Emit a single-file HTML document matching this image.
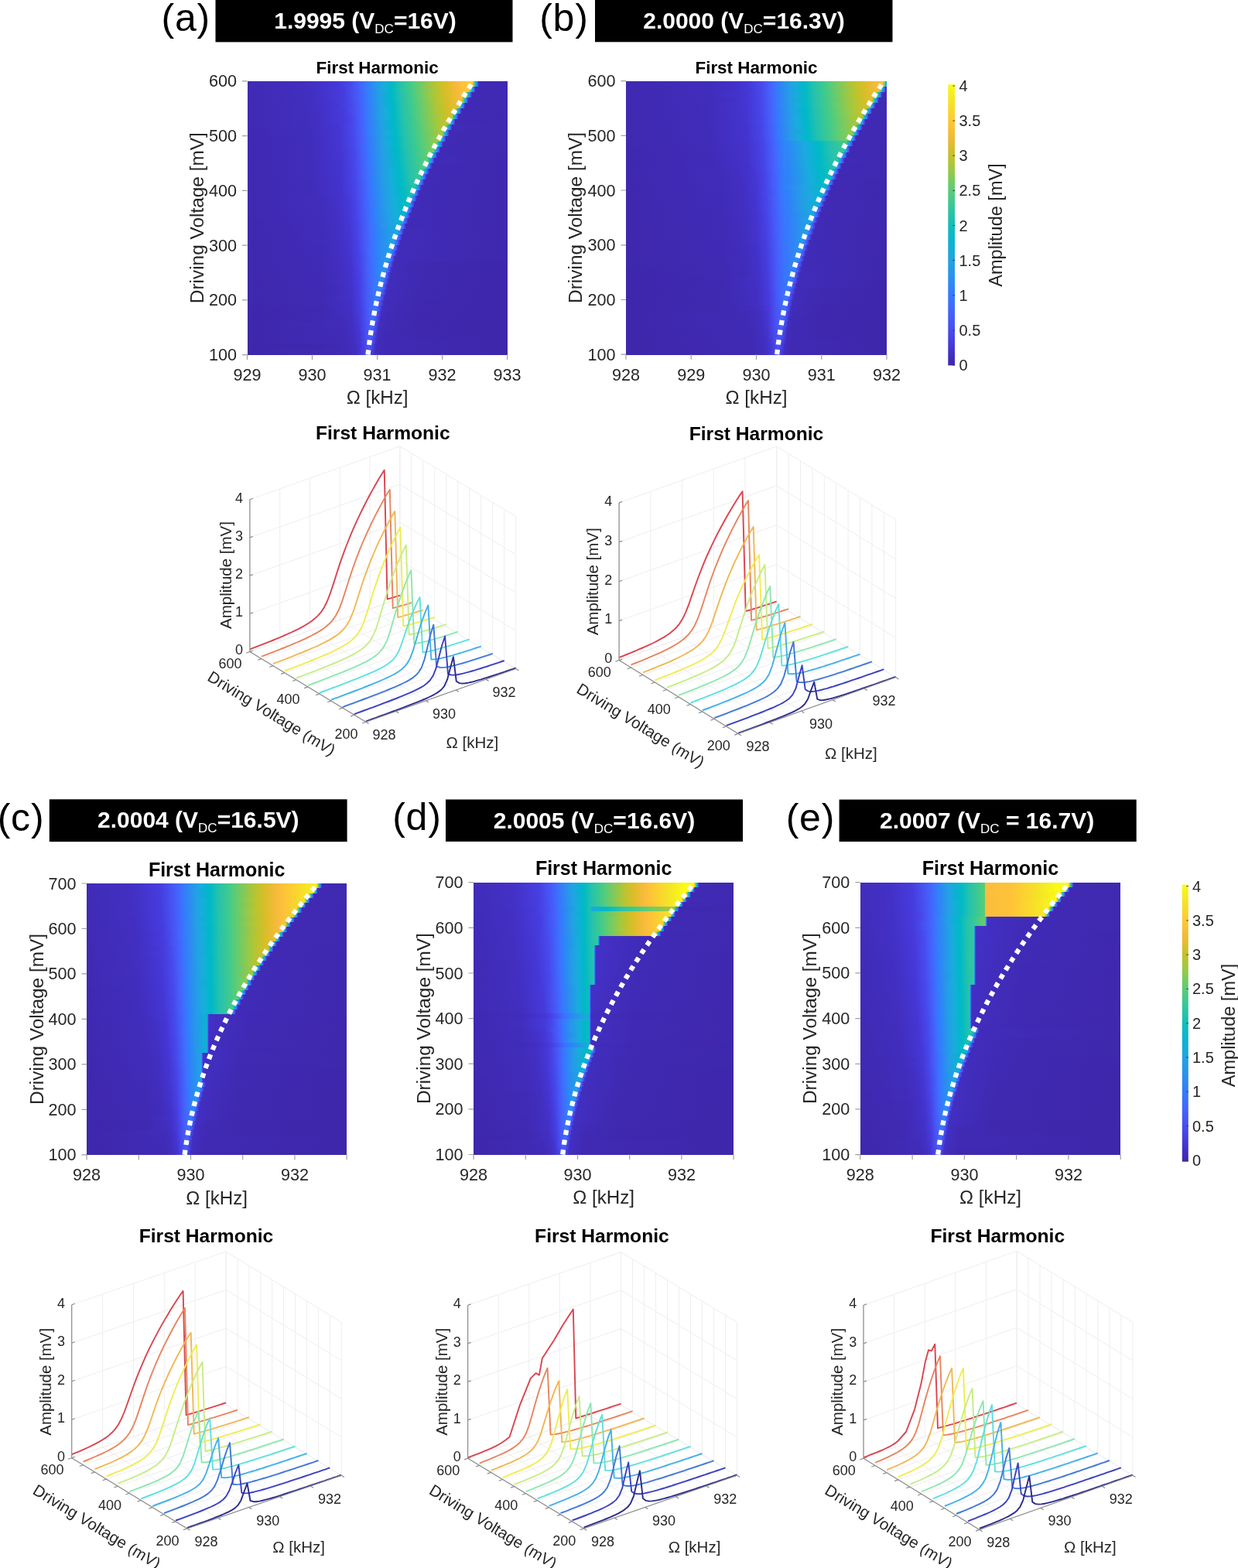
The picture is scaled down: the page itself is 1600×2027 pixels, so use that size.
<!DOCTYPE html><html><head><meta charset="utf-8"><title>First Harmonic</title><style>html,body{margin:0;padding:0;background:#fff;width:1600px;height:2027px;overflow:hidden}svg{display:block}</style></head><body><svg width="1600" height="2027" viewBox="0 0 1600 2027" font-family="'Liberation Sans', Arial, Helvetica, sans-serif" fill="#262626"><defs><linearGradient id="ha0"><stop offset="0.000" stop-color="#402ab4"/><stop offset="0.227" stop-color="#422ebf"/><stop offset="0.345" stop-color="#4537d6"/><stop offset="0.400" stop-color="#4849ed"/><stop offset="0.435" stop-color="#4563fd"/><stop offset="0.452" stop-color="#3974fe"/><stop offset="0.505" stop-color="#23a0e5"/><stop offset="0.528" stop-color="#17aeda"/><stop offset="0.550" stop-color="#01b8ca"/><stop offset="0.558" stop-color="#02bac4"/><stop offset="0.585" stop-color="#24c1ae"/><stop offset="0.623" stop-color="#3eca8f"/><stop offset="0.645" stop-color="#58cc79"/><stop offset="0.725" stop-color="#b9c431"/><stop offset="0.762" stop-color="#dbbd29"/><stop offset="0.803" stop-color="#f7ba3c"/><stop offset="0.820" stop-color="#febe3c"/><stop offset="0.865" stop-color="#fcd030"/><stop offset="0.868" stop-color="#f9ba3d"/><stop offset="0.870" stop-color="#c0c32d"/><stop offset="0.873" stop-color="#73cd63"/><stop offset="0.875" stop-color="#35c79b"/><stop offset="0.877" stop-color="#02bbc3"/><stop offset="0.880" stop-color="#1ea7e1"/><stop offset="0.885" stop-color="#406cfe"/><stop offset="0.887" stop-color="#484df0"/><stop offset="0.890" stop-color="#4330c5"/><stop offset="0.893" stop-color="#402ab5"/><stop offset="1.000" stop-color="#3f29b2"/></linearGradient><linearGradient id="ha1"><stop offset="0.000" stop-color="#402ab4"/><stop offset="0.245" stop-color="#422fc1"/><stop offset="0.368" stop-color="#463bde"/><stop offset="0.428" stop-color="#475cfa"/><stop offset="0.452" stop-color="#3a74fe"/><stop offset="0.465" stop-color="#3080fa"/><stop offset="0.507" stop-color="#22a1e4"/><stop offset="0.528" stop-color="#18addb"/><stop offset="0.550" stop-color="#02b7cb"/><stop offset="0.560" stop-color="#02bbc3"/><stop offset="0.588" stop-color="#25c2ae"/><stop offset="0.625" stop-color="#3fca8e"/><stop offset="0.645" stop-color="#55cc7c"/><stop offset="0.718" stop-color="#adc638"/><stop offset="0.752" stop-color="#d0bf27"/><stop offset="0.780" stop-color="#e6bb2d"/><stop offset="0.810" stop-color="#f9ba3d"/><stop offset="0.850" stop-color="#fec834"/><stop offset="0.852" stop-color="#fec239"/><stop offset="0.855" stop-color="#d5be28"/><stop offset="0.857" stop-color="#8fcb4e"/><stop offset="0.860" stop-color="#46cb88"/><stop offset="0.863" stop-color="#1bc0b4"/><stop offset="0.865" stop-color="#13b1d7"/><stop offset="0.870" stop-color="#327cfc"/><stop offset="0.873" stop-color="#475cfa"/><stop offset="0.875" stop-color="#463de0"/><stop offset="0.877" stop-color="#402ab5"/><stop offset="1.000" stop-color="#3f29b2"/></linearGradient><linearGradient id="ha2"><stop offset="0.000" stop-color="#402ab4"/><stop offset="0.245" stop-color="#422fc0"/><stop offset="0.368" stop-color="#463bdd"/><stop offset="0.430" stop-color="#465dfa"/><stop offset="0.455" stop-color="#3875fe"/><stop offset="0.510" stop-color="#22a2e4"/><stop offset="0.553" stop-color="#01b8ca"/><stop offset="0.560" stop-color="#02bac4"/><stop offset="0.588" stop-color="#23c1af"/><stop offset="0.627" stop-color="#3fca8e"/><stop offset="0.660" stop-color="#64cd6f"/><stop offset="0.708" stop-color="#9ec942"/><stop offset="0.740" stop-color="#c1c32c"/><stop offset="0.770" stop-color="#dbbd29"/><stop offset="0.812" stop-color="#f8ba3d"/><stop offset="0.838" stop-color="#fec239"/><stop offset="0.840" stop-color="#ecba32"/><stop offset="0.843" stop-color="#b0c636"/><stop offset="0.845" stop-color="#65cd6e"/><stop offset="0.847" stop-color="#30c5a1"/><stop offset="0.850" stop-color="#01b9c6"/><stop offset="0.852" stop-color="#1fa6e2"/><stop offset="0.857" stop-color="#3f6efe"/><stop offset="0.860" stop-color="#484ff2"/><stop offset="0.863" stop-color="#4433cd"/><stop offset="0.865" stop-color="#402ab5"/><stop offset="1.000" stop-color="#3f29b2"/></linearGradient><linearGradient id="ha3"><stop offset="0.000" stop-color="#402ab4"/><stop offset="0.248" stop-color="#422fc0"/><stop offset="0.368" stop-color="#463bdc"/><stop offset="0.430" stop-color="#475cfa"/><stop offset="0.455" stop-color="#3974fe"/><stop offset="0.510" stop-color="#22a1e4"/><stop offset="0.555" stop-color="#01b8ca"/><stop offset="0.562" stop-color="#02bac4"/><stop offset="0.590" stop-color="#24c1af"/><stop offset="0.630" stop-color="#3fca8e"/><stop offset="0.650" stop-color="#55cc7c"/><stop offset="0.722" stop-color="#acc739"/><stop offset="0.748" stop-color="#c5c22a"/><stop offset="0.775" stop-color="#dcbd29"/><stop offset="0.825" stop-color="#fbbc3d"/><stop offset="0.827" stop-color="#d1bf27"/><stop offset="0.830" stop-color="#8dcb4f"/><stop offset="0.833" stop-color="#47cb87"/><stop offset="0.835" stop-color="#1fc0b1"/><stop offset="0.838" stop-color="#0db3d4"/><stop offset="0.840" stop-color="#259de7"/><stop offset="0.843" stop-color="#2f82f9"/><stop offset="0.845" stop-color="#4563fd"/><stop offset="0.847" stop-color="#4746ea"/><stop offset="0.850" stop-color="#412dbc"/><stop offset="0.852" stop-color="#402ab5"/><stop offset="1.000" stop-color="#3f29b2"/></linearGradient><linearGradient id="ha4"><stop offset="0.000" stop-color="#402ab3"/><stop offset="0.235" stop-color="#422ebe"/><stop offset="0.350" stop-color="#4537d5"/><stop offset="0.405" stop-color="#484aed"/><stop offset="0.438" stop-color="#4562fc"/><stop offset="0.458" stop-color="#3876fe"/><stop offset="0.515" stop-color="#20a4e3"/><stop offset="0.555" stop-color="#02b7cb"/><stop offset="0.565" stop-color="#02bbc3"/><stop offset="0.593" stop-color="#24c1ae"/><stop offset="0.632" stop-color="#3fca8e"/><stop offset="0.653" stop-color="#55cc7c"/><stop offset="0.727" stop-color="#adc638"/><stop offset="0.765" stop-color="#d1bf27"/><stop offset="0.792" stop-color="#e6bb2d"/><stop offset="0.812" stop-color="#eeba34"/><stop offset="0.815" stop-color="#b6c532"/><stop offset="0.817" stop-color="#6fcd66"/><stop offset="0.820" stop-color="#36c899"/><stop offset="0.822" stop-color="#09bcbe"/><stop offset="0.825" stop-color="#19acdc"/><stop offset="0.830" stop-color="#347afd"/><stop offset="0.833" stop-color="#475cfa"/><stop offset="0.835" stop-color="#4740e3"/><stop offset="0.838" stop-color="#402ab5"/><stop offset="1.000" stop-color="#3f29b1"/></linearGradient><linearGradient id="ha5"><stop offset="0.000" stop-color="#402ab3"/><stop offset="0.250" stop-color="#422ec0"/><stop offset="0.370" stop-color="#463adc"/><stop offset="0.433" stop-color="#465dfa"/><stop offset="0.458" stop-color="#3975fe"/><stop offset="0.512" stop-color="#22a1e4"/><stop offset="0.532" stop-color="#19addc"/><stop offset="0.558" stop-color="#01b8ca"/><stop offset="0.565" stop-color="#02bac4"/><stop offset="0.595" stop-color="#24c2ae"/><stop offset="0.635" stop-color="#3fca8e"/><stop offset="0.655" stop-color="#55cc7c"/><stop offset="0.730" stop-color="#acc738"/><stop offset="0.768" stop-color="#d0bf27"/><stop offset="0.795" stop-color="#e5bb2d"/><stop offset="0.798" stop-color="#e7bb2e"/><stop offset="0.800" stop-color="#debd29"/><stop offset="0.803" stop-color="#a1c840"/><stop offset="0.805" stop-color="#5ccc76"/><stop offset="0.808" stop-color="#2ec5a3"/><stop offset="0.810" stop-color="#01b9c6"/><stop offset="0.812" stop-color="#1da8e0"/><stop offset="0.817" stop-color="#3975fe"/><stop offset="0.820" stop-color="#4758f8"/><stop offset="0.822" stop-color="#463cdf"/><stop offset="0.825" stop-color="#402ab5"/><stop offset="1.000" stop-color="#3f29b1"/></linearGradient><linearGradient id="ha6"><stop offset="0.000" stop-color="#402ab3"/><stop offset="0.252" stop-color="#422ebf"/><stop offset="0.370" stop-color="#463adb"/><stop offset="0.403" stop-color="#4747eb"/><stop offset="0.433" stop-color="#475cfa"/><stop offset="0.458" stop-color="#3a74fe"/><stop offset="0.512" stop-color="#23a1e5"/><stop offset="0.535" stop-color="#18aedb"/><stop offset="0.558" stop-color="#02b7cb"/><stop offset="0.567" stop-color="#02bac4"/><stop offset="0.597" stop-color="#25c2ae"/><stop offset="0.637" stop-color="#3fca8e"/><stop offset="0.657" stop-color="#55cc7c"/><stop offset="0.732" stop-color="#abc739"/><stop offset="0.760" stop-color="#c6c22a"/><stop offset="0.785" stop-color="#dbbd28"/><stop offset="0.787" stop-color="#d1bf27"/><stop offset="0.790" stop-color="#92ca4c"/><stop offset="0.792" stop-color="#4fcc80"/><stop offset="0.798" stop-color="#02b7cb"/><stop offset="0.800" stop-color="#20a5e2"/><stop offset="0.805" stop-color="#3b72fe"/><stop offset="0.808" stop-color="#4756f7"/><stop offset="0.810" stop-color="#463bde"/><stop offset="0.812" stop-color="#402ab5"/><stop offset="1.000" stop-color="#3f29b1"/></linearGradient><linearGradient id="ha7"><stop offset="0.000" stop-color="#402ab3"/><stop offset="0.252" stop-color="#422ebf"/><stop offset="0.370" stop-color="#463ada"/><stop offset="0.403" stop-color="#4746ea"/><stop offset="0.435" stop-color="#465dfb"/><stop offset="0.460" stop-color="#3876fe"/><stop offset="0.518" stop-color="#21a3e3"/><stop offset="0.560" stop-color="#02b7cb"/><stop offset="0.570" stop-color="#02bac3"/><stop offset="0.597" stop-color="#23c1af"/><stop offset="0.640" stop-color="#3fca8e"/><stop offset="0.673" stop-color="#62cd70"/><stop offset="0.735" stop-color="#aac73a"/><stop offset="0.773" stop-color="#cdc028"/><stop offset="0.775" stop-color="#c7c12a"/><stop offset="0.778" stop-color="#88cb53"/><stop offset="0.780" stop-color="#48cb86"/><stop offset="0.785" stop-color="#04b6cd"/><stop offset="0.787" stop-color="#20a4e3"/><stop offset="0.792" stop-color="#3b73fe"/><stop offset="0.795" stop-color="#4757f7"/><stop offset="0.798" stop-color="#463de0"/><stop offset="0.800" stop-color="#402ab5"/><stop offset="1.000" stop-color="#3f29b1"/></linearGradient><linearGradient id="ha8"><stop offset="0.000" stop-color="#402ab3"/><stop offset="0.240" stop-color="#412ebd"/><stop offset="0.355" stop-color="#4536d4"/><stop offset="0.407" stop-color="#4848ec"/><stop offset="0.442" stop-color="#4563fd"/><stop offset="0.460" stop-color="#3975fe"/><stop offset="0.515" stop-color="#23a0e5"/><stop offset="0.570" stop-color="#02bac5"/><stop offset="0.600" stop-color="#23c1af"/><stop offset="0.643" stop-color="#3fca8e"/><stop offset="0.670" stop-color="#5ccc76"/><stop offset="0.727" stop-color="#9ec942"/><stop offset="0.762" stop-color="#c1c32c"/><stop offset="0.765" stop-color="#86cb54"/><stop offset="0.768" stop-color="#48cb86"/><stop offset="0.773" stop-color="#03b7cc"/><stop offset="0.775" stop-color="#1fa6e2"/><stop offset="0.780" stop-color="#3876fe"/><stop offset="0.782" stop-color="#475bf9"/><stop offset="0.785" stop-color="#4741e5"/><stop offset="0.787" stop-color="#412cb9"/><stop offset="1.000" stop-color="#3f29b0"/></linearGradient><linearGradient id="ha9"><stop offset="0.000" stop-color="#4029b2"/><stop offset="0.243" stop-color="#412dbd"/><stop offset="0.357" stop-color="#4536d4"/><stop offset="0.407" stop-color="#4848ec"/><stop offset="0.442" stop-color="#4563fc"/><stop offset="0.460" stop-color="#3a74fe"/><stop offset="0.475" stop-color="#2f82fa"/><stop offset="0.518" stop-color="#22a1e4"/><stop offset="0.540" stop-color="#18aedb"/><stop offset="0.565" stop-color="#01b8ca"/><stop offset="0.572" stop-color="#02bac4"/><stop offset="0.602" stop-color="#24c1af"/><stop offset="0.645" stop-color="#3fca8e"/><stop offset="0.667" stop-color="#56cc7b"/><stop offset="0.750" stop-color="#b1c635"/><stop offset="0.752" stop-color="#88cb53"/><stop offset="0.755" stop-color="#4bcb84"/><stop offset="0.760" stop-color="#01b8c9"/><stop offset="0.762" stop-color="#1da8e0"/><stop offset="0.768" stop-color="#337bfc"/><stop offset="0.770" stop-color="#4660fc"/><stop offset="0.773" stop-color="#4747eb"/><stop offset="0.775" stop-color="#4331c6"/><stop offset="0.778" stop-color="#402bb6"/><stop offset="1.000" stop-color="#3f29b0"/></linearGradient><linearGradient id="ha10"><stop offset="0.000" stop-color="#3f29b2"/><stop offset="0.243" stop-color="#412dbd"/><stop offset="0.357" stop-color="#4536d3"/><stop offset="0.410" stop-color="#4848ec"/><stop offset="0.442" stop-color="#4562fc"/><stop offset="0.463" stop-color="#3875fe"/><stop offset="0.520" stop-color="#22a2e4"/><stop offset="0.565" stop-color="#02b7cb"/><stop offset="0.575" stop-color="#02bac4"/><stop offset="0.605" stop-color="#24c1af"/><stop offset="0.648" stop-color="#3fca8e"/><stop offset="0.685" stop-color="#66cd6d"/><stop offset="0.738" stop-color="#a0c840"/><stop offset="0.740" stop-color="#8ecb4f"/><stop offset="0.743" stop-color="#52cc7e"/><stop offset="0.748" stop-color="#02bac3"/><stop offset="0.750" stop-color="#1aacdd"/><stop offset="0.755" stop-color="#2f82fa"/><stop offset="0.757" stop-color="#4368fd"/><stop offset="0.760" stop-color="#484ff2"/><stop offset="0.762" stop-color="#4537d6"/><stop offset="0.765" stop-color="#402bb6"/><stop offset="1.000" stop-color="#3f29b0"/></linearGradient><linearGradient id="ha11"><stop offset="0.000" stop-color="#3f29b2"/><stop offset="0.243" stop-color="#412dbc"/><stop offset="0.357" stop-color="#4536d3"/><stop offset="0.410" stop-color="#4848ec"/><stop offset="0.445" stop-color="#4563fd"/><stop offset="0.463" stop-color="#3974fe"/><stop offset="0.520" stop-color="#23a1e4"/><stop offset="0.542" stop-color="#18addb"/><stop offset="0.567" stop-color="#02b7cb"/><stop offset="0.577" stop-color="#02bac4"/><stop offset="0.607" stop-color="#24c1ae"/><stop offset="0.650" stop-color="#3eca8f"/><stop offset="0.688" stop-color="#65cd6e"/><stop offset="0.727" stop-color="#92ca4c"/><stop offset="0.730" stop-color="#5ecd74"/><stop offset="0.735" stop-color="#0ebdbb"/><stop offset="0.738" stop-color="#12b1d6"/><stop offset="0.745" stop-color="#3c71ff"/><stop offset="0.748" stop-color="#4759f8"/><stop offset="0.750" stop-color="#4741e5"/><stop offset="0.752" stop-color="#412dbd"/><stop offset="0.755" stop-color="#402bb6"/><stop offset="1.000" stop-color="#3f29b0"/></linearGradient><linearGradient id="ha12"><stop offset="0.000" stop-color="#3f29b2"/><stop offset="0.245" stop-color="#412dbc"/><stop offset="0.360" stop-color="#4536d3"/><stop offset="0.410" stop-color="#4747eb"/><stop offset="0.445" stop-color="#4562fc"/><stop offset="0.465" stop-color="#3876fe"/><stop offset="0.525" stop-color="#21a3e3"/><stop offset="0.570" stop-color="#01b7ca"/><stop offset="0.580" stop-color="#02bac3"/><stop offset="0.610" stop-color="#24c1ae"/><stop offset="0.653" stop-color="#3eca8f"/><stop offset="0.690" stop-color="#64cd6f"/><stop offset="0.715" stop-color="#80cc5a"/><stop offset="0.718" stop-color="#6dcd67"/><stop offset="0.720" stop-color="#3cc992"/><stop offset="0.725" stop-color="#05b6cd"/><stop offset="0.727" stop-color="#1fa6e1"/><stop offset="0.732" stop-color="#317dfc"/><stop offset="0.735" stop-color="#4464fd"/><stop offset="0.738" stop-color="#484df0"/><stop offset="0.740" stop-color="#4537d5"/><stop offset="0.743" stop-color="#402bb6"/><stop offset="1.000" stop-color="#3f29b0"/></linearGradient><linearGradient id="ha13"><stop offset="0.000" stop-color="#3f29b2"/><stop offset="0.245" stop-color="#412dbc"/><stop offset="0.360" stop-color="#4535d2"/><stop offset="0.410" stop-color="#4746ea"/><stop offset="0.445" stop-color="#4561fc"/><stop offset="0.465" stop-color="#3975fe"/><stop offset="0.525" stop-color="#22a2e4"/><stop offset="0.572" stop-color="#01b8ca"/><stop offset="0.583" stop-color="#02bbc3"/><stop offset="0.613" stop-color="#24c1ae"/><stop offset="0.657" stop-color="#3fca8e"/><stop offset="0.695" stop-color="#65cd6e"/><stop offset="0.705" stop-color="#70cd65"/><stop offset="0.710" stop-color="#2dc4a5"/><stop offset="0.713" stop-color="#04bbc1"/><stop offset="0.715" stop-color="#16afda"/><stop offset="0.722" stop-color="#3c72ff"/><stop offset="0.725" stop-color="#475af9"/><stop offset="0.727" stop-color="#4744e8"/><stop offset="0.730" stop-color="#4330c5"/><stop offset="0.732" stop-color="#402bb6"/><stop offset="1.000" stop-color="#3f29af"/></linearGradient><linearGradient id="ha14"><stop offset="0.000" stop-color="#3f29b1"/><stop offset="0.245" stop-color="#412dbb"/><stop offset="0.360" stop-color="#4435d1"/><stop offset="0.410" stop-color="#4745ea"/><stop offset="0.442" stop-color="#465efb"/><stop offset="0.465" stop-color="#3a73fe"/><stop offset="0.480" stop-color="#2f81fa"/><stop offset="0.523" stop-color="#23a0e5"/><stop offset="0.583" stop-color="#02bac5"/><stop offset="0.615" stop-color="#24c1af"/><stop offset="0.660" stop-color="#3fca8e"/><stop offset="0.695" stop-color="#61cd71"/><stop offset="0.697" stop-color="#38c895"/><stop offset="0.702" stop-color="#05b6cd"/><stop offset="0.705" stop-color="#1ea7e1"/><stop offset="0.710" stop-color="#2f81fa"/><stop offset="0.713" stop-color="#4269fe"/><stop offset="0.715" stop-color="#4853f5"/><stop offset="0.718" stop-color="#463de0"/><stop offset="0.720" stop-color="#412cb9"/><stop offset="1.000" stop-color="#3f28af"/></linearGradient><linearGradient id="ha15"><stop offset="0.000" stop-color="#3f29b1"/><stop offset="0.250" stop-color="#412dbc"/><stop offset="0.363" stop-color="#4435d1"/><stop offset="0.412" stop-color="#4746ea"/><stop offset="0.447" stop-color="#4562fc"/><stop offset="0.468" stop-color="#3975fe"/><stop offset="0.525" stop-color="#23a0e5"/><stop offset="0.585" stop-color="#02bac4"/><stop offset="0.618" stop-color="#24c1af"/><stop offset="0.683" stop-color="#51cc7f"/><stop offset="0.685" stop-color="#4bcb83"/><stop offset="0.690" stop-color="#08bcbf"/><stop offset="0.692" stop-color="#12b1d7"/><stop offset="0.695" stop-color="#23a1e4"/><stop offset="0.700" stop-color="#347afd"/><stop offset="0.702" stop-color="#4563fd"/><stop offset="0.705" stop-color="#484ef1"/><stop offset="0.708" stop-color="#4639da"/><stop offset="0.710" stop-color="#402bb6"/><stop offset="1.000" stop-color="#3f28af"/></linearGradient><linearGradient id="ha16"><stop offset="0.000" stop-color="#3f29b1"/><stop offset="0.250" stop-color="#412dbb"/><stop offset="0.363" stop-color="#4435d0"/><stop offset="0.412" stop-color="#4745e9"/><stop offset="0.445" stop-color="#465ffb"/><stop offset="0.468" stop-color="#3a74fe"/><stop offset="0.520" stop-color="#259ce7"/><stop offset="0.553" stop-color="#17aedb"/><stop offset="0.580" stop-color="#01b8c9"/><stop offset="0.590" stop-color="#03bbc3"/><stop offset="0.623" stop-color="#25c2ad"/><stop offset="0.673" stop-color="#44ca8a"/><stop offset="0.675" stop-color="#3dc991"/><stop offset="0.678" stop-color="#25c2ae"/><stop offset="0.680" stop-color="#01b9c7"/><stop offset="0.683" stop-color="#19addc"/><stop offset="0.690" stop-color="#3875fe"/><stop offset="0.692" stop-color="#4660fb"/><stop offset="0.695" stop-color="#484bef"/><stop offset="0.700" stop-color="#402bb7"/><stop offset="1.000" stop-color="#3f28af"/></linearGradient><linearGradient id="ha17"><stop offset="0.000" stop-color="#3f29b1"/><stop offset="0.250" stop-color="#412dbb"/><stop offset="0.363" stop-color="#4434d0"/><stop offset="0.412" stop-color="#4745e9"/><stop offset="0.445" stop-color="#465efb"/><stop offset="0.465" stop-color="#3d70ff"/><stop offset="0.482" stop-color="#3080fa"/><stop offset="0.520" stop-color="#259be7"/><stop offset="0.553" stop-color="#19addc"/><stop offset="0.583" stop-color="#01b8c9"/><stop offset="0.593" stop-color="#03bbc3"/><stop offset="0.625" stop-color="#25c2ae"/><stop offset="0.662" stop-color="#3ac994"/><stop offset="0.665" stop-color="#35c79a"/><stop offset="0.670" stop-color="#03b7cc"/><stop offset="0.673" stop-color="#1caadf"/><stop offset="0.680" stop-color="#3b73fe"/><stop offset="0.683" stop-color="#465efb"/><stop offset="0.685" stop-color="#484aee"/><stop offset="0.690" stop-color="#402bb7"/><stop offset="1.000" stop-color="#3f28af"/></linearGradient><linearGradient id="ha18"><stop offset="0.000" stop-color="#3f29b1"/><stop offset="0.250" stop-color="#412cba"/><stop offset="0.363" stop-color="#4434cf"/><stop offset="0.412" stop-color="#4744e8"/><stop offset="0.465" stop-color="#3e6fff"/><stop offset="0.485" stop-color="#2f81fa"/><stop offset="0.520" stop-color="#269ae8"/><stop offset="0.555" stop-color="#18addb"/><stop offset="0.585" stop-color="#01b8c9"/><stop offset="0.595" stop-color="#02bbc3"/><stop offset="0.627" stop-color="#24c2ae"/><stop offset="0.653" stop-color="#33c69e"/><stop offset="0.655" stop-color="#31c6a0"/><stop offset="0.657" stop-color="#12beb9"/><stop offset="0.660" stop-color="#07b5cf"/><stop offset="0.662" stop-color="#1da8e0"/><stop offset="0.670" stop-color="#3b73fe"/><stop offset="0.675" stop-color="#484bef"/><stop offset="0.678" stop-color="#4538d8"/><stop offset="0.680" stop-color="#402bb7"/><stop offset="1.000" stop-color="#3f28ae"/></linearGradient><linearGradient id="ha19"><stop offset="0.000" stop-color="#3f29b0"/><stop offset="0.250" stop-color="#412cba"/><stop offset="0.363" stop-color="#4434ce"/><stop offset="0.412" stop-color="#4743e7"/><stop offset="0.447" stop-color="#465efb"/><stop offset="0.468" stop-color="#3d70ff"/><stop offset="0.485" stop-color="#2f80fa"/><stop offset="0.523" stop-color="#259be8"/><stop offset="0.558" stop-color="#18addb"/><stop offset="0.588" stop-color="#01b8c9"/><stop offset="0.597" stop-color="#02bbc3"/><stop offset="0.645" stop-color="#2dc4a5"/><stop offset="0.648" stop-color="#10beba"/><stop offset="0.650" stop-color="#07b5d0"/><stop offset="0.653" stop-color="#1da8e0"/><stop offset="0.660" stop-color="#3974fe"/><stop offset="0.662" stop-color="#4661fc"/><stop offset="0.665" stop-color="#484ef1"/><stop offset="0.667" stop-color="#463bdd"/><stop offset="0.670" stop-color="#412dbb"/><stop offset="0.673" stop-color="#402bb7"/><stop offset="1.000" stop-color="#3f28ae"/></linearGradient><linearGradient id="ha20"><stop offset="0.000" stop-color="#3f29b0"/><stop offset="0.252" stop-color="#412cba"/><stop offset="0.365" stop-color="#4434ce"/><stop offset="0.412" stop-color="#4742e6"/><stop offset="0.447" stop-color="#465dfa"/><stop offset="0.468" stop-color="#3e6fff"/><stop offset="0.488" stop-color="#2f81fa"/><stop offset="0.525" stop-color="#259be7"/><stop offset="0.560" stop-color="#18addb"/><stop offset="0.590" stop-color="#01b8c9"/><stop offset="0.600" stop-color="#02bbc3"/><stop offset="0.635" stop-color="#25c2ad"/><stop offset="0.637" stop-color="#0ebdbb"/><stop offset="0.640" stop-color="#07b5d0"/><stop offset="0.643" stop-color="#1da9e0"/><stop offset="0.650" stop-color="#3677fe"/><stop offset="0.653" stop-color="#4564fd"/><stop offset="0.655" stop-color="#4852f4"/><stop offset="0.657" stop-color="#4740e3"/><stop offset="0.660" stop-color="#4330c5"/><stop offset="0.662" stop-color="#402bb7"/><stop offset="1.000" stop-color="#3f28ae"/></linearGradient><linearGradient id="ha21"><stop offset="0.000" stop-color="#3f29b0"/><stop offset="0.273" stop-color="#412dbb"/><stop offset="0.338" stop-color="#4330c5"/><stop offset="0.385" stop-color="#4537d6"/><stop offset="0.415" stop-color="#4743e7"/><stop offset="0.445" stop-color="#475af9"/><stop offset="0.475" stop-color="#3975fe"/><stop offset="0.528" stop-color="#259ce7"/><stop offset="0.562" stop-color="#18aedb"/><stop offset="0.593" stop-color="#01b8ca"/><stop offset="0.602" stop-color="#02bac3"/><stop offset="0.625" stop-color="#18bfb6"/><stop offset="0.627" stop-color="#0fbeba"/><stop offset="0.630" stop-color="#06b5cf"/><stop offset="0.632" stop-color="#1caadf"/><stop offset="0.640" stop-color="#327bfc"/><stop offset="0.643" stop-color="#4369fe"/><stop offset="0.648" stop-color="#4745ea"/><stop offset="0.653" stop-color="#402bb7"/><stop offset="1.000" stop-color="#3f28ae"/></linearGradient><linearGradient id="ha22"><stop offset="0.000" stop-color="#3f29b0"/><stop offset="0.275" stop-color="#412dbb"/><stop offset="0.340" stop-color="#4330c5"/><stop offset="0.387" stop-color="#4537d6"/><stop offset="0.417" stop-color="#4743e8"/><stop offset="0.450" stop-color="#465dfb"/><stop offset="0.477" stop-color="#3876fe"/><stop offset="0.530" stop-color="#259ce7"/><stop offset="0.565" stop-color="#18aedb"/><stop offset="0.595" stop-color="#01b8ca"/><stop offset="0.618" stop-color="#0cbdbc"/><stop offset="0.620" stop-color="#02b7cb"/><stop offset="0.623" stop-color="#19addc"/><stop offset="0.630" stop-color="#2f81fa"/><stop offset="0.632" stop-color="#3e6fff"/><stop offset="0.637" stop-color="#484df0"/><stop offset="0.640" stop-color="#463cde"/><stop offset="0.643" stop-color="#422ec0"/><stop offset="0.645" stop-color="#402bb7"/><stop offset="1.000" stop-color="#3f28ae"/></linearGradient><linearGradient id="ha23"><stop offset="0.000" stop-color="#3f29b0"/><stop offset="0.278" stop-color="#412cbb"/><stop offset="0.343" stop-color="#4330c5"/><stop offset="0.387" stop-color="#4537d5"/><stop offset="0.415" stop-color="#4741e5"/><stop offset="0.445" stop-color="#4758f8"/><stop offset="0.477" stop-color="#3974fe"/><stop offset="0.493" stop-color="#2f82fa"/><stop offset="0.540" stop-color="#23a1e5"/><stop offset="0.567" stop-color="#18aedb"/><stop offset="0.597" stop-color="#01b8ca"/><stop offset="0.607" stop-color="#02bac4"/><stop offset="0.610" stop-color="#01b9c8"/><stop offset="0.613" stop-color="#15afd9"/><stop offset="0.623" stop-color="#3876fe"/><stop offset="0.625" stop-color="#4465fd"/><stop offset="0.630" stop-color="#4744e8"/><stop offset="0.635" stop-color="#402bb8"/><stop offset="1.000" stop-color="#3f28ae"/></linearGradient><linearGradient id="ha24"><stop offset="0.000" stop-color="#3f29af"/><stop offset="0.280" stop-color="#412cba"/><stop offset="0.345" stop-color="#4330c5"/><stop offset="0.390" stop-color="#4537d5"/><stop offset="0.417" stop-color="#4742e6"/><stop offset="0.447" stop-color="#4759f8"/><stop offset="0.477" stop-color="#3a73fe"/><stop offset="0.493" stop-color="#2f81fa"/><stop offset="0.532" stop-color="#259be7"/><stop offset="0.570" stop-color="#18aedb"/><stop offset="0.600" stop-color="#02b7cb"/><stop offset="0.605" stop-color="#1da8e0"/><stop offset="0.613" stop-color="#317efb"/><stop offset="0.615" stop-color="#3f6dfe"/><stop offset="0.620" stop-color="#484ef1"/><stop offset="0.623" stop-color="#463ee1"/><stop offset="0.625" stop-color="#4331c7"/><stop offset="0.627" stop-color="#402bb8"/><stop offset="1.000" stop-color="#3f28ad"/></linearGradient><linearGradient id="ha25"><stop offset="0.000" stop-color="#3f28af"/><stop offset="0.282" stop-color="#412cba"/><stop offset="0.347" stop-color="#4330c4"/><stop offset="0.393" stop-color="#4537d5"/><stop offset="0.425" stop-color="#4746ea"/><stop offset="0.475" stop-color="#3d70ff"/><stop offset="0.495" stop-color="#2f82fa"/><stop offset="0.528" stop-color="#2797ea"/><stop offset="0.572" stop-color="#18addb"/><stop offset="0.593" stop-color="#08b4d1"/><stop offset="0.597" stop-color="#22a1e4"/><stop offset="0.602" stop-color="#2e86f7"/><stop offset="0.607" stop-color="#4367fd"/><stop offset="0.613" stop-color="#4849ed"/><stop offset="0.615" stop-color="#463adb"/><stop offset="0.618" stop-color="#422ebf"/><stop offset="0.620" stop-color="#402bb8"/><stop offset="1.000" stop-color="#3f28ad"/></linearGradient><linearGradient id="ha26"><stop offset="0.000" stop-color="#3f28af"/><stop offset="0.282" stop-color="#412cba"/><stop offset="0.347" stop-color="#4230c4"/><stop offset="0.393" stop-color="#4536d4"/><stop offset="0.425" stop-color="#4745e9"/><stop offset="0.475" stop-color="#3f6fff"/><stop offset="0.495" stop-color="#2f80fa"/><stop offset="0.525" stop-color="#2995ec"/><stop offset="0.585" stop-color="#12b1d6"/><stop offset="0.595" stop-color="#2f81fa"/><stop offset="0.600" stop-color="#4562fc"/><stop offset="0.605" stop-color="#4745e9"/><stop offset="0.610" stop-color="#412cba"/><stop offset="0.613" stop-color="#402bb8"/><stop offset="1.000" stop-color="#3f28ad"/></linearGradient><linearGradient id="ha27"><stop offset="0.000" stop-color="#3f28af"/><stop offset="0.285" stop-color="#412cb9"/><stop offset="0.350" stop-color="#4230c3"/><stop offset="0.395" stop-color="#4536d5"/><stop offset="0.420" stop-color="#4741e4"/><stop offset="0.450" stop-color="#4759f8"/><stop offset="0.477" stop-color="#3e70ff"/><stop offset="0.498" stop-color="#2f81fa"/><stop offset="0.577" stop-color="#18addb"/><stop offset="0.588" stop-color="#317dfc"/><stop offset="0.593" stop-color="#465ffb"/><stop offset="0.597" stop-color="#4743e7"/><stop offset="0.602" stop-color="#412cb9"/><stop offset="1.000" stop-color="#3f28ad"/></linearGradient><linearGradient id="ha28"><stop offset="0.000" stop-color="#3f28af"/><stop offset="0.285" stop-color="#412cb9"/><stop offset="0.350" stop-color="#422fc3"/><stop offset="0.395" stop-color="#4536d3"/><stop offset="0.425" stop-color="#4743e7"/><stop offset="0.455" stop-color="#475cfa"/><stop offset="0.477" stop-color="#3e6fff"/><stop offset="0.498" stop-color="#2f81fa"/><stop offset="0.570" stop-color="#1baade"/><stop offset="0.580" stop-color="#337bfd"/><stop offset="0.585" stop-color="#465efb"/><stop offset="0.590" stop-color="#4743e7"/><stop offset="0.595" stop-color="#412cba"/><stop offset="1.000" stop-color="#3f28ad"/></linearGradient><linearGradient id="ha29"><stop offset="0.000" stop-color="#3f28ae"/><stop offset="0.285" stop-color="#412cb8"/><stop offset="0.350" stop-color="#422fc2"/><stop offset="0.395" stop-color="#4535d2"/><stop offset="0.425" stop-color="#4742e6"/><stop offset="0.452" stop-color="#4759f9"/><stop offset="0.477" stop-color="#3e6fff"/><stop offset="0.498" stop-color="#2f81fa"/><stop offset="0.562" stop-color="#1ea7e1"/><stop offset="0.572" stop-color="#347afd"/><stop offset="0.577" stop-color="#465efb"/><stop offset="0.583" stop-color="#4744e8"/><stop offset="0.588" stop-color="#412dbd"/><stop offset="0.590" stop-color="#412cb9"/><stop offset="1.000" stop-color="#3e28ad"/></linearGradient><linearGradient id="ha30"><stop offset="0.000" stop-color="#3f28ae"/><stop offset="0.285" stop-color="#402bb8"/><stop offset="0.350" stop-color="#422fc1"/><stop offset="0.395" stop-color="#4435d1"/><stop offset="0.425" stop-color="#4741e5"/><stop offset="0.452" stop-color="#4759f8"/><stop offset="0.477" stop-color="#3f6eff"/><stop offset="0.498" stop-color="#2f80fa"/><stop offset="0.555" stop-color="#21a3e3"/><stop offset="0.565" stop-color="#347afd"/><stop offset="0.570" stop-color="#465ffb"/><stop offset="0.575" stop-color="#4746ea"/><stop offset="0.580" stop-color="#4230c3"/><stop offset="0.583" stop-color="#412cb9"/><stop offset="1.000" stop-color="#3e28ac"/></linearGradient><linearGradient id="ha31"><stop offset="0.000" stop-color="#3f28ae"/><stop offset="0.287" stop-color="#402bb8"/><stop offset="0.350" stop-color="#422fc0"/><stop offset="0.395" stop-color="#4434d0"/><stop offset="0.425" stop-color="#4740e4"/><stop offset="0.472" stop-color="#426afe"/><stop offset="0.498" stop-color="#3080fa"/><stop offset="0.548" stop-color="#249fe5"/><stop offset="0.550" stop-color="#259ce7"/><stop offset="0.558" stop-color="#337afd"/><stop offset="0.562" stop-color="#4661fc"/><stop offset="0.567" stop-color="#4848ec"/><stop offset="0.575" stop-color="#412cba"/><stop offset="1.000" stop-color="#3e28ac"/></linearGradient><linearGradient id="ha32"><stop offset="0.000" stop-color="#3f28ae"/><stop offset="0.290" stop-color="#402bb7"/><stop offset="0.352" stop-color="#422fc0"/><stop offset="0.398" stop-color="#4435d0"/><stop offset="0.428" stop-color="#4741e5"/><stop offset="0.472" stop-color="#4269fe"/><stop offset="0.500" stop-color="#2f81fa"/><stop offset="0.542" stop-color="#259ce7"/><stop offset="0.550" stop-color="#317dfc"/><stop offset="0.555" stop-color="#4564fd"/><stop offset="0.560" stop-color="#484cf0"/><stop offset="0.562" stop-color="#4741e4"/><stop offset="0.567" stop-color="#412dbc"/><stop offset="0.570" stop-color="#412cba"/><stop offset="1.000" stop-color="#3e28ac"/></linearGradient><linearGradient id="ha33"><stop offset="0.000" stop-color="#3f28ae"/><stop offset="0.290" stop-color="#402bb7"/><stop offset="0.355" stop-color="#422ec0"/><stop offset="0.398" stop-color="#4434cf"/><stop offset="0.428" stop-color="#4740e4"/><stop offset="0.468" stop-color="#4464fd"/><stop offset="0.500" stop-color="#2f81fa"/><stop offset="0.535" stop-color="#2798ea"/><stop offset="0.542" stop-color="#307ffb"/><stop offset="0.545" stop-color="#3b73fe"/><stop offset="0.550" stop-color="#475cfa"/><stop offset="0.555" stop-color="#4745e9"/><stop offset="0.562" stop-color="#412cba"/><stop offset="0.702" stop-color="#3f29b0"/><stop offset="1.000" stop-color="#3e27ac"/></linearGradient><linearGradient id="ha34"><stop offset="0.000" stop-color="#3f28ad"/><stop offset="0.290" stop-color="#402bb6"/><stop offset="0.355" stop-color="#422ebf"/><stop offset="0.398" stop-color="#4433cd"/><stop offset="0.428" stop-color="#473fe3"/><stop offset="0.468" stop-color="#4564fd"/><stop offset="0.500" stop-color="#2f81fa"/><stop offset="0.530" stop-color="#2994ed"/><stop offset="0.537" stop-color="#3677fe"/><stop offset="0.542" stop-color="#4660fc"/><stop offset="0.548" stop-color="#484bee"/><stop offset="0.550" stop-color="#4740e3"/><stop offset="0.555" stop-color="#422ebe"/><stop offset="0.558" stop-color="#412cba"/><stop offset="0.695" stop-color="#3f29b0"/><stop offset="1.000" stop-color="#3e27ac"/></linearGradient><linearGradient id="ha35"><stop offset="0.000" stop-color="#3f28ad"/><stop offset="0.290" stop-color="#402bb6"/><stop offset="0.355" stop-color="#412ebe"/><stop offset="0.398" stop-color="#4433cc"/><stop offset="0.428" stop-color="#473ee2"/><stop offset="0.468" stop-color="#4563fc"/><stop offset="0.500" stop-color="#3080fa"/><stop offset="0.523" stop-color="#2c8ff0"/><stop offset="0.528" stop-color="#2e85f8"/><stop offset="0.532" stop-color="#3e6fff"/><stop offset="0.537" stop-color="#475af9"/><stop offset="0.545" stop-color="#463cde"/><stop offset="0.550" stop-color="#412dbb"/><stop offset="0.688" stop-color="#3f29b0"/><stop offset="1.000" stop-color="#3e27ac"/></linearGradient><linearGradient id="ha36"><stop offset="0.000" stop-color="#3f28ad"/><stop offset="0.292" stop-color="#402ab6"/><stop offset="0.398" stop-color="#4332cb"/><stop offset="0.428" stop-color="#463de0"/><stop offset="0.463" stop-color="#465efb"/><stop offset="0.488" stop-color="#3975fe"/><stop offset="0.518" stop-color="#2d8cf3"/><stop offset="0.525" stop-color="#3975fe"/><stop offset="0.532" stop-color="#4756f7"/><stop offset="0.537" stop-color="#4743e7"/><stop offset="0.545" stop-color="#412dbb"/><stop offset="0.683" stop-color="#3f29b0"/><stop offset="1.000" stop-color="#3e27ac"/></linearGradient><linearGradient id="ha37"><stop offset="0.000" stop-color="#3f28ad"/><stop offset="0.295" stop-color="#402ab5"/><stop offset="0.357" stop-color="#412dbd"/><stop offset="0.400" stop-color="#4332cb"/><stop offset="0.428" stop-color="#463cdf"/><stop offset="0.463" stop-color="#465dfa"/><stop offset="0.488" stop-color="#3a74fe"/><stop offset="0.512" stop-color="#2d88f6"/><stop offset="0.520" stop-color="#3d70ff"/><stop offset="0.528" stop-color="#4853f5"/><stop offset="0.532" stop-color="#4740e4"/><stop offset="0.540" stop-color="#412dbb"/><stop offset="0.675" stop-color="#3f29b0"/><stop offset="1.000" stop-color="#3e27ab"/></linearGradient><linearGradient id="ha38"><stop offset="0.000" stop-color="#3f28ad"/><stop offset="0.287" stop-color="#402ab4"/><stop offset="0.355" stop-color="#412dbc"/><stop offset="0.400" stop-color="#4332c9"/><stop offset="0.428" stop-color="#463cde"/><stop offset="0.463" stop-color="#475cfa"/><stop offset="0.485" stop-color="#3d71ff"/><stop offset="0.507" stop-color="#2e84f9"/><stop offset="0.515" stop-color="#406cfe"/><stop offset="0.523" stop-color="#4851f3"/><stop offset="0.528" stop-color="#473fe3"/><stop offset="0.535" stop-color="#412dbb"/><stop offset="0.667" stop-color="#3f29b0"/><stop offset="1.000" stop-color="#3e27ab"/></linearGradient><linearGradient id="ha39"><stop offset="0.000" stop-color="#3e28ac"/><stop offset="0.287" stop-color="#402ab4"/><stop offset="0.400" stop-color="#4331c8"/><stop offset="0.430" stop-color="#463cdf"/><stop offset="0.460" stop-color="#4759f8"/><stop offset="0.502" stop-color="#307ffb"/><stop offset="0.510" stop-color="#4269fe"/><stop offset="0.518" stop-color="#4850f2"/><stop offset="0.523" stop-color="#473fe2"/><stop offset="0.530" stop-color="#412dbc"/><stop offset="0.662" stop-color="#3f29b0"/><stop offset="1.000" stop-color="#3e27ab"/></linearGradient><linearGradient id="ha40"><stop offset="0.000" stop-color="#3e28ac"/><stop offset="0.282" stop-color="#402ab3"/><stop offset="0.395" stop-color="#4230c4"/><stop offset="0.430" stop-color="#463bdd"/><stop offset="0.460" stop-color="#4758f8"/><stop offset="0.498" stop-color="#337afd"/><stop offset="0.502" stop-color="#3e6fff"/><stop offset="0.515" stop-color="#4747eb"/><stop offset="0.523" stop-color="#4331c7"/><stop offset="0.525" stop-color="#412dbc"/><stop offset="0.542" stop-color="#412cb8"/><stop offset="0.678" stop-color="#3f28af"/><stop offset="1.000" stop-color="#3e27ab"/></linearGradient><linearGradient id="ha41"><stop offset="0.000" stop-color="#3e27ac"/><stop offset="0.285" stop-color="#3f29b2"/><stop offset="0.398" stop-color="#4230c4"/><stop offset="0.433" stop-color="#463cde"/><stop offset="0.460" stop-color="#4757f7"/><stop offset="0.488" stop-color="#3d71ff"/><stop offset="0.495" stop-color="#3974fe"/><stop offset="0.505" stop-color="#4756f7"/><stop offset="0.512" stop-color="#4740e3"/><stop offset="0.520" stop-color="#412dbc"/><stop offset="0.648" stop-color="#3f29b0"/><stop offset="1.000" stop-color="#3e27ab"/></linearGradient><linearGradient id="ha42"><stop offset="0.000" stop-color="#3e27ac"/><stop offset="0.285" stop-color="#3f29b2"/><stop offset="0.398" stop-color="#422fc2"/><stop offset="0.433" stop-color="#463bdc"/><stop offset="0.460" stop-color="#4756f7"/><stop offset="0.488" stop-color="#3e70ff"/><stop offset="0.490" stop-color="#3c72ff"/><stop offset="0.502" stop-color="#4850f2"/><stop offset="0.510" stop-color="#463adb"/><stop offset="0.515" stop-color="#422ec0"/><stop offset="0.537" stop-color="#402bb8"/><stop offset="0.670" stop-color="#3f28ae"/><stop offset="1.000" stop-color="#3e27ab"/></linearGradient><linearGradient id="ha43"><stop offset="0.000" stop-color="#3e27ac"/><stop offset="0.250" stop-color="#3f29b0"/><stop offset="0.365" stop-color="#412cb9"/><stop offset="0.403" stop-color="#4230c3"/><stop offset="0.428" stop-color="#4537d5"/><stop offset="0.458" stop-color="#4853f4"/><stop offset="0.485" stop-color="#406cfe"/><stop offset="0.500" stop-color="#4849ed"/><stop offset="0.512" stop-color="#412dbc"/><stop offset="0.537" stop-color="#402bb7"/><stop offset="0.670" stop-color="#3f28ae"/><stop offset="1.000" stop-color="#3e27ab"/></linearGradient><linearGradient id="ha44"><stop offset="0.000" stop-color="#3e27ab"/><stop offset="0.368" stop-color="#412cb8"/><stop offset="0.405" stop-color="#422fc3"/><stop offset="0.430" stop-color="#4537d6"/><stop offset="0.458" stop-color="#4851f4"/><stop offset="0.482" stop-color="#4368fe"/><stop offset="0.498" stop-color="#4745e9"/><stop offset="0.507" stop-color="#422ebf"/><stop offset="0.535" stop-color="#402bb6"/><stop offset="0.667" stop-color="#3f28ae"/><stop offset="1.000" stop-color="#3e27ab"/></linearGradient><linearGradient id="ha45"><stop offset="0.000" stop-color="#3e27ab"/><stop offset="0.370" stop-color="#402bb8"/><stop offset="0.407" stop-color="#422fc2"/><stop offset="0.430" stop-color="#4536d3"/><stop offset="0.455" stop-color="#484df1"/><stop offset="0.477" stop-color="#4563fc"/><stop offset="0.493" stop-color="#4746ea"/><stop offset="0.505" stop-color="#412dbd"/><stop offset="0.532" stop-color="#402bb6"/><stop offset="0.662" stop-color="#3f28ae"/><stop offset="1.000" stop-color="#3e27aa"/></linearGradient><linearGradient id="ha46"><stop offset="0.000" stop-color="#3e27ab"/><stop offset="0.373" stop-color="#402bb7"/><stop offset="0.410" stop-color="#422fc2"/><stop offset="0.433" stop-color="#4536d4"/><stop offset="0.455" stop-color="#484cf0"/><stop offset="0.475" stop-color="#465ffb"/><stop offset="0.490" stop-color="#4743e7"/><stop offset="0.502" stop-color="#412dbc"/><stop offset="0.530" stop-color="#402ab5"/><stop offset="0.660" stop-color="#3f28ad"/><stop offset="1.000" stop-color="#3e27aa"/></linearGradient><linearGradient id="ha47"><stop offset="0.000" stop-color="#3e27ab"/><stop offset="0.375" stop-color="#402bb7"/><stop offset="0.410" stop-color="#422ec0"/><stop offset="0.433" stop-color="#4435d2"/><stop offset="0.455" stop-color="#484bee"/><stop offset="0.472" stop-color="#475bf9"/><stop offset="0.485" stop-color="#4745e9"/><stop offset="0.500" stop-color="#412dbc"/><stop offset="0.528" stop-color="#402ab5"/><stop offset="1.000" stop-color="#3e27aa"/></linearGradient><linearGradient id="ha48"><stop offset="0.000" stop-color="#3e27ab"/><stop offset="0.273" stop-color="#3f28ae"/><stop offset="0.382" stop-color="#402bb7"/><stop offset="0.412" stop-color="#422ebf"/><stop offset="0.433" stop-color="#4434cf"/><stop offset="0.455" stop-color="#4849ed"/><stop offset="0.470" stop-color="#4756f7"/><stop offset="0.482" stop-color="#4742e6"/><stop offset="0.495" stop-color="#412dbd"/><stop offset="0.530" stop-color="#402ab4"/><stop offset="1.000" stop-color="#3e27aa"/></linearGradient><linearGradient id="ha49"><stop offset="0.000" stop-color="#3e27aa"/><stop offset="0.382" stop-color="#402bb6"/><stop offset="0.423" stop-color="#4230c3"/><stop offset="0.455" stop-color="#4747ec"/><stop offset="0.468" stop-color="#4852f4"/><stop offset="0.480" stop-color="#473fe3"/><stop offset="0.493" stop-color="#412dbc"/><stop offset="0.528" stop-color="#402ab3"/><stop offset="1.000" stop-color="#3e27aa"/></linearGradient><linearGradient id="hb0"><stop offset="0.000" stop-color="#3f29b1"/><stop offset="0.330" stop-color="#412dbd"/><stop offset="0.412" stop-color="#4331c8"/><stop offset="0.472" stop-color="#4538d8"/><stop offset="0.523" stop-color="#484bef"/><stop offset="0.555" stop-color="#4464fd"/><stop offset="0.572" stop-color="#3975fe"/><stop offset="0.630" stop-color="#22a1e4"/><stop offset="0.653" stop-color="#18addb"/><stop offset="0.678" stop-color="#02b7cb"/><stop offset="0.688" stop-color="#02bac3"/><stop offset="0.718" stop-color="#24c2ae"/><stop offset="0.760" stop-color="#3fca8e"/><stop offset="0.782" stop-color="#56cc7a"/><stop offset="0.857" stop-color="#aac73a"/><stop offset="0.887" stop-color="#c6c22a"/><stop offset="0.915" stop-color="#dcbd29"/><stop offset="0.960" stop-color="#f7ba3c"/><stop offset="0.985" stop-color="#fec03a"/><stop offset="0.988" stop-color="#d6be28"/><stop offset="0.990" stop-color="#92ca4b"/><stop offset="0.993" stop-color="#49cb85"/><stop offset="0.995" stop-color="#20c1b1"/><stop offset="0.998" stop-color="#0db3d3"/><stop offset="1.000" stop-color="#259ce7"/></linearGradient><linearGradient id="hb1"><stop offset="0.000" stop-color="#3f29b1"/><stop offset="0.333" stop-color="#412dbd"/><stop offset="0.415" stop-color="#4331c8"/><stop offset="0.475" stop-color="#4539d8"/><stop offset="0.523" stop-color="#484bee"/><stop offset="0.555" stop-color="#4563fd"/><stop offset="0.572" stop-color="#3a74fe"/><stop offset="0.588" stop-color="#2f82fa"/><stop offset="0.630" stop-color="#23a0e5"/><stop offset="0.688" stop-color="#02bac4"/><stop offset="0.720" stop-color="#25c2ad"/><stop offset="0.760" stop-color="#3eca8f"/><stop offset="0.785" stop-color="#57cc7a"/><stop offset="0.875" stop-color="#b8c431"/><stop offset="0.917" stop-color="#dbbd29"/><stop offset="0.965" stop-color="#f8ba3d"/><stop offset="0.970" stop-color="#fabb3d"/><stop offset="0.972" stop-color="#e4bb2c"/><stop offset="0.975" stop-color="#a6c73c"/><stop offset="0.977" stop-color="#5dcc75"/><stop offset="0.980" stop-color="#2ec4a4"/><stop offset="0.982" stop-color="#01b8c8"/><stop offset="0.985" stop-color="#1fa5e2"/><stop offset="0.990" stop-color="#3f6eff"/><stop offset="0.993" stop-color="#4851f3"/><stop offset="0.995" stop-color="#4435d1"/><stop offset="0.998" stop-color="#402ab4"/><stop offset="1.000" stop-color="#402ab4"/></linearGradient><linearGradient id="hb2"><stop offset="0.000" stop-color="#3f29b1"/><stop offset="0.315" stop-color="#412dbb"/><stop offset="0.458" stop-color="#4435d2"/><stop offset="0.518" stop-color="#4747eb"/><stop offset="0.555" stop-color="#4563fc"/><stop offset="0.575" stop-color="#3875fe"/><stop offset="0.632" stop-color="#22a1e4"/><stop offset="0.655" stop-color="#18addb"/><stop offset="0.680" stop-color="#02b7cb"/><stop offset="0.690" stop-color="#02bac4"/><stop offset="0.720" stop-color="#24c1af"/><stop offset="0.762" stop-color="#3eca8f"/><stop offset="0.787" stop-color="#57cc7a"/><stop offset="0.865" stop-color="#acc739"/><stop offset="0.893" stop-color="#c5c22a"/><stop offset="0.923" stop-color="#dcbd29"/><stop offset="0.958" stop-color="#f2ba38"/><stop offset="0.960" stop-color="#c0c32d"/><stop offset="0.963" stop-color="#7acc5e"/><stop offset="0.965" stop-color="#3bc992"/><stop offset="0.968" stop-color="#12beb9"/><stop offset="0.970" stop-color="#15afd9"/><stop offset="0.975" stop-color="#317efb"/><stop offset="0.977" stop-color="#4660fb"/><stop offset="0.980" stop-color="#4743e7"/><stop offset="0.982" stop-color="#402bb8"/><stop offset="1.000" stop-color="#402ab4"/></linearGradient><linearGradient id="hb3"><stop offset="0.000" stop-color="#3f29b1"/><stop offset="0.333" stop-color="#412dbc"/><stop offset="0.415" stop-color="#4331c6"/><stop offset="0.475" stop-color="#4538d7"/><stop offset="0.523" stop-color="#484aed"/><stop offset="0.555" stop-color="#4562fc"/><stop offset="0.575" stop-color="#3975fe"/><stop offset="0.632" stop-color="#23a1e5"/><stop offset="0.690" stop-color="#02bac5"/><stop offset="0.722" stop-color="#24c1ae"/><stop offset="0.778" stop-color="#4acb84"/><stop offset="0.868" stop-color="#abc739"/><stop offset="0.910" stop-color="#d0bf27"/><stop offset="0.942" stop-color="#e7bb2e"/><stop offset="0.945" stop-color="#d9be28"/><stop offset="0.947" stop-color="#9ac945"/><stop offset="0.950" stop-color="#55cc7b"/><stop offset="0.955" stop-color="#01b8c9"/><stop offset="0.958" stop-color="#1fa5e2"/><stop offset="0.963" stop-color="#3c71ff"/><stop offset="0.965" stop-color="#4755f6"/><stop offset="0.968" stop-color="#4639da"/><stop offset="0.970" stop-color="#402ab4"/><stop offset="1.000" stop-color="#402ab3"/></linearGradient><linearGradient id="hb4"><stop offset="0.000" stop-color="#3f29b1"/><stop offset="0.315" stop-color="#412cbb"/><stop offset="0.458" stop-color="#4435d0"/><stop offset="0.518" stop-color="#4746ea"/><stop offset="0.555" stop-color="#4561fc"/><stop offset="0.575" stop-color="#3a74fe"/><stop offset="0.590" stop-color="#2f82fa"/><stop offset="0.632" stop-color="#23a0e5"/><stop offset="0.657" stop-color="#18addb"/><stop offset="0.683" stop-color="#02b7cb"/><stop offset="0.692" stop-color="#02bac4"/><stop offset="0.725" stop-color="#25c2ae"/><stop offset="0.768" stop-color="#3fca8e"/><stop offset="0.805" stop-color="#64cd6f"/><stop offset="0.870" stop-color="#aac739"/><stop offset="0.912" stop-color="#d0c028"/><stop offset="0.930" stop-color="#dcbd29"/><stop offset="0.933" stop-color="#bec32e"/><stop offset="0.935" stop-color="#7bcc5d"/><stop offset="0.938" stop-color="#3eca8f"/><stop offset="0.940" stop-color="#19bfb5"/><stop offset="0.942" stop-color="#0fb2d5"/><stop offset="0.945" stop-color="#249de6"/><stop offset="0.947" stop-color="#2e85f8"/><stop offset="0.950" stop-color="#4368fe"/><stop offset="0.952" stop-color="#484df0"/><stop offset="0.955" stop-color="#4433cd"/><stop offset="0.958" stop-color="#402ab4"/><stop offset="1.000" stop-color="#402ab3"/></linearGradient><linearGradient id="hb5"><stop offset="0.000" stop-color="#3f29b1"/><stop offset="0.320" stop-color="#412cbb"/><stop offset="0.460" stop-color="#4435d0"/><stop offset="0.520" stop-color="#4747eb"/><stop offset="0.558" stop-color="#4563fc"/><stop offset="0.577" stop-color="#3875fe"/><stop offset="0.637" stop-color="#22a2e4"/><stop offset="0.685" stop-color="#01b7ca"/><stop offset="0.695" stop-color="#02bac4"/><stop offset="0.725" stop-color="#23c1af"/><stop offset="0.770" stop-color="#3fca8e"/><stop offset="0.808" stop-color="#64cd6f"/><stop offset="0.875" stop-color="#acc738"/><stop offset="0.917" stop-color="#d1bf27"/><stop offset="0.920" stop-color="#a7c73c"/><stop offset="0.923" stop-color="#64cd6f"/><stop offset="0.925" stop-color="#33c79d"/><stop offset="0.928" stop-color="#07bcbf"/><stop offset="0.930" stop-color="#19addc"/><stop offset="0.935" stop-color="#307ffb"/><stop offset="0.938" stop-color="#4562fc"/><stop offset="0.940" stop-color="#4848ec"/><stop offset="0.942" stop-color="#4330c4"/><stop offset="0.945" stop-color="#402ab4"/><stop offset="1.000" stop-color="#402ab3"/></linearGradient><linearGradient id="hb6"><stop offset="0.000" stop-color="#3f29b0"/><stop offset="0.320" stop-color="#412cba"/><stop offset="0.460" stop-color="#4435d0"/><stop offset="0.520" stop-color="#4746ea"/><stop offset="0.558" stop-color="#4562fc"/><stop offset="0.577" stop-color="#3974fe"/><stop offset="0.637" stop-color="#22a1e4"/><stop offset="0.660" stop-color="#18addb"/><stop offset="0.688" stop-color="#01b8ca"/><stop offset="0.697" stop-color="#02bbc3"/><stop offset="0.727" stop-color="#24c1af"/><stop offset="0.773" stop-color="#3fca8e"/><stop offset="0.808" stop-color="#61cd71"/><stop offset="0.865" stop-color="#9fc941"/><stop offset="0.905" stop-color="#c4c22b"/><stop offset="0.907" stop-color="#95ca49"/><stop offset="0.910" stop-color="#54cc7c"/><stop offset="0.915" stop-color="#01b9c6"/><stop offset="0.917" stop-color="#1ca9df"/><stop offset="0.923" stop-color="#337bfc"/><stop offset="0.925" stop-color="#465ffb"/><stop offset="0.928" stop-color="#4745e9"/><stop offset="0.930" stop-color="#422fc1"/><stop offset="0.933" stop-color="#402ab5"/><stop offset="1.000" stop-color="#402ab3"/></linearGradient><linearGradient id="hb7"><stop offset="0.000" stop-color="#3f29b0"/><stop offset="0.320" stop-color="#412cba"/><stop offset="0.460" stop-color="#4434cf"/><stop offset="0.520" stop-color="#4746ea"/><stop offset="0.555" stop-color="#465ffb"/><stop offset="0.577" stop-color="#3a74fe"/><stop offset="0.593" stop-color="#2f81fa"/><stop offset="0.637" stop-color="#23a1e4"/><stop offset="0.662" stop-color="#17aedb"/><stop offset="0.688" stop-color="#02b7cb"/><stop offset="0.697" stop-color="#02bac4"/><stop offset="0.730" stop-color="#24c1ae"/><stop offset="0.775" stop-color="#3fca8e"/><stop offset="0.800" stop-color="#57cc7a"/><stop offset="0.893" stop-color="#b6c532"/><stop offset="0.895" stop-color="#88cb53"/><stop offset="0.898" stop-color="#4bcb84"/><stop offset="0.903" stop-color="#01b8c9"/><stop offset="0.905" stop-color="#1ea8e1"/><stop offset="0.910" stop-color="#347afd"/><stop offset="0.912" stop-color="#465ffb"/><stop offset="0.915" stop-color="#4745e9"/><stop offset="0.917" stop-color="#422fc2"/><stop offset="0.920" stop-color="#402ab5"/><stop offset="1.000" stop-color="#4029b2"/></linearGradient><linearGradient id="hb8"><stop offset="0.000" stop-color="#3f29b0"/><stop offset="0.322" stop-color="#412cba"/><stop offset="0.463" stop-color="#4434cf"/><stop offset="0.520" stop-color="#4745e9"/><stop offset="0.560" stop-color="#4562fc"/><stop offset="0.580" stop-color="#3875fe"/><stop offset="0.640" stop-color="#22a1e4"/><stop offset="0.662" stop-color="#18addb"/><stop offset="0.690" stop-color="#01b7ca"/><stop offset="0.700" stop-color="#02bac4"/><stop offset="0.732" stop-color="#25c2ae"/><stop offset="0.778" stop-color="#3fca8e"/><stop offset="0.815" stop-color="#63cd6f"/><stop offset="0.880" stop-color="#a7c73c"/><stop offset="0.882" stop-color="#81cc58"/><stop offset="0.885" stop-color="#46cb87"/><stop offset="0.890" stop-color="#01b8ca"/><stop offset="0.893" stop-color="#1ea7e1"/><stop offset="0.898" stop-color="#337bfd"/><stop offset="0.900" stop-color="#4660fc"/><stop offset="0.903" stop-color="#4848ec"/><stop offset="0.905" stop-color="#4331c8"/><stop offset="0.907" stop-color="#402ab5"/><stop offset="1.000" stop-color="#3f29b2"/></linearGradient><linearGradient id="hb9"><stop offset="0.000" stop-color="#3f29b0"/><stop offset="0.322" stop-color="#412cba"/><stop offset="0.463" stop-color="#4434cf"/><stop offset="0.523" stop-color="#4746ea"/><stop offset="0.560" stop-color="#4562fc"/><stop offset="0.580" stop-color="#3974fe"/><stop offset="0.640" stop-color="#23a1e4"/><stop offset="0.700" stop-color="#02bac5"/><stop offset="0.735" stop-color="#25c2ae"/><stop offset="0.780" stop-color="#3fca8e"/><stop offset="0.820" stop-color="#66cd6d"/><stop offset="0.868" stop-color="#97ca47"/><stop offset="0.870" stop-color="#7fcc5a"/><stop offset="0.873" stop-color="#46cb88"/><stop offset="0.877" stop-color="#01b8c9"/><stop offset="0.880" stop-color="#1da9e0"/><stop offset="0.885" stop-color="#317efb"/><stop offset="0.887" stop-color="#4464fd"/><stop offset="0.890" stop-color="#484cf0"/><stop offset="0.893" stop-color="#4435d1"/><stop offset="0.895" stop-color="#402ab5"/><stop offset="1.000" stop-color="#3f29b2"/></linearGradient><linearGradient id="hb10"><stop offset="0.000" stop-color="#3f29b0"/><stop offset="0.322" stop-color="#412cb9"/><stop offset="0.463" stop-color="#4434ce"/><stop offset="0.523" stop-color="#4745e9"/><stop offset="0.558" stop-color="#465ffb"/><stop offset="0.580" stop-color="#3a73fe"/><stop offset="0.595" stop-color="#2f81fa"/><stop offset="0.640" stop-color="#23a0e5"/><stop offset="0.665" stop-color="#19addc"/><stop offset="0.692" stop-color="#02b7cb"/><stop offset="0.702" stop-color="#02bac4"/><stop offset="0.735" stop-color="#23c1af"/><stop offset="0.782" stop-color="#3fca8e"/><stop offset="0.822" stop-color="#65cd6e"/><stop offset="0.855" stop-color="#87cb54"/><stop offset="0.857" stop-color="#82cc57"/><stop offset="0.860" stop-color="#4acb84"/><stop offset="0.865" stop-color="#01bac5"/><stop offset="0.868" stop-color="#1aacdd"/><stop offset="0.873" stop-color="#2e83f9"/><stop offset="0.875" stop-color="#426afe"/><stop offset="0.877" stop-color="#4852f4"/><stop offset="0.880" stop-color="#463bdd"/><stop offset="0.882" stop-color="#402ab5"/><stop offset="1.000" stop-color="#3f29b2"/></linearGradient><linearGradient id="hb11"><stop offset="0.000" stop-color="#3f29af"/><stop offset="0.327" stop-color="#412cb9"/><stop offset="0.465" stop-color="#4433cd"/><stop offset="0.523" stop-color="#4743e7"/><stop offset="0.560" stop-color="#465efb"/><stop offset="0.583" stop-color="#3c71ff"/><stop offset="0.613" stop-color="#2d89f5"/><stop offset="0.615" stop-color="#2e85f8"/><stop offset="0.685" stop-color="#1caadf"/><stop offset="0.730" stop-color="#01b8ca"/><stop offset="0.743" stop-color="#02bbc3"/><stop offset="0.782" stop-color="#25c2ae"/><stop offset="0.845" stop-color="#43ca8b"/><stop offset="0.847" stop-color="#31c6a0"/><stop offset="0.850" stop-color="#0ebebb"/><stop offset="0.852" stop-color="#0bb3d2"/><stop offset="0.855" stop-color="#20a5e3"/><stop offset="0.860" stop-color="#3080fb"/><stop offset="0.863" stop-color="#426afe"/><stop offset="0.865" stop-color="#4755f6"/><stop offset="0.868" stop-color="#4740e4"/><stop offset="0.870" stop-color="#422fc1"/><stop offset="0.873" stop-color="#402ab4"/><stop offset="1.000" stop-color="#3f29b1"/></linearGradient><linearGradient id="hb12"><stop offset="0.000" stop-color="#3f28af"/><stop offset="0.327" stop-color="#412cb8"/><stop offset="0.465" stop-color="#4433cc"/><stop offset="0.523" stop-color="#4742e6"/><stop offset="0.560" stop-color="#465dfa"/><stop offset="0.583" stop-color="#3d70ff"/><stop offset="0.613" stop-color="#2d89f5"/><stop offset="0.615" stop-color="#2e84f8"/><stop offset="0.688" stop-color="#1caadf"/><stop offset="0.732" stop-color="#01b8c9"/><stop offset="0.745" stop-color="#02bbc3"/><stop offset="0.785" stop-color="#25c2ae"/><stop offset="0.833" stop-color="#3ac994"/><stop offset="0.835" stop-color="#35c79a"/><stop offset="0.840" stop-color="#03b7cc"/><stop offset="0.843" stop-color="#1caadf"/><stop offset="0.850" stop-color="#3b72ff"/><stop offset="0.855" stop-color="#4849ed"/><stop offset="0.860" stop-color="#402ab4"/><stop offset="1.000" stop-color="#3f29b0"/></linearGradient><linearGradient id="hb13"><stop offset="0.000" stop-color="#3f28af"/><stop offset="0.327" stop-color="#402bb8"/><stop offset="0.465" stop-color="#4433cb"/><stop offset="0.523" stop-color="#4742e6"/><stop offset="0.560" stop-color="#475cfa"/><stop offset="0.583" stop-color="#3e6fff"/><stop offset="0.613" stop-color="#2d88f6"/><stop offset="0.615" stop-color="#2e83f9"/><stop offset="0.688" stop-color="#1ca9df"/><stop offset="0.735" stop-color="#01b8c9"/><stop offset="0.748" stop-color="#03bbc3"/><stop offset="0.787" stop-color="#24c2ae"/><stop offset="0.822" stop-color="#34c79c"/><stop offset="0.825" stop-color="#27c2ab"/><stop offset="0.827" stop-color="#02bac3"/><stop offset="0.833" stop-color="#23a0e5"/><stop offset="0.838" stop-color="#317dfc"/><stop offset="0.840" stop-color="#4368fd"/><stop offset="0.843" stop-color="#4854f5"/><stop offset="0.845" stop-color="#4740e4"/><stop offset="0.847" stop-color="#4230c4"/><stop offset="0.850" stop-color="#402ab4"/><stop offset="1.000" stop-color="#3f29b0"/></linearGradient><linearGradient id="hb14"><stop offset="0.000" stop-color="#3f28af"/><stop offset="0.330" stop-color="#402bb8"/><stop offset="0.468" stop-color="#4433cb"/><stop offset="0.525" stop-color="#4742e6"/><stop offset="0.562" stop-color="#465dfb"/><stop offset="0.585" stop-color="#3d71ff"/><stop offset="0.613" stop-color="#2e87f7"/><stop offset="0.615" stop-color="#2f83f9"/><stop offset="0.690" stop-color="#1caadf"/><stop offset="0.738" stop-color="#01b8c9"/><stop offset="0.750" stop-color="#03bbc3"/><stop offset="0.790" stop-color="#24c1ae"/><stop offset="0.812" stop-color="#2fc5a3"/><stop offset="0.815" stop-color="#12beb9"/><stop offset="0.817" stop-color="#06b5cf"/><stop offset="0.820" stop-color="#1da8e0"/><stop offset="0.827" stop-color="#3a74fe"/><stop offset="0.830" stop-color="#4660fb"/><stop offset="0.833" stop-color="#484df0"/><stop offset="0.835" stop-color="#463adb"/><stop offset="0.838" stop-color="#402bb8"/><stop offset="1.000" stop-color="#3f29b0"/></linearGradient><linearGradient id="hb15"><stop offset="0.000" stop-color="#3f28af"/><stop offset="0.330" stop-color="#402bb8"/><stop offset="0.468" stop-color="#4332cb"/><stop offset="0.525" stop-color="#4742e6"/><stop offset="0.562" stop-color="#475dfa"/><stop offset="0.585" stop-color="#3e70ff"/><stop offset="0.613" stop-color="#2e86f7"/><stop offset="0.615" stop-color="#2f82fa"/><stop offset="0.692" stop-color="#1caadf"/><stop offset="0.740" stop-color="#01b8c9"/><stop offset="0.752" stop-color="#02bbc3"/><stop offset="0.800" stop-color="#28c2ab"/><stop offset="0.803" stop-color="#25c2ae"/><stop offset="0.805" stop-color="#02bac4"/><stop offset="0.810" stop-color="#22a2e4"/><stop offset="0.815" stop-color="#2f81fa"/><stop offset="0.817" stop-color="#406dfe"/><stop offset="0.822" stop-color="#4848ec"/><stop offset="0.827" stop-color="#402ab5"/><stop offset="1.000" stop-color="#3f29b0"/></linearGradient><linearGradient id="hb16"><stop offset="0.000" stop-color="#3f28af"/><stop offset="0.355" stop-color="#412cb9"/><stop offset="0.435" stop-color="#422fc2"/><stop offset="0.490" stop-color="#4536d2"/><stop offset="0.532" stop-color="#4745e9"/><stop offset="0.570" stop-color="#4562fc"/><stop offset="0.593" stop-color="#3875fe"/><stop offset="0.613" stop-color="#2e85f8"/><stop offset="0.615" stop-color="#2f81fa"/><stop offset="0.702" stop-color="#19addc"/><stop offset="0.743" stop-color="#01b8c9"/><stop offset="0.755" stop-color="#02bbc3"/><stop offset="0.790" stop-color="#1fc1b1"/><stop offset="0.792" stop-color="#16bfb7"/><stop offset="0.795" stop-color="#03b7cc"/><stop offset="0.798" stop-color="#1aabdd"/><stop offset="0.805" stop-color="#327cfc"/><stop offset="0.808" stop-color="#4368fe"/><stop offset="0.812" stop-color="#4744e9"/><stop offset="0.817" stop-color="#402ab5"/><stop offset="1.000" stop-color="#3f29b0"/></linearGradient><linearGradient id="hb17"><stop offset="0.000" stop-color="#3f28af"/><stop offset="0.360" stop-color="#412cb9"/><stop offset="0.442" stop-color="#4230c3"/><stop offset="0.495" stop-color="#4536d4"/><stop offset="0.528" stop-color="#4741e5"/><stop offset="0.560" stop-color="#4759f8"/><stop offset="0.593" stop-color="#3974fe"/><stop offset="0.613" stop-color="#2e85f8"/><stop offset="0.615" stop-color="#2f80fa"/><stop offset="0.705" stop-color="#19addc"/><stop offset="0.743" stop-color="#01b7ca"/><stop offset="0.757" stop-color="#02bbc3"/><stop offset="0.780" stop-color="#14beb8"/><stop offset="0.782" stop-color="#09bcbe"/><stop offset="0.785" stop-color="#0ab4d2"/><stop offset="0.787" stop-color="#1da8e0"/><stop offset="0.795" stop-color="#3579fd"/><stop offset="0.798" stop-color="#4466fd"/><stop offset="0.803" stop-color="#4743e7"/><stop offset="0.808" stop-color="#402ab5"/><stop offset="1.000" stop-color="#3f29af"/></linearGradient><linearGradient id="hb18"><stop offset="0.000" stop-color="#3f28ae"/><stop offset="0.363" stop-color="#412cb9"/><stop offset="0.442" stop-color="#422fc2"/><stop offset="0.495" stop-color="#4536d3"/><stop offset="0.528" stop-color="#4741e5"/><stop offset="0.560" stop-color="#4758f8"/><stop offset="0.595" stop-color="#3875fe"/><stop offset="0.613" stop-color="#2e84f9"/><stop offset="0.615" stop-color="#307ffb"/><stop offset="0.708" stop-color="#19addc"/><stop offset="0.745" stop-color="#02b7ca"/><stop offset="0.770" stop-color="#09bcbe"/><stop offset="0.773" stop-color="#02bbc3"/><stop offset="0.778" stop-color="#1fa5e2"/><stop offset="0.785" stop-color="#3777fe"/><stop offset="0.787" stop-color="#4465fd"/><stop offset="0.792" stop-color="#4743e7"/><stop offset="0.798" stop-color="#402ab5"/><stop offset="1.000" stop-color="#3f28af"/></linearGradient><linearGradient id="hb19"><stop offset="0.000" stop-color="#3f28ae"/><stop offset="0.365" stop-color="#412cb8"/><stop offset="0.445" stop-color="#422fc2"/><stop offset="0.498" stop-color="#4536d3"/><stop offset="0.530" stop-color="#4741e5"/><stop offset="0.562" stop-color="#4759f9"/><stop offset="0.595" stop-color="#3975fe"/><stop offset="0.610" stop-color="#2f81fa"/><stop offset="0.685" stop-color="#21a4e3"/><stop offset="0.748" stop-color="#02b7cb"/><stop offset="0.760" stop-color="#02bac5"/><stop offset="0.762" stop-color="#01b9c6"/><stop offset="0.765" stop-color="#13b0d7"/><stop offset="0.773" stop-color="#2d88f6"/><stop offset="0.778" stop-color="#4466fd"/><stop offset="0.782" stop-color="#4745e9"/><stop offset="0.787" stop-color="#402ab5"/><stop offset="1.000" stop-color="#3f28af"/></linearGradient><linearGradient id="hb20"><stop offset="0.000" stop-color="#3f28ae"/><stop offset="0.365" stop-color="#402bb8"/><stop offset="0.445" stop-color="#422fc2"/><stop offset="0.498" stop-color="#4535d2"/><stop offset="0.535" stop-color="#4744e8"/><stop offset="0.590" stop-color="#3e6fff"/><stop offset="0.613" stop-color="#2f82fa"/><stop offset="0.615" stop-color="#317dfb"/><stop offset="0.670" stop-color="#259ce7"/><stop offset="0.713" stop-color="#19addc"/><stop offset="0.752" stop-color="#01b8ca"/><stop offset="0.757" stop-color="#20a4e3"/><stop offset="0.762" stop-color="#2d89f5"/><stop offset="0.768" stop-color="#4368fe"/><stop offset="0.773" stop-color="#4848ec"/><stop offset="0.775" stop-color="#4539d9"/><stop offset="0.778" stop-color="#412dbb"/><stop offset="0.780" stop-color="#402ab5"/><stop offset="1.000" stop-color="#3f28af"/></linearGradient><linearGradient id="hb21"><stop offset="0.000" stop-color="#3f28ae"/><stop offset="0.365" stop-color="#402bb8"/><stop offset="0.445" stop-color="#422fc1"/><stop offset="0.498" stop-color="#4435d1"/><stop offset="0.535" stop-color="#4743e7"/><stop offset="0.567" stop-color="#475cfa"/><stop offset="0.593" stop-color="#3d70ff"/><stop offset="0.613" stop-color="#2f81fa"/><stop offset="0.615" stop-color="#317dfc"/><stop offset="0.667" stop-color="#269ae8"/><stop offset="0.715" stop-color="#19addc"/><stop offset="0.743" stop-color="#07b5d0"/><stop offset="0.748" stop-color="#20a5e2"/><stop offset="0.755" stop-color="#327cfc"/><stop offset="0.757" stop-color="#416bfe"/><stop offset="0.762" stop-color="#484cf0"/><stop offset="0.765" stop-color="#463de0"/><stop offset="0.768" stop-color="#4330c5"/><stop offset="0.770" stop-color="#402ab5"/><stop offset="1.000" stop-color="#3f28af"/></linearGradient><linearGradient id="hb22"><stop offset="0.000" stop-color="#3f28ae"/><stop offset="0.368" stop-color="#402bb8"/><stop offset="0.447" stop-color="#422fc1"/><stop offset="0.500" stop-color="#4435d1"/><stop offset="0.537" stop-color="#4744e8"/><stop offset="0.570" stop-color="#465dfa"/><stop offset="0.593" stop-color="#3e6fff"/><stop offset="0.613" stop-color="#3080fa"/><stop offset="0.615" stop-color="#327cfc"/><stop offset="0.683" stop-color="#23a0e5"/><stop offset="0.732" stop-color="#11b1d6"/><stop offset="0.735" stop-color="#12b1d6"/><stop offset="0.738" stop-color="#1fa6e1"/><stop offset="0.745" stop-color="#307ffb"/><stop offset="0.748" stop-color="#3e6fff"/><stop offset="0.755" stop-color="#4742e6"/><stop offset="0.760" stop-color="#402bb6"/><stop offset="1.000" stop-color="#3f28ae"/></linearGradient><linearGradient id="hb23"><stop offset="0.000" stop-color="#3f28ae"/><stop offset="0.368" stop-color="#402bb7"/><stop offset="0.447" stop-color="#422fc0"/><stop offset="0.500" stop-color="#4435d0"/><stop offset="0.537" stop-color="#4743e7"/><stop offset="0.565" stop-color="#4758f8"/><stop offset="0.593" stop-color="#3f6eff"/><stop offset="0.613" stop-color="#307ffb"/><stop offset="0.615" stop-color="#337bfd"/><stop offset="0.662" stop-color="#2896eb"/><stop offset="0.725" stop-color="#16aeda"/><stop offset="0.730" stop-color="#249ee6"/><stop offset="0.738" stop-color="#3875fe"/><stop offset="0.740" stop-color="#4466fd"/><stop offset="0.745" stop-color="#4849ed"/><stop offset="0.750" stop-color="#4230c3"/><stop offset="0.752" stop-color="#402bb6"/><stop offset="1.000" stop-color="#3f28ae"/></linearGradient><linearGradient id="hb24"><stop offset="0.000" stop-color="#3f28ae"/><stop offset="0.370" stop-color="#402bb7"/><stop offset="0.450" stop-color="#422fc0"/><stop offset="0.500" stop-color="#4434cf"/><stop offset="0.537" stop-color="#4742e6"/><stop offset="0.567" stop-color="#4759f8"/><stop offset="0.595" stop-color="#3e6fff"/><stop offset="0.613" stop-color="#317efb"/><stop offset="0.615" stop-color="#347afd"/><stop offset="0.718" stop-color="#1aabdd"/><stop offset="0.727" stop-color="#327cfc"/><stop offset="0.732" stop-color="#465ffb"/><stop offset="0.738" stop-color="#4743e7"/><stop offset="0.743" stop-color="#412cb9"/><stop offset="0.745" stop-color="#402bb6"/><stop offset="1.000" stop-color="#3f28ae"/></linearGradient><linearGradient id="hb25"><stop offset="0.000" stop-color="#3f28ad"/><stop offset="0.370" stop-color="#402bb7"/><stop offset="0.450" stop-color="#422ebf"/><stop offset="0.500" stop-color="#4434ce"/><stop offset="0.537" stop-color="#4741e5"/><stop offset="0.567" stop-color="#4758f8"/><stop offset="0.595" stop-color="#3f6eff"/><stop offset="0.613" stop-color="#317dfc"/><stop offset="0.615" stop-color="#3579fd"/><stop offset="0.708" stop-color="#1ea7e1"/><stop offset="0.710" stop-color="#20a5e2"/><stop offset="0.718" stop-color="#2f82fa"/><stop offset="0.722" stop-color="#4466fd"/><stop offset="0.730" stop-color="#473ee1"/><stop offset="0.735" stop-color="#402bb6"/><stop offset="1.000" stop-color="#3f28ae"/></linearGradient><linearGradient id="hb26"><stop offset="0.000" stop-color="#3f28ad"/><stop offset="0.370" stop-color="#402bb6"/><stop offset="0.450" stop-color="#422ebf"/><stop offset="0.500" stop-color="#4434cd"/><stop offset="0.537" stop-color="#4740e4"/><stop offset="0.567" stop-color="#4757f8"/><stop offset="0.595" stop-color="#3f6dfe"/><stop offset="0.613" stop-color="#327cfc"/><stop offset="0.615" stop-color="#3678fe"/><stop offset="0.700" stop-color="#21a3e3"/><stop offset="0.702" stop-color="#249fe5"/><stop offset="0.710" stop-color="#327cfc"/><stop offset="0.715" stop-color="#4561fc"/><stop offset="0.720" stop-color="#4848ec"/><stop offset="0.727" stop-color="#402bb6"/><stop offset="1.000" stop-color="#3f28ae"/></linearGradient><linearGradient id="hb27"><stop offset="0.000" stop-color="#3f28ad"/><stop offset="0.373" stop-color="#402bb6"/><stop offset="0.452" stop-color="#422ebf"/><stop offset="0.502" stop-color="#4434ce"/><stop offset="0.540" stop-color="#4741e5"/><stop offset="0.570" stop-color="#4759f8"/><stop offset="0.597" stop-color="#3e6fff"/><stop offset="0.613" stop-color="#327bfc"/><stop offset="0.615" stop-color="#3777fe"/><stop offset="0.692" stop-color="#239fe5"/><stop offset="0.695" stop-color="#259be8"/><stop offset="0.702" stop-color="#3678fd"/><stop offset="0.708" stop-color="#465efb"/><stop offset="0.713" stop-color="#4745ea"/><stop offset="0.720" stop-color="#402bb6"/><stop offset="1.000" stop-color="#3f28ad"/></linearGradient><linearGradient id="hb28"><stop offset="0.000" stop-color="#3f28ad"/><stop offset="0.373" stop-color="#402bb6"/><stop offset="0.452" stop-color="#412ebe"/><stop offset="0.502" stop-color="#4433cd"/><stop offset="0.537" stop-color="#473fe2"/><stop offset="0.590" stop-color="#4368fe"/><stop offset="0.613" stop-color="#337bfc"/><stop offset="0.615" stop-color="#3777fe"/><stop offset="0.685" stop-color="#259ce7"/><stop offset="0.688" stop-color="#2798ea"/><stop offset="0.695" stop-color="#3875fe"/><stop offset="0.700" stop-color="#475cfa"/><stop offset="0.705" stop-color="#4745e9"/><stop offset="0.713" stop-color="#402bb7"/><stop offset="1.000" stop-color="#3f28ad"/></linearGradient><linearGradient id="hb29"><stop offset="0.000" stop-color="#3f28ad"/><stop offset="0.373" stop-color="#402ab5"/><stop offset="0.452" stop-color="#412ebd"/><stop offset="0.502" stop-color="#4433cc"/><stop offset="0.537" stop-color="#463ee1"/><stop offset="0.585" stop-color="#4564fd"/><stop offset="0.613" stop-color="#337afd"/><stop offset="0.615" stop-color="#3776fe"/><stop offset="0.678" stop-color="#2699e9"/><stop offset="0.680" stop-color="#2895ec"/><stop offset="0.688" stop-color="#3a74fe"/><stop offset="0.692" stop-color="#475cfa"/><stop offset="0.697" stop-color="#4745e9"/><stop offset="0.705" stop-color="#402bb7"/><stop offset="1.000" stop-color="#3f28ad"/></linearGradient><linearGradient id="hb30"><stop offset="0.000" stop-color="#3f28ad"/><stop offset="0.375" stop-color="#402ab5"/><stop offset="0.455" stop-color="#412dbd"/><stop offset="0.502" stop-color="#4332ca"/><stop offset="0.537" stop-color="#463de0"/><stop offset="0.585" stop-color="#4563fd"/><stop offset="0.613" stop-color="#347afd"/><stop offset="0.615" stop-color="#3876fe"/><stop offset="0.670" stop-color="#2895ec"/><stop offset="0.673" stop-color="#2a93ed"/><stop offset="0.680" stop-color="#3b73fe"/><stop offset="0.685" stop-color="#475cfa"/><stop offset="0.692" stop-color="#463bdd"/><stop offset="0.697" stop-color="#402bb7"/><stop offset="1.000" stop-color="#3f28ad"/></linearGradient><linearGradient id="hb31"><stop offset="0.000" stop-color="#3e28ad"/><stop offset="0.377" stop-color="#402ab5"/><stop offset="0.458" stop-color="#412dbd"/><stop offset="0.505" stop-color="#4332ca"/><stop offset="0.540" stop-color="#463ee1"/><stop offset="0.585" stop-color="#4563fc"/><stop offset="0.613" stop-color="#347afd"/><stop offset="0.615" stop-color="#3875fe"/><stop offset="0.665" stop-color="#2a93ee"/><stop offset="0.673" stop-color="#3a74fe"/><stop offset="0.678" stop-color="#465efb"/><stop offset="0.685" stop-color="#463de0"/><stop offset="0.690" stop-color="#412cba"/><stop offset="0.692" stop-color="#402bb7"/><stop offset="1.000" stop-color="#3f28ad"/></linearGradient><linearGradient id="hb32"><stop offset="0.000" stop-color="#3e28ac"/><stop offset="0.370" stop-color="#402ab4"/><stop offset="0.455" stop-color="#412dbc"/><stop offset="0.505" stop-color="#4332c9"/><stop offset="0.540" stop-color="#463de0"/><stop offset="0.585" stop-color="#4562fc"/><stop offset="0.613" stop-color="#3479fd"/><stop offset="0.615" stop-color="#3975fe"/><stop offset="0.657" stop-color="#2c8ff1"/><stop offset="0.665" stop-color="#3975fe"/><stop offset="0.670" stop-color="#465ffb"/><stop offset="0.678" stop-color="#4740e4"/><stop offset="0.683" stop-color="#422fc1"/><stop offset="0.685" stop-color="#402bb8"/><stop offset="1.000" stop-color="#3e28ad"/></linearGradient><linearGradient id="hb33"><stop offset="0.000" stop-color="#3e28ac"/><stop offset="0.370" stop-color="#402ab3"/><stop offset="0.455" stop-color="#412dbb"/><stop offset="0.505" stop-color="#4332c8"/><stop offset="0.540" stop-color="#463cdf"/><stop offset="0.580" stop-color="#465efb"/><stop offset="0.613" stop-color="#3579fd"/><stop offset="0.615" stop-color="#3975fe"/><stop offset="0.650" stop-color="#2d8af4"/><stop offset="0.653" stop-color="#2d8af5"/><stop offset="0.657" stop-color="#3776fe"/><stop offset="0.665" stop-color="#4758f8"/><stop offset="0.673" stop-color="#463adc"/><stop offset="0.678" stop-color="#402bb8"/><stop offset="1.000" stop-color="#3e28ac"/></linearGradient><linearGradient id="hb34"><stop offset="0.000" stop-color="#3e27ac"/><stop offset="0.370" stop-color="#402ab3"/><stop offset="0.455" stop-color="#412cba"/><stop offset="0.505" stop-color="#4331c7"/><stop offset="0.540" stop-color="#463cde"/><stop offset="0.580" stop-color="#465dfa"/><stop offset="0.613" stop-color="#3578fd"/><stop offset="0.615" stop-color="#3974fe"/><stop offset="0.645" stop-color="#2d87f7"/><stop offset="0.653" stop-color="#3e6fff"/><stop offset="0.660" stop-color="#4852f4"/><stop offset="0.665" stop-color="#473fe2"/><stop offset="0.673" stop-color="#402cb8"/><stop offset="1.000" stop-color="#3e28ac"/></linearGradient><linearGradient id="hb35"><stop offset="0.000" stop-color="#3e27ac"/><stop offset="0.370" stop-color="#402ab3"/><stop offset="0.455" stop-color="#412cba"/><stop offset="0.505" stop-color="#4331c6"/><stop offset="0.542" stop-color="#463cdf"/><stop offset="0.580" stop-color="#475cfa"/><stop offset="0.613" stop-color="#3678fe"/><stop offset="0.615" stop-color="#3a74fe"/><stop offset="0.640" stop-color="#2e84f8"/><stop offset="0.645" stop-color="#3b73fe"/><stop offset="0.653" stop-color="#4757f7"/><stop offset="0.660" stop-color="#463bdd"/><stop offset="0.665" stop-color="#412dbb"/><stop offset="0.667" stop-color="#412cb8"/><stop offset="1.000" stop-color="#3e28ac"/></linearGradient><linearGradient id="hb36"><stop offset="0.000" stop-color="#3e27ac"/><stop offset="0.370" stop-color="#3f29b2"/><stop offset="0.505" stop-color="#4330c5"/><stop offset="0.542" stop-color="#463bdd"/><stop offset="0.580" stop-color="#475cfa"/><stop offset="0.613" stop-color="#3677fe"/><stop offset="0.615" stop-color="#3a73fe"/><stop offset="0.632" stop-color="#307ffb"/><stop offset="0.635" stop-color="#317efb"/><stop offset="0.640" stop-color="#406cfe"/><stop offset="0.648" stop-color="#4852f4"/><stop offset="0.653" stop-color="#4741e5"/><stop offset="0.660" stop-color="#412cb9"/><stop offset="1.000" stop-color="#3e27ac"/></linearGradient><linearGradient id="hb37"><stop offset="0.000" stop-color="#3e27ac"/><stop offset="0.370" stop-color="#3f29b2"/><stop offset="0.505" stop-color="#4230c4"/><stop offset="0.542" stop-color="#463bdc"/><stop offset="0.577" stop-color="#4759f8"/><stop offset="0.613" stop-color="#3777fe"/><stop offset="0.627" stop-color="#327bfc"/><stop offset="0.635" stop-color="#4368fe"/><stop offset="0.643" stop-color="#484ff2"/><stop offset="0.648" stop-color="#473fe2"/><stop offset="0.655" stop-color="#412cb9"/><stop offset="1.000" stop-color="#3e27ac"/></linearGradient><linearGradient id="hb38"><stop offset="0.000" stop-color="#3e27ac"/><stop offset="0.368" stop-color="#3f29b1"/><stop offset="0.502" stop-color="#422fc2"/><stop offset="0.545" stop-color="#463bdd"/><stop offset="0.577" stop-color="#4758f8"/><stop offset="0.605" stop-color="#3e70ff"/><stop offset="0.623" stop-color="#3677fe"/><stop offset="0.632" stop-color="#475dfa"/><stop offset="0.643" stop-color="#463de0"/><stop offset="0.650" stop-color="#412cb9"/><stop offset="0.760" stop-color="#3f29b0"/><stop offset="1.000" stop-color="#3e27ac"/></linearGradient><linearGradient id="hb39"><stop offset="0.000" stop-color="#3e27ab"/><stop offset="0.370" stop-color="#3f29b1"/><stop offset="0.505" stop-color="#422fc1"/><stop offset="0.548" stop-color="#463cde"/><stop offset="0.577" stop-color="#4757f7"/><stop offset="0.605" stop-color="#3e6fff"/><stop offset="0.613" stop-color="#3875fe"/><stop offset="0.620" stop-color="#3d71ff"/><stop offset="0.630" stop-color="#4853f5"/><stop offset="0.637" stop-color="#463ddf"/><stop offset="0.645" stop-color="#412cba"/><stop offset="0.752" stop-color="#3f29b0"/><stop offset="1.000" stop-color="#3e27ac"/></linearGradient><linearGradient id="hb40"><stop offset="0.000" stop-color="#3e27ab"/><stop offset="0.370" stop-color="#3f29b1"/><stop offset="0.505" stop-color="#422fc0"/><stop offset="0.548" stop-color="#463bdd"/><stop offset="0.577" stop-color="#4757f7"/><stop offset="0.607" stop-color="#3d70ff"/><stop offset="0.613" stop-color="#3974fe"/><stop offset="0.625" stop-color="#4852f4"/><stop offset="0.632" stop-color="#463cdf"/><stop offset="0.640" stop-color="#412cba"/><stop offset="0.748" stop-color="#3f29b0"/><stop offset="1.000" stop-color="#3e27ab"/></linearGradient><linearGradient id="hb41"><stop offset="0.000" stop-color="#3e27ab"/><stop offset="0.373" stop-color="#3f29b0"/><stop offset="0.505" stop-color="#422ebf"/><stop offset="0.548" stop-color="#463adb"/><stop offset="0.575" stop-color="#4853f5"/><stop offset="0.607" stop-color="#3e6fff"/><stop offset="0.610" stop-color="#3c71ff"/><stop offset="0.615" stop-color="#465ffb"/><stop offset="0.623" stop-color="#484bef"/><stop offset="0.627" stop-color="#463de0"/><stop offset="0.635" stop-color="#412dbb"/><stop offset="0.640" stop-color="#412cb9"/><stop offset="0.748" stop-color="#3f28af"/><stop offset="1.000" stop-color="#3e27ab"/></linearGradient><linearGradient id="hb42"><stop offset="0.000" stop-color="#3e27ab"/><stop offset="0.470" stop-color="#402bb7"/><stop offset="0.515" stop-color="#422fc1"/><stop offset="0.542" stop-color="#4536d4"/><stop offset="0.575" stop-color="#4853f4"/><stop offset="0.605" stop-color="#406cfe"/><stop offset="0.613" stop-color="#475bf9"/><stop offset="0.620" stop-color="#4744e9"/><stop offset="0.630" stop-color="#422ebf"/><stop offset="0.640" stop-color="#402cb8"/><stop offset="0.748" stop-color="#3f28af"/><stop offset="1.000" stop-color="#3e27ab"/></linearGradient><linearGradient id="hb43"><stop offset="0.000" stop-color="#3e27ab"/><stop offset="0.472" stop-color="#402bb6"/><stop offset="0.518" stop-color="#422fc1"/><stop offset="0.545" stop-color="#4537d5"/><stop offset="0.575" stop-color="#4852f4"/><stop offset="0.600" stop-color="#4367fd"/><stop offset="0.613" stop-color="#484ef1"/><stop offset="0.627" stop-color="#412cba"/><stop offset="0.637" stop-color="#402bb8"/><stop offset="0.743" stop-color="#3f28af"/><stop offset="1.000" stop-color="#3e27ab"/></linearGradient><linearGradient id="hb44"><stop offset="0.000" stop-color="#3e27ab"/><stop offset="0.475" stop-color="#402bb6"/><stop offset="0.520" stop-color="#422fc1"/><stop offset="0.545" stop-color="#4536d3"/><stop offset="0.572" stop-color="#484ef1"/><stop offset="0.597" stop-color="#4564fd"/><stop offset="0.613" stop-color="#4743e7"/><stop offset="0.623" stop-color="#412ebe"/><stop offset="0.635" stop-color="#402bb7"/><stop offset="0.740" stop-color="#3f28ae"/><stop offset="1.000" stop-color="#3e27ab"/></linearGradient><linearGradient id="hb45"><stop offset="0.000" stop-color="#3e27aa"/><stop offset="0.477" stop-color="#402ab5"/><stop offset="0.520" stop-color="#422ebf"/><stop offset="0.545" stop-color="#4435d0"/><stop offset="0.572" stop-color="#484df0"/><stop offset="0.593" stop-color="#465efb"/><stop offset="0.607" stop-color="#4744e8"/><stop offset="0.620" stop-color="#412cba"/><stop offset="0.635" stop-color="#402bb6"/><stop offset="0.740" stop-color="#3f28ae"/><stop offset="1.000" stop-color="#3e27ab"/></linearGradient><linearGradient id="hb46"><stop offset="0.000" stop-color="#3e27aa"/><stop offset="0.480" stop-color="#402ab5"/><stop offset="0.520" stop-color="#412ebe"/><stop offset="0.545" stop-color="#4434ce"/><stop offset="0.570" stop-color="#4849ed"/><stop offset="0.590" stop-color="#475bf9"/><stop offset="0.605" stop-color="#4741e5"/><stop offset="0.618" stop-color="#412cba"/><stop offset="0.632" stop-color="#402bb6"/><stop offset="0.735" stop-color="#3f28ae"/><stop offset="1.000" stop-color="#3e27aa"/></linearGradient><linearGradient id="hb47"><stop offset="0.000" stop-color="#3e27aa"/><stop offset="0.480" stop-color="#402ab4"/><stop offset="0.532" stop-color="#422fc2"/><stop offset="0.553" stop-color="#4537d5"/><stop offset="0.570" stop-color="#4848ec"/><stop offset="0.588" stop-color="#4757f7"/><stop offset="0.600" stop-color="#4743e7"/><stop offset="0.615" stop-color="#412cb9"/><stop offset="0.632" stop-color="#402ab5"/><stop offset="1.000" stop-color="#3e27aa"/></linearGradient><linearGradient id="hb48"><stop offset="0.000" stop-color="#3e27aa"/><stop offset="0.482" stop-color="#402ab3"/><stop offset="0.535" stop-color="#422fc1"/><stop offset="0.555" stop-color="#4537d6"/><stop offset="0.585" stop-color="#4853f5"/><stop offset="0.600" stop-color="#463cde"/><stop offset="0.610" stop-color="#412dbd"/><stop offset="0.632" stop-color="#402ab4"/><stop offset="1.000" stop-color="#3e27aa"/></linearGradient><linearGradient id="hb49"><stop offset="0.000" stop-color="#3e27aa"/><stop offset="0.485" stop-color="#402ab3"/><stop offset="0.537" stop-color="#422fc1"/><stop offset="0.555" stop-color="#4536d4"/><stop offset="0.583" stop-color="#484ff2"/><stop offset="0.595" stop-color="#463ee1"/><stop offset="0.607" stop-color="#412dbc"/><stop offset="0.630" stop-color="#402ab4"/><stop offset="1.000" stop-color="#3e27aa"/></linearGradient><linearGradient id="hc0"><stop offset="0.000" stop-color="#402bb7"/><stop offset="0.178" stop-color="#4230c4"/><stop offset="0.282" stop-color="#463ddf"/><stop offset="0.342" stop-color="#465efb"/><stop offset="0.366" stop-color="#3a74fe"/><stop offset="0.422" stop-color="#22a1e4"/><stop offset="0.442" stop-color="#19addc"/><stop offset="0.466" stop-color="#02b7cb"/><stop offset="0.476" stop-color="#02bac3"/><stop offset="0.504" stop-color="#24c2ae"/><stop offset="0.544" stop-color="#3fca8e"/><stop offset="0.566" stop-color="#58cc79"/><stop offset="0.650" stop-color="#bac430"/><stop offset="0.688" stop-color="#dbbd29"/><stop offset="0.730" stop-color="#f7ba3c"/><stop offset="0.762" stop-color="#fec438"/><stop offset="0.884" stop-color="#f7f31d"/><stop offset="0.886" stop-color="#fbd22f"/><stop offset="0.888" stop-color="#eaba31"/><stop offset="0.890" stop-color="#a2c83f"/><stop offset="0.892" stop-color="#4dcc82"/><stop offset="0.894" stop-color="#1ac0b4"/><stop offset="0.896" stop-color="#18aedb"/><stop offset="0.900" stop-color="#3e6fff"/><stop offset="0.902" stop-color="#484cef"/><stop offset="0.904" stop-color="#412dbd"/><stop offset="0.906" stop-color="#4029b3"/><stop offset="1.000" stop-color="#3f29b1"/></linearGradient><linearGradient id="hc1"><stop offset="0.000" stop-color="#402bb7"/><stop offset="0.180" stop-color="#4230c4"/><stop offset="0.282" stop-color="#463cdf"/><stop offset="0.342" stop-color="#465dfa"/><stop offset="0.368" stop-color="#3876fe"/><stop offset="0.424" stop-color="#21a2e4"/><stop offset="0.466" stop-color="#02b7cb"/><stop offset="0.476" stop-color="#02bac3"/><stop offset="0.504" stop-color="#24c1ae"/><stop offset="0.544" stop-color="#3fca8e"/><stop offset="0.566" stop-color="#58cc79"/><stop offset="0.650" stop-color="#b9c430"/><stop offset="0.688" stop-color="#dbbd29"/><stop offset="0.730" stop-color="#f7ba3c"/><stop offset="0.762" stop-color="#fec438"/><stop offset="0.868" stop-color="#f5ed22"/><stop offset="0.870" stop-color="#fcd130"/><stop offset="0.872" stop-color="#e8bb2f"/><stop offset="0.874" stop-color="#a1c840"/><stop offset="0.876" stop-color="#4dcc82"/><stop offset="0.878" stop-color="#1cc0b4"/><stop offset="0.880" stop-color="#16aeda"/><stop offset="0.884" stop-color="#3c71ff"/><stop offset="0.886" stop-color="#484ff1"/><stop offset="0.888" stop-color="#4230c4"/><stop offset="0.890" stop-color="#402ab3"/><stop offset="1.000" stop-color="#3f29b1"/></linearGradient><linearGradient id="hc2"><stop offset="0.000" stop-color="#402bb7"/><stop offset="0.180" stop-color="#4230c4"/><stop offset="0.284" stop-color="#463cdf"/><stop offset="0.342" stop-color="#475dfa"/><stop offset="0.368" stop-color="#3975fe"/><stop offset="0.424" stop-color="#22a2e4"/><stop offset="0.468" stop-color="#01b8ca"/><stop offset="0.476" stop-color="#02bac4"/><stop offset="0.504" stop-color="#24c1ae"/><stop offset="0.544" stop-color="#3fca8e"/><stop offset="0.566" stop-color="#57cc7a"/><stop offset="0.650" stop-color="#b9c430"/><stop offset="0.676" stop-color="#d1bf27"/><stop offset="0.718" stop-color="#f0ba36"/><stop offset="0.748" stop-color="#febe3c"/><stop offset="0.852" stop-color="#f5e725"/><stop offset="0.854" stop-color="#fbd32e"/><stop offset="0.856" stop-color="#edba33"/><stop offset="0.858" stop-color="#a9c73b"/><stop offset="0.860" stop-color="#56cc7b"/><stop offset="0.862" stop-color="#24c2ae"/><stop offset="0.864" stop-color="#10b2d5"/><stop offset="0.868" stop-color="#3678fd"/><stop offset="0.870" stop-color="#4755f6"/><stop offset="0.872" stop-color="#4435d2"/><stop offset="0.874" stop-color="#402ab3"/><stop offset="1.000" stop-color="#3f29b1"/></linearGradient><linearGradient id="hc3"><stop offset="0.000" stop-color="#402bb6"/><stop offset="0.182" stop-color="#4230c3"/><stop offset="0.284" stop-color="#463cdf"/><stop offset="0.344" stop-color="#465efb"/><stop offset="0.368" stop-color="#3975fe"/><stop offset="0.422" stop-color="#23a1e4"/><stop offset="0.444" stop-color="#18aedb"/><stop offset="0.468" stop-color="#01b8ca"/><stop offset="0.476" stop-color="#02bac4"/><stop offset="0.504" stop-color="#24c1af"/><stop offset="0.544" stop-color="#3fca8e"/><stop offset="0.576" stop-color="#63cd70"/><stop offset="0.626" stop-color="#9fc941"/><stop offset="0.662" stop-color="#c5c22a"/><stop offset="0.690" stop-color="#dcbd29"/><stop offset="0.732" stop-color="#f8ba3d"/><stop offset="0.746" stop-color="#febd3c"/><stop offset="0.836" stop-color="#f6e128"/><stop offset="0.838" stop-color="#f8da2b"/><stop offset="0.840" stop-color="#f7ba3c"/><stop offset="0.842" stop-color="#bac430"/><stop offset="0.844" stop-color="#68cd6c"/><stop offset="0.846" stop-color="#2fc5a3"/><stop offset="0.848" stop-color="#03b7cc"/><stop offset="0.850" stop-color="#23a0e5"/><stop offset="0.852" stop-color="#2f82f9"/><stop offset="0.854" stop-color="#4660fb"/><stop offset="0.856" stop-color="#473fe2"/><stop offset="0.858" stop-color="#402ab3"/><stop offset="1.000" stop-color="#3f29b1"/></linearGradient><linearGradient id="hc4"><stop offset="0.000" stop-color="#402bb6"/><stop offset="0.184" stop-color="#4230c3"/><stop offset="0.286" stop-color="#463cdf"/><stop offset="0.344" stop-color="#465dfa"/><stop offset="0.368" stop-color="#3974fe"/><stop offset="0.422" stop-color="#23a0e5"/><stop offset="0.444" stop-color="#18addb"/><stop offset="0.468" stop-color="#01b8ca"/><stop offset="0.476" stop-color="#02bac4"/><stop offset="0.504" stop-color="#23c1af"/><stop offset="0.544" stop-color="#3fca8e"/><stop offset="0.566" stop-color="#57cc7a"/><stop offset="0.650" stop-color="#b9c431"/><stop offset="0.678" stop-color="#d3bf27"/><stop offset="0.722" stop-color="#f2ba38"/><stop offset="0.748" stop-color="#febe3c"/><stop offset="0.822" stop-color="#f7db2a"/><stop offset="0.824" stop-color="#fec239"/><stop offset="0.826" stop-color="#d2bf27"/><stop offset="0.828" stop-color="#86cb55"/><stop offset="0.830" stop-color="#3cc991"/><stop offset="0.832" stop-color="#0bbdbd"/><stop offset="0.834" stop-color="#1baade"/><stop offset="0.838" stop-color="#3f6eff"/><stop offset="0.840" stop-color="#484ef1"/><stop offset="0.842" stop-color="#4330c5"/><stop offset="0.844" stop-color="#402ab3"/><stop offset="1.000" stop-color="#3f29b1"/></linearGradient><linearGradient id="hc5"><stop offset="0.000" stop-color="#402bb6"/><stop offset="0.184" stop-color="#4230c3"/><stop offset="0.286" stop-color="#463cde"/><stop offset="0.344" stop-color="#475dfa"/><stop offset="0.370" stop-color="#3876fe"/><stop offset="0.424" stop-color="#22a2e4"/><stop offset="0.444" stop-color="#18addb"/><stop offset="0.468" stop-color="#01b7ca"/><stop offset="0.476" stop-color="#02bac4"/><stop offset="0.504" stop-color="#23c1af"/><stop offset="0.544" stop-color="#3eca8f"/><stop offset="0.576" stop-color="#62cd70"/><stop offset="0.626" stop-color="#9fc942"/><stop offset="0.662" stop-color="#c4c22b"/><stop offset="0.690" stop-color="#dcbd29"/><stop offset="0.732" stop-color="#f8ba3d"/><stop offset="0.746" stop-color="#fdbd3d"/><stop offset="0.806" stop-color="#fad52e"/><stop offset="0.808" stop-color="#fcd030"/><stop offset="0.810" stop-color="#ebba31"/><stop offset="0.812" stop-color="#aac73a"/><stop offset="0.814" stop-color="#5bcc77"/><stop offset="0.816" stop-color="#2ac3a9"/><stop offset="0.818" stop-color="#07b5cf"/><stop offset="0.820" stop-color="#249ee6"/><stop offset="0.822" stop-color="#2f81fa"/><stop offset="0.824" stop-color="#4660fb"/><stop offset="0.826" stop-color="#4740e4"/><stop offset="0.828" stop-color="#402ab3"/><stop offset="1.000" stop-color="#3f29b0"/></linearGradient><linearGradient id="hc6"><stop offset="0.000" stop-color="#402bb6"/><stop offset="0.186" stop-color="#4230c3"/><stop offset="0.288" stop-color="#463cde"/><stop offset="0.346" stop-color="#465efb"/><stop offset="0.370" stop-color="#3875fe"/><stop offset="0.424" stop-color="#22a1e4"/><stop offset="0.444" stop-color="#18addb"/><stop offset="0.468" stop-color="#02b7cb"/><stop offset="0.476" stop-color="#02bac4"/><stop offset="0.506" stop-color="#25c2ae"/><stop offset="0.544" stop-color="#3eca8f"/><stop offset="0.566" stop-color="#56cc7b"/><stop offset="0.638" stop-color="#acc739"/><stop offset="0.676" stop-color="#d0bf27"/><stop offset="0.706" stop-color="#e8bb2e"/><stop offset="0.734" stop-color="#f9ba3d"/><stop offset="0.792" stop-color="#fccf30"/><stop offset="0.794" stop-color="#fec13a"/><stop offset="0.796" stop-color="#d2bf27"/><stop offset="0.798" stop-color="#8acb52"/><stop offset="0.800" stop-color="#40ca8d"/><stop offset="0.802" stop-color="#14beb8"/><stop offset="0.804" stop-color="#17aedb"/><stop offset="0.808" stop-color="#3776fe"/><stop offset="0.810" stop-color="#4756f6"/><stop offset="0.812" stop-color="#4537d6"/><stop offset="0.814" stop-color="#402ab4"/><stop offset="1.000" stop-color="#3f29b0"/></linearGradient><linearGradient id="hc7"><stop offset="0.000" stop-color="#402bb6"/><stop offset="0.186" stop-color="#422fc2"/><stop offset="0.288" stop-color="#463cde"/><stop offset="0.346" stop-color="#465dfa"/><stop offset="0.370" stop-color="#3975fe"/><stop offset="0.422" stop-color="#23a0e5"/><stop offset="0.476" stop-color="#02bac5"/><stop offset="0.506" stop-color="#25c2ae"/><stop offset="0.544" stop-color="#3eca8f"/><stop offset="0.568" stop-color="#58cc79"/><stop offset="0.650" stop-color="#b8c431"/><stop offset="0.678" stop-color="#d2bf27"/><stop offset="0.718" stop-color="#efba35"/><stop offset="0.734" stop-color="#f8ba3d"/><stop offset="0.778" stop-color="#fec934"/><stop offset="0.780" stop-color="#f7ba3c"/><stop offset="0.782" stop-color="#bec32e"/><stop offset="0.784" stop-color="#72cd63"/><stop offset="0.786" stop-color="#35c79a"/><stop offset="0.788" stop-color="#04bbc2"/><stop offset="0.790" stop-color="#1da8e0"/><stop offset="0.794" stop-color="#3e6fff"/><stop offset="0.796" stop-color="#4850f3"/><stop offset="0.798" stop-color="#4433cd"/><stop offset="0.800" stop-color="#402ab4"/><stop offset="1.000" stop-color="#3f29b0"/></linearGradient><linearGradient id="hc8"><stop offset="0.000" stop-color="#402ab5"/><stop offset="0.188" stop-color="#422fc2"/><stop offset="0.290" stop-color="#463cde"/><stop offset="0.346" stop-color="#475dfa"/><stop offset="0.370" stop-color="#3974fe"/><stop offset="0.424" stop-color="#23a1e4"/><stop offset="0.446" stop-color="#17aedb"/><stop offset="0.468" stop-color="#02b7cb"/><stop offset="0.478" stop-color="#02bac3"/><stop offset="0.506" stop-color="#24c2ae"/><stop offset="0.546" stop-color="#40ca8d"/><stop offset="0.578" stop-color="#63cd6f"/><stop offset="0.626" stop-color="#9ec942"/><stop offset="0.664" stop-color="#c5c22a"/><stop offset="0.690" stop-color="#dbbd29"/><stop offset="0.734" stop-color="#f8ba3d"/><stop offset="0.748" stop-color="#febe3c"/><stop offset="0.764" stop-color="#fec438"/><stop offset="0.766" stop-color="#edba33"/><stop offset="0.768" stop-color="#b1c635"/><stop offset="0.770" stop-color="#65cd6e"/><stop offset="0.772" stop-color="#30c5a1"/><stop offset="0.774" stop-color="#01b9c7"/><stop offset="0.776" stop-color="#1fa6e2"/><stop offset="0.780" stop-color="#406dfe"/><stop offset="0.782" stop-color="#484ef1"/><stop offset="0.784" stop-color="#4332ca"/><stop offset="0.786" stop-color="#402ab4"/><stop offset="1.000" stop-color="#3f29b0"/></linearGradient><linearGradient id="hc9"><stop offset="0.000" stop-color="#402ab5"/><stop offset="0.190" stop-color="#422fc2"/><stop offset="0.292" stop-color="#463cde"/><stop offset="0.348" stop-color="#465efb"/><stop offset="0.372" stop-color="#3876fe"/><stop offset="0.426" stop-color="#22a2e4"/><stop offset="0.470" stop-color="#01b8ca"/><stop offset="0.478" stop-color="#02bac4"/><stop offset="0.506" stop-color="#24c1ae"/><stop offset="0.546" stop-color="#3fca8e"/><stop offset="0.568" stop-color="#58cc79"/><stop offset="0.652" stop-color="#b9c430"/><stop offset="0.690" stop-color="#dbbd29"/><stop offset="0.734" stop-color="#f8ba3d"/><stop offset="0.750" stop-color="#febe3c"/><stop offset="0.752" stop-color="#e9bb2f"/><stop offset="0.754" stop-color="#acc738"/><stop offset="0.756" stop-color="#62cd71"/><stop offset="0.758" stop-color="#2fc5a2"/><stop offset="0.760" stop-color="#01b9c7"/><stop offset="0.762" stop-color="#1fa6e2"/><stop offset="0.766" stop-color="#3f6efe"/><stop offset="0.768" stop-color="#4850f2"/><stop offset="0.770" stop-color="#4434ce"/><stop offset="0.772" stop-color="#402ab4"/><stop offset="1.000" stop-color="#3f29b0"/></linearGradient><linearGradient id="hc10"><stop offset="0.000" stop-color="#402ab5"/><stop offset="0.178" stop-color="#422fc0"/><stop offset="0.274" stop-color="#4537d6"/><stop offset="0.322" stop-color="#4849ed"/><stop offset="0.354" stop-color="#4563fc"/><stop offset="0.372" stop-color="#3875fe"/><stop offset="0.426" stop-color="#22a2e4"/><stop offset="0.446" stop-color="#18aedb"/><stop offset="0.470" stop-color="#01b8ca"/><stop offset="0.478" stop-color="#02bac4"/><stop offset="0.506" stop-color="#24c1ae"/><stop offset="0.546" stop-color="#3fca8e"/><stop offset="0.566" stop-color="#55cc7c"/><stop offset="0.640" stop-color="#adc638"/><stop offset="0.678" stop-color="#d1bf27"/><stop offset="0.706" stop-color="#e7bb2e"/><stop offset="0.736" stop-color="#f9bb3d"/><stop offset="0.738" stop-color="#eabb30"/><stop offset="0.740" stop-color="#afc637"/><stop offset="0.742" stop-color="#66cd6d"/><stop offset="0.744" stop-color="#32c69f"/><stop offset="0.746" stop-color="#02bac4"/><stop offset="0.748" stop-color="#1da8e0"/><stop offset="0.752" stop-color="#3b73fe"/><stop offset="0.754" stop-color="#4755f6"/><stop offset="0.756" stop-color="#4539d8"/><stop offset="0.758" stop-color="#402ab4"/><stop offset="1.000" stop-color="#3f29b0"/></linearGradient><linearGradient id="hc11"><stop offset="0.000" stop-color="#402ab5"/><stop offset="0.194" stop-color="#422fc2"/><stop offset="0.294" stop-color="#463cde"/><stop offset="0.348" stop-color="#475dfa"/><stop offset="0.372" stop-color="#3975fe"/><stop offset="0.424" stop-color="#23a0e5"/><stop offset="0.446" stop-color="#18addb"/><stop offset="0.470" stop-color="#01b8ca"/><stop offset="0.478" stop-color="#02bac4"/><stop offset="0.506" stop-color="#24c1af"/><stop offset="0.546" stop-color="#3fca8e"/><stop offset="0.566" stop-color="#55cc7c"/><stop offset="0.638" stop-color="#aac739"/><stop offset="0.666" stop-color="#c6c22a"/><stop offset="0.692" stop-color="#dcbd29"/><stop offset="0.724" stop-color="#f0ba36"/><stop offset="0.726" stop-color="#b9c430"/><stop offset="0.728" stop-color="#72cd63"/><stop offset="0.730" stop-color="#37c897"/><stop offset="0.732" stop-color="#0bbdbc"/><stop offset="0.734" stop-color="#18addb"/><stop offset="0.738" stop-color="#327bfc"/><stop offset="0.740" stop-color="#465dfb"/><stop offset="0.742" stop-color="#4741e5"/><stop offset="0.744" stop-color="#402ab4"/><stop offset="1.000" stop-color="#3f29b0"/></linearGradient><linearGradient id="hc12"><stop offset="0.000" stop-color="#402ab5"/><stop offset="0.194" stop-color="#422fc1"/><stop offset="0.294" stop-color="#463bdd"/><stop offset="0.348" stop-color="#475cfa"/><stop offset="0.372" stop-color="#3974fe"/><stop offset="0.424" stop-color="#23a0e5"/><stop offset="0.446" stop-color="#18addb"/><stop offset="0.470" stop-color="#01b7ca"/><stop offset="0.478" stop-color="#02bac4"/><stop offset="0.506" stop-color="#23c1af"/><stop offset="0.546" stop-color="#3fca8e"/><stop offset="0.578" stop-color="#62cd70"/><stop offset="0.638" stop-color="#aac73a"/><stop offset="0.678" stop-color="#d1bf27"/><stop offset="0.710" stop-color="#e9bb2f"/><stop offset="0.712" stop-color="#cbc129"/><stop offset="0.714" stop-color="#89cb53"/><stop offset="0.716" stop-color="#46cb88"/><stop offset="0.718" stop-color="#21c1b0"/><stop offset="0.720" stop-color="#0ab4d1"/><stop offset="0.722" stop-color="#239fe5"/><stop offset="0.724" stop-color="#2e87f7"/><stop offset="0.726" stop-color="#4269fe"/><stop offset="0.728" stop-color="#484df0"/><stop offset="0.730" stop-color="#4433cc"/><stop offset="0.732" stop-color="#402ab5"/><stop offset="1.000" stop-color="#3f29af"/></linearGradient><linearGradient id="hc13"><stop offset="0.000" stop-color="#402ab4"/><stop offset="0.184" stop-color="#422ebf"/><stop offset="0.278" stop-color="#4537d5"/><stop offset="0.324" stop-color="#4849ed"/><stop offset="0.356" stop-color="#4563fd"/><stop offset="0.374" stop-color="#3876fe"/><stop offset="0.426" stop-color="#22a1e4"/><stop offset="0.446" stop-color="#19addc"/><stop offset="0.470" stop-color="#02b7cb"/><stop offset="0.478" stop-color="#02bac4"/><stop offset="0.508" stop-color="#25c2ad"/><stop offset="0.546" stop-color="#3eca8f"/><stop offset="0.568" stop-color="#57cc7a"/><stop offset="0.640" stop-color="#acc738"/><stop offset="0.666" stop-color="#c6c22a"/><stop offset="0.694" stop-color="#ddbd29"/><stop offset="0.698" stop-color="#e0bc2a"/><stop offset="0.700" stop-color="#a6c83d"/><stop offset="0.702" stop-color="#61cd72"/><stop offset="0.704" stop-color="#31c6a0"/><stop offset="0.706" stop-color="#03bbc3"/><stop offset="0.708" stop-color="#1baade"/><stop offset="0.712" stop-color="#3579fd"/><stop offset="0.714" stop-color="#475cfa"/><stop offset="0.716" stop-color="#4741e5"/><stop offset="0.718" stop-color="#402ab5"/><stop offset="1.000" stop-color="#3f28af"/></linearGradient><linearGradient id="hc14"><stop offset="0.000" stop-color="#402ab4"/><stop offset="0.196" stop-color="#422fc1"/><stop offset="0.296" stop-color="#463bdd"/><stop offset="0.350" stop-color="#475dfa"/><stop offset="0.374" stop-color="#3875fe"/><stop offset="0.426" stop-color="#23a1e4"/><stop offset="0.478" stop-color="#02bac5"/><stop offset="0.508" stop-color="#25c2ae"/><stop offset="0.546" stop-color="#3eca8f"/><stop offset="0.568" stop-color="#56cc7b"/><stop offset="0.640" stop-color="#acc739"/><stop offset="0.684" stop-color="#d5be28"/><stop offset="0.686" stop-color="#c4c22a"/><stop offset="0.688" stop-color="#84cc56"/><stop offset="0.690" stop-color="#44cb89"/><stop offset="0.694" stop-color="#07b5d0"/><stop offset="0.696" stop-color="#22a1e4"/><stop offset="0.700" stop-color="#3f6eff"/><stop offset="0.702" stop-color="#4853f5"/><stop offset="0.704" stop-color="#4539d9"/><stop offset="0.706" stop-color="#402ab5"/><stop offset="1.000" stop-color="#3f28af"/></linearGradient><linearGradient id="hc15"><stop offset="0.000" stop-color="#402ab4"/><stop offset="0.186" stop-color="#422ebf"/><stop offset="0.280" stop-color="#4537d5"/><stop offset="0.326" stop-color="#4849ed"/><stop offset="0.356" stop-color="#4562fc"/><stop offset="0.374" stop-color="#3975fe"/><stop offset="0.426" stop-color="#23a1e4"/><stop offset="0.448" stop-color="#18aedb"/><stop offset="0.470" stop-color="#02b7cb"/><stop offset="0.480" stop-color="#02bac3"/><stop offset="0.508" stop-color="#24c2ae"/><stop offset="0.548" stop-color="#40ca8d"/><stop offset="0.580" stop-color="#64cd6f"/><stop offset="0.628" stop-color="#9ec942"/><stop offset="0.668" stop-color="#c7c12a"/><stop offset="0.672" stop-color="#cac129"/><stop offset="0.674" stop-color="#aec637"/><stop offset="0.676" stop-color="#6ccd69"/><stop offset="0.678" stop-color="#37c898"/><stop offset="0.680" stop-color="#0fbeba"/><stop offset="0.682" stop-color="#14b0d8"/><stop offset="0.686" stop-color="#2e84f9"/><stop offset="0.688" stop-color="#4368fd"/><stop offset="0.690" stop-color="#484df1"/><stop offset="0.692" stop-color="#4434d0"/><stop offset="0.694" stop-color="#402ab5"/><stop offset="1.000" stop-color="#3f28af"/></linearGradient><linearGradient id="hc16"><stop offset="0.000" stop-color="#402ab4"/><stop offset="0.188" stop-color="#422ebf"/><stop offset="0.282" stop-color="#4537d5"/><stop offset="0.326" stop-color="#4848ec"/><stop offset="0.358" stop-color="#4563fd"/><stop offset="0.374" stop-color="#3974fe"/><stop offset="0.386" stop-color="#2f81fa"/><stop offset="0.426" stop-color="#23a0e5"/><stop offset="0.448" stop-color="#18aedb"/><stop offset="0.472" stop-color="#01b8ca"/><stop offset="0.480" stop-color="#02bac4"/><stop offset="0.508" stop-color="#24c1ae"/><stop offset="0.548" stop-color="#3fca8e"/><stop offset="0.572" stop-color="#5acc77"/><stop offset="0.628" stop-color="#9ec943"/><stop offset="0.660" stop-color="#bfc32d"/><stop offset="0.662" stop-color="#9ec942"/><stop offset="0.664" stop-color="#5dcc75"/><stop offset="0.666" stop-color="#31c6a0"/><stop offset="0.668" stop-color="#06bcc0"/><stop offset="0.670" stop-color="#19addc"/><stop offset="0.674" stop-color="#2f80fa"/><stop offset="0.676" stop-color="#4465fd"/><stop offset="0.678" stop-color="#484bef"/><stop offset="0.680" stop-color="#4433cd"/><stop offset="0.682" stop-color="#402ab5"/><stop offset="1.000" stop-color="#3f28af"/></linearGradient><linearGradient id="hc17"><stop offset="0.000" stop-color="#402ab3"/><stop offset="0.190" stop-color="#422ebe"/><stop offset="0.284" stop-color="#4537d5"/><stop offset="0.328" stop-color="#4849ed"/><stop offset="0.358" stop-color="#4563fc"/><stop offset="0.376" stop-color="#3876fe"/><stop offset="0.428" stop-color="#22a2e4"/><stop offset="0.448" stop-color="#18addb"/><stop offset="0.472" stop-color="#01b8ca"/><stop offset="0.480" stop-color="#02bac4"/><stop offset="0.508" stop-color="#24c1ae"/><stop offset="0.548" stop-color="#3fca8e"/><stop offset="0.570" stop-color="#57cc7a"/><stop offset="0.648" stop-color="#b3c534"/><stop offset="0.650" stop-color="#95ca49"/><stop offset="0.652" stop-color="#57cc7a"/><stop offset="0.656" stop-color="#03bbc3"/><stop offset="0.658" stop-color="#1aacdd"/><stop offset="0.662" stop-color="#3080fa"/><stop offset="0.664" stop-color="#4465fd"/><stop offset="0.666" stop-color="#484cef"/><stop offset="0.668" stop-color="#4434cf"/><stop offset="0.670" stop-color="#402bb6"/><stop offset="1.000" stop-color="#3f28af"/></linearGradient><linearGradient id="hc18"><stop offset="0.000" stop-color="#402ab3"/><stop offset="0.192" stop-color="#422ebe"/><stop offset="0.286" stop-color="#4537d5"/><stop offset="0.330" stop-color="#484aed"/><stop offset="0.358" stop-color="#4562fc"/><stop offset="0.376" stop-color="#3875fe"/><stop offset="0.428" stop-color="#22a1e4"/><stop offset="0.448" stop-color="#18addb"/><stop offset="0.472" stop-color="#01b8ca"/><stop offset="0.480" stop-color="#02bac4"/><stop offset="0.508" stop-color="#24c1af"/><stop offset="0.560" stop-color="#4bcb83"/><stop offset="0.636" stop-color="#a5c83d"/><stop offset="0.638" stop-color="#94ca4a"/><stop offset="0.640" stop-color="#56cc7a"/><stop offset="0.644" stop-color="#04bbc1"/><stop offset="0.646" stop-color="#19addb"/><stop offset="0.650" stop-color="#2e83f9"/><stop offset="0.652" stop-color="#4369fe"/><stop offset="0.654" stop-color="#4850f2"/><stop offset="0.656" stop-color="#4538d7"/><stop offset="0.658" stop-color="#402bb6"/><stop offset="1.000" stop-color="#3f28af"/></linearGradient><linearGradient id="hc19"><stop offset="0.000" stop-color="#402ab3"/><stop offset="0.194" stop-color="#412ebe"/><stop offset="0.288" stop-color="#4537d5"/><stop offset="0.330" stop-color="#4849ed"/><stop offset="0.360" stop-color="#4563fd"/><stop offset="0.376" stop-color="#3975fe"/><stop offset="0.426" stop-color="#23a0e5"/><stop offset="0.448" stop-color="#19addb"/><stop offset="0.472" stop-color="#01b7ca"/><stop offset="0.480" stop-color="#02bac4"/><stop offset="0.508" stop-color="#23c1af"/><stop offset="0.548" stop-color="#3fca8e"/><stop offset="0.582" stop-color="#65cd6e"/><stop offset="0.626" stop-color="#9ac945"/><stop offset="0.628" stop-color="#5ecd74"/><stop offset="0.632" stop-color="#0cbdbc"/><stop offset="0.634" stop-color="#13b0d7"/><stop offset="0.640" stop-color="#3e6fff"/><stop offset="0.642" stop-color="#4757f7"/><stop offset="0.644" stop-color="#473ee2"/><stop offset="0.646" stop-color="#402bb7"/><stop offset="1.000" stop-color="#3f28af"/></linearGradient><linearGradient id="hc20"><stop offset="0.000" stop-color="#402ab3"/><stop offset="0.194" stop-color="#412ebe"/><stop offset="0.288" stop-color="#4536d4"/><stop offset="0.330" stop-color="#4848ec"/><stop offset="0.360" stop-color="#4563fc"/><stop offset="0.376" stop-color="#3974fe"/><stop offset="0.388" stop-color="#2f81fa"/><stop offset="0.426" stop-color="#23a0e5"/><stop offset="0.480" stop-color="#02bac4"/><stop offset="0.510" stop-color="#25c2ae"/><stop offset="0.548" stop-color="#3eca8f"/><stop offset="0.582" stop-color="#64cd6f"/><stop offset="0.614" stop-color="#8bcb51"/><stop offset="0.616" stop-color="#6acd6a"/><stop offset="0.618" stop-color="#39c994"/><stop offset="0.620" stop-color="#1ac0b5"/><stop offset="0.622" stop-color="#08b5d0"/><stop offset="0.624" stop-color="#20a4e3"/><stop offset="0.628" stop-color="#3579fd"/><stop offset="0.630" stop-color="#4660fb"/><stop offset="0.632" stop-color="#4848ec"/><stop offset="0.634" stop-color="#4433cb"/><stop offset="0.636" stop-color="#402bb6"/><stop offset="1.000" stop-color="#3f28ae"/></linearGradient><linearGradient id="hc21"><stop offset="0.000" stop-color="#4029b3"/><stop offset="0.194" stop-color="#412dbd"/><stop offset="0.288" stop-color="#4536d4"/><stop offset="0.330" stop-color="#4747ec"/><stop offset="0.360" stop-color="#4562fc"/><stop offset="0.376" stop-color="#3a74fe"/><stop offset="0.388" stop-color="#2f80fa"/><stop offset="0.428" stop-color="#23a1e5"/><stop offset="0.450" stop-color="#17aedb"/><stop offset="0.472" stop-color="#02b7cb"/><stop offset="0.482" stop-color="#02bac3"/><stop offset="0.510" stop-color="#25c2ae"/><stop offset="0.548" stop-color="#3eca8f"/><stop offset="0.582" stop-color="#64cd6f"/><stop offset="0.604" stop-color="#7fcc5a"/><stop offset="0.606" stop-color="#48cb86"/><stop offset="0.608" stop-color="#2ac3a9"/><stop offset="0.610" stop-color="#01bac5"/><stop offset="0.612" stop-color="#1aacdd"/><stop offset="0.616" stop-color="#2e84f8"/><stop offset="0.618" stop-color="#416cfe"/><stop offset="0.620" stop-color="#4854f6"/><stop offset="0.622" stop-color="#463de0"/><stop offset="0.624" stop-color="#402bb7"/><stop offset="1.000" stop-color="#3f28ae"/></linearGradient><linearGradient id="hc22"><stop offset="0.000" stop-color="#3f29b2"/><stop offset="0.196" stop-color="#412dbd"/><stop offset="0.290" stop-color="#4536d4"/><stop offset="0.332" stop-color="#4848ec"/><stop offset="0.362" stop-color="#4564fd"/><stop offset="0.378" stop-color="#3875fe"/><stop offset="0.428" stop-color="#23a0e5"/><stop offset="0.450" stop-color="#18aedb"/><stop offset="0.474" stop-color="#01b8ca"/><stop offset="0.482" stop-color="#02bac3"/><stop offset="0.510" stop-color="#24c2ae"/><stop offset="0.550" stop-color="#40ca8e"/><stop offset="0.584" stop-color="#65cd6e"/><stop offset="0.592" stop-color="#6fcd66"/><stop offset="0.594" stop-color="#5ecc74"/><stop offset="0.598" stop-color="#14beb8"/><stop offset="0.600" stop-color="#0bb4d2"/><stop offset="0.602" stop-color="#21a3e3"/><stop offset="0.606" stop-color="#337afd"/><stop offset="0.608" stop-color="#4562fc"/><stop offset="0.610" stop-color="#484cef"/><stop offset="0.612" stop-color="#4536d4"/><stop offset="0.614" stop-color="#402bb7"/><stop offset="1.000" stop-color="#3f28ae"/></linearGradient><linearGradient id="hc23"><stop offset="0.000" stop-color="#3f29b2"/><stop offset="0.196" stop-color="#412dbc"/><stop offset="0.290" stop-color="#4536d3"/><stop offset="0.332" stop-color="#4747ec"/><stop offset="0.362" stop-color="#4563fd"/><stop offset="0.378" stop-color="#3975fe"/><stop offset="0.428" stop-color="#23a0e5"/><stop offset="0.450" stop-color="#18addb"/><stop offset="0.474" stop-color="#01b8ca"/><stop offset="0.482" stop-color="#02bac4"/><stop offset="0.510" stop-color="#24c1ae"/><stop offset="0.550" stop-color="#3fca8e"/><stop offset="0.582" stop-color="#62cd70"/><stop offset="0.584" stop-color="#49cb85"/><stop offset="0.586" stop-color="#2cc4a7"/><stop offset="0.588" stop-color="#03bbc2"/><stop offset="0.590" stop-color="#16afda"/><stop offset="0.596" stop-color="#3a74fe"/><stop offset="0.598" stop-color="#475dfa"/><stop offset="0.600" stop-color="#4747eb"/><stop offset="0.602" stop-color="#4433cc"/><stop offset="0.604" stop-color="#402bb7"/><stop offset="1.000" stop-color="#3f28ae"/></linearGradient><linearGradient id="hc24"><stop offset="0.000" stop-color="#3f29b2"/><stop offset="0.200" stop-color="#412dbc"/><stop offset="0.292" stop-color="#4536d3"/><stop offset="0.332" stop-color="#4747eb"/><stop offset="0.362" stop-color="#4562fc"/><stop offset="0.378" stop-color="#3974fe"/><stop offset="0.390" stop-color="#2f81fa"/><stop offset="0.428" stop-color="#23a0e5"/><stop offset="0.450" stop-color="#18addb"/><stop offset="0.474" stop-color="#01b8ca"/><stop offset="0.482" stop-color="#02bac4"/><stop offset="0.510" stop-color="#24c1af"/><stop offset="0.550" stop-color="#3fca8e"/><stop offset="0.572" stop-color="#57cc7a"/><stop offset="0.576" stop-color="#24c1af"/><stop offset="0.578" stop-color="#01b8c9"/><stop offset="0.580" stop-color="#1babde"/><stop offset="0.586" stop-color="#3d70ff"/><stop offset="0.588" stop-color="#475af9"/><stop offset="0.590" stop-color="#4744e9"/><stop offset="0.592" stop-color="#4332c8"/><stop offset="0.594" stop-color="#402bb7"/><stop offset="1.000" stop-color="#3f28ae"/></linearGradient><linearGradient id="hc25"><stop offset="0.000" stop-color="#3f29b2"/><stop offset="0.200" stop-color="#412dbc"/><stop offset="0.292" stop-color="#4535d2"/><stop offset="0.332" stop-color="#4746ea"/><stop offset="0.362" stop-color="#4562fc"/><stop offset="0.378" stop-color="#3a74fe"/><stop offset="0.390" stop-color="#2f81fa"/><stop offset="0.422" stop-color="#259ce7"/><stop offset="0.450" stop-color="#19addc"/><stop offset="0.476" stop-color="#01b8c9"/><stop offset="0.484" stop-color="#03bbc3"/><stop offset="0.512" stop-color="#25c2ad"/><stop offset="0.562" stop-color="#4bcb84"/><stop offset="0.564" stop-color="#37c897"/><stop offset="0.568" stop-color="#03b7cc"/><stop offset="0.570" stop-color="#1ca9df"/><stop offset="0.574" stop-color="#2e85f8"/><stop offset="0.576" stop-color="#3e6fff"/><stop offset="0.580" stop-color="#4745e9"/><stop offset="0.582" stop-color="#4332ca"/><stop offset="0.584" stop-color="#402bb8"/><stop offset="1.000" stop-color="#3f28ae"/></linearGradient><linearGradient id="hc26"><stop offset="0.000" stop-color="#3f29b1"/><stop offset="0.200" stop-color="#412dbc"/><stop offset="0.292" stop-color="#4435d1"/><stop offset="0.332" stop-color="#4745e9"/><stop offset="0.358" stop-color="#475dfa"/><stop offset="0.376" stop-color="#3d71ff"/><stop offset="0.390" stop-color="#2f80fa"/><stop offset="0.422" stop-color="#259be8"/><stop offset="0.450" stop-color="#19addc"/><stop offset="0.476" stop-color="#01b8c9"/><stop offset="0.484" stop-color="#02bbc3"/><stop offset="0.512" stop-color="#25c2ae"/><stop offset="0.552" stop-color="#40ca8d"/><stop offset="0.554" stop-color="#35c79a"/><stop offset="0.558" stop-color="#04b6cd"/><stop offset="0.560" stop-color="#1ca9df"/><stop offset="0.566" stop-color="#3d71ff"/><stop offset="0.570" stop-color="#4848ec"/><stop offset="0.574" stop-color="#402bb8"/><stop offset="1.000" stop-color="#3f28ae"/></linearGradient><linearGradient id="hc27"><stop offset="0.000" stop-color="#3f29b1"/><stop offset="0.212" stop-color="#412dbc"/><stop offset="0.304" stop-color="#4537d6"/><stop offset="0.336" stop-color="#4747ec"/><stop offset="0.376" stop-color="#3d70ff"/><stop offset="0.390" stop-color="#3080fb"/><stop offset="0.416" stop-color="#2797eb"/><stop offset="0.462" stop-color="#0eb2d4"/><stop offset="0.466" stop-color="#416bfe"/><stop offset="0.468" stop-color="#4742e6"/><stop offset="0.470" stop-color="#4331c6"/><stop offset="0.618" stop-color="#402ab5"/><stop offset="1.000" stop-color="#3f28ad"/></linearGradient><linearGradient id="hc28"><stop offset="0.000" stop-color="#3f29b1"/><stop offset="0.214" stop-color="#412dbc"/><stop offset="0.268" stop-color="#4331c6"/><stop offset="0.306" stop-color="#4537d6"/><stop offset="0.338" stop-color="#4848ec"/><stop offset="0.376" stop-color="#3e6fff"/><stop offset="0.392" stop-color="#2f81fa"/><stop offset="0.416" stop-color="#2796eb"/><stop offset="0.462" stop-color="#0eb2d4"/><stop offset="0.466" stop-color="#426afe"/><stop offset="0.468" stop-color="#4742e6"/><stop offset="0.470" stop-color="#4330c5"/><stop offset="0.618" stop-color="#402ab5"/><stop offset="1.000" stop-color="#3f28ad"/></linearGradient><linearGradient id="hc29"><stop offset="0.000" stop-color="#3f29b1"/><stop offset="0.214" stop-color="#412dbc"/><stop offset="0.268" stop-color="#4331c6"/><stop offset="0.306" stop-color="#4537d5"/><stop offset="0.338" stop-color="#4747ec"/><stop offset="0.376" stop-color="#3e6fff"/><stop offset="0.392" stop-color="#2f81fa"/><stop offset="0.416" stop-color="#2896eb"/><stop offset="0.462" stop-color="#0fb2d4"/><stop offset="0.466" stop-color="#426afe"/><stop offset="0.468" stop-color="#4741e5"/><stop offset="0.470" stop-color="#4330c4"/><stop offset="0.630" stop-color="#402ab4"/><stop offset="1.000" stop-color="#3f28ad"/></linearGradient><linearGradient id="hc30"><stop offset="0.000" stop-color="#3f29b0"/><stop offset="0.216" stop-color="#412dbb"/><stop offset="0.270" stop-color="#4330c5"/><stop offset="0.308" stop-color="#4537d6"/><stop offset="0.338" stop-color="#4747eb"/><stop offset="0.362" stop-color="#465efb"/><stop offset="0.378" stop-color="#3d71ff"/><stop offset="0.392" stop-color="#2f80fa"/><stop offset="0.416" stop-color="#2896ec"/><stop offset="0.462" stop-color="#0fb2d5"/><stop offset="0.466" stop-color="#426afe"/><stop offset="0.468" stop-color="#4741e5"/><stop offset="0.470" stop-color="#4230c4"/><stop offset="0.630" stop-color="#402ab4"/><stop offset="1.000" stop-color="#3f28ad"/></linearGradient><linearGradient id="hc31"><stop offset="0.000" stop-color="#3f29b0"/><stop offset="0.220" stop-color="#412dbb"/><stop offset="0.272" stop-color="#4330c5"/><stop offset="0.310" stop-color="#4537d6"/><stop offset="0.340" stop-color="#4747eb"/><stop offset="0.378" stop-color="#3e70ff"/><stop offset="0.392" stop-color="#3080fa"/><stop offset="0.416" stop-color="#2895ec"/><stop offset="0.462" stop-color="#10b2d5"/><stop offset="0.466" stop-color="#4269fe"/><stop offset="0.468" stop-color="#4741e4"/><stop offset="0.470" stop-color="#4230c3"/><stop offset="0.630" stop-color="#402ab3"/><stop offset="1.000" stop-color="#3f28ad"/></linearGradient><linearGradient id="hc32"><stop offset="0.000" stop-color="#3f29b0"/><stop offset="0.220" stop-color="#412dbb"/><stop offset="0.272" stop-color="#4230c4"/><stop offset="0.310" stop-color="#4536d5"/><stop offset="0.340" stop-color="#4747eb"/><stop offset="0.378" stop-color="#3e6fff"/><stop offset="0.394" stop-color="#2f81fa"/><stop offset="0.418" stop-color="#2797eb"/><stop offset="0.462" stop-color="#10b2d5"/><stop offset="0.466" stop-color="#4269fe"/><stop offset="0.468" stop-color="#4740e4"/><stop offset="0.470" stop-color="#422fc2"/><stop offset="0.630" stop-color="#402ab3"/><stop offset="1.000" stop-color="#3f28ad"/></linearGradient><linearGradient id="hc33"><stop offset="0.000" stop-color="#3f29b0"/><stop offset="0.222" stop-color="#412cbb"/><stop offset="0.276" stop-color="#4330c5"/><stop offset="0.312" stop-color="#4537d5"/><stop offset="0.340" stop-color="#4746ea"/><stop offset="0.378" stop-color="#3f6fff"/><stop offset="0.394" stop-color="#2f81fa"/><stop offset="0.416" stop-color="#2995ec"/><stop offset="0.462" stop-color="#11b1d6"/><stop offset="0.464" stop-color="#2b91ef"/><stop offset="0.466" stop-color="#4368fe"/><stop offset="0.468" stop-color="#4740e4"/><stop offset="0.470" stop-color="#422fc1"/><stop offset="0.628" stop-color="#402ab3"/><stop offset="1.000" stop-color="#3e28ad"/></linearGradient><linearGradient id="hc34"><stop offset="0.000" stop-color="#3f29b0"/><stop offset="0.224" stop-color="#412cba"/><stop offset="0.278" stop-color="#4230c4"/><stop offset="0.314" stop-color="#4537d5"/><stop offset="0.342" stop-color="#4746eb"/><stop offset="0.380" stop-color="#3d70ff"/><stop offset="0.394" stop-color="#2f80fa"/><stop offset="0.418" stop-color="#2896ec"/><stop offset="0.462" stop-color="#12b1d6"/><stop offset="0.464" stop-color="#2b91ef"/><stop offset="0.466" stop-color="#4368fe"/><stop offset="0.468" stop-color="#4740e3"/><stop offset="0.470" stop-color="#422fc1"/><stop offset="0.628" stop-color="#3f29b2"/><stop offset="1.000" stop-color="#3e28ac"/></linearGradient><linearGradient id="hc35"><stop offset="0.000" stop-color="#3f28af"/><stop offset="0.226" stop-color="#412cba"/><stop offset="0.278" stop-color="#4230c4"/><stop offset="0.314" stop-color="#4536d4"/><stop offset="0.342" stop-color="#4746ea"/><stop offset="0.380" stop-color="#3e70ff"/><stop offset="0.394" stop-color="#3080fa"/><stop offset="0.440" stop-color="#20a5e2"/><stop offset="0.442" stop-color="#2e87f7"/><stop offset="0.444" stop-color="#4562fc"/><stop offset="0.446" stop-color="#4740e3"/><stop offset="0.448" stop-color="#4331c6"/><stop offset="0.600" stop-color="#402ab3"/><stop offset="1.000" stop-color="#3e28ac"/></linearGradient><linearGradient id="hc36"><stop offset="0.000" stop-color="#3f28af"/><stop offset="0.226" stop-color="#412cb9"/><stop offset="0.278" stop-color="#422fc3"/><stop offset="0.314" stop-color="#4536d2"/><stop offset="0.342" stop-color="#4745e9"/><stop offset="0.380" stop-color="#3e6fff"/><stop offset="0.396" stop-color="#2f81fa"/><stop offset="0.440" stop-color="#20a5e3"/><stop offset="0.442" stop-color="#2e86f7"/><stop offset="0.444" stop-color="#4562fc"/><stop offset="0.446" stop-color="#473fe2"/><stop offset="0.448" stop-color="#4330c5"/><stop offset="0.600" stop-color="#402ab3"/><stop offset="1.000" stop-color="#3e28ac"/></linearGradient><linearGradient id="hc37"><stop offset="0.000" stop-color="#3f28af"/><stop offset="0.228" stop-color="#412cb9"/><stop offset="0.280" stop-color="#422fc2"/><stop offset="0.316" stop-color="#4536d2"/><stop offset="0.344" stop-color="#4745ea"/><stop offset="0.380" stop-color="#3f6eff"/><stop offset="0.396" stop-color="#2f81fa"/><stop offset="0.440" stop-color="#20a4e3"/><stop offset="0.442" stop-color="#2e86f7"/><stop offset="0.444" stop-color="#4561fc"/><stop offset="0.446" stop-color="#473fe2"/><stop offset="0.448" stop-color="#4230c4"/><stop offset="0.600" stop-color="#4029b2"/><stop offset="1.000" stop-color="#3e28ac"/></linearGradient><linearGradient id="hc38"><stop offset="0.000" stop-color="#3f28af"/><stop offset="0.228" stop-color="#412cb8"/><stop offset="0.280" stop-color="#422fc1"/><stop offset="0.316" stop-color="#4435d1"/><stop offset="0.344" stop-color="#4744e9"/><stop offset="0.380" stop-color="#3f6dfe"/><stop offset="0.396" stop-color="#2f80fa"/><stop offset="0.440" stop-color="#20a4e3"/><stop offset="0.442" stop-color="#2e85f8"/><stop offset="0.444" stop-color="#4561fc"/><stop offset="0.446" stop-color="#473ee1"/><stop offset="0.448" stop-color="#4230c3"/><stop offset="0.600" stop-color="#3f29b2"/><stop offset="1.000" stop-color="#3e27ac"/></linearGradient><linearGradient id="hc39"><stop offset="0.000" stop-color="#3f28ae"/><stop offset="0.232" stop-color="#412cb8"/><stop offset="0.284" stop-color="#422fc2"/><stop offset="0.318" stop-color="#4435d1"/><stop offset="0.344" stop-color="#4743e7"/><stop offset="0.382" stop-color="#3e6fff"/><stop offset="0.398" stop-color="#2f82fa"/><stop offset="0.440" stop-color="#21a3e3"/><stop offset="0.442" stop-color="#2e85f8"/><stop offset="0.444" stop-color="#4660fc"/><stop offset="0.446" stop-color="#463ee1"/><stop offset="0.448" stop-color="#422fc2"/><stop offset="0.600" stop-color="#3f29b2"/><stop offset="1.000" stop-color="#3e27ac"/></linearGradient><linearGradient id="hc40"><stop offset="0.000" stop-color="#3f28ae"/><stop offset="0.232" stop-color="#402bb8"/><stop offset="0.284" stop-color="#422fc1"/><stop offset="0.318" stop-color="#4435d0"/><stop offset="0.344" stop-color="#4742e6"/><stop offset="0.382" stop-color="#3f6eff"/><stop offset="0.398" stop-color="#2f81fa"/><stop offset="0.440" stop-color="#21a3e3"/><stop offset="0.442" stop-color="#2e84f8"/><stop offset="0.444" stop-color="#4660fb"/><stop offset="0.446" stop-color="#463de0"/><stop offset="0.448" stop-color="#422fc1"/><stop offset="0.600" stop-color="#3f29b1"/><stop offset="1.000" stop-color="#3e27ac"/></linearGradient><linearGradient id="hc41"><stop offset="0.000" stop-color="#3f28ae"/><stop offset="0.232" stop-color="#402bb7"/><stop offset="0.284" stop-color="#422ec0"/><stop offset="0.318" stop-color="#4434ce"/><stop offset="0.344" stop-color="#4741e5"/><stop offset="0.380" stop-color="#416bfe"/><stop offset="0.398" stop-color="#2f81fa"/><stop offset="0.436" stop-color="#23a0e5"/><stop offset="0.438" stop-color="#249fe6"/><stop offset="0.444" stop-color="#317efb"/><stop offset="0.448" stop-color="#4465fd"/><stop offset="0.454" stop-color="#4741e4"/><stop offset="0.458" stop-color="#412ebe"/><stop offset="0.612" stop-color="#3f29b1"/><stop offset="1.000" stop-color="#3e27ac"/></linearGradient><linearGradient id="hc42"><stop offset="0.000" stop-color="#3f28ae"/><stop offset="0.234" stop-color="#402bb7"/><stop offset="0.286" stop-color="#422ebf"/><stop offset="0.320" stop-color="#4434ce"/><stop offset="0.346" stop-color="#4742e6"/><stop offset="0.380" stop-color="#416afe"/><stop offset="0.398" stop-color="#3080fa"/><stop offset="0.432" stop-color="#259ce7"/><stop offset="0.438" stop-color="#317dfc"/><stop offset="0.442" stop-color="#4465fd"/><stop offset="0.448" stop-color="#4742e6"/><stop offset="0.452" stop-color="#422ebf"/><stop offset="0.602" stop-color="#3f29b1"/><stop offset="1.000" stop-color="#3e27ab"/></linearGradient><linearGradient id="hc43"><stop offset="0.000" stop-color="#3f28ad"/><stop offset="0.236" stop-color="#402bb6"/><stop offset="0.288" stop-color="#422ebf"/><stop offset="0.320" stop-color="#4433cd"/><stop offset="0.346" stop-color="#4741e5"/><stop offset="0.376" stop-color="#4464fd"/><stop offset="0.398" stop-color="#307ffb"/><stop offset="0.426" stop-color="#2798ea"/><stop offset="0.432" stop-color="#327cfc"/><stop offset="0.436" stop-color="#4465fd"/><stop offset="0.442" stop-color="#4744e8"/><stop offset="0.446" stop-color="#4330c5"/><stop offset="0.448" stop-color="#422ebe"/><stop offset="0.598" stop-color="#3f29b0"/><stop offset="1.000" stop-color="#3e27ab"/></linearGradient><linearGradient id="hc44"><stop offset="0.000" stop-color="#3f28ad"/><stop offset="0.236" stop-color="#402bb6"/><stop offset="0.288" stop-color="#412ebe"/><stop offset="0.320" stop-color="#4433cb"/><stop offset="0.346" stop-color="#4740e3"/><stop offset="0.376" stop-color="#4564fd"/><stop offset="0.400" stop-color="#2f81fa"/><stop offset="0.420" stop-color="#2a92ee"/><stop offset="0.426" stop-color="#327cfc"/><stop offset="0.428" stop-color="#3d71ff"/><stop offset="0.432" stop-color="#475bf9"/><stop offset="0.436" stop-color="#4746eb"/><stop offset="0.442" stop-color="#422ebf"/><stop offset="0.590" stop-color="#3f29b0"/><stop offset="1.000" stop-color="#3e27ab"/></linearGradient><linearGradient id="hc45"><stop offset="0.000" stop-color="#3f28ad"/><stop offset="0.236" stop-color="#402ab5"/><stop offset="0.288" stop-color="#412dbd"/><stop offset="0.320" stop-color="#4332ca"/><stop offset="0.346" stop-color="#473fe2"/><stop offset="0.376" stop-color="#4563fc"/><stop offset="0.396" stop-color="#327cfc"/><stop offset="0.416" stop-color="#2c8ef1"/><stop offset="0.422" stop-color="#3b73fe"/><stop offset="0.426" stop-color="#465efb"/><stop offset="0.430" stop-color="#484bee"/><stop offset="0.436" stop-color="#422fc3"/><stop offset="0.438" stop-color="#422ebf"/><stop offset="0.584" stop-color="#3f29b0"/><stop offset="1.000" stop-color="#3e27ab"/></linearGradient><linearGradient id="hc46"><stop offset="0.000" stop-color="#3f28ad"/><stop offset="0.238" stop-color="#402ab5"/><stop offset="0.290" stop-color="#412dbc"/><stop offset="0.322" stop-color="#4332ca"/><stop offset="0.346" stop-color="#463de0"/><stop offset="0.374" stop-color="#465ffb"/><stop offset="0.390" stop-color="#3a74fe"/><stop offset="0.410" stop-color="#2d88f6"/><stop offset="0.416" stop-color="#3974fe"/><stop offset="0.422" stop-color="#4758f8"/><stop offset="0.428" stop-color="#463cde"/><stop offset="0.432" stop-color="#422ec0"/><stop offset="0.574" stop-color="#3f29b0"/><stop offset="1.000" stop-color="#3e27ab"/></linearGradient><linearGradient id="hc47"><stop offset="0.000" stop-color="#3e28ad"/><stop offset="0.234" stop-color="#402ab4"/><stop offset="0.290" stop-color="#412dbb"/><stop offset="0.322" stop-color="#4331c8"/><stop offset="0.346" stop-color="#463cdf"/><stop offset="0.374" stop-color="#465efb"/><stop offset="0.406" stop-color="#2e84f9"/><stop offset="0.412" stop-color="#3f6eff"/><stop offset="0.418" stop-color="#4854f5"/><stop offset="0.422" stop-color="#4742e6"/><stop offset="0.428" stop-color="#422ec0"/><stop offset="0.568" stop-color="#3f29b0"/><stop offset="1.000" stop-color="#3e27ab"/></linearGradient><linearGradient id="hc48"><stop offset="0.000" stop-color="#3e28ac"/><stop offset="0.234" stop-color="#402ab3"/><stop offset="0.322" stop-color="#4331c6"/><stop offset="0.348" stop-color="#463ddf"/><stop offset="0.374" stop-color="#465dfa"/><stop offset="0.402" stop-color="#307ffb"/><stop offset="0.408" stop-color="#4269fe"/><stop offset="0.414" stop-color="#4850f3"/><stop offset="0.424" stop-color="#422fc0"/><stop offset="0.562" stop-color="#3f29b0"/><stop offset="1.000" stop-color="#3e27ab"/></linearGradient><linearGradient id="hc49"><stop offset="0.000" stop-color="#3e27ac"/><stop offset="0.228" stop-color="#3f29b2"/><stop offset="0.318" stop-color="#422fc2"/><stop offset="0.348" stop-color="#463bde"/><stop offset="0.370" stop-color="#4756f7"/><stop offset="0.390" stop-color="#3d70ff"/><stop offset="0.398" stop-color="#3579fd"/><stop offset="0.408" stop-color="#4756f7"/><stop offset="0.414" stop-color="#473fe2"/><stop offset="0.420" stop-color="#422fc0"/><stop offset="0.460" stop-color="#402bb6"/><stop offset="0.612" stop-color="#3f28ae"/><stop offset="1.000" stop-color="#3e27aa"/></linearGradient><linearGradient id="hc50"><stop offset="0.000" stop-color="#3e27ac"/><stop offset="0.232" stop-color="#3f29b2"/><stop offset="0.320" stop-color="#422fc2"/><stop offset="0.350" stop-color="#463cde"/><stop offset="0.372" stop-color="#4758f8"/><stop offset="0.394" stop-color="#3a73fe"/><stop offset="0.396" stop-color="#3e70ff"/><stop offset="0.406" stop-color="#484df0"/><stop offset="0.416" stop-color="#422fc1"/><stop offset="0.456" stop-color="#402bb6"/><stop offset="0.606" stop-color="#3f28ae"/><stop offset="1.000" stop-color="#3e27aa"/></linearGradient><linearGradient id="hc51"><stop offset="0.000" stop-color="#3e27ac"/><stop offset="0.296" stop-color="#412cb9"/><stop offset="0.326" stop-color="#4230c3"/><stop offset="0.346" stop-color="#4537d7"/><stop offset="0.370" stop-color="#4854f5"/><stop offset="0.390" stop-color="#406dfe"/><stop offset="0.402" stop-color="#484cf0"/><stop offset="0.412" stop-color="#422fc1"/><stop offset="0.454" stop-color="#402bb6"/><stop offset="0.604" stop-color="#3f28ad"/><stop offset="1.000" stop-color="#3e27aa"/></linearGradient><linearGradient id="hc52"><stop offset="0.000" stop-color="#3e27ab"/><stop offset="0.298" stop-color="#402bb8"/><stop offset="0.326" stop-color="#422fc2"/><stop offset="0.346" stop-color="#4536d4"/><stop offset="0.370" stop-color="#4852f4"/><stop offset="0.388" stop-color="#4368fe"/><stop offset="0.400" stop-color="#4746ea"/><stop offset="0.408" stop-color="#422fc3"/><stop offset="0.452" stop-color="#402ab5"/><stop offset="1.000" stop-color="#3e27aa"/></linearGradient><linearGradient id="hc53"><stop offset="0.000" stop-color="#3e27ab"/><stop offset="0.300" stop-color="#402bb7"/><stop offset="0.328" stop-color="#422fc1"/><stop offset="0.348" stop-color="#4536d4"/><stop offset="0.368" stop-color="#484ef1"/><stop offset="0.384" stop-color="#4562fc"/><stop offset="0.396" stop-color="#4746eb"/><stop offset="0.406" stop-color="#422fc0"/><stop offset="0.452" stop-color="#402ab4"/><stop offset="1.000" stop-color="#3e27aa"/></linearGradient><linearGradient id="hc54"><stop offset="0.000" stop-color="#3e27ab"/><stop offset="0.304" stop-color="#402bb7"/><stop offset="0.330" stop-color="#422fc0"/><stop offset="0.348" stop-color="#4435d1"/><stop offset="0.368" stop-color="#484cf0"/><stop offset="0.382" stop-color="#465dfa"/><stop offset="0.394" stop-color="#4742e6"/><stop offset="0.404" stop-color="#422ebf"/><stop offset="0.450" stop-color="#402ab3"/><stop offset="1.000" stop-color="#3e27aa"/></linearGradient><linearGradient id="hc55"><stop offset="0.000" stop-color="#3e27ab"/><stop offset="0.306" stop-color="#402bb6"/><stop offset="0.332" stop-color="#422ebf"/><stop offset="0.350" stop-color="#4435d1"/><stop offset="0.378" stop-color="#4757f7"/><stop offset="0.390" stop-color="#4743e7"/><stop offset="0.400" stop-color="#422ec0"/><stop offset="0.448" stop-color="#4029b3"/><stop offset="1.000" stop-color="#3e27aa"/></linearGradient><linearGradient id="hd0"><stop offset="0.000" stop-color="#412cb9"/><stop offset="0.152" stop-color="#4331c7"/><stop offset="0.250" stop-color="#473fe2"/><stop offset="0.304" stop-color="#465efb"/><stop offset="0.328" stop-color="#3876fe"/><stop offset="0.382" stop-color="#20a4e3"/><stop offset="0.418" stop-color="#01b7ca"/><stop offset="0.426" stop-color="#02bac4"/><stop offset="0.452" stop-color="#25c2ad"/><stop offset="0.486" stop-color="#3fca8e"/><stop offset="0.506" stop-color="#57cc7a"/><stop offset="0.582" stop-color="#bbc430"/><stop offset="0.614" stop-color="#dbbd29"/><stop offset="0.654" stop-color="#f9ba3d"/><stop offset="0.678" stop-color="#fec338"/><stop offset="0.750" stop-color="#f5e327"/><stop offset="0.810" stop-color="#f9fb15"/><stop offset="0.846" stop-color="#f9fb15"/><stop offset="0.848" stop-color="#f5eb23"/><stop offset="0.850" stop-color="#fec339"/><stop offset="0.852" stop-color="#cbc129"/><stop offset="0.854" stop-color="#72cd64"/><stop offset="0.856" stop-color="#2fc5a3"/><stop offset="0.858" stop-color="#07b5cf"/><stop offset="0.860" stop-color="#269ae9"/><stop offset="0.862" stop-color="#3777fe"/><stop offset="0.864" stop-color="#4851f3"/><stop offset="0.866" stop-color="#4230c3"/><stop offset="0.868" stop-color="#402ab3"/><stop offset="1.000" stop-color="#3f29b1"/></linearGradient><linearGradient id="hd1"><stop offset="0.000" stop-color="#412cb9"/><stop offset="0.154" stop-color="#4331c7"/><stop offset="0.252" stop-color="#473fe3"/><stop offset="0.304" stop-color="#465efb"/><stop offset="0.328" stop-color="#3975fe"/><stop offset="0.380" stop-color="#21a3e4"/><stop offset="0.418" stop-color="#02b7cb"/><stop offset="0.426" stop-color="#02bac4"/><stop offset="0.452" stop-color="#25c2ae"/><stop offset="0.486" stop-color="#3eca8f"/><stop offset="0.506" stop-color="#57cc7a"/><stop offset="0.582" stop-color="#bbc430"/><stop offset="0.616" stop-color="#dcbd29"/><stop offset="0.654" stop-color="#f8ba3d"/><stop offset="0.680" stop-color="#fec438"/><stop offset="0.750" stop-color="#f5e327"/><stop offset="0.810" stop-color="#f9fb15"/><stop offset="0.830" stop-color="#f9fb15"/><stop offset="0.832" stop-color="#f5eb23"/><stop offset="0.834" stop-color="#fec438"/><stop offset="0.836" stop-color="#cec028"/><stop offset="0.838" stop-color="#77cc60"/><stop offset="0.840" stop-color="#32c69f"/><stop offset="0.842" stop-color="#03b7cc"/><stop offset="0.844" stop-color="#259de7"/><stop offset="0.846" stop-color="#327cfc"/><stop offset="0.848" stop-color="#4756f7"/><stop offset="0.850" stop-color="#4434ce"/><stop offset="0.852" stop-color="#402ab3"/><stop offset="1.000" stop-color="#3f29b1"/></linearGradient><linearGradient id="hd2"><stop offset="0.000" stop-color="#412cb9"/><stop offset="0.154" stop-color="#4331c6"/><stop offset="0.252" stop-color="#473fe2"/><stop offset="0.304" stop-color="#465dfa"/><stop offset="0.328" stop-color="#3975fe"/><stop offset="0.380" stop-color="#22a2e4"/><stop offset="0.418" stop-color="#02b7cb"/><stop offset="0.426" stop-color="#02bac4"/><stop offset="0.452" stop-color="#24c2ae"/><stop offset="0.486" stop-color="#3eca8f"/><stop offset="0.506" stop-color="#57cc7a"/><stop offset="0.582" stop-color="#bac430"/><stop offset="0.616" stop-color="#dcbd29"/><stop offset="0.654" stop-color="#f8ba3d"/><stop offset="0.680" stop-color="#fec438"/><stop offset="0.750" stop-color="#f5e327"/><stop offset="0.810" stop-color="#f9fb15"/><stop offset="0.814" stop-color="#f9fb15"/><stop offset="0.816" stop-color="#f6f01f"/><stop offset="0.818" stop-color="#fec934"/><stop offset="0.820" stop-color="#d9be28"/><stop offset="0.822" stop-color="#87cb54"/><stop offset="0.824" stop-color="#39c895"/><stop offset="0.826" stop-color="#02bac3"/><stop offset="0.828" stop-color="#21a4e3"/><stop offset="0.830" stop-color="#2e84f8"/><stop offset="0.832" stop-color="#465ffb"/><stop offset="0.834" stop-color="#463cde"/><stop offset="0.836" stop-color="#402ab4"/><stop offset="1.000" stop-color="#3f29b1"/></linearGradient><linearGradient id="hd3"><stop offset="0.000" stop-color="#412cb9"/><stop offset="0.156" stop-color="#4331c6"/><stop offset="0.252" stop-color="#473ee2"/><stop offset="0.306" stop-color="#465efb"/><stop offset="0.330" stop-color="#3876fe"/><stop offset="0.382" stop-color="#21a3e3"/><stop offset="0.418" stop-color="#02b7cb"/><stop offset="0.426" stop-color="#02bac4"/><stop offset="0.452" stop-color="#24c1ae"/><stop offset="0.486" stop-color="#3eca8f"/><stop offset="0.506" stop-color="#56cc7b"/><stop offset="0.582" stop-color="#bac430"/><stop offset="0.616" stop-color="#dcbd29"/><stop offset="0.654" stop-color="#f8ba3d"/><stop offset="0.680" stop-color="#fec338"/><stop offset="0.750" stop-color="#f5e327"/><stop offset="0.800" stop-color="#f8f719"/><stop offset="0.802" stop-color="#fbd32e"/><stop offset="0.804" stop-color="#ebba31"/><stop offset="0.806" stop-color="#a2c840"/><stop offset="0.808" stop-color="#4ccb83"/><stop offset="0.810" stop-color="#19bfb5"/><stop offset="0.812" stop-color="#19addc"/><stop offset="0.816" stop-color="#406dfe"/><stop offset="0.818" stop-color="#484aed"/><stop offset="0.820" stop-color="#402bb8"/><stop offset="1.000" stop-color="#3f29b1"/></linearGradient><linearGradient id="hd4"><stop offset="0.000" stop-color="#412cb8"/><stop offset="0.156" stop-color="#4331c6"/><stop offset="0.252" stop-color="#463ee1"/><stop offset="0.306" stop-color="#465dfb"/><stop offset="0.330" stop-color="#3876fe"/><stop offset="0.380" stop-color="#22a2e4"/><stop offset="0.426" stop-color="#02bac5"/><stop offset="0.452" stop-color="#24c1ae"/><stop offset="0.488" stop-color="#40ca8d"/><stop offset="0.508" stop-color="#59cc79"/><stop offset="0.582" stop-color="#bac430"/><stop offset="0.616" stop-color="#dcbd29"/><stop offset="0.654" stop-color="#f8ba3d"/><stop offset="0.680" stop-color="#fec338"/><stop offset="0.784" stop-color="#f6f11f"/><stop offset="0.786" stop-color="#f5e128"/><stop offset="0.788" stop-color="#fcbd3d"/><stop offset="0.790" stop-color="#c2c22c"/><stop offset="0.792" stop-color="#6dcd67"/><stop offset="0.794" stop-color="#2fc5a2"/><stop offset="0.796" stop-color="#03b6cc"/><stop offset="0.798" stop-color="#249ee6"/><stop offset="0.800" stop-color="#307ffb"/><stop offset="0.802" stop-color="#475bf9"/><stop offset="0.804" stop-color="#4639d9"/><stop offset="0.806" stop-color="#402ab4"/><stop offset="1.000" stop-color="#3f29b1"/></linearGradient><linearGradient id="hd5"><stop offset="0.000" stop-color="#402cb8"/><stop offset="0.148" stop-color="#4230c4"/><stop offset="0.238" stop-color="#463adb"/><stop offset="0.286" stop-color="#484ef1"/><stop offset="0.314" stop-color="#4464fd"/><stop offset="0.330" stop-color="#3975fe"/><stop offset="0.398" stop-color="#18addb"/><stop offset="0.420" stop-color="#01b8ca"/><stop offset="0.428" stop-color="#02bbc3"/><stop offset="0.450" stop-color="#21c1b0"/><stop offset="0.452" stop-color="#1da8e0"/><stop offset="0.502" stop-color="#02b7cb"/><stop offset="0.516" stop-color="#02bac4"/><stop offset="0.560" stop-color="#25c2ae"/><stop offset="0.620" stop-color="#3fca8e"/><stop offset="0.672" stop-color="#64cd6f"/><stop offset="0.770" stop-color="#afc637"/><stop offset="0.772" stop-color="#7ecc5b"/><stop offset="0.774" stop-color="#43ca8a"/><stop offset="0.778" stop-color="#04b6cd"/><stop offset="0.780" stop-color="#20a5e2"/><stop offset="0.784" stop-color="#3876fe"/><stop offset="0.786" stop-color="#475cfa"/><stop offset="0.788" stop-color="#4742e6"/><stop offset="0.790" stop-color="#412dbd"/><stop offset="0.792" stop-color="#3f29b1"/><stop offset="1.000" stop-color="#3f28ae"/></linearGradient><linearGradient id="hd6"><stop offset="0.000" stop-color="#402bb8"/><stop offset="0.158" stop-color="#4330c5"/><stop offset="0.254" stop-color="#463ee1"/><stop offset="0.308" stop-color="#465efb"/><stop offset="0.330" stop-color="#3974fe"/><stop offset="0.382" stop-color="#21a3e3"/><stop offset="0.420" stop-color="#01b8ca"/><stop offset="0.428" stop-color="#02bac3"/><stop offset="0.452" stop-color="#23c1af"/><stop offset="0.488" stop-color="#3fca8e"/><stop offset="0.508" stop-color="#58cc79"/><stop offset="0.582" stop-color="#b9c430"/><stop offset="0.616" stop-color="#dbbd29"/><stop offset="0.654" stop-color="#f8ba3d"/><stop offset="0.682" stop-color="#fec438"/><stop offset="0.754" stop-color="#f5e426"/><stop offset="0.756" stop-color="#f5e427"/><stop offset="0.758" stop-color="#fec03b"/><stop offset="0.760" stop-color="#ccc028"/><stop offset="0.762" stop-color="#7dcc5c"/><stop offset="0.764" stop-color="#37c898"/><stop offset="0.766" stop-color="#02bbc3"/><stop offset="0.768" stop-color="#1fa6e2"/><stop offset="0.770" stop-color="#2d89f5"/><stop offset="0.772" stop-color="#4367fd"/><stop offset="0.774" stop-color="#4746ea"/><stop offset="0.776" stop-color="#402ab4"/><stop offset="1.000" stop-color="#3f29b0"/></linearGradient><linearGradient id="hd7"><stop offset="0.000" stop-color="#402bb8"/><stop offset="0.160" stop-color="#4330c5"/><stop offset="0.254" stop-color="#463de0"/><stop offset="0.308" stop-color="#465dfb"/><stop offset="0.330" stop-color="#3a74fe"/><stop offset="0.342" stop-color="#2f81fa"/><stop offset="0.380" stop-color="#22a1e4"/><stop offset="0.400" stop-color="#17aeda"/><stop offset="0.420" stop-color="#01b7ca"/><stop offset="0.428" stop-color="#02bac4"/><stop offset="0.452" stop-color="#23c1af"/><stop offset="0.488" stop-color="#3fca8e"/><stop offset="0.516" stop-color="#62cd70"/><stop offset="0.560" stop-color="#9ec942"/><stop offset="0.594" stop-color="#c6c22a"/><stop offset="0.618" stop-color="#ddbd29"/><stop offset="0.654" stop-color="#f8ba3d"/><stop offset="0.668" stop-color="#febe3c"/><stop offset="0.740" stop-color="#f6de29"/><stop offset="0.742" stop-color="#f8da2b"/><stop offset="0.744" stop-color="#f7ba3c"/><stop offset="0.746" stop-color="#bac430"/><stop offset="0.748" stop-color="#69cd6a"/><stop offset="0.750" stop-color="#30c5a2"/><stop offset="0.752" stop-color="#01b8ca"/><stop offset="0.754" stop-color="#22a1e4"/><stop offset="0.756" stop-color="#2e84f8"/><stop offset="0.758" stop-color="#4562fc"/><stop offset="0.760" stop-color="#4742e6"/><stop offset="0.762" stop-color="#402ab4"/><stop offset="1.000" stop-color="#3f29b0"/></linearGradient><linearGradient id="hd8"><stop offset="0.000" stop-color="#402bb7"/><stop offset="0.160" stop-color="#4330c5"/><stop offset="0.256" stop-color="#463de0"/><stop offset="0.308" stop-color="#465dfa"/><stop offset="0.332" stop-color="#3876fe"/><stop offset="0.382" stop-color="#22a2e4"/><stop offset="0.420" stop-color="#02b7cb"/><stop offset="0.428" stop-color="#02bac4"/><stop offset="0.454" stop-color="#25c2ae"/><stop offset="0.488" stop-color="#3fca8e"/><stop offset="0.516" stop-color="#62cd71"/><stop offset="0.560" stop-color="#9ec942"/><stop offset="0.594" stop-color="#c6c22a"/><stop offset="0.618" stop-color="#ddbd29"/><stop offset="0.654" stop-color="#f7ba3d"/><stop offset="0.668" stop-color="#febe3c"/><stop offset="0.726" stop-color="#f9d72c"/><stop offset="0.728" stop-color="#fbd42e"/><stop offset="0.730" stop-color="#f0ba36"/><stop offset="0.732" stop-color="#b1c636"/><stop offset="0.734" stop-color="#61cd71"/><stop offset="0.736" stop-color="#2dc4a6"/><stop offset="0.738" stop-color="#04b6cd"/><stop offset="0.740" stop-color="#23a0e5"/><stop offset="0.742" stop-color="#2e83f9"/><stop offset="0.744" stop-color="#4561fc"/><stop offset="0.746" stop-color="#4741e5"/><stop offset="0.748" stop-color="#402ab5"/><stop offset="1.000" stop-color="#3f29b0"/></linearGradient><linearGradient id="hd9"><stop offset="0.000" stop-color="#402bb7"/><stop offset="0.162" stop-color="#4330c4"/><stop offset="0.256" stop-color="#463de0"/><stop offset="0.310" stop-color="#465efb"/><stop offset="0.332" stop-color="#3975fe"/><stop offset="0.382" stop-color="#22a2e4"/><stop offset="0.420" stop-color="#02b7cb"/><stop offset="0.428" stop-color="#02bac4"/><stop offset="0.454" stop-color="#25c2ae"/><stop offset="0.488" stop-color="#3eca8f"/><stop offset="0.518" stop-color="#64cd6f"/><stop offset="0.560" stop-color="#9ec942"/><stop offset="0.594" stop-color="#c6c22a"/><stop offset="0.618" stop-color="#ddbd29"/><stop offset="0.654" stop-color="#f7ba3c"/><stop offset="0.668" stop-color="#febe3c"/><stop offset="0.714" stop-color="#fbd22f"/><stop offset="0.716" stop-color="#efba35"/><stop offset="0.718" stop-color="#b1c635"/><stop offset="0.720" stop-color="#63cd70"/><stop offset="0.722" stop-color="#2ec4a4"/><stop offset="0.724" stop-color="#02b7cb"/><stop offset="0.726" stop-color="#22a2e4"/><stop offset="0.728" stop-color="#2e86f8"/><stop offset="0.730" stop-color="#4465fd"/><stop offset="0.732" stop-color="#4745e9"/><stop offset="0.734" stop-color="#402bb6"/><stop offset="1.000" stop-color="#3f29b0"/></linearGradient><linearGradient id="hd10"><stop offset="0.000" stop-color="#402bb7"/><stop offset="0.162" stop-color="#4230c4"/><stop offset="0.256" stop-color="#463cdf"/><stop offset="0.310" stop-color="#465dfb"/><stop offset="0.332" stop-color="#3974fe"/><stop offset="0.380" stop-color="#23a0e5"/><stop offset="0.428" stop-color="#02bac4"/><stop offset="0.454" stop-color="#24c2ae"/><stop offset="0.488" stop-color="#3eca8f"/><stop offset="0.508" stop-color="#57cc7a"/><stop offset="0.584" stop-color="#bac430"/><stop offset="0.618" stop-color="#dcbd29"/><stop offset="0.654" stop-color="#f7ba3c"/><stop offset="0.700" stop-color="#fdcb32"/><stop offset="0.702" stop-color="#f3ba39"/><stop offset="0.704" stop-color="#b9c431"/><stop offset="0.706" stop-color="#6ccd69"/><stop offset="0.708" stop-color="#32c69e"/><stop offset="0.710" stop-color="#01bac5"/><stop offset="0.712" stop-color="#1fa6e2"/><stop offset="0.716" stop-color="#416cfe"/><stop offset="0.718" stop-color="#484df0"/><stop offset="0.720" stop-color="#4331c6"/><stop offset="0.722" stop-color="#402ab5"/><stop offset="1.000" stop-color="#3f29b0"/></linearGradient><linearGradient id="hd11"><stop offset="0.000" stop-color="#402bb7"/><stop offset="0.150" stop-color="#422fc2"/><stop offset="0.238" stop-color="#4538d7"/><stop offset="0.284" stop-color="#4849ed"/><stop offset="0.328" stop-color="#3e6fff"/><stop offset="0.344" stop-color="#2f81fa"/><stop offset="0.400" stop-color="#18addb"/><stop offset="0.422" stop-color="#01b8ca"/><stop offset="0.430" stop-color="#02bbc3"/><stop offset="0.454" stop-color="#24c1ae"/><stop offset="0.478" stop-color="#36c899"/><stop offset="0.480" stop-color="#16afda"/><stop offset="0.482" stop-color="#2f81fa"/><stop offset="0.484" stop-color="#4849ed"/><stop offset="0.486" stop-color="#4331c6"/><stop offset="0.648" stop-color="#402bb7"/><stop offset="1.000" stop-color="#3f29b0"/></linearGradient><linearGradient id="hd12"><stop offset="0.000" stop-color="#402bb6"/><stop offset="0.152" stop-color="#422fc2"/><stop offset="0.240" stop-color="#4538d7"/><stop offset="0.286" stop-color="#4849ed"/><stop offset="0.312" stop-color="#465efb"/><stop offset="0.330" stop-color="#3d71ff"/><stop offset="0.344" stop-color="#2f80fa"/><stop offset="0.400" stop-color="#18addb"/><stop offset="0.422" stop-color="#01b8ca"/><stop offset="0.430" stop-color="#02bbc3"/><stop offset="0.454" stop-color="#24c1af"/><stop offset="0.478" stop-color="#36c799"/><stop offset="0.480" stop-color="#16aeda"/><stop offset="0.482" stop-color="#2f80fa"/><stop offset="0.484" stop-color="#4849ed"/><stop offset="0.486" stop-color="#4331c6"/><stop offset="0.648" stop-color="#402bb7"/><stop offset="1.000" stop-color="#3f29af"/></linearGradient><linearGradient id="hd13"><stop offset="0.000" stop-color="#402bb6"/><stop offset="0.154" stop-color="#422fc1"/><stop offset="0.242" stop-color="#4538d7"/><stop offset="0.288" stop-color="#484aee"/><stop offset="0.330" stop-color="#3d70ff"/><stop offset="0.344" stop-color="#3080fa"/><stop offset="0.400" stop-color="#19addc"/><stop offset="0.422" stop-color="#01b8ca"/><stop offset="0.430" stop-color="#02bac3"/><stop offset="0.462" stop-color="#2bc3a8"/><stop offset="0.464" stop-color="#1ca9df"/><stop offset="0.466" stop-color="#317dfc"/><stop offset="0.468" stop-color="#4849ed"/><stop offset="0.470" stop-color="#4332c9"/><stop offset="0.632" stop-color="#402bb8"/><stop offset="1.000" stop-color="#3f29af"/></linearGradient><linearGradient id="hd14"><stop offset="0.000" stop-color="#402bb6"/><stop offset="0.154" stop-color="#422fc1"/><stop offset="0.242" stop-color="#4537d6"/><stop offset="0.288" stop-color="#4849ed"/><stop offset="0.330" stop-color="#3e70ff"/><stop offset="0.346" stop-color="#2f82fa"/><stop offset="0.374" stop-color="#259be8"/><stop offset="0.400" stop-color="#19addc"/><stop offset="0.424" stop-color="#01b8c9"/><stop offset="0.432" stop-color="#04bbc2"/><stop offset="0.462" stop-color="#2bc3a8"/><stop offset="0.464" stop-color="#1ca9df"/><stop offset="0.466" stop-color="#327cfc"/><stop offset="0.468" stop-color="#4848ec"/><stop offset="0.470" stop-color="#4331c8"/><stop offset="0.632" stop-color="#402bb7"/><stop offset="1.000" stop-color="#3f28af"/></linearGradient><linearGradient id="hd15"><stop offset="0.000" stop-color="#402bb6"/><stop offset="0.154" stop-color="#422fc0"/><stop offset="0.242" stop-color="#4537d6"/><stop offset="0.288" stop-color="#4849ed"/><stop offset="0.330" stop-color="#3e6fff"/><stop offset="0.346" stop-color="#2f81fa"/><stop offset="0.374" stop-color="#269ae8"/><stop offset="0.402" stop-color="#18aedb"/><stop offset="0.424" stop-color="#01b8c9"/><stop offset="0.432" stop-color="#03bbc2"/><stop offset="0.462" stop-color="#2ac3a8"/><stop offset="0.464" stop-color="#1ca9e0"/><stop offset="0.466" stop-color="#327cfc"/><stop offset="0.468" stop-color="#4848ec"/><stop offset="0.470" stop-color="#4331c7"/><stop offset="0.632" stop-color="#402bb7"/><stop offset="1.000" stop-color="#3f28af"/></linearGradient><linearGradient id="hd16"><stop offset="0.000" stop-color="#402ab5"/><stop offset="0.156" stop-color="#422fc0"/><stop offset="0.244" stop-color="#4537d6"/><stop offset="0.288" stop-color="#4848ec"/><stop offset="0.314" stop-color="#465dfa"/><stop offset="0.332" stop-color="#3d71ff"/><stop offset="0.346" stop-color="#2f81fa"/><stop offset="0.376" stop-color="#259ce7"/><stop offset="0.402" stop-color="#18aedb"/><stop offset="0.424" stop-color="#01b8c9"/><stop offset="0.432" stop-color="#03bbc2"/><stop offset="0.462" stop-color="#2ac3a9"/><stop offset="0.464" stop-color="#1da9e0"/><stop offset="0.466" stop-color="#327cfc"/><stop offset="0.468" stop-color="#4848ec"/><stop offset="0.470" stop-color="#4331c7"/><stop offset="0.632" stop-color="#402bb7"/><stop offset="1.000" stop-color="#3f28af"/></linearGradient><linearGradient id="hd17"><stop offset="0.000" stop-color="#402ab5"/><stop offset="0.158" stop-color="#422fc0"/><stop offset="0.246" stop-color="#4537d6"/><stop offset="0.290" stop-color="#4849ed"/><stop offset="0.332" stop-color="#3d70ff"/><stop offset="0.346" stop-color="#2f80fa"/><stop offset="0.376" stop-color="#259be7"/><stop offset="0.402" stop-color="#18addb"/><stop offset="0.424" stop-color="#01b8ca"/><stop offset="0.432" stop-color="#03bbc3"/><stop offset="0.462" stop-color="#2ac3a9"/><stop offset="0.464" stop-color="#1da9e0"/><stop offset="0.466" stop-color="#327cfc"/><stop offset="0.468" stop-color="#4747ec"/><stop offset="0.470" stop-color="#4331c6"/><stop offset="0.632" stop-color="#402bb7"/><stop offset="1.000" stop-color="#3f28af"/></linearGradient><linearGradient id="hd18"><stop offset="0.000" stop-color="#402ab5"/><stop offset="0.160" stop-color="#422ec0"/><stop offset="0.248" stop-color="#4537d6"/><stop offset="0.290" stop-color="#4848ec"/><stop offset="0.332" stop-color="#3e6fff"/><stop offset="0.346" stop-color="#3080fb"/><stop offset="0.376" stop-color="#259be8"/><stop offset="0.402" stop-color="#18addb"/><stop offset="0.424" stop-color="#01b8ca"/><stop offset="0.432" stop-color="#02bbc3"/><stop offset="0.462" stop-color="#2ac3a9"/><stop offset="0.464" stop-color="#1da9e0"/><stop offset="0.466" stop-color="#327bfc"/><stop offset="0.468" stop-color="#4747eb"/><stop offset="0.470" stop-color="#4331c6"/><stop offset="0.632" stop-color="#402bb6"/><stop offset="1.000" stop-color="#3f28af"/></linearGradient><linearGradient id="hd19"><stop offset="0.000" stop-color="#402ab5"/><stop offset="0.162" stop-color="#422ec0"/><stop offset="0.248" stop-color="#4537d5"/><stop offset="0.290" stop-color="#4747eb"/><stop offset="0.332" stop-color="#3e6fff"/><stop offset="0.348" stop-color="#2f81fa"/><stop offset="0.376" stop-color="#259be8"/><stop offset="0.402" stop-color="#19addc"/><stop offset="0.424" stop-color="#01b8ca"/><stop offset="0.432" stop-color="#02bac3"/><stop offset="0.462" stop-color="#29c3a9"/><stop offset="0.464" stop-color="#1da8e0"/><stop offset="0.466" stop-color="#337bfc"/><stop offset="0.468" stop-color="#4747eb"/><stop offset="0.470" stop-color="#4330c5"/><stop offset="0.632" stop-color="#402bb6"/><stop offset="1.000" stop-color="#3f28af"/></linearGradient><linearGradient id="hd20"><stop offset="0.000" stop-color="#402ab4"/><stop offset="0.164" stop-color="#422ebf"/><stop offset="0.250" stop-color="#4537d5"/><stop offset="0.292" stop-color="#4848ec"/><stop offset="0.318" stop-color="#465efb"/><stop offset="0.334" stop-color="#3d70ff"/><stop offset="0.348" stop-color="#2f81fa"/><stop offset="0.378" stop-color="#259ce7"/><stop offset="0.402" stop-color="#19addc"/><stop offset="0.426" stop-color="#01b8c9"/><stop offset="0.434" stop-color="#04bbc2"/><stop offset="0.462" stop-color="#29c3aa"/><stop offset="0.464" stop-color="#1da8e0"/><stop offset="0.466" stop-color="#337bfd"/><stop offset="0.468" stop-color="#4746eb"/><stop offset="0.470" stop-color="#4230c4"/><stop offset="0.632" stop-color="#402bb6"/><stop offset="1.000" stop-color="#3f28ae"/></linearGradient><linearGradient id="hd21"><stop offset="0.000" stop-color="#402ab4"/><stop offset="0.178" stop-color="#422fc1"/><stop offset="0.268" stop-color="#463bdd"/><stop offset="0.318" stop-color="#465efb"/><stop offset="0.338" stop-color="#3975fe"/><stop offset="0.402" stop-color="#19addc"/><stop offset="0.424" stop-color="#02b7cb"/><stop offset="0.432" stop-color="#02bac4"/><stop offset="0.444" stop-color="#11beb9"/><stop offset="0.446" stop-color="#22a1e4"/><stop offset="0.448" stop-color="#3876fe"/><stop offset="0.450" stop-color="#4746ea"/><stop offset="0.452" stop-color="#4331c8"/><stop offset="0.610" stop-color="#402bb6"/><stop offset="1.000" stop-color="#3f28ae"/></linearGradient><linearGradient id="hd22"><stop offset="0.000" stop-color="#402ab4"/><stop offset="0.180" stop-color="#422fc1"/><stop offset="0.270" stop-color="#463bdd"/><stop offset="0.318" stop-color="#465dfa"/><stop offset="0.338" stop-color="#3a74fe"/><stop offset="0.402" stop-color="#19acdc"/><stop offset="0.426" stop-color="#01b8c9"/><stop offset="0.444" stop-color="#11beba"/><stop offset="0.446" stop-color="#22a1e4"/><stop offset="0.448" stop-color="#3876fe"/><stop offset="0.450" stop-color="#4746ea"/><stop offset="0.452" stop-color="#4331c7"/><stop offset="0.610" stop-color="#402bb6"/><stop offset="1.000" stop-color="#3f28ae"/></linearGradient><linearGradient id="hd23"><stop offset="0.000" stop-color="#402ab4"/><stop offset="0.180" stop-color="#422fc0"/><stop offset="0.270" stop-color="#463bdc"/><stop offset="0.318" stop-color="#475cfa"/><stop offset="0.340" stop-color="#3876fe"/><stop offset="0.404" stop-color="#18addb"/><stop offset="0.426" stop-color="#01b8c9"/><stop offset="0.444" stop-color="#10beba"/><stop offset="0.446" stop-color="#23a1e4"/><stop offset="0.448" stop-color="#3875fe"/><stop offset="0.450" stop-color="#4746ea"/><stop offset="0.452" stop-color="#4331c6"/><stop offset="0.610" stop-color="#402bb6"/><stop offset="1.000" stop-color="#3f28ae"/></linearGradient><linearGradient id="hd24"><stop offset="0.000" stop-color="#402ab3"/><stop offset="0.182" stop-color="#422ec0"/><stop offset="0.270" stop-color="#463adb"/><stop offset="0.320" stop-color="#465efb"/><stop offset="0.340" stop-color="#3875fe"/><stop offset="0.404" stop-color="#19addb"/><stop offset="0.426" stop-color="#01b8ca"/><stop offset="0.434" stop-color="#02bbc3"/><stop offset="0.444" stop-color="#10beba"/><stop offset="0.446" stop-color="#23a1e4"/><stop offset="0.448" stop-color="#3975fe"/><stop offset="0.450" stop-color="#4745e9"/><stop offset="0.452" stop-color="#4331c6"/><stop offset="0.610" stop-color="#402ab5"/><stop offset="1.000" stop-color="#3f28ae"/></linearGradient><linearGradient id="hd25"><stop offset="0.000" stop-color="#402ab3"/><stop offset="0.184" stop-color="#422ebf"/><stop offset="0.272" stop-color="#463adc"/><stop offset="0.320" stop-color="#465dfa"/><stop offset="0.340" stop-color="#3974fe"/><stop offset="0.404" stop-color="#19addc"/><stop offset="0.426" stop-color="#01b8ca"/><stop offset="0.434" stop-color="#02bbc3"/><stop offset="0.444" stop-color="#0fbebb"/><stop offset="0.446" stop-color="#23a0e5"/><stop offset="0.448" stop-color="#3975fe"/><stop offset="0.450" stop-color="#4745e9"/><stop offset="0.452" stop-color="#4330c5"/><stop offset="0.610" stop-color="#402ab5"/><stop offset="1.000" stop-color="#3f28ae"/></linearGradient><linearGradient id="hd26"><stop offset="0.000" stop-color="#402ab3"/><stop offset="0.184" stop-color="#422ebf"/><stop offset="0.272" stop-color="#463adb"/><stop offset="0.320" stop-color="#475cfa"/><stop offset="0.340" stop-color="#3a74fe"/><stop offset="0.404" stop-color="#19addc"/><stop offset="0.426" stop-color="#01b7ca"/><stop offset="0.434" stop-color="#02bac4"/><stop offset="0.444" stop-color="#0ebebb"/><stop offset="0.446" stop-color="#23a0e5"/><stop offset="0.448" stop-color="#3974fe"/><stop offset="0.450" stop-color="#4745e9"/><stop offset="0.452" stop-color="#4230c4"/><stop offset="0.610" stop-color="#402ab5"/><stop offset="1.000" stop-color="#3f28ae"/></linearGradient><linearGradient id="hd27"><stop offset="0.000" stop-color="#3f29b1"/><stop offset="0.192" stop-color="#412dbc"/><stop offset="0.276" stop-color="#4537d6"/><stop offset="0.306" stop-color="#4746eb"/><stop offset="0.350" stop-color="#3d70ff"/><stop offset="0.368" stop-color="#2f81fa"/><stop offset="0.392" stop-color="#2a93ed"/><stop offset="0.444" stop-color="#15afd9"/><stop offset="0.446" stop-color="#2c8ff1"/><stop offset="0.448" stop-color="#4366fd"/><stop offset="0.450" stop-color="#473fe2"/><stop offset="0.452" stop-color="#422ec0"/><stop offset="0.622" stop-color="#3f29b2"/><stop offset="1.000" stop-color="#3f28ad"/></linearGradient><linearGradient id="hd28"><stop offset="0.000" stop-color="#3f29b2"/><stop offset="0.188" stop-color="#422ebe"/><stop offset="0.274" stop-color="#4639da"/><stop offset="0.298" stop-color="#4746ea"/><stop offset="0.322" stop-color="#475dfa"/><stop offset="0.342" stop-color="#3975fe"/><stop offset="0.372" stop-color="#2994ec"/><stop offset="0.406" stop-color="#18addb"/><stop offset="0.428" stop-color="#01b8c9"/><stop offset="0.444" stop-color="#0dbdbb"/><stop offset="0.446" stop-color="#23a0e5"/><stop offset="0.448" stop-color="#3a74fe"/><stop offset="0.450" stop-color="#4744e8"/><stop offset="0.452" stop-color="#4230c3"/><stop offset="0.622" stop-color="#402ab4"/><stop offset="1.000" stop-color="#3f28ad"/></linearGradient><linearGradient id="hd29"><stop offset="0.000" stop-color="#3f29b2"/><stop offset="0.188" stop-color="#412ebe"/><stop offset="0.274" stop-color="#4539d9"/><stop offset="0.298" stop-color="#4745e9"/><stop offset="0.322" stop-color="#475cfa"/><stop offset="0.342" stop-color="#3974fe"/><stop offset="0.372" stop-color="#2994ed"/><stop offset="0.406" stop-color="#18addb"/><stop offset="0.428" stop-color="#01b8ca"/><stop offset="0.444" stop-color="#0cbdbc"/><stop offset="0.446" stop-color="#239fe5"/><stop offset="0.448" stop-color="#3a73fe"/><stop offset="0.450" stop-color="#4743e8"/><stop offset="0.452" stop-color="#422fc2"/><stop offset="0.622" stop-color="#402ab3"/><stop offset="1.000" stop-color="#3f28ad"/></linearGradient><linearGradient id="hd30"><stop offset="0.000" stop-color="#3f29b2"/><stop offset="0.188" stop-color="#412dbd"/><stop offset="0.274" stop-color="#4538d8"/><stop offset="0.320" stop-color="#4759f8"/><stop offset="0.342" stop-color="#3a74fe"/><stop offset="0.372" stop-color="#2994ed"/><stop offset="0.406" stop-color="#19addc"/><stop offset="0.428" stop-color="#01b8ca"/><stop offset="0.444" stop-color="#0cbdbc"/><stop offset="0.446" stop-color="#249fe5"/><stop offset="0.448" stop-color="#3b73fe"/><stop offset="0.450" stop-color="#4743e7"/><stop offset="0.452" stop-color="#422fc1"/><stop offset="0.622" stop-color="#402ab3"/><stop offset="1.000" stop-color="#3f28ad"/></linearGradient><linearGradient id="hd31"><stop offset="0.000" stop-color="#3f29b2"/><stop offset="0.192" stop-color="#412dbd"/><stop offset="0.240" stop-color="#4331c7"/><stop offset="0.276" stop-color="#4538d8"/><stop offset="0.300" stop-color="#4745e9"/><stop offset="0.324" stop-color="#475dfa"/><stop offset="0.344" stop-color="#3875fe"/><stop offset="0.406" stop-color="#19addc"/><stop offset="0.428" stop-color="#01b7ca"/><stop offset="0.444" stop-color="#0bbdbd"/><stop offset="0.446" stop-color="#249fe5"/><stop offset="0.448" stop-color="#3b72fe"/><stop offset="0.450" stop-color="#4743e7"/><stop offset="0.452" stop-color="#422fc1"/><stop offset="0.622" stop-color="#402ab3"/><stop offset="1.000" stop-color="#3f28ad"/></linearGradient><linearGradient id="hd32"><stop offset="0.000" stop-color="#3f29b1"/><stop offset="0.192" stop-color="#412dbd"/><stop offset="0.240" stop-color="#4331c7"/><stop offset="0.276" stop-color="#4538d7"/><stop offset="0.298" stop-color="#4743e7"/><stop offset="0.322" stop-color="#4759f9"/><stop offset="0.344" stop-color="#3975fe"/><stop offset="0.372" stop-color="#2a93ee"/><stop offset="0.406" stop-color="#19acdc"/><stop offset="0.428" stop-color="#02b7cb"/><stop offset="0.444" stop-color="#0abdbd"/><stop offset="0.446" stop-color="#249fe6"/><stop offset="0.448" stop-color="#3b72ff"/><stop offset="0.450" stop-color="#4742e6"/><stop offset="0.452" stop-color="#422fc0"/><stop offset="0.622" stop-color="#4029b3"/><stop offset="1.000" stop-color="#3f28ad"/></linearGradient><linearGradient id="hd33"><stop offset="0.000" stop-color="#3f29b0"/><stop offset="0.202" stop-color="#412cba"/><stop offset="0.250" stop-color="#4230c4"/><stop offset="0.284" stop-color="#4537d5"/><stop offset="0.310" stop-color="#4745e9"/><stop offset="0.352" stop-color="#3e6fff"/><stop offset="0.370" stop-color="#2f81fa"/><stop offset="0.444" stop-color="#17aeda"/><stop offset="0.446" stop-color="#2d8df2"/><stop offset="0.448" stop-color="#4465fd"/><stop offset="0.450" stop-color="#463de0"/><stop offset="0.452" stop-color="#412dbc"/><stop offset="0.620" stop-color="#3f29b1"/><stop offset="1.000" stop-color="#3e27ac"/></linearGradient><linearGradient id="hd34"><stop offset="0.000" stop-color="#3f29b1"/><stop offset="0.194" stop-color="#412dbc"/><stop offset="0.242" stop-color="#4330c5"/><stop offset="0.278" stop-color="#4537d6"/><stop offset="0.302" stop-color="#4744e8"/><stop offset="0.326" stop-color="#475cfa"/><stop offset="0.346" stop-color="#3876fe"/><stop offset="0.376" stop-color="#2896ec"/><stop offset="0.408" stop-color="#18addb"/><stop offset="0.430" stop-color="#01b8ca"/><stop offset="0.438" stop-color="#02bbc3"/><stop offset="0.448" stop-color="#0fbebb"/><stop offset="0.450" stop-color="#0dbdbc"/><stop offset="0.452" stop-color="#06b5cf"/><stop offset="0.454" stop-color="#1baade"/><stop offset="0.460" stop-color="#317efb"/><stop offset="0.462" stop-color="#416cfe"/><stop offset="0.466" stop-color="#484aee"/><stop offset="0.468" stop-color="#4639da"/><stop offset="0.470" stop-color="#412dbc"/><stop offset="0.642" stop-color="#3f29b1"/><stop offset="1.000" stop-color="#3e28ad"/></linearGradient><linearGradient id="hd35"><stop offset="0.000" stop-color="#3f29b0"/><stop offset="0.198" stop-color="#412dbc"/><stop offset="0.246" stop-color="#4331c6"/><stop offset="0.280" stop-color="#4537d6"/><stop offset="0.302" stop-color="#4743e7"/><stop offset="0.326" stop-color="#475bfa"/><stop offset="0.346" stop-color="#3875fe"/><stop offset="0.394" stop-color="#21a4e3"/><stop offset="0.430" stop-color="#01b7ca"/><stop offset="0.442" stop-color="#06bcc0"/><stop offset="0.444" stop-color="#05b6ce"/><stop offset="0.446" stop-color="#1aabdd"/><stop offset="0.452" stop-color="#2f81fa"/><stop offset="0.454" stop-color="#3e6fff"/><stop offset="0.458" stop-color="#484ef1"/><stop offset="0.460" stop-color="#463ee1"/><stop offset="0.462" stop-color="#4330c4"/><stop offset="0.464" stop-color="#412dbc"/><stop offset="0.634" stop-color="#3f29b1"/><stop offset="1.000" stop-color="#3e28ac"/></linearGradient><linearGradient id="hd36"><stop offset="0.000" stop-color="#3f29b0"/><stop offset="0.200" stop-color="#412dbb"/><stop offset="0.248" stop-color="#4331c5"/><stop offset="0.282" stop-color="#4537d6"/><stop offset="0.302" stop-color="#4742e6"/><stop offset="0.324" stop-color="#4758f8"/><stop offset="0.346" stop-color="#3974fe"/><stop offset="0.356" stop-color="#2f81fa"/><stop offset="0.388" stop-color="#249fe6"/><stop offset="0.434" stop-color="#01b9c8"/><stop offset="0.436" stop-color="#04b6cd"/><stop offset="0.438" stop-color="#19acdc"/><stop offset="0.446" stop-color="#3a74fe"/><stop offset="0.450" stop-color="#4853f5"/><stop offset="0.452" stop-color="#4744e8"/><stop offset="0.456" stop-color="#412dbd"/><stop offset="0.626" stop-color="#3f29b1"/><stop offset="1.000" stop-color="#3e28ac"/></linearGradient><linearGradient id="hd37"><stop offset="0.000" stop-color="#3f29b0"/><stop offset="0.200" stop-color="#412cbb"/><stop offset="0.248" stop-color="#4330c4"/><stop offset="0.282" stop-color="#4537d5"/><stop offset="0.310" stop-color="#4848ec"/><stop offset="0.330" stop-color="#465ffb"/><stop offset="0.344" stop-color="#3c71ff"/><stop offset="0.356" stop-color="#2f80fa"/><stop offset="0.382" stop-color="#269ae9"/><stop offset="0.410" stop-color="#18addb"/><stop offset="0.428" stop-color="#04b6cd"/><stop offset="0.432" stop-color="#21a4e3"/><stop offset="0.438" stop-color="#337afd"/><stop offset="0.440" stop-color="#426afe"/><stop offset="0.444" stop-color="#484bef"/><stop offset="0.446" stop-color="#463cdf"/><stop offset="0.448" stop-color="#4230c4"/><stop offset="0.450" stop-color="#412dbd"/><stop offset="0.618" stop-color="#3f29b1"/><stop offset="1.000" stop-color="#3e28ac"/></linearGradient><linearGradient id="hd38"><stop offset="0.000" stop-color="#3f29b0"/><stop offset="0.202" stop-color="#412cba"/><stop offset="0.250" stop-color="#4230c4"/><stop offset="0.284" stop-color="#4537d5"/><stop offset="0.310" stop-color="#4747eb"/><stop offset="0.344" stop-color="#3d70ff"/><stop offset="0.356" stop-color="#3080fb"/><stop offset="0.378" stop-color="#2896ec"/><stop offset="0.420" stop-color="#0fb2d4"/><stop offset="0.422" stop-color="#11b1d6"/><stop offset="0.424" stop-color="#1ea7e1"/><stop offset="0.430" stop-color="#2f81fa"/><stop offset="0.432" stop-color="#3c71ff"/><stop offset="0.434" stop-color="#4562fc"/><stop offset="0.438" stop-color="#4745e9"/><stop offset="0.442" stop-color="#412ebe"/><stop offset="0.608" stop-color="#3f29b1"/><stop offset="1.000" stop-color="#3e27ac"/></linearGradient><linearGradient id="hd39"><stop offset="0.000" stop-color="#3f29af"/><stop offset="0.206" stop-color="#412cba"/><stop offset="0.254" stop-color="#4330c4"/><stop offset="0.286" stop-color="#4537d5"/><stop offset="0.310" stop-color="#4746ea"/><stop offset="0.344" stop-color="#3e6fff"/><stop offset="0.358" stop-color="#2f81fa"/><stop offset="0.414" stop-color="#16afd9"/><stop offset="0.418" stop-color="#23a1e4"/><stop offset="0.424" stop-color="#337bfc"/><stop offset="0.426" stop-color="#416cfe"/><stop offset="0.432" stop-color="#4741e5"/><stop offset="0.436" stop-color="#412ebe"/><stop offset="0.602" stop-color="#3f29b1"/><stop offset="1.000" stop-color="#3e27ac"/></linearGradient><linearGradient id="hd40"><stop offset="0.000" stop-color="#3f28af"/><stop offset="0.206" stop-color="#412cba"/><stop offset="0.254" stop-color="#4230c3"/><stop offset="0.286" stop-color="#4536d4"/><stop offset="0.310" stop-color="#4745e9"/><stop offset="0.344" stop-color="#3f6eff"/><stop offset="0.358" stop-color="#2f81fa"/><stop offset="0.408" stop-color="#1babde"/><stop offset="0.412" stop-color="#259ce7"/><stop offset="0.418" stop-color="#3776fe"/><stop offset="0.420" stop-color="#4368fe"/><stop offset="0.424" stop-color="#484df0"/><stop offset="0.430" stop-color="#422ebe"/><stop offset="0.594" stop-color="#3f29b1"/><stop offset="1.000" stop-color="#3e27ac"/></linearGradient><linearGradient id="hd41"><stop offset="0.000" stop-color="#3f28af"/><stop offset="0.206" stop-color="#412cb9"/><stop offset="0.254" stop-color="#422fc2"/><stop offset="0.286" stop-color="#4535d2"/><stop offset="0.312" stop-color="#4745ea"/><stop offset="0.344" stop-color="#3f6efe"/><stop offset="0.358" stop-color="#3080fa"/><stop offset="0.402" stop-color="#1ea6e1"/><stop offset="0.404" stop-color="#21a3e3"/><stop offset="0.410" stop-color="#2f81fa"/><stop offset="0.414" stop-color="#4466fd"/><stop offset="0.418" stop-color="#484cf0"/><stop offset="0.424" stop-color="#422ebf"/><stop offset="0.586" stop-color="#3f29b1"/><stop offset="1.000" stop-color="#3e27ac"/></linearGradient><linearGradient id="hd42"><stop offset="0.000" stop-color="#3f28af"/><stop offset="0.208" stop-color="#412cb9"/><stop offset="0.256" stop-color="#422fc2"/><stop offset="0.288" stop-color="#4535d2"/><stop offset="0.312" stop-color="#4744e8"/><stop offset="0.346" stop-color="#3e6fff"/><stop offset="0.360" stop-color="#2f82fa"/><stop offset="0.396" stop-color="#22a2e4"/><stop offset="0.398" stop-color="#23a0e5"/><stop offset="0.404" stop-color="#307ffb"/><stop offset="0.408" stop-color="#4465fd"/><stop offset="0.414" stop-color="#4741e4"/><stop offset="0.418" stop-color="#422ebf"/><stop offset="0.578" stop-color="#3f29b1"/><stop offset="1.000" stop-color="#3e27ab"/></linearGradient><linearGradient id="hd43"><stop offset="0.000" stop-color="#3f28ae"/><stop offset="0.210" stop-color="#402bb8"/><stop offset="0.256" stop-color="#422fc1"/><stop offset="0.288" stop-color="#4435d0"/><stop offset="0.312" stop-color="#4743e7"/><stop offset="0.346" stop-color="#3f6fff"/><stop offset="0.360" stop-color="#2f81fa"/><stop offset="0.392" stop-color="#249ee6"/><stop offset="0.398" stop-color="#307ffb"/><stop offset="0.402" stop-color="#4367fd"/><stop offset="0.406" stop-color="#484ff2"/><stop offset="0.410" stop-color="#4538d8"/><stop offset="0.412" stop-color="#422fc1"/><stop offset="0.414" stop-color="#422ebf"/><stop offset="0.572" stop-color="#3f29b1"/><stop offset="1.000" stop-color="#3e27ab"/></linearGradient><linearGradient id="hd44"><stop offset="0.000" stop-color="#3f28ae"/><stop offset="0.210" stop-color="#402bb7"/><stop offset="0.258" stop-color="#422fc0"/><stop offset="0.288" stop-color="#4434cf"/><stop offset="0.312" stop-color="#4742e6"/><stop offset="0.342" stop-color="#4368fe"/><stop offset="0.360" stop-color="#2f80fa"/><stop offset="0.386" stop-color="#2699e9"/><stop offset="0.392" stop-color="#3080fb"/><stop offset="0.394" stop-color="#3a74fe"/><stop offset="0.398" stop-color="#465dfa"/><stop offset="0.402" stop-color="#4747eb"/><stop offset="0.408" stop-color="#422fc0"/><stop offset="0.562" stop-color="#3f29b1"/><stop offset="1.000" stop-color="#3e27ab"/></linearGradient><linearGradient id="hd45"><stop offset="0.000" stop-color="#3f28ae"/><stop offset="0.210" stop-color="#402bb7"/><stop offset="0.258" stop-color="#422ebf"/><stop offset="0.288" stop-color="#4433cd"/><stop offset="0.312" stop-color="#4741e4"/><stop offset="0.340" stop-color="#4464fd"/><stop offset="0.360" stop-color="#307ffb"/><stop offset="0.380" stop-color="#2a93ed"/><stop offset="0.382" stop-color="#2a93ee"/><stop offset="0.388" stop-color="#3875fe"/><stop offset="0.392" stop-color="#4660fb"/><stop offset="0.398" stop-color="#4740e4"/><stop offset="0.402" stop-color="#422fc1"/><stop offset="0.554" stop-color="#3f29b0"/><stop offset="1.000" stop-color="#3e27ab"/></linearGradient><linearGradient id="hd46"><stop offset="0.000" stop-color="#3f28ad"/><stop offset="0.210" stop-color="#402bb6"/><stop offset="0.258" stop-color="#422ebe"/><stop offset="0.288" stop-color="#4433cc"/><stop offset="0.312" stop-color="#473fe3"/><stop offset="0.340" stop-color="#4563fd"/><stop offset="0.358" stop-color="#327cfc"/><stop offset="0.376" stop-color="#2c8ff1"/><stop offset="0.382" stop-color="#3578fd"/><stop offset="0.388" stop-color="#475af9"/><stop offset="0.392" stop-color="#4746ea"/><stop offset="0.398" stop-color="#422fc1"/><stop offset="0.546" stop-color="#3f29b0"/><stop offset="1.000" stop-color="#3e27ab"/></linearGradient><linearGradient id="hd47"><stop offset="0.000" stop-color="#3f28ad"/><stop offset="0.214" stop-color="#402bb6"/><stop offset="0.262" stop-color="#422ebe"/><stop offset="0.290" stop-color="#4433cb"/><stop offset="0.312" stop-color="#463ee1"/><stop offset="0.338" stop-color="#465ffb"/><stop offset="0.354" stop-color="#3876fe"/><stop offset="0.372" stop-color="#2d8af5"/><stop offset="0.378" stop-color="#3c72ff"/><stop offset="0.382" stop-color="#465ffb"/><stop offset="0.388" stop-color="#4743e7"/><stop offset="0.394" stop-color="#422fc1"/><stop offset="0.540" stop-color="#3f29b0"/><stop offset="1.000" stop-color="#3e27ab"/></linearGradient><linearGradient id="hd48"><stop offset="0.000" stop-color="#3f28ad"/><stop offset="0.214" stop-color="#402ab5"/><stop offset="0.290" stop-color="#4332c9"/><stop offset="0.312" stop-color="#463ddf"/><stop offset="0.338" stop-color="#465efb"/><stop offset="0.368" stop-color="#2e85f8"/><stop offset="0.372" stop-color="#3876fe"/><stop offset="0.378" stop-color="#475bf9"/><stop offset="0.384" stop-color="#4741e4"/><stop offset="0.388" stop-color="#4331c7"/><stop offset="0.392" stop-color="#422fc1"/><stop offset="0.536" stop-color="#3f29b0"/><stop offset="1.000" stop-color="#3e27ab"/></linearGradient><linearGradient id="hd49"><stop offset="0.000" stop-color="#3f28ad"/><stop offset="0.208" stop-color="#402ab4"/><stop offset="0.290" stop-color="#4331c8"/><stop offset="0.314" stop-color="#463de0"/><stop offset="0.338" stop-color="#465dfa"/><stop offset="0.364" stop-color="#307ffb"/><stop offset="0.374" stop-color="#4758f8"/><stop offset="0.380" stop-color="#4740e3"/><stop offset="0.384" stop-color="#4331c7"/><stop offset="0.392" stop-color="#422ebf"/><stop offset="0.536" stop-color="#3f29af"/><stop offset="1.000" stop-color="#3e27ab"/></linearGradient><linearGradient id="hd50"><stop offset="0.000" stop-color="#3e28ac"/><stop offset="0.206" stop-color="#402ab3"/><stop offset="0.288" stop-color="#4330c4"/><stop offset="0.316" stop-color="#463ee1"/><stop offset="0.336" stop-color="#4759f8"/><stop offset="0.352" stop-color="#3e6fff"/><stop offset="0.360" stop-color="#3579fd"/><stop offset="0.370" stop-color="#4757f7"/><stop offset="0.376" stop-color="#473fe3"/><stop offset="0.382" stop-color="#422fc2"/><stop offset="0.430" stop-color="#402bb6"/><stop offset="0.590" stop-color="#3f28ae"/><stop offset="1.000" stop-color="#3e27aa"/></linearGradient><linearGradient id="hd51"><stop offset="0.000" stop-color="#3e28ac"/><stop offset="0.206" stop-color="#3f29b2"/><stop offset="0.288" stop-color="#4230c3"/><stop offset="0.316" stop-color="#463cdf"/><stop offset="0.338" stop-color="#475af9"/><stop offset="0.358" stop-color="#3d70ff"/><stop offset="0.370" stop-color="#4747eb"/><stop offset="0.378" stop-color="#422fc2"/><stop offset="0.426" stop-color="#402ab5"/><stop offset="0.584" stop-color="#3f28ad"/><stop offset="1.000" stop-color="#3e27aa"/></linearGradient><linearGradient id="hd52"><stop offset="0.000" stop-color="#3e27ac"/><stop offset="0.210" stop-color="#3f29b2"/><stop offset="0.290" stop-color="#422fc2"/><stop offset="0.316" stop-color="#463bdc"/><stop offset="0.336" stop-color="#4756f6"/><stop offset="0.354" stop-color="#406dfe"/><stop offset="0.366" stop-color="#4848ec"/><stop offset="0.374" stop-color="#4230c3"/><stop offset="0.422" stop-color="#402ab5"/><stop offset="0.578" stop-color="#3f28ad"/><stop offset="1.000" stop-color="#3e27aa"/></linearGradient><linearGradient id="hd53"><stop offset="0.000" stop-color="#3e27ac"/><stop offset="0.268" stop-color="#412cb8"/><stop offset="0.296" stop-color="#4230c4"/><stop offset="0.314" stop-color="#4537d7"/><stop offset="0.334" stop-color="#4851f3"/><stop offset="0.350" stop-color="#4466fd"/><stop offset="0.362" stop-color="#4849ed"/><stop offset="0.372" stop-color="#422fc2"/><stop offset="0.422" stop-color="#402ab4"/><stop offset="1.000" stop-color="#3e27aa"/></linearGradient><linearGradient id="hd54"><stop offset="0.000" stop-color="#3e27ab"/><stop offset="0.270" stop-color="#402bb8"/><stop offset="0.296" stop-color="#422fc1"/><stop offset="0.314" stop-color="#4536d4"/><stop offset="0.334" stop-color="#484ff2"/><stop offset="0.348" stop-color="#4661fc"/><stop offset="0.360" stop-color="#4744e8"/><stop offset="0.370" stop-color="#422fc1"/><stop offset="0.420" stop-color="#402ab3"/><stop offset="1.000" stop-color="#3e27aa"/></linearGradient><linearGradient id="hd55"><stop offset="0.000" stop-color="#3e27ab"/><stop offset="0.274" stop-color="#402bb7"/><stop offset="0.300" stop-color="#422fc2"/><stop offset="0.316" stop-color="#4536d4"/><stop offset="0.344" stop-color="#475af9"/><stop offset="0.356" stop-color="#4745e9"/><stop offset="0.366" stop-color="#422fc1"/><stop offset="0.418" stop-color="#402ab3"/><stop offset="1.000" stop-color="#3e27aa"/></linearGradient><linearGradient id="he0"><stop offset="0.000" stop-color="#412dbb"/><stop offset="0.118" stop-color="#4331c8"/><stop offset="0.198" stop-color="#463cde"/><stop offset="0.262" stop-color="#465efb"/><stop offset="0.286" stop-color="#3975fe"/><stop offset="0.338" stop-color="#23a1e4"/><stop offset="0.388" stop-color="#02bac5"/><stop offset="0.416" stop-color="#24c1ae"/><stop offset="0.454" stop-color="#40ca8d"/><stop offset="0.478" stop-color="#5ccc76"/><stop offset="0.480" stop-color="#fcbc3d"/><stop offset="0.582" stop-color="#fec438"/><stop offset="0.684" stop-color="#f5e327"/><stop offset="0.754" stop-color="#f9fb15"/><stop offset="0.798" stop-color="#f9fb15"/><stop offset="0.800" stop-color="#f6ef20"/><stop offset="0.802" stop-color="#fec735"/><stop offset="0.804" stop-color="#d3bf27"/><stop offset="0.806" stop-color="#7dcc5b"/><stop offset="0.808" stop-color="#33c79d"/><stop offset="0.810" stop-color="#02b7cb"/><stop offset="0.812" stop-color="#259ce7"/><stop offset="0.814" stop-color="#3479fd"/><stop offset="0.816" stop-color="#4853f5"/><stop offset="0.818" stop-color="#4332c8"/><stop offset="0.820" stop-color="#402ab3"/><stop offset="1.000" stop-color="#3f29b1"/></linearGradient><linearGradient id="he1"><stop offset="0.000" stop-color="#412dbb"/><stop offset="0.118" stop-color="#4331c7"/><stop offset="0.198" stop-color="#463bdd"/><stop offset="0.262" stop-color="#465dfa"/><stop offset="0.286" stop-color="#3974fe"/><stop offset="0.340" stop-color="#22a2e4"/><stop offset="0.382" stop-color="#01b8ca"/><stop offset="0.390" stop-color="#02bac3"/><stop offset="0.416" stop-color="#24c1ae"/><stop offset="0.454" stop-color="#3fca8e"/><stop offset="0.478" stop-color="#5ccc76"/><stop offset="0.480" stop-color="#fcbc3d"/><stop offset="0.582" stop-color="#fec438"/><stop offset="0.684" stop-color="#f5e327"/><stop offset="0.754" stop-color="#f9fb15"/><stop offset="0.782" stop-color="#f9fb15"/><stop offset="0.784" stop-color="#f6f21e"/><stop offset="0.786" stop-color="#fdcb33"/><stop offset="0.788" stop-color="#dbbd29"/><stop offset="0.790" stop-color="#89cb53"/><stop offset="0.792" stop-color="#39c895"/><stop offset="0.794" stop-color="#02bac4"/><stop offset="0.796" stop-color="#22a2e4"/><stop offset="0.798" stop-color="#2f80fa"/><stop offset="0.800" stop-color="#475af9"/><stop offset="0.802" stop-color="#4537d6"/><stop offset="0.804" stop-color="#402ab3"/><stop offset="1.000" stop-color="#3f29b0"/></linearGradient><linearGradient id="he2"><stop offset="0.000" stop-color="#412dbb"/><stop offset="0.120" stop-color="#4331c7"/><stop offset="0.200" stop-color="#463bde"/><stop offset="0.262" stop-color="#475dfa"/><stop offset="0.288" stop-color="#3876fe"/><stop offset="0.342" stop-color="#21a3e3"/><stop offset="0.382" stop-color="#01b8ca"/><stop offset="0.390" stop-color="#02bac4"/><stop offset="0.416" stop-color="#24c1af"/><stop offset="0.454" stop-color="#3fca8e"/><stop offset="0.478" stop-color="#5bcc76"/><stop offset="0.480" stop-color="#fbbc3d"/><stop offset="0.580" stop-color="#fec338"/><stop offset="0.684" stop-color="#f5e327"/><stop offset="0.766" stop-color="#f9fb15"/><stop offset="0.768" stop-color="#f9f916"/><stop offset="0.770" stop-color="#fbd32f"/><stop offset="0.772" stop-color="#e9bb30"/><stop offset="0.774" stop-color="#9ec942"/><stop offset="0.776" stop-color="#48cb86"/><stop offset="0.778" stop-color="#13beb8"/><stop offset="0.780" stop-color="#1caadf"/><stop offset="0.782" stop-color="#2d8bf4"/><stop offset="0.784" stop-color="#4466fd"/><stop offset="0.786" stop-color="#4742e6"/><stop offset="0.788" stop-color="#402ab4"/><stop offset="1.000" stop-color="#3f29b0"/></linearGradient><linearGradient id="he3"><stop offset="0.000" stop-color="#412cba"/><stop offset="0.122" stop-color="#4331c7"/><stop offset="0.202" stop-color="#463cde"/><stop offset="0.264" stop-color="#465efb"/><stop offset="0.288" stop-color="#3875fe"/><stop offset="0.342" stop-color="#21a3e3"/><stop offset="0.382" stop-color="#01b8ca"/><stop offset="0.390" stop-color="#02bac4"/><stop offset="0.416" stop-color="#23c1af"/><stop offset="0.454" stop-color="#3fca8e"/><stop offset="0.478" stop-color="#5bcc76"/><stop offset="0.480" stop-color="#fbbc3d"/><stop offset="0.582" stop-color="#fec438"/><stop offset="0.684" stop-color="#f5e327"/><stop offset="0.752" stop-color="#f9fa15"/><stop offset="0.754" stop-color="#f6e028"/><stop offset="0.756" stop-color="#fbbc3d"/><stop offset="0.758" stop-color="#bdc32e"/><stop offset="0.760" stop-color="#67cd6d"/><stop offset="0.762" stop-color="#2cc4a6"/><stop offset="0.764" stop-color="#0ab4d1"/><stop offset="0.766" stop-color="#2698ea"/><stop offset="0.768" stop-color="#3876fe"/><stop offset="0.770" stop-color="#4852f4"/><stop offset="0.772" stop-color="#4332c9"/><stop offset="0.774" stop-color="#402ab4"/><stop offset="1.000" stop-color="#3f29b0"/></linearGradient><linearGradient id="he4"><stop offset="0.000" stop-color="#412cba"/><stop offset="0.122" stop-color="#4331c7"/><stop offset="0.202" stop-color="#463bdd"/><stop offset="0.264" stop-color="#465dfa"/><stop offset="0.288" stop-color="#3975fe"/><stop offset="0.340" stop-color="#22a1e4"/><stop offset="0.360" stop-color="#18aedb"/><stop offset="0.382" stop-color="#02b7ca"/><stop offset="0.390" stop-color="#02bac4"/><stop offset="0.416" stop-color="#23c1af"/><stop offset="0.454" stop-color="#3fca8e"/><stop offset="0.478" stop-color="#5bcc77"/><stop offset="0.480" stop-color="#fbbc3d"/><stop offset="0.580" stop-color="#fec338"/><stop offset="0.736" stop-color="#f7f51b"/><stop offset="0.738" stop-color="#f6f01f"/><stop offset="0.740" stop-color="#fdca33"/><stop offset="0.742" stop-color="#debd29"/><stop offset="0.744" stop-color="#91ca4c"/><stop offset="0.746" stop-color="#40ca8d"/><stop offset="0.748" stop-color="#0cbdbc"/><stop offset="0.750" stop-color="#1da8e0"/><stop offset="0.752" stop-color="#2d89f5"/><stop offset="0.754" stop-color="#4465fd"/><stop offset="0.756" stop-color="#4743e7"/><stop offset="0.758" stop-color="#402ab4"/><stop offset="1.000" stop-color="#3f29b0"/></linearGradient><linearGradient id="he5"><stop offset="0.000" stop-color="#412cba"/><stop offset="0.122" stop-color="#4331c6"/><stop offset="0.202" stop-color="#463bdd"/><stop offset="0.264" stop-color="#475dfa"/><stop offset="0.288" stop-color="#3974fe"/><stop offset="0.340" stop-color="#23a1e4"/><stop offset="0.360" stop-color="#18addb"/><stop offset="0.382" stop-color="#02b7cb"/><stop offset="0.390" stop-color="#02bac4"/><stop offset="0.418" stop-color="#25c2ae"/><stop offset="0.454" stop-color="#3eca8f"/><stop offset="0.478" stop-color="#5bcc77"/><stop offset="0.480" stop-color="#fbbc3d"/><stop offset="0.578" stop-color="#fec339"/><stop offset="0.722" stop-color="#f6f020"/><stop offset="0.724" stop-color="#f6e028"/><stop offset="0.726" stop-color="#fcbd3d"/><stop offset="0.728" stop-color="#c3c22b"/><stop offset="0.730" stop-color="#70cd65"/><stop offset="0.732" stop-color="#31c6a0"/><stop offset="0.734" stop-color="#02b7cb"/><stop offset="0.736" stop-color="#249ee6"/><stop offset="0.738" stop-color="#317dfc"/><stop offset="0.740" stop-color="#475af9"/><stop offset="0.742" stop-color="#4539d9"/><stop offset="0.744" stop-color="#402ab4"/><stop offset="1.000" stop-color="#3f29b0"/></linearGradient><linearGradient id="he6"><stop offset="0.000" stop-color="#412cba"/><stop offset="0.124" stop-color="#4331c6"/><stop offset="0.204" stop-color="#463bdd"/><stop offset="0.236" stop-color="#4848ec"/><stop offset="0.266" stop-color="#465efb"/><stop offset="0.290" stop-color="#3876fe"/><stop offset="0.342" stop-color="#22a2e4"/><stop offset="0.390" stop-color="#02bac4"/><stop offset="0.418" stop-color="#25c2ae"/><stop offset="0.454" stop-color="#3eca8f"/><stop offset="0.478" stop-color="#5acc77"/><stop offset="0.480" stop-color="#fbbc3d"/><stop offset="0.574" stop-color="#fec239"/><stop offset="0.708" stop-color="#f5eb23"/><stop offset="0.710" stop-color="#fad52e"/><stop offset="0.712" stop-color="#efba35"/><stop offset="0.714" stop-color="#adc638"/><stop offset="0.716" stop-color="#5bcc77"/><stop offset="0.718" stop-color="#28c2ab"/><stop offset="0.720" stop-color="#0eb2d4"/><stop offset="0.724" stop-color="#3875fe"/><stop offset="0.726" stop-color="#4853f5"/><stop offset="0.728" stop-color="#4434ce"/><stop offset="0.730" stop-color="#402ab4"/><stop offset="1.000" stop-color="#3f29b0"/></linearGradient><linearGradient id="he7"><stop offset="0.000" stop-color="#412cba"/><stop offset="0.122" stop-color="#4331c6"/><stop offset="0.202" stop-color="#463bdd"/><stop offset="0.234" stop-color="#4847ec"/><stop offset="0.264" stop-color="#465dfb"/><stop offset="0.288" stop-color="#3876fe"/><stop offset="0.338" stop-color="#21a2e4"/><stop offset="0.376" stop-color="#02b7ca"/><stop offset="0.384" stop-color="#02bac4"/><stop offset="0.408" stop-color="#23c1af"/><stop offset="0.444" stop-color="#3fca8e"/><stop offset="0.480" stop-color="#6dcd68"/><stop offset="0.482" stop-color="#01bac5"/><stop offset="0.484" stop-color="#2d8bf4"/><stop offset="0.486" stop-color="#484bee"/><stop offset="0.488" stop-color="#422fc1"/><stop offset="0.660" stop-color="#402bb6"/><stop offset="1.000" stop-color="#3f29b0"/></linearGradient><linearGradient id="he8"><stop offset="0.000" stop-color="#412cba"/><stop offset="0.124" stop-color="#4331c6"/><stop offset="0.204" stop-color="#463bdd"/><stop offset="0.264" stop-color="#475dfa"/><stop offset="0.288" stop-color="#3875fe"/><stop offset="0.338" stop-color="#22a2e4"/><stop offset="0.376" stop-color="#02b7cb"/><stop offset="0.384" stop-color="#02bac4"/><stop offset="0.410" stop-color="#25c2ae"/><stop offset="0.444" stop-color="#3fca8f"/><stop offset="0.480" stop-color="#6ccd68"/><stop offset="0.482" stop-color="#01b9c6"/><stop offset="0.484" stop-color="#2d8af4"/><stop offset="0.486" stop-color="#484bee"/><stop offset="0.488" stop-color="#422fc1"/><stop offset="0.660" stop-color="#402bb6"/><stop offset="1.000" stop-color="#3f29b0"/></linearGradient><linearGradient id="he9"><stop offset="0.000" stop-color="#412cb9"/><stop offset="0.124" stop-color="#4330c5"/><stop offset="0.204" stop-color="#463bdc"/><stop offset="0.264" stop-color="#475cfa"/><stop offset="0.288" stop-color="#3975fe"/><stop offset="0.354" stop-color="#19acdc"/><stop offset="0.378" stop-color="#01b8c9"/><stop offset="0.386" stop-color="#03bbc2"/><stop offset="0.410" stop-color="#25c2ae"/><stop offset="0.436" stop-color="#37c897"/><stop offset="0.438" stop-color="#15afd8"/><stop offset="0.440" stop-color="#2f81fa"/><stop offset="0.442" stop-color="#484aed"/><stop offset="0.444" stop-color="#4331c7"/><stop offset="0.618" stop-color="#402bb7"/><stop offset="1.000" stop-color="#3f29af"/></linearGradient><linearGradient id="he10"><stop offset="0.000" stop-color="#412cb9"/><stop offset="0.124" stop-color="#4330c5"/><stop offset="0.204" stop-color="#463adb"/><stop offset="0.246" stop-color="#484df0"/><stop offset="0.272" stop-color="#4563fd"/><stop offset="0.288" stop-color="#3974fe"/><stop offset="0.354" stop-color="#19acdc"/><stop offset="0.378" stop-color="#01b8c9"/><stop offset="0.386" stop-color="#03bbc3"/><stop offset="0.410" stop-color="#24c2ae"/><stop offset="0.436" stop-color="#37c897"/><stop offset="0.438" stop-color="#15afd9"/><stop offset="0.440" stop-color="#2f81fa"/><stop offset="0.442" stop-color="#4849ed"/><stop offset="0.444" stop-color="#4331c7"/><stop offset="0.616" stop-color="#402bb7"/><stop offset="1.000" stop-color="#3f28af"/></linearGradient><linearGradient id="he11"><stop offset="0.000" stop-color="#412cb9"/><stop offset="0.126" stop-color="#4330c5"/><stop offset="0.204" stop-color="#463adb"/><stop offset="0.246" stop-color="#484cf0"/><stop offset="0.272" stop-color="#4562fc"/><stop offset="0.288" stop-color="#3a74fe"/><stop offset="0.356" stop-color="#18addb"/><stop offset="0.378" stop-color="#01b8ca"/><stop offset="0.386" stop-color="#02bbc3"/><stop offset="0.410" stop-color="#24c1ae"/><stop offset="0.436" stop-color="#37c897"/><stop offset="0.438" stop-color="#15afd9"/><stop offset="0.440" stop-color="#2f81fa"/><stop offset="0.442" stop-color="#4849ed"/><stop offset="0.444" stop-color="#4331c6"/><stop offset="0.616" stop-color="#402bb7"/><stop offset="1.000" stop-color="#3f28af"/></linearGradient><linearGradient id="he12"><stop offset="0.000" stop-color="#412cb8"/><stop offset="0.126" stop-color="#4230c4"/><stop offset="0.206" stop-color="#463adb"/><stop offset="0.238" stop-color="#4747eb"/><stop offset="0.266" stop-color="#475cfa"/><stop offset="0.290" stop-color="#3875fe"/><stop offset="0.356" stop-color="#19addb"/><stop offset="0.378" stop-color="#01b8ca"/><stop offset="0.386" stop-color="#02bbc3"/><stop offset="0.410" stop-color="#24c1af"/><stop offset="0.436" stop-color="#37c897"/><stop offset="0.438" stop-color="#15afd9"/><stop offset="0.440" stop-color="#2f81fa"/><stop offset="0.442" stop-color="#4849ed"/><stop offset="0.444" stop-color="#4330c5"/><stop offset="0.616" stop-color="#402bb7"/><stop offset="1.000" stop-color="#3f28af"/></linearGradient><linearGradient id="he13"><stop offset="0.000" stop-color="#402cb8"/><stop offset="0.128" stop-color="#4230c4"/><stop offset="0.206" stop-color="#4639da"/><stop offset="0.248" stop-color="#484df0"/><stop offset="0.274" stop-color="#4563fd"/><stop offset="0.290" stop-color="#3975fe"/><stop offset="0.356" stop-color="#19addc"/><stop offset="0.380" stop-color="#01b8c9"/><stop offset="0.386" stop-color="#02bac3"/><stop offset="0.412" stop-color="#25c2ad"/><stop offset="0.436" stop-color="#37c898"/><stop offset="0.438" stop-color="#16afd9"/><stop offset="0.440" stop-color="#2f81fa"/><stop offset="0.442" stop-color="#4849ed"/><stop offset="0.444" stop-color="#4330c5"/><stop offset="0.616" stop-color="#402bb6"/><stop offset="1.000" stop-color="#3f28af"/></linearGradient><linearGradient id="he14"><stop offset="0.000" stop-color="#402bb8"/><stop offset="0.128" stop-color="#4230c3"/><stop offset="0.206" stop-color="#4639d9"/><stop offset="0.248" stop-color="#484cef"/><stop offset="0.274" stop-color="#4562fc"/><stop offset="0.290" stop-color="#3974fe"/><stop offset="0.356" stop-color="#19addc"/><stop offset="0.380" stop-color="#01b8c9"/><stop offset="0.388" stop-color="#04bbc2"/><stop offset="0.412" stop-color="#25c2ad"/><stop offset="0.436" stop-color="#37c898"/><stop offset="0.438" stop-color="#16afd9"/><stop offset="0.440" stop-color="#2f80fa"/><stop offset="0.442" stop-color="#4848ec"/><stop offset="0.444" stop-color="#4230c4"/><stop offset="0.616" stop-color="#402bb6"/><stop offset="1.000" stop-color="#3f28af"/></linearGradient><linearGradient id="he15"><stop offset="0.000" stop-color="#402bb8"/><stop offset="0.130" stop-color="#4230c3"/><stop offset="0.208" stop-color="#4639d9"/><stop offset="0.248" stop-color="#484bef"/><stop offset="0.274" stop-color="#4562fc"/><stop offset="0.290" stop-color="#3a74fe"/><stop offset="0.302" stop-color="#2f81fa"/><stop offset="0.356" stop-color="#19addc"/><stop offset="0.380" stop-color="#01b8c9"/><stop offset="0.388" stop-color="#03bbc2"/><stop offset="0.412" stop-color="#25c2ae"/><stop offset="0.436" stop-color="#36c898"/><stop offset="0.438" stop-color="#16afda"/><stop offset="0.440" stop-color="#3080fa"/><stop offset="0.442" stop-color="#4848ec"/><stop offset="0.444" stop-color="#4230c4"/><stop offset="0.616" stop-color="#402bb6"/><stop offset="1.000" stop-color="#3f28af"/></linearGradient><linearGradient id="he16"><stop offset="0.000" stop-color="#402bb7"/><stop offset="0.128" stop-color="#422fc2"/><stop offset="0.206" stop-color="#4538d8"/><stop offset="0.248" stop-color="#484aee"/><stop offset="0.288" stop-color="#3d71ff"/><stop offset="0.302" stop-color="#2f81fa"/><stop offset="0.332" stop-color="#259ce7"/><stop offset="0.358" stop-color="#18aedb"/><stop offset="0.380" stop-color="#01b8c9"/><stop offset="0.388" stop-color="#03bbc2"/><stop offset="0.412" stop-color="#25c2ae"/><stop offset="0.436" stop-color="#36c898"/><stop offset="0.438" stop-color="#16aeda"/><stop offset="0.440" stop-color="#3080fb"/><stop offset="0.442" stop-color="#4848ec"/><stop offset="0.444" stop-color="#4230c3"/><stop offset="0.616" stop-color="#402bb6"/><stop offset="1.000" stop-color="#3f28af"/></linearGradient><linearGradient id="he17"><stop offset="0.000" stop-color="#402bb7"/><stop offset="0.130" stop-color="#422fc2"/><stop offset="0.206" stop-color="#4538d7"/><stop offset="0.248" stop-color="#484aee"/><stop offset="0.288" stop-color="#3d70ff"/><stop offset="0.302" stop-color="#3080fa"/><stop offset="0.332" stop-color="#259be8"/><stop offset="0.358" stop-color="#18addb"/><stop offset="0.380" stop-color="#01b8ca"/><stop offset="0.388" stop-color="#03bbc3"/><stop offset="0.412" stop-color="#24c2ae"/><stop offset="0.436" stop-color="#36c899"/><stop offset="0.438" stop-color="#17aeda"/><stop offset="0.440" stop-color="#3080fb"/><stop offset="0.442" stop-color="#4847ec"/><stop offset="0.444" stop-color="#4230c3"/><stop offset="0.616" stop-color="#402ab5"/><stop offset="1.000" stop-color="#3f28ae"/></linearGradient><linearGradient id="he18"><stop offset="0.000" stop-color="#402bb7"/><stop offset="0.132" stop-color="#422fc2"/><stop offset="0.208" stop-color="#4538d7"/><stop offset="0.248" stop-color="#4849ed"/><stop offset="0.288" stop-color="#3e6fff"/><stop offset="0.302" stop-color="#3080fb"/><stop offset="0.332" stop-color="#259be8"/><stop offset="0.358" stop-color="#18addb"/><stop offset="0.380" stop-color="#01b8ca"/><stop offset="0.388" stop-color="#02bbc3"/><stop offset="0.412" stop-color="#24c1ae"/><stop offset="0.436" stop-color="#36c799"/><stop offset="0.438" stop-color="#17aeda"/><stop offset="0.440" stop-color="#307ffb"/><stop offset="0.442" stop-color="#4747eb"/><stop offset="0.444" stop-color="#422fc2"/><stop offset="0.616" stop-color="#402ab5"/><stop offset="1.000" stop-color="#3f28ae"/></linearGradient><linearGradient id="he19"><stop offset="0.000" stop-color="#402bb6"/><stop offset="0.134" stop-color="#422fc2"/><stop offset="0.210" stop-color="#4538d7"/><stop offset="0.250" stop-color="#484aee"/><stop offset="0.274" stop-color="#465ffb"/><stop offset="0.290" stop-color="#3c71ff"/><stop offset="0.304" stop-color="#2f81fa"/><stop offset="0.358" stop-color="#19addc"/><stop offset="0.380" stop-color="#01b8ca"/><stop offset="0.388" stop-color="#02bac3"/><stop offset="0.412" stop-color="#24c1af"/><stop offset="0.436" stop-color="#36c799"/><stop offset="0.438" stop-color="#17aeda"/><stop offset="0.440" stop-color="#307ffb"/><stop offset="0.442" stop-color="#4747eb"/><stop offset="0.444" stop-color="#422fc2"/><stop offset="0.616" stop-color="#402ab5"/><stop offset="1.000" stop-color="#3f28ae"/></linearGradient><linearGradient id="he20"><stop offset="0.000" stop-color="#402bb6"/><stop offset="0.134" stop-color="#422fc1"/><stop offset="0.210" stop-color="#4537d7"/><stop offset="0.250" stop-color="#4849ed"/><stop offset="0.290" stop-color="#3d70ff"/><stop offset="0.304" stop-color="#2f81fa"/><stop offset="0.334" stop-color="#259ce7"/><stop offset="0.358" stop-color="#19addc"/><stop offset="0.382" stop-color="#01b8c9"/><stop offset="0.390" stop-color="#04bbc2"/><stop offset="0.414" stop-color="#25c2ad"/><stop offset="0.436" stop-color="#35c79a"/><stop offset="0.438" stop-color="#17aedb"/><stop offset="0.440" stop-color="#307ffb"/><stop offset="0.442" stop-color="#4747eb"/><stop offset="0.444" stop-color="#422fc1"/><stop offset="0.630" stop-color="#402ab4"/><stop offset="1.000" stop-color="#3f28ae"/></linearGradient><linearGradient id="he21"><stop offset="0.000" stop-color="#402bb6"/><stop offset="0.134" stop-color="#422fc1"/><stop offset="0.210" stop-color="#4537d6"/><stop offset="0.250" stop-color="#4848ec"/><stop offset="0.290" stop-color="#3e70ff"/><stop offset="0.304" stop-color="#2f80fa"/><stop offset="0.334" stop-color="#259ce7"/><stop offset="0.360" stop-color="#18aedb"/><stop offset="0.382" stop-color="#01b8c9"/><stop offset="0.390" stop-color="#03bbc2"/><stop offset="0.420" stop-color="#2bc3a8"/><stop offset="0.422" stop-color="#1da9e0"/><stop offset="0.424" stop-color="#337bfc"/><stop offset="0.426" stop-color="#4746ea"/><stop offset="0.428" stop-color="#4230c3"/><stop offset="0.598" stop-color="#402ab5"/><stop offset="1.000" stop-color="#3f28ae"/></linearGradient><linearGradient id="he22"><stop offset="0.000" stop-color="#402bb6"/><stop offset="0.136" stop-color="#422fc0"/><stop offset="0.212" stop-color="#4537d6"/><stop offset="0.250" stop-color="#4848ec"/><stop offset="0.290" stop-color="#3e6fff"/><stop offset="0.304" stop-color="#3080fb"/><stop offset="0.334" stop-color="#259be7"/><stop offset="0.360" stop-color="#18aedb"/><stop offset="0.382" stop-color="#01b8c9"/><stop offset="0.390" stop-color="#03bbc2"/><stop offset="0.420" stop-color="#2ac3a8"/><stop offset="0.422" stop-color="#1da8e0"/><stop offset="0.424" stop-color="#337bfd"/><stop offset="0.426" stop-color="#4746ea"/><stop offset="0.428" stop-color="#422fc3"/><stop offset="0.598" stop-color="#402ab5"/><stop offset="1.000" stop-color="#3f28ae"/></linearGradient><linearGradient id="he23"><stop offset="0.000" stop-color="#402ab5"/><stop offset="0.138" stop-color="#422fc0"/><stop offset="0.214" stop-color="#4537d6"/><stop offset="0.252" stop-color="#4848ec"/><stop offset="0.276" stop-color="#465efb"/><stop offset="0.292" stop-color="#3d71ff"/><stop offset="0.306" stop-color="#2f81fa"/><stop offset="0.334" stop-color="#259be8"/><stop offset="0.360" stop-color="#18addb"/><stop offset="0.382" stop-color="#01b8ca"/><stop offset="0.390" stop-color="#03bbc3"/><stop offset="0.420" stop-color="#2ac3a9"/><stop offset="0.422" stop-color="#1da8e0"/><stop offset="0.424" stop-color="#337afd"/><stop offset="0.426" stop-color="#4746ea"/><stop offset="0.428" stop-color="#422fc2"/><stop offset="0.612" stop-color="#402ab4"/><stop offset="1.000" stop-color="#3f28ae"/></linearGradient><linearGradient id="he24"><stop offset="0.000" stop-color="#402ab5"/><stop offset="0.138" stop-color="#422ec0"/><stop offset="0.214" stop-color="#4537d5"/><stop offset="0.252" stop-color="#4848ec"/><stop offset="0.292" stop-color="#3d70ff"/><stop offset="0.306" stop-color="#2f81fa"/><stop offset="0.334" stop-color="#259be8"/><stop offset="0.360" stop-color="#19addc"/><stop offset="0.382" stop-color="#01b8ca"/><stop offset="0.390" stop-color="#02bbc3"/><stop offset="0.420" stop-color="#2ac3a9"/><stop offset="0.422" stop-color="#1da8e0"/><stop offset="0.424" stop-color="#347afd"/><stop offset="0.426" stop-color="#4745e9"/><stop offset="0.428" stop-color="#422fc1"/><stop offset="0.612" stop-color="#402ab4"/><stop offset="1.000" stop-color="#3f28ae"/></linearGradient><linearGradient id="he25"><stop offset="0.000" stop-color="#402ab5"/><stop offset="0.140" stop-color="#422ebf"/><stop offset="0.216" stop-color="#4537d5"/><stop offset="0.254" stop-color="#4848ec"/><stop offset="0.292" stop-color="#3e6fff"/><stop offset="0.306" stop-color="#2f80fa"/><stop offset="0.334" stop-color="#269ae8"/><stop offset="0.360" stop-color="#19addc"/><stop offset="0.382" stop-color="#01b8ca"/><stop offset="0.390" stop-color="#02bac3"/><stop offset="0.420" stop-color="#29c3a9"/><stop offset="0.422" stop-color="#1da8e0"/><stop offset="0.424" stop-color="#347afd"/><stop offset="0.426" stop-color="#4745e9"/><stop offset="0.428" stop-color="#422fc1"/><stop offset="0.612" stop-color="#402ab3"/><stop offset="1.000" stop-color="#3f28ad"/></linearGradient><linearGradient id="he26"><stop offset="0.000" stop-color="#402ab4"/><stop offset="0.144" stop-color="#422ebf"/><stop offset="0.218" stop-color="#4537d5"/><stop offset="0.254" stop-color="#4747ec"/><stop offset="0.292" stop-color="#3f6fff"/><stop offset="0.306" stop-color="#3080fb"/><stop offset="0.334" stop-color="#269ae8"/><stop offset="0.360" stop-color="#19addc"/><stop offset="0.384" stop-color="#01b8c9"/><stop offset="0.392" stop-color="#04bbc2"/><stop offset="0.420" stop-color="#29c3aa"/><stop offset="0.422" stop-color="#1ea8e1"/><stop offset="0.424" stop-color="#3479fd"/><stop offset="0.426" stop-color="#4745e9"/><stop offset="0.428" stop-color="#422fc0"/><stop offset="0.612" stop-color="#402ab3"/><stop offset="1.000" stop-color="#3f28ad"/></linearGradient><linearGradient id="he27"><stop offset="0.000" stop-color="#402ab4"/><stop offset="0.146" stop-color="#422ebf"/><stop offset="0.220" stop-color="#4537d5"/><stop offset="0.256" stop-color="#4848ec"/><stop offset="0.278" stop-color="#465dfb"/><stop offset="0.294" stop-color="#3d71ff"/><stop offset="0.308" stop-color="#2f81fa"/><stop offset="0.336" stop-color="#259be7"/><stop offset="0.362" stop-color="#18aedb"/><stop offset="0.384" stop-color="#01b8c9"/><stop offset="0.392" stop-color="#03bbc2"/><stop offset="0.420" stop-color="#29c3aa"/><stop offset="0.422" stop-color="#1ea7e1"/><stop offset="0.424" stop-color="#3579fd"/><stop offset="0.426" stop-color="#4744e8"/><stop offset="0.428" stop-color="#422ec0"/><stop offset="0.612" stop-color="#402ab3"/><stop offset="1.000" stop-color="#3f28ad"/></linearGradient><linearGradient id="he28"><stop offset="0.000" stop-color="#402ab4"/><stop offset="0.148" stop-color="#422ebf"/><stop offset="0.222" stop-color="#4537d5"/><stop offset="0.256" stop-color="#4747eb"/><stop offset="0.294" stop-color="#3e70ff"/><stop offset="0.308" stop-color="#2f81fa"/><stop offset="0.336" stop-color="#259be8"/><stop offset="0.362" stop-color="#18addb"/><stop offset="0.384" stop-color="#01b8c9"/><stop offset="0.392" stop-color="#03bbc2"/><stop offset="0.420" stop-color="#28c3aa"/><stop offset="0.422" stop-color="#1ea7e1"/><stop offset="0.424" stop-color="#3579fd"/><stop offset="0.426" stop-color="#4744e8"/><stop offset="0.428" stop-color="#422ebf"/><stop offset="0.612" stop-color="#4029b3"/><stop offset="1.000" stop-color="#3f28ad"/></linearGradient><linearGradient id="he29"><stop offset="0.000" stop-color="#402ab4"/><stop offset="0.148" stop-color="#422ebe"/><stop offset="0.222" stop-color="#4536d4"/><stop offset="0.256" stop-color="#4746eb"/><stop offset="0.294" stop-color="#3e6fff"/><stop offset="0.308" stop-color="#2f80fa"/><stop offset="0.336" stop-color="#259be8"/><stop offset="0.362" stop-color="#18addb"/><stop offset="0.384" stop-color="#01b8ca"/><stop offset="0.392" stop-color="#02bbc3"/><stop offset="0.420" stop-color="#28c2ab"/><stop offset="0.422" stop-color="#1ea7e1"/><stop offset="0.424" stop-color="#3578fd"/><stop offset="0.426" stop-color="#4744e8"/><stop offset="0.428" stop-color="#422ebe"/><stop offset="0.612" stop-color="#3f29b2"/><stop offset="1.000" stop-color="#3f28ad"/></linearGradient><linearGradient id="he30"><stop offset="0.000" stop-color="#402ab3"/><stop offset="0.150" stop-color="#412ebe"/><stop offset="0.224" stop-color="#4536d4"/><stop offset="0.258" stop-color="#4747eb"/><stop offset="0.280" stop-color="#465dfb"/><stop offset="0.296" stop-color="#3d71ff"/><stop offset="0.308" stop-color="#3080fb"/><stop offset="0.336" stop-color="#269ae8"/><stop offset="0.362" stop-color="#19addc"/><stop offset="0.384" stop-color="#01b8ca"/><stop offset="0.392" stop-color="#02bbc3"/><stop offset="0.416" stop-color="#24c1af"/><stop offset="0.436" stop-color="#33c69d"/><stop offset="0.438" stop-color="#26c2ad"/><stop offset="0.440" stop-color="#02bac4"/><stop offset="0.444" stop-color="#23a1e4"/><stop offset="0.448" stop-color="#317efb"/><stop offset="0.450" stop-color="#4269fe"/><stop offset="0.452" stop-color="#4756f7"/><stop offset="0.454" stop-color="#4743e7"/><stop offset="0.456" stop-color="#4332ca"/><stop offset="0.458" stop-color="#412cba"/><stop offset="1.000" stop-color="#3f28ad"/></linearGradient><linearGradient id="he31"><stop offset="0.000" stop-color="#402ab3"/><stop offset="0.150" stop-color="#412ebd"/><stop offset="0.224" stop-color="#4536d3"/><stop offset="0.258" stop-color="#4746eb"/><stop offset="0.282" stop-color="#465ffb"/><stop offset="0.296" stop-color="#3d70ff"/><stop offset="0.310" stop-color="#2f81fa"/><stop offset="0.338" stop-color="#259ce7"/><stop offset="0.362" stop-color="#19addc"/><stop offset="0.386" stop-color="#01b8c9"/><stop offset="0.392" stop-color="#02bac4"/><stop offset="0.428" stop-color="#2dc4a5"/><stop offset="0.432" stop-color="#04b6cc"/><stop offset="0.434" stop-color="#1babde"/><stop offset="0.440" stop-color="#3579fd"/><stop offset="0.442" stop-color="#4465fd"/><stop offset="0.444" stop-color="#4852f4"/><stop offset="0.446" stop-color="#473fe3"/><stop offset="0.448" stop-color="#4230c4"/><stop offset="0.450" stop-color="#412cbb"/><stop offset="1.000" stop-color="#3e28ad"/></linearGradient><linearGradient id="he32"><stop offset="0.000" stop-color="#402ab3"/><stop offset="0.152" stop-color="#412dbd"/><stop offset="0.226" stop-color="#4536d3"/><stop offset="0.258" stop-color="#4745ea"/><stop offset="0.296" stop-color="#3e6fff"/><stop offset="0.310" stop-color="#2f81fa"/><stop offset="0.338" stop-color="#259be7"/><stop offset="0.364" stop-color="#18aedb"/><stop offset="0.386" stop-color="#01b8c9"/><stop offset="0.394" stop-color="#03bbc2"/><stop offset="0.420" stop-color="#26c2ac"/><stop offset="0.422" stop-color="#0abdbe"/><stop offset="0.424" stop-color="#0bb4d2"/><stop offset="0.426" stop-color="#1ea7e1"/><stop offset="0.432" stop-color="#3876fe"/><stop offset="0.434" stop-color="#4562fc"/><stop offset="0.436" stop-color="#4850f3"/><stop offset="0.438" stop-color="#473ee2"/><stop offset="0.440" stop-color="#4230c3"/><stop offset="0.442" stop-color="#412dbb"/><stop offset="0.626" stop-color="#3f29b1"/><stop offset="1.000" stop-color="#3e28ad"/></linearGradient><linearGradient id="he33"><stop offset="0.000" stop-color="#3f29b2"/><stop offset="0.152" stop-color="#412dbd"/><stop offset="0.226" stop-color="#4535d2"/><stop offset="0.260" stop-color="#4746ea"/><stop offset="0.296" stop-color="#3f6fff"/><stop offset="0.310" stop-color="#2f80fa"/><stop offset="0.338" stop-color="#259be8"/><stop offset="0.364" stop-color="#18addb"/><stop offset="0.386" stop-color="#01b8c9"/><stop offset="0.394" stop-color="#03bbc3"/><stop offset="0.412" stop-color="#1cc0b3"/><stop offset="0.414" stop-color="#03bbc2"/><stop offset="0.418" stop-color="#20a5e2"/><stop offset="0.424" stop-color="#3975fe"/><stop offset="0.428" stop-color="#4851f3"/><stop offset="0.430" stop-color="#473fe3"/><stop offset="0.432" stop-color="#4331c6"/><stop offset="0.434" stop-color="#412dbb"/><stop offset="0.616" stop-color="#3f29b1"/><stop offset="1.000" stop-color="#3e28ac"/></linearGradient><linearGradient id="he34"><stop offset="0.000" stop-color="#3f29b2"/><stop offset="0.164" stop-color="#412ebe"/><stop offset="0.238" stop-color="#4538d8"/><stop offset="0.260" stop-color="#4745e9"/><stop offset="0.282" stop-color="#475cfa"/><stop offset="0.302" stop-color="#3876fe"/><stop offset="0.332" stop-color="#2896ec"/><stop offset="0.364" stop-color="#19addc"/><stop offset="0.386" stop-color="#01b8ca"/><stop offset="0.394" stop-color="#02bbc3"/><stop offset="0.404" stop-color="#0fbebb"/><stop offset="0.406" stop-color="#02bac4"/><stop offset="0.410" stop-color="#20a4e3"/><stop offset="0.416" stop-color="#3876fe"/><stop offset="0.420" stop-color="#4853f5"/><stop offset="0.422" stop-color="#4742e6"/><stop offset="0.424" stop-color="#4433cd"/><stop offset="0.426" stop-color="#412dbc"/><stop offset="0.608" stop-color="#3f29b1"/><stop offset="1.000" stop-color="#3e28ac"/></linearGradient><linearGradient id="he35"><stop offset="0.000" stop-color="#3f29b2"/><stop offset="0.164" stop-color="#412dbd"/><stop offset="0.238" stop-color="#4538d7"/><stop offset="0.260" stop-color="#4744e8"/><stop offset="0.282" stop-color="#475bfa"/><stop offset="0.302" stop-color="#3975fe"/><stop offset="0.348" stop-color="#22a2e4"/><stop offset="0.386" stop-color="#01b7ca"/><stop offset="0.396" stop-color="#03bbc2"/><stop offset="0.398" stop-color="#02bac5"/><stop offset="0.402" stop-color="#1fa5e2"/><stop offset="0.408" stop-color="#3579fd"/><stop offset="0.410" stop-color="#4368fd"/><stop offset="0.414" stop-color="#4747eb"/><stop offset="0.418" stop-color="#412dbc"/><stop offset="0.598" stop-color="#3f29b1"/><stop offset="1.000" stop-color="#3e28ac"/></linearGradient><linearGradient id="he36"><stop offset="0.000" stop-color="#3f29b1"/><stop offset="0.166" stop-color="#412dbd"/><stop offset="0.208" stop-color="#4331c7"/><stop offset="0.240" stop-color="#4538d7"/><stop offset="0.260" stop-color="#4743e7"/><stop offset="0.282" stop-color="#475af9"/><stop offset="0.302" stop-color="#3974fe"/><stop offset="0.312" stop-color="#2f81fa"/><stop offset="0.344" stop-color="#249fe6"/><stop offset="0.390" stop-color="#01b9c8"/><stop offset="0.394" stop-color="#1da8e0"/><stop offset="0.400" stop-color="#317efb"/><stop offset="0.402" stop-color="#406dfe"/><stop offset="0.406" stop-color="#484df1"/><stop offset="0.408" stop-color="#463ee1"/><stop offset="0.410" stop-color="#4331c6"/><stop offset="0.412" stop-color="#412dbd"/><stop offset="0.592" stop-color="#3f29b1"/><stop offset="1.000" stop-color="#3e27ac"/></linearGradient><linearGradient id="he37"><stop offset="0.000" stop-color="#3f29b1"/><stop offset="0.168" stop-color="#412dbc"/><stop offset="0.240" stop-color="#4537d6"/><stop offset="0.266" stop-color="#4848ec"/><stop offset="0.286" stop-color="#465ffb"/><stop offset="0.300" stop-color="#3d71ff"/><stop offset="0.312" stop-color="#2f80fa"/><stop offset="0.336" stop-color="#2798ea"/><stop offset="0.366" stop-color="#18addb"/><stop offset="0.382" stop-color="#06b5cf"/><stop offset="0.384" stop-color="#09b4d1"/><stop offset="0.386" stop-color="#1baade"/><stop offset="0.394" stop-color="#3a74fe"/><stop offset="0.396" stop-color="#4564fd"/><stop offset="0.400" stop-color="#4746ea"/><stop offset="0.404" stop-color="#412dbd"/><stop offset="0.582" stop-color="#3f29b1"/><stop offset="1.000" stop-color="#3e27ac"/></linearGradient><linearGradient id="he38"><stop offset="0.000" stop-color="#3f29b1"/><stop offset="0.170" stop-color="#412dbc"/><stop offset="0.212" stop-color="#4331c6"/><stop offset="0.242" stop-color="#4537d6"/><stop offset="0.266" stop-color="#4747eb"/><stop offset="0.300" stop-color="#3d70ff"/><stop offset="0.312" stop-color="#3080fb"/><stop offset="0.334" stop-color="#2896ec"/><stop offset="0.376" stop-color="#0fb2d4"/><stop offset="0.380" stop-color="#21a3e3"/><stop offset="0.386" stop-color="#327cfc"/><stop offset="0.388" stop-color="#406cfe"/><stop offset="0.392" stop-color="#484ff2"/><stop offset="0.396" stop-color="#4434ce"/><stop offset="0.398" stop-color="#412ebd"/><stop offset="0.574" stop-color="#3f29b1"/><stop offset="1.000" stop-color="#3e27ac"/></linearGradient><linearGradient id="he39"><stop offset="0.000" stop-color="#3f29b0"/><stop offset="0.170" stop-color="#412dbb"/><stop offset="0.212" stop-color="#4330c5"/><stop offset="0.242" stop-color="#4537d5"/><stop offset="0.266" stop-color="#4746ea"/><stop offset="0.300" stop-color="#3e6fff"/><stop offset="0.314" stop-color="#2f81fa"/><stop offset="0.370" stop-color="#16afd9"/><stop offset="0.378" stop-color="#2e85f8"/><stop offset="0.382" stop-color="#4367fd"/><stop offset="0.386" stop-color="#484bef"/><stop offset="0.390" stop-color="#4332c8"/><stop offset="0.392" stop-color="#412ebe"/><stop offset="0.566" stop-color="#3f29b1"/><stop offset="1.000" stop-color="#3e27ac"/></linearGradient><linearGradient id="he40"><stop offset="0.000" stop-color="#3f29b0"/><stop offset="0.172" stop-color="#412dbb"/><stop offset="0.214" stop-color="#4330c5"/><stop offset="0.244" stop-color="#4537d5"/><stop offset="0.268" stop-color="#4746eb"/><stop offset="0.300" stop-color="#3f6eff"/><stop offset="0.314" stop-color="#2f81fa"/><stop offset="0.364" stop-color="#1babde"/><stop offset="0.372" stop-color="#2f80fa"/><stop offset="0.376" stop-color="#4464fd"/><stop offset="0.380" stop-color="#4849ed"/><stop offset="0.384" stop-color="#4331c7"/><stop offset="0.386" stop-color="#422ebe"/><stop offset="0.558" stop-color="#3f29b1"/><stop offset="1.000" stop-color="#3e27ab"/></linearGradient><linearGradient id="he41"><stop offset="0.000" stop-color="#3f29b0"/><stop offset="0.176" stop-color="#412dbb"/><stop offset="0.218" stop-color="#4330c5"/><stop offset="0.246" stop-color="#4537d5"/><stop offset="0.268" stop-color="#4745e9"/><stop offset="0.300" stop-color="#3f6efe"/><stop offset="0.314" stop-color="#3080fa"/><stop offset="0.358" stop-color="#1fa6e1"/><stop offset="0.366" stop-color="#317efb"/><stop offset="0.370" stop-color="#4562fc"/><stop offset="0.374" stop-color="#4849ed"/><stop offset="0.378" stop-color="#4332c8"/><stop offset="0.380" stop-color="#422ebf"/><stop offset="0.550" stop-color="#3f29b1"/><stop offset="1.000" stop-color="#3e27ab"/></linearGradient><linearGradient id="he42"><stop offset="0.000" stop-color="#3f29af"/><stop offset="0.176" stop-color="#412cba"/><stop offset="0.218" stop-color="#4230c4"/><stop offset="0.246" stop-color="#4536d3"/><stop offset="0.270" stop-color="#4746ea"/><stop offset="0.302" stop-color="#3e6fff"/><stop offset="0.316" stop-color="#2f82fa"/><stop offset="0.352" stop-color="#22a2e4"/><stop offset="0.360" stop-color="#327cfc"/><stop offset="0.364" stop-color="#4562fc"/><stop offset="0.368" stop-color="#484aee"/><stop offset="0.374" stop-color="#422ebf"/><stop offset="0.540" stop-color="#3f29b0"/><stop offset="1.000" stop-color="#3e27ab"/></linearGradient><linearGradient id="he43"><stop offset="0.000" stop-color="#3f28af"/><stop offset="0.176" stop-color="#412cb9"/><stop offset="0.218" stop-color="#4230c3"/><stop offset="0.246" stop-color="#4535d2"/><stop offset="0.268" stop-color="#4743e7"/><stop offset="0.300" stop-color="#416cfe"/><stop offset="0.316" stop-color="#2f81fa"/><stop offset="0.346" stop-color="#259de7"/><stop offset="0.348" stop-color="#259be8"/><stop offset="0.354" stop-color="#327cfc"/><stop offset="0.358" stop-color="#4563fd"/><stop offset="0.364" stop-color="#4740e4"/><stop offset="0.368" stop-color="#422ec0"/><stop offset="0.532" stop-color="#3f29b0"/><stop offset="1.000" stop-color="#3e27ab"/></linearGradient><linearGradient id="he44"><stop offset="0.000" stop-color="#3f28af"/><stop offset="0.176" stop-color="#412cb9"/><stop offset="0.218" stop-color="#422fc2"/><stop offset="0.246" stop-color="#4435d0"/><stop offset="0.268" stop-color="#4742e6"/><stop offset="0.298" stop-color="#4368fe"/><stop offset="0.316" stop-color="#3080fa"/><stop offset="0.342" stop-color="#2699e9"/><stop offset="0.348" stop-color="#317dfc"/><stop offset="0.352" stop-color="#4466fd"/><stop offset="0.358" stop-color="#4744e9"/><stop offset="0.362" stop-color="#4331c6"/><stop offset="0.364" stop-color="#422fc0"/><stop offset="0.526" stop-color="#3f29b0"/><stop offset="1.000" stop-color="#3e27ab"/></linearGradient><linearGradient id="he45"><stop offset="0.000" stop-color="#3f28af"/><stop offset="0.176" stop-color="#402bb8"/><stop offset="0.218" stop-color="#422fc0"/><stop offset="0.246" stop-color="#4434ce"/><stop offset="0.268" stop-color="#4740e4"/><stop offset="0.296" stop-color="#4464fd"/><stop offset="0.316" stop-color="#307ffb"/><stop offset="0.336" stop-color="#2a93ee"/><stop offset="0.338" stop-color="#2b91ef"/><stop offset="0.344" stop-color="#3a73fe"/><stop offset="0.348" stop-color="#465efb"/><stop offset="0.354" stop-color="#473ee2"/><stop offset="0.358" stop-color="#422fc1"/><stop offset="0.516" stop-color="#3f29b0"/><stop offset="1.000" stop-color="#3e27ab"/></linearGradient><linearGradient id="he46"><stop offset="0.000" stop-color="#3f28ae"/><stop offset="0.180" stop-color="#402bb8"/><stop offset="0.220" stop-color="#422ec0"/><stop offset="0.248" stop-color="#4434ce"/><stop offset="0.270" stop-color="#4741e5"/><stop offset="0.296" stop-color="#4563fd"/><stop offset="0.314" stop-color="#327cfc"/><stop offset="0.332" stop-color="#2c8ef1"/><stop offset="0.338" stop-color="#3777fe"/><stop offset="0.344" stop-color="#4758f8"/><stop offset="0.348" stop-color="#4744e8"/><stop offset="0.354" stop-color="#422fc1"/><stop offset="0.510" stop-color="#3f29b0"/><stop offset="1.000" stop-color="#3e27ab"/></linearGradient><linearGradient id="he47"><stop offset="0.000" stop-color="#3f28ae"/><stop offset="0.180" stop-color="#402bb7"/><stop offset="0.248" stop-color="#4433cd"/><stop offset="0.270" stop-color="#4740e3"/><stop offset="0.294" stop-color="#465ffb"/><stop offset="0.310" stop-color="#3876fe"/><stop offset="0.328" stop-color="#2d8af5"/><stop offset="0.334" stop-color="#3d70ff"/><stop offset="0.338" stop-color="#465dfb"/><stop offset="0.344" stop-color="#4741e5"/><stop offset="0.348" stop-color="#4331c6"/><stop offset="0.350" stop-color="#422fc1"/><stop offset="0.502" stop-color="#3f29b0"/><stop offset="1.000" stop-color="#3e27ab"/></linearGradient><linearGradient id="he48"><stop offset="0.000" stop-color="#3f28ae"/><stop offset="0.180" stop-color="#402bb6"/><stop offset="0.248" stop-color="#4332cb"/><stop offset="0.270" stop-color="#473ee2"/><stop offset="0.294" stop-color="#465efb"/><stop offset="0.324" stop-color="#2e84f8"/><stop offset="0.328" stop-color="#3975fe"/><stop offset="0.334" stop-color="#475af9"/><stop offset="0.340" stop-color="#473fe3"/><stop offset="0.344" stop-color="#4330c5"/><stop offset="0.350" stop-color="#422ec0"/><stop offset="0.502" stop-color="#3f29af"/><stop offset="1.000" stop-color="#3e27aa"/></linearGradient><linearGradient id="he49"><stop offset="0.000" stop-color="#3f28ad"/><stop offset="0.180" stop-color="#402ab5"/><stop offset="0.248" stop-color="#4332c9"/><stop offset="0.270" stop-color="#463de0"/><stop offset="0.294" stop-color="#475dfa"/><stop offset="0.320" stop-color="#307ffb"/><stop offset="0.324" stop-color="#3d70ff"/><stop offset="0.330" stop-color="#4757f8"/><stop offset="0.336" stop-color="#473fe2"/><stop offset="0.340" stop-color="#4330c5"/><stop offset="0.350" stop-color="#422ebe"/><stop offset="0.502" stop-color="#3f28af"/><stop offset="1.000" stop-color="#3e27aa"/></linearGradient><linearGradient id="he50"><stop offset="0.000" stop-color="#3f28ad"/><stop offset="0.174" stop-color="#402ab4"/><stop offset="0.246" stop-color="#4331c6"/><stop offset="0.272" stop-color="#463ee0"/><stop offset="0.292" stop-color="#4758f8"/><stop offset="0.308" stop-color="#3e6fff"/><stop offset="0.316" stop-color="#3579fd"/><stop offset="0.326" stop-color="#4756f6"/><stop offset="0.332" stop-color="#473fe2"/><stop offset="0.338" stop-color="#422fc2"/><stop offset="0.388" stop-color="#402bb6"/><stop offset="0.556" stop-color="#3f28ad"/><stop offset="1.000" stop-color="#3e27aa"/></linearGradient><linearGradient id="he51"><stop offset="0.000" stop-color="#3f28ad"/><stop offset="0.176" stop-color="#402ab3"/><stop offset="0.248" stop-color="#4330c5"/><stop offset="0.272" stop-color="#463cde"/><stop offset="0.292" stop-color="#4757f7"/><stop offset="0.314" stop-color="#3e6fff"/><stop offset="0.324" stop-color="#484ef1"/><stop offset="0.334" stop-color="#422fc2"/><stop offset="0.384" stop-color="#402ab5"/><stop offset="0.550" stop-color="#3f28ad"/><stop offset="1.000" stop-color="#3e27aa"/></linearGradient><linearGradient id="he52"><stop offset="0.000" stop-color="#3e28ac"/><stop offset="0.176" stop-color="#402ab3"/><stop offset="0.248" stop-color="#4230c3"/><stop offset="0.274" stop-color="#463cdf"/><stop offset="0.292" stop-color="#4755f6"/><stop offset="0.308" stop-color="#416bfe"/><stop offset="0.320" stop-color="#484df1"/><stop offset="0.326" stop-color="#463adb"/><stop offset="0.330" stop-color="#422fc3"/><stop offset="0.382" stop-color="#402ab5"/><stop offset="1.000" stop-color="#3e27aa"/></linearGradient><linearGradient id="he53"><stop offset="0.000" stop-color="#3e27ac"/><stop offset="0.228" stop-color="#412cb9"/><stop offset="0.252" stop-color="#4230c3"/><stop offset="0.270" stop-color="#4537d6"/><stop offset="0.290" stop-color="#4851f3"/><stop offset="0.306" stop-color="#4466fd"/><stop offset="0.318" stop-color="#4848ec"/><stop offset="0.328" stop-color="#422fc2"/><stop offset="0.382" stop-color="#402ab4"/><stop offset="1.000" stop-color="#3e27aa"/></linearGradient><linearGradient id="he54"><stop offset="0.000" stop-color="#3e27ac"/><stop offset="0.230" stop-color="#412cb9"/><stop offset="0.254" stop-color="#422fc3"/><stop offset="0.270" stop-color="#4536d4"/><stop offset="0.290" stop-color="#484ff2"/><stop offset="0.304" stop-color="#4660fc"/><stop offset="0.314" stop-color="#4849ed"/><stop offset="0.324" stop-color="#4230c3"/><stop offset="0.326" stop-color="#422fc1"/><stop offset="0.378" stop-color="#402ab3"/><stop offset="1.000" stop-color="#3e27aa"/></linearGradient><linearGradient id="he55"><stop offset="0.000" stop-color="#3e27ab"/><stop offset="0.234" stop-color="#402cb8"/><stop offset="0.256" stop-color="#422fc2"/><stop offset="0.272" stop-color="#4536d3"/><stop offset="0.300" stop-color="#475af9"/><stop offset="0.312" stop-color="#4745e9"/><stop offset="0.322" stop-color="#422fc1"/><stop offset="0.376" stop-color="#3f29b2"/><stop offset="1.000" stop-color="#3e27aa"/></linearGradient><linearGradient id="cb1" x1="0" x2="0" y1="0" y2="1"><stop offset="0.0000" stop-color="#f9fb15"/><stop offset="0.0625" stop-color="#f5e327"/><stop offset="0.1250" stop-color="#feca33"/><stop offset="0.1875" stop-color="#f1ba37"/><stop offset="0.2500" stop-color="#c8c129"/><stop offset="0.3125" stop-color="#94ca4a"/><stop offset="0.3750" stop-color="#5ccc76"/><stop offset="0.4375" stop-color="#34c79c"/><stop offset="0.5000" stop-color="#12beb9"/><stop offset="0.5625" stop-color="#0cb3d3"/><stop offset="0.6250" stop-color="#21a3e3"/><stop offset="0.6875" stop-color="#2c90f0"/><stop offset="0.7500" stop-color="#347afd"/><stop offset="0.8125" stop-color="#4562fc"/><stop offset="0.8750" stop-color="#484cef"/><stop offset="0.9375" stop-color="#4536d5"/><stop offset="1.0000" stop-color="#3e26a8"/></linearGradient><linearGradient id="cb2" x1="0" x2="0" y1="0" y2="1"><stop offset="0.0000" stop-color="#f9fb15"/><stop offset="0.0625" stop-color="#f5e327"/><stop offset="0.1250" stop-color="#feca33"/><stop offset="0.1875" stop-color="#f1ba37"/><stop offset="0.2500" stop-color="#c8c129"/><stop offset="0.3125" stop-color="#94ca4a"/><stop offset="0.3750" stop-color="#5ccc76"/><stop offset="0.4375" stop-color="#34c79c"/><stop offset="0.5000" stop-color="#12beb9"/><stop offset="0.5625" stop-color="#0cb3d3"/><stop offset="0.6250" stop-color="#21a3e3"/><stop offset="0.6875" stop-color="#2c90f0"/><stop offset="0.7500" stop-color="#347afd"/><stop offset="0.8125" stop-color="#4562fc"/><stop offset="0.8750" stop-color="#484cef"/><stop offset="0.9375" stop-color="#4536d5"/><stop offset="1.0000" stop-color="#3e26a8"/></linearGradient></defs><text x="240.2" y="39.9" font-size="50" letter-spacing="0.8" text-anchor="middle" fill="#000">(a)</text><rect x="278.5" y="0" width="384.0" height="54.4" fill="#000"/><text x="472" y="37.0" font-size="30" font-weight="bold" fill="#fff" text-anchor="middle">1.9995 (V<tspan font-size="17" font-weight="normal" dy="6">DC</tspan><tspan dy="-6">=16V)</tspan></text><text x="728.9" y="39.8" font-size="50" letter-spacing="0.8" text-anchor="middle" fill="#000">(b)</text><rect x="769" y="0" width="384.5" height="54.3" fill="#000"/><text x="961.5" y="37.0" font-size="30" font-weight="bold" fill="#fff" text-anchor="middle">2.0000 (V<tspan font-size="17" font-weight="normal" dy="6">DC</tspan><tspan dy="-6">=16.3V)</tspan></text><text x="27.0" y="1073.6" font-size="50" letter-spacing="0.8" text-anchor="middle" fill="#000">(c)</text><rect x="63.8" y="1033.3" width="384.8" height="54.799999999999955" fill="#000"/><text x="256.3" y="1070.3" font-size="30" font-weight="bold" fill="#fff" text-anchor="middle">2.0004 (V<tspan font-size="17" font-weight="normal" dy="6">DC</tspan><tspan dy="-6">=16.5V)</tspan></text><text x="538.9" y="1073.4" font-size="50" letter-spacing="0.8" text-anchor="middle" fill="#000">(d)</text><rect x="576" y="1033.5" width="384" height="54.40000000000009" fill="#000"/><text x="768" y="1070.5" font-size="30" font-weight="bold" fill="#fff" text-anchor="middle">2.0005 (V<tspan font-size="17" font-weight="normal" dy="6">DC</tspan><tspan dy="-6">=16.6V)</tspan></text><text x="1047.4" y="1073.5" font-size="50" letter-spacing="0.8" text-anchor="middle" fill="#000">(e)</text><rect x="1084.6" y="1033.6" width="384.10000000000014" height="54.40000000000009" fill="#000"/><text x="1275.6" y="1070.6" font-size="30" font-weight="bold" fill="#fff" text-anchor="middle">2.0007 (V<tspan font-size="17" font-weight="normal" dy="6">DC</tspan><tspan dy="-6"> = 16.7V)</tspan></text><rect x="319.5" y="104.80" width="336.1" height="7.68" fill="url(#ha0)" shape-rendering="crispEdges"/><rect x="319.5" y="111.88" width="336.1" height="7.68" fill="url(#ha1)" shape-rendering="crispEdges"/><rect x="319.5" y="118.95" width="336.1" height="7.68" fill="url(#ha2)" shape-rendering="crispEdges"/><rect x="319.5" y="126.03" width="336.1" height="7.68" fill="url(#ha3)" shape-rendering="crispEdges"/><rect x="319.5" y="133.10" width="336.1" height="7.68" fill="url(#ha4)" shape-rendering="crispEdges"/><rect x="319.5" y="140.18" width="336.1" height="7.68" fill="url(#ha5)" shape-rendering="crispEdges"/><rect x="319.5" y="147.26" width="336.1" height="7.68" fill="url(#ha6)" shape-rendering="crispEdges"/><rect x="319.5" y="154.33" width="336.1" height="7.68" fill="url(#ha7)" shape-rendering="crispEdges"/><rect x="319.5" y="161.41" width="336.1" height="7.68" fill="url(#ha8)" shape-rendering="crispEdges"/><rect x="319.5" y="168.48" width="336.1" height="7.68" fill="url(#ha9)" shape-rendering="crispEdges"/><rect x="319.5" y="175.56" width="336.1" height="7.68" fill="url(#ha10)" shape-rendering="crispEdges"/><rect x="319.5" y="182.64" width="336.1" height="7.68" fill="url(#ha11)" shape-rendering="crispEdges"/><rect x="319.5" y="189.71" width="336.1" height="7.68" fill="url(#ha12)" shape-rendering="crispEdges"/><rect x="319.5" y="196.79" width="336.1" height="7.68" fill="url(#ha13)" shape-rendering="crispEdges"/><rect x="319.5" y="203.86" width="336.1" height="7.68" fill="url(#ha14)" shape-rendering="crispEdges"/><rect x="319.5" y="210.94" width="336.1" height="7.68" fill="url(#ha15)" shape-rendering="crispEdges"/><rect x="319.5" y="218.02" width="336.1" height="7.68" fill="url(#ha16)" shape-rendering="crispEdges"/><rect x="319.5" y="225.09" width="336.1" height="7.68" fill="url(#ha17)" shape-rendering="crispEdges"/><rect x="319.5" y="232.17" width="336.1" height="7.68" fill="url(#ha18)" shape-rendering="crispEdges"/><rect x="319.5" y="239.24" width="336.1" height="7.68" fill="url(#ha19)" shape-rendering="crispEdges"/><rect x="319.5" y="246.32" width="336.1" height="7.68" fill="url(#ha20)" shape-rendering="crispEdges"/><rect x="319.5" y="253.40" width="336.1" height="7.68" fill="url(#ha21)" shape-rendering="crispEdges"/><rect x="319.5" y="260.47" width="336.1" height="7.68" fill="url(#ha22)" shape-rendering="crispEdges"/><rect x="319.5" y="267.55" width="336.1" height="7.68" fill="url(#ha23)" shape-rendering="crispEdges"/><rect x="319.5" y="274.62" width="336.1" height="7.68" fill="url(#ha24)" shape-rendering="crispEdges"/><rect x="319.5" y="281.70" width="336.1" height="7.68" fill="url(#ha25)" shape-rendering="crispEdges"/><rect x="319.5" y="288.78" width="336.1" height="7.68" fill="url(#ha26)" shape-rendering="crispEdges"/><rect x="319.5" y="295.85" width="336.1" height="7.68" fill="url(#ha27)" shape-rendering="crispEdges"/><rect x="319.5" y="302.93" width="336.1" height="7.68" fill="url(#ha28)" shape-rendering="crispEdges"/><rect x="319.5" y="310.00" width="336.1" height="7.68" fill="url(#ha29)" shape-rendering="crispEdges"/><rect x="319.5" y="317.08" width="336.1" height="7.68" fill="url(#ha30)" shape-rendering="crispEdges"/><rect x="319.5" y="324.16" width="336.1" height="7.68" fill="url(#ha31)" shape-rendering="crispEdges"/><rect x="319.5" y="331.23" width="336.1" height="7.68" fill="url(#ha32)" shape-rendering="crispEdges"/><rect x="319.5" y="338.31" width="336.1" height="7.68" fill="url(#ha33)" shape-rendering="crispEdges"/><rect x="319.5" y="345.38" width="336.1" height="7.68" fill="url(#ha34)" shape-rendering="crispEdges"/><rect x="319.5" y="352.46" width="336.1" height="7.68" fill="url(#ha35)" shape-rendering="crispEdges"/><rect x="319.5" y="359.54" width="336.1" height="7.68" fill="url(#ha36)" shape-rendering="crispEdges"/><rect x="319.5" y="366.61" width="336.1" height="7.68" fill="url(#ha37)" shape-rendering="crispEdges"/><rect x="319.5" y="373.69" width="336.1" height="7.68" fill="url(#ha38)" shape-rendering="crispEdges"/><rect x="319.5" y="380.76" width="336.1" height="7.68" fill="url(#ha39)" shape-rendering="crispEdges"/><rect x="319.5" y="387.84" width="336.1" height="7.68" fill="url(#ha40)" shape-rendering="crispEdges"/><rect x="319.5" y="394.92" width="336.1" height="7.68" fill="url(#ha41)" shape-rendering="crispEdges"/><rect x="319.5" y="401.99" width="336.1" height="7.68" fill="url(#ha42)" shape-rendering="crispEdges"/><rect x="319.5" y="409.07" width="336.1" height="7.68" fill="url(#ha43)" shape-rendering="crispEdges"/><rect x="319.5" y="416.14" width="336.1" height="7.68" fill="url(#ha44)" shape-rendering="crispEdges"/><rect x="319.5" y="423.22" width="336.1" height="7.68" fill="url(#ha45)" shape-rendering="crispEdges"/><rect x="319.5" y="430.30" width="336.1" height="7.68" fill="url(#ha46)" shape-rendering="crispEdges"/><rect x="319.5" y="437.37" width="336.1" height="7.68" fill="url(#ha47)" shape-rendering="crispEdges"/><rect x="319.5" y="444.45" width="336.1" height="7.68" fill="url(#ha48)" shape-rendering="crispEdges"/><rect x="319.5" y="451.52" width="336.1" height="7.68" fill="url(#ha49)" shape-rendering="crispEdges"/><path d="M475.5,458.6 L476.0,454.1 L476.5,449.6 L477.1,445.2 L477.7,440.7 L478.3,436.2 L479.0,431.7 L479.7,427.3 L480.4,422.8 L481.2,418.3 L482.0,413.8 L482.8,409.3 L483.7,404.9 L484.5,400.4 L485.5,395.9 L486.4,391.4 L487.4,386.9 L488.4,382.5 L489.4,378.0 L490.5,373.5 L491.6,369.0 L492.7,364.6 L493.9,360.1 L495.1,355.6 L496.3,351.1 L497.6,346.6 L498.9,342.2 L500.2,337.7 L501.5,333.2 L502.9,328.7 L504.3,324.2 L505.8,319.8 L507.3,315.3 L508.8,310.8 L510.3,306.3 L511.9,301.9 L513.5,297.4 L515.1,292.9 L516.8,288.4 L518.5,283.9 L520.2,279.5 L522.0,275.0 L523.8,270.5 L525.6,266.0 L527.4,261.5 L529.3,257.1 L531.2,252.6 L533.2,248.1 L535.2,243.6 L537.2,239.2 L539.2,234.7 L541.3,230.2 L543.4,225.7 L545.5,221.2 L547.7,216.8 L549.9,212.3 L552.1,207.8 L554.4,203.3 L556.6,198.8 L559.0,194.4 L561.3,189.9 L563.7,185.4 L566.1,180.9 L568.6,176.5 L571.0,172.0 L573.5,167.5 L576.1,163.0 L578.7,158.5 L581.3,154.1 L583.9,149.6 L586.6,145.1 L589.3,140.6 L592.0,136.1 L594.7,131.7 L597.5,127.2 L600.3,122.7 L603.2,118.2 L606.1,113.8 L609.0,109.3 L611.9,104.8" fill="none" stroke="#fff" stroke-width="6.3" stroke-dasharray="6.3 6.5"/><rect x="809.0" y="104.60" width="337.0" height="7.67" fill="url(#hb0)" shape-rendering="crispEdges"/><rect x="809.0" y="111.67" width="337.0" height="7.67" fill="url(#hb1)" shape-rendering="crispEdges"/><rect x="809.0" y="118.74" width="337.0" height="7.67" fill="url(#hb2)" shape-rendering="crispEdges"/><rect x="809.0" y="125.82" width="337.0" height="7.67" fill="url(#hb3)" shape-rendering="crispEdges"/><rect x="809.0" y="132.89" width="337.0" height="7.67" fill="url(#hb4)" shape-rendering="crispEdges"/><rect x="809.0" y="139.96" width="337.0" height="7.67" fill="url(#hb5)" shape-rendering="crispEdges"/><rect x="809.0" y="147.03" width="337.0" height="7.67" fill="url(#hb6)" shape-rendering="crispEdges"/><rect x="809.0" y="154.10" width="337.0" height="7.67" fill="url(#hb7)" shape-rendering="crispEdges"/><rect x="809.0" y="161.18" width="337.0" height="7.67" fill="url(#hb8)" shape-rendering="crispEdges"/><rect x="809.0" y="168.25" width="337.0" height="7.67" fill="url(#hb9)" shape-rendering="crispEdges"/><rect x="809.0" y="175.32" width="337.0" height="7.67" fill="url(#hb10)" shape-rendering="crispEdges"/><rect x="809.0" y="182.39" width="337.0" height="7.67" fill="url(#hb11)" shape-rendering="crispEdges"/><rect x="809.0" y="189.46" width="337.0" height="7.67" fill="url(#hb12)" shape-rendering="crispEdges"/><rect x="809.0" y="196.54" width="337.0" height="7.67" fill="url(#hb13)" shape-rendering="crispEdges"/><rect x="809.0" y="203.61" width="337.0" height="7.67" fill="url(#hb14)" shape-rendering="crispEdges"/><rect x="809.0" y="210.68" width="337.0" height="7.67" fill="url(#hb15)" shape-rendering="crispEdges"/><rect x="809.0" y="217.75" width="337.0" height="7.67" fill="url(#hb16)" shape-rendering="crispEdges"/><rect x="809.0" y="224.82" width="337.0" height="7.67" fill="url(#hb17)" shape-rendering="crispEdges"/><rect x="809.0" y="231.90" width="337.0" height="7.67" fill="url(#hb18)" shape-rendering="crispEdges"/><rect x="809.0" y="238.97" width="337.0" height="7.67" fill="url(#hb19)" shape-rendering="crispEdges"/><rect x="809.0" y="246.04" width="337.0" height="7.67" fill="url(#hb20)" shape-rendering="crispEdges"/><rect x="809.0" y="253.11" width="337.0" height="7.67" fill="url(#hb21)" shape-rendering="crispEdges"/><rect x="809.0" y="260.18" width="337.0" height="7.67" fill="url(#hb22)" shape-rendering="crispEdges"/><rect x="809.0" y="267.26" width="337.0" height="7.67" fill="url(#hb23)" shape-rendering="crispEdges"/><rect x="809.0" y="274.33" width="337.0" height="7.67" fill="url(#hb24)" shape-rendering="crispEdges"/><rect x="809.0" y="281.40" width="337.0" height="7.67" fill="url(#hb25)" shape-rendering="crispEdges"/><rect x="809.0" y="288.47" width="337.0" height="7.67" fill="url(#hb26)" shape-rendering="crispEdges"/><rect x="809.0" y="295.54" width="337.0" height="7.67" fill="url(#hb27)" shape-rendering="crispEdges"/><rect x="809.0" y="302.62" width="337.0" height="7.67" fill="url(#hb28)" shape-rendering="crispEdges"/><rect x="809.0" y="309.69" width="337.0" height="7.67" fill="url(#hb29)" shape-rendering="crispEdges"/><rect x="809.0" y="316.76" width="337.0" height="7.67" fill="url(#hb30)" shape-rendering="crispEdges"/><rect x="809.0" y="323.83" width="337.0" height="7.67" fill="url(#hb31)" shape-rendering="crispEdges"/><rect x="809.0" y="330.90" width="337.0" height="7.67" fill="url(#hb32)" shape-rendering="crispEdges"/><rect x="809.0" y="337.98" width="337.0" height="7.67" fill="url(#hb33)" shape-rendering="crispEdges"/><rect x="809.0" y="345.05" width="337.0" height="7.67" fill="url(#hb34)" shape-rendering="crispEdges"/><rect x="809.0" y="352.12" width="337.0" height="7.67" fill="url(#hb35)" shape-rendering="crispEdges"/><rect x="809.0" y="359.19" width="337.0" height="7.67" fill="url(#hb36)" shape-rendering="crispEdges"/><rect x="809.0" y="366.26" width="337.0" height="7.67" fill="url(#hb37)" shape-rendering="crispEdges"/><rect x="809.0" y="373.34" width="337.0" height="7.67" fill="url(#hb38)" shape-rendering="crispEdges"/><rect x="809.0" y="380.41" width="337.0" height="7.67" fill="url(#hb39)" shape-rendering="crispEdges"/><rect x="809.0" y="387.48" width="337.0" height="7.67" fill="url(#hb40)" shape-rendering="crispEdges"/><rect x="809.0" y="394.55" width="337.0" height="7.67" fill="url(#hb41)" shape-rendering="crispEdges"/><rect x="809.0" y="401.62" width="337.0" height="7.67" fill="url(#hb42)" shape-rendering="crispEdges"/><rect x="809.0" y="408.70" width="337.0" height="7.67" fill="url(#hb43)" shape-rendering="crispEdges"/><rect x="809.0" y="415.77" width="337.0" height="7.67" fill="url(#hb44)" shape-rendering="crispEdges"/><rect x="809.0" y="422.84" width="337.0" height="7.67" fill="url(#hb45)" shape-rendering="crispEdges"/><rect x="809.0" y="429.91" width="337.0" height="7.67" fill="url(#hb46)" shape-rendering="crispEdges"/><rect x="809.0" y="436.98" width="337.0" height="7.67" fill="url(#hb47)" shape-rendering="crispEdges"/><rect x="809.0" y="444.06" width="337.0" height="7.67" fill="url(#hb48)" shape-rendering="crispEdges"/><rect x="809.0" y="451.13" width="337.0" height="7.67" fill="url(#hb49)" shape-rendering="crispEdges"/><path d="M1004.2,458.2 L1004.7,453.7 L1005.3,449.2 L1005.8,444.8 L1006.5,440.3 L1007.1,435.8 L1007.8,431.3 L1008.5,426.9 L1009.2,422.4 L1010.0,417.9 L1010.8,413.4 L1011.6,409.0 L1012.5,404.5 L1013.4,400.0 L1014.3,395.5 L1015.3,391.1 L1016.3,386.6 L1017.3,382.1 L1018.3,377.6 L1019.4,373.2 L1020.5,368.7 L1021.7,364.2 L1022.9,359.7 L1024.1,355.3 L1025.3,350.8 L1026.6,346.3 L1027.9,341.8 L1029.2,337.3 L1030.6,332.9 L1032.0,328.4 L1033.4,323.9 L1034.9,319.4 L1036.4,315.0 L1037.9,310.5 L1039.5,306.0 L1041.1,301.5 L1042.7,297.1 L1044.4,292.6 L1046.1,288.1 L1047.8,283.6 L1049.5,279.2 L1051.3,274.7 L1053.1,270.2 L1055.0,265.7 L1056.8,261.3 L1058.8,256.8 L1060.7,252.3 L1062.7,247.8 L1064.7,243.4 L1066.7,238.9 L1068.8,234.4 L1070.9,229.9 L1073.0,225.5 L1075.2,221.0 L1077.4,216.5 L1079.6,212.0 L1081.8,207.5 L1084.1,203.1 L1086.5,198.6 L1088.8,194.1 L1091.2,189.6 L1093.6,185.2 L1096.1,180.7 L1098.5,176.2 L1101.0,171.7 L1103.6,167.3 L1106.2,162.8 L1108.8,158.3 L1111.4,153.8 L1114.1,149.4 L1116.8,144.9 L1119.5,140.4 L1122.3,135.9 L1125.1,131.5 L1127.9,127.0 L1130.7,122.5 L1133.6,118.0 L1136.6,113.6 L1139.5,109.1 L1142.5,104.6" fill="none" stroke="#fff" stroke-width="6.3" stroke-dasharray="6.3 6.5"/><rect x="112.1" y="1142.00" width="336.0" height="6.86" fill="url(#hc0)" shape-rendering="crispEdges"/><rect x="112.1" y="1148.26" width="336.0" height="6.86" fill="url(#hc1)" shape-rendering="crispEdges"/><rect x="112.1" y="1154.53" width="336.0" height="6.86" fill="url(#hc2)" shape-rendering="crispEdges"/><rect x="112.1" y="1160.79" width="336.0" height="6.86" fill="url(#hc3)" shape-rendering="crispEdges"/><rect x="112.1" y="1167.06" width="336.0" height="6.86" fill="url(#hc4)" shape-rendering="crispEdges"/><rect x="112.1" y="1173.32" width="336.0" height="6.86" fill="url(#hc5)" shape-rendering="crispEdges"/><rect x="112.1" y="1179.59" width="336.0" height="6.86" fill="url(#hc6)" shape-rendering="crispEdges"/><rect x="112.1" y="1185.85" width="336.0" height="6.86" fill="url(#hc7)" shape-rendering="crispEdges"/><rect x="112.1" y="1192.11" width="336.0" height="6.86" fill="url(#hc8)" shape-rendering="crispEdges"/><rect x="112.1" y="1198.38" width="336.0" height="6.86" fill="url(#hc9)" shape-rendering="crispEdges"/><rect x="112.1" y="1204.64" width="336.0" height="6.86" fill="url(#hc10)" shape-rendering="crispEdges"/><rect x="112.1" y="1210.91" width="336.0" height="6.86" fill="url(#hc11)" shape-rendering="crispEdges"/><rect x="112.1" y="1217.17" width="336.0" height="6.86" fill="url(#hc12)" shape-rendering="crispEdges"/><rect x="112.1" y="1223.44" width="336.0" height="6.86" fill="url(#hc13)" shape-rendering="crispEdges"/><rect x="112.1" y="1229.70" width="336.0" height="6.86" fill="url(#hc14)" shape-rendering="crispEdges"/><rect x="112.1" y="1235.96" width="336.0" height="6.86" fill="url(#hc15)" shape-rendering="crispEdges"/><rect x="112.1" y="1242.23" width="336.0" height="6.86" fill="url(#hc16)" shape-rendering="crispEdges"/><rect x="112.1" y="1248.49" width="336.0" height="6.86" fill="url(#hc17)" shape-rendering="crispEdges"/><rect x="112.1" y="1254.76" width="336.0" height="6.86" fill="url(#hc18)" shape-rendering="crispEdges"/><rect x="112.1" y="1261.02" width="336.0" height="6.86" fill="url(#hc19)" shape-rendering="crispEdges"/><rect x="112.1" y="1267.29" width="336.0" height="6.86" fill="url(#hc20)" shape-rendering="crispEdges"/><rect x="112.1" y="1273.55" width="336.0" height="6.86" fill="url(#hc21)" shape-rendering="crispEdges"/><rect x="112.1" y="1279.81" width="336.0" height="6.86" fill="url(#hc22)" shape-rendering="crispEdges"/><rect x="112.1" y="1286.08" width="336.0" height="6.86" fill="url(#hc23)" shape-rendering="crispEdges"/><rect x="112.1" y="1292.34" width="336.0" height="6.86" fill="url(#hc24)" shape-rendering="crispEdges"/><rect x="112.1" y="1298.61" width="336.0" height="6.86" fill="url(#hc25)" shape-rendering="crispEdges"/><rect x="112.1" y="1304.87" width="336.0" height="6.86" fill="url(#hc26)" shape-rendering="crispEdges"/><rect x="112.1" y="1311.14" width="336.0" height="6.86" fill="url(#hc27)" shape-rendering="crispEdges"/><rect x="112.1" y="1317.40" width="336.0" height="6.86" fill="url(#hc28)" shape-rendering="crispEdges"/><rect x="112.1" y="1323.66" width="336.0" height="6.86" fill="url(#hc29)" shape-rendering="crispEdges"/><rect x="112.1" y="1329.93" width="336.0" height="6.86" fill="url(#hc30)" shape-rendering="crispEdges"/><rect x="112.1" y="1336.19" width="336.0" height="6.86" fill="url(#hc31)" shape-rendering="crispEdges"/><rect x="112.1" y="1342.46" width="336.0" height="6.86" fill="url(#hc32)" shape-rendering="crispEdges"/><rect x="112.1" y="1348.72" width="336.0" height="6.86" fill="url(#hc33)" shape-rendering="crispEdges"/><rect x="112.1" y="1354.99" width="336.0" height="6.86" fill="url(#hc34)" shape-rendering="crispEdges"/><rect x="112.1" y="1361.25" width="336.0" height="6.86" fill="url(#hc35)" shape-rendering="crispEdges"/><rect x="112.1" y="1367.51" width="336.0" height="6.86" fill="url(#hc36)" shape-rendering="crispEdges"/><rect x="112.1" y="1373.78" width="336.0" height="6.86" fill="url(#hc37)" shape-rendering="crispEdges"/><rect x="112.1" y="1380.04" width="336.0" height="6.86" fill="url(#hc38)" shape-rendering="crispEdges"/><rect x="112.1" y="1386.31" width="336.0" height="6.86" fill="url(#hc39)" shape-rendering="crispEdges"/><rect x="112.1" y="1392.57" width="336.0" height="6.86" fill="url(#hc40)" shape-rendering="crispEdges"/><rect x="112.1" y="1398.84" width="336.0" height="6.86" fill="url(#hc41)" shape-rendering="crispEdges"/><rect x="112.1" y="1405.10" width="336.0" height="6.86" fill="url(#hc42)" shape-rendering="crispEdges"/><rect x="112.1" y="1411.36" width="336.0" height="6.86" fill="url(#hc43)" shape-rendering="crispEdges"/><rect x="112.1" y="1417.63" width="336.0" height="6.86" fill="url(#hc44)" shape-rendering="crispEdges"/><rect x="112.1" y="1423.89" width="336.0" height="6.86" fill="url(#hc45)" shape-rendering="crispEdges"/><rect x="112.1" y="1430.16" width="336.0" height="6.86" fill="url(#hc46)" shape-rendering="crispEdges"/><rect x="112.1" y="1436.42" width="336.0" height="6.86" fill="url(#hc47)" shape-rendering="crispEdges"/><rect x="112.1" y="1442.69" width="336.0" height="6.86" fill="url(#hc48)" shape-rendering="crispEdges"/><rect x="112.1" y="1448.95" width="336.0" height="6.86" fill="url(#hc49)" shape-rendering="crispEdges"/><rect x="112.1" y="1455.21" width="336.0" height="6.86" fill="url(#hc50)" shape-rendering="crispEdges"/><rect x="112.1" y="1461.48" width="336.0" height="6.86" fill="url(#hc51)" shape-rendering="crispEdges"/><rect x="112.1" y="1467.74" width="336.0" height="6.86" fill="url(#hc52)" shape-rendering="crispEdges"/><rect x="112.1" y="1474.01" width="336.0" height="6.86" fill="url(#hc53)" shape-rendering="crispEdges"/><rect x="112.1" y="1480.27" width="336.0" height="6.86" fill="url(#hc54)" shape-rendering="crispEdges"/><rect x="112.1" y="1486.54" width="336.0" height="6.86" fill="url(#hc55)" shape-rendering="crispEdges"/><path d="M238.7,1492.8 L239.2,1488.4 L239.8,1483.9 L240.5,1479.5 L241.2,1475.0 L241.9,1470.6 L242.7,1466.2 L243.5,1461.7 L244.4,1457.3 L245.3,1452.8 L246.2,1448.4 L247.2,1444.0 L248.2,1439.5 L249.3,1435.1 L250.4,1430.6 L251.5,1426.2 L252.7,1421.8 L253.9,1417.3 L255.2,1412.9 L256.5,1408.4 L257.9,1404.0 L259.3,1399.5 L260.7,1395.1 L262.2,1390.7 L263.7,1386.2 L265.3,1381.8 L266.9,1377.3 L268.5,1372.9 L270.2,1368.5 L271.9,1364.0 L273.7,1359.6 L275.5,1355.1 L277.4,1350.7 L279.3,1346.3 L281.2,1341.8 L283.2,1337.4 L285.2,1332.9 L287.3,1328.5 L289.4,1324.1 L291.5,1319.6 L293.7,1315.2 L295.9,1310.7 L298.2,1306.3 L300.5,1301.9 L302.8,1297.4 L305.2,1293.0 L307.7,1288.5 L310.1,1284.1 L312.7,1279.7 L315.2,1275.2 L317.8,1270.8 L320.5,1266.3 L323.1,1261.9 L325.9,1257.5 L328.6,1253.0 L331.4,1248.6 L334.3,1244.1 L337.2,1239.7 L340.1,1235.3 L343.1,1230.8 L346.1,1226.4 L349.2,1221.9 L352.2,1217.5 L355.4,1213.0 L358.6,1208.6 L361.8,1204.2 L365.0,1199.7 L368.4,1195.3 L371.7,1190.8 L375.1,1186.4 L378.5,1182.0 L382.0,1177.5 L385.5,1173.1 L389.1,1168.6 L392.6,1164.2 L396.3,1159.8 L400.0,1155.3 L403.7,1150.9 L407.4,1146.4 L411.2,1142.0" fill="none" stroke="#fff" stroke-width="6.3" stroke-dasharray="6.3 6.5"/><rect x="612.1" y="1140.70" width="336.0" height="6.88" fill="url(#hd0)" shape-rendering="crispEdges"/><rect x="612.1" y="1146.98" width="336.0" height="6.88" fill="url(#hd1)" shape-rendering="crispEdges"/><rect x="612.1" y="1153.26" width="336.0" height="6.88" fill="url(#hd2)" shape-rendering="crispEdges"/><rect x="612.1" y="1159.55" width="336.0" height="6.88" fill="url(#hd3)" shape-rendering="crispEdges"/><rect x="612.1" y="1165.83" width="336.0" height="6.88" fill="url(#hd4)" shape-rendering="crispEdges"/><rect x="612.1" y="1172.11" width="336.0" height="6.88" fill="url(#hd5)" shape-rendering="crispEdges"/><rect x="612.1" y="1178.39" width="336.0" height="6.88" fill="url(#hd6)" shape-rendering="crispEdges"/><rect x="612.1" y="1184.67" width="336.0" height="6.88" fill="url(#hd7)" shape-rendering="crispEdges"/><rect x="612.1" y="1190.96" width="336.0" height="6.88" fill="url(#hd8)" shape-rendering="crispEdges"/><rect x="612.1" y="1197.24" width="336.0" height="6.88" fill="url(#hd9)" shape-rendering="crispEdges"/><rect x="612.1" y="1203.52" width="336.0" height="6.88" fill="url(#hd10)" shape-rendering="crispEdges"/><rect x="612.1" y="1209.80" width="336.0" height="6.88" fill="url(#hd11)" shape-rendering="crispEdges"/><rect x="612.1" y="1216.09" width="336.0" height="6.88" fill="url(#hd12)" shape-rendering="crispEdges"/><rect x="612.1" y="1222.37" width="336.0" height="6.88" fill="url(#hd13)" shape-rendering="crispEdges"/><rect x="612.1" y="1228.65" width="336.0" height="6.88" fill="url(#hd14)" shape-rendering="crispEdges"/><rect x="612.1" y="1234.93" width="336.0" height="6.88" fill="url(#hd15)" shape-rendering="crispEdges"/><rect x="612.1" y="1241.21" width="336.0" height="6.88" fill="url(#hd16)" shape-rendering="crispEdges"/><rect x="612.1" y="1247.50" width="336.0" height="6.88" fill="url(#hd17)" shape-rendering="crispEdges"/><rect x="612.1" y="1253.78" width="336.0" height="6.88" fill="url(#hd18)" shape-rendering="crispEdges"/><rect x="612.1" y="1260.06" width="336.0" height="6.88" fill="url(#hd19)" shape-rendering="crispEdges"/><rect x="612.1" y="1266.34" width="336.0" height="6.88" fill="url(#hd20)" shape-rendering="crispEdges"/><rect x="612.1" y="1272.62" width="336.0" height="6.88" fill="url(#hd21)" shape-rendering="crispEdges"/><rect x="612.1" y="1278.91" width="336.0" height="6.88" fill="url(#hd22)" shape-rendering="crispEdges"/><rect x="612.1" y="1285.19" width="336.0" height="6.88" fill="url(#hd23)" shape-rendering="crispEdges"/><rect x="612.1" y="1291.47" width="336.0" height="6.88" fill="url(#hd24)" shape-rendering="crispEdges"/><rect x="612.1" y="1297.75" width="336.0" height="6.88" fill="url(#hd25)" shape-rendering="crispEdges"/><rect x="612.1" y="1304.04" width="336.0" height="6.88" fill="url(#hd26)" shape-rendering="crispEdges"/><rect x="612.1" y="1310.32" width="336.0" height="6.88" fill="url(#hd27)" shape-rendering="crispEdges"/><rect x="612.1" y="1316.60" width="336.0" height="6.88" fill="url(#hd28)" shape-rendering="crispEdges"/><rect x="612.1" y="1322.88" width="336.0" height="6.88" fill="url(#hd29)" shape-rendering="crispEdges"/><rect x="612.1" y="1329.16" width="336.0" height="6.88" fill="url(#hd30)" shape-rendering="crispEdges"/><rect x="612.1" y="1335.45" width="336.0" height="6.88" fill="url(#hd31)" shape-rendering="crispEdges"/><rect x="612.1" y="1341.73" width="336.0" height="6.88" fill="url(#hd32)" shape-rendering="crispEdges"/><rect x="612.1" y="1348.01" width="336.0" height="6.88" fill="url(#hd33)" shape-rendering="crispEdges"/><rect x="612.1" y="1354.29" width="336.0" height="6.88" fill="url(#hd34)" shape-rendering="crispEdges"/><rect x="612.1" y="1360.58" width="336.0" height="6.88" fill="url(#hd35)" shape-rendering="crispEdges"/><rect x="612.1" y="1366.86" width="336.0" height="6.88" fill="url(#hd36)" shape-rendering="crispEdges"/><rect x="612.1" y="1373.14" width="336.0" height="6.88" fill="url(#hd37)" shape-rendering="crispEdges"/><rect x="612.1" y="1379.42" width="336.0" height="6.88" fill="url(#hd38)" shape-rendering="crispEdges"/><rect x="612.1" y="1385.70" width="336.0" height="6.88" fill="url(#hd39)" shape-rendering="crispEdges"/><rect x="612.1" y="1391.99" width="336.0" height="6.88" fill="url(#hd40)" shape-rendering="crispEdges"/><rect x="612.1" y="1398.27" width="336.0" height="6.88" fill="url(#hd41)" shape-rendering="crispEdges"/><rect x="612.1" y="1404.55" width="336.0" height="6.88" fill="url(#hd42)" shape-rendering="crispEdges"/><rect x="612.1" y="1410.83" width="336.0" height="6.88" fill="url(#hd43)" shape-rendering="crispEdges"/><rect x="612.1" y="1417.11" width="336.0" height="6.88" fill="url(#hd44)" shape-rendering="crispEdges"/><rect x="612.1" y="1423.40" width="336.0" height="6.88" fill="url(#hd45)" shape-rendering="crispEdges"/><rect x="612.1" y="1429.68" width="336.0" height="6.88" fill="url(#hd46)" shape-rendering="crispEdges"/><rect x="612.1" y="1435.96" width="336.0" height="6.88" fill="url(#hd47)" shape-rendering="crispEdges"/><rect x="612.1" y="1442.24" width="336.0" height="6.88" fill="url(#hd48)" shape-rendering="crispEdges"/><rect x="612.1" y="1448.53" width="336.0" height="6.88" fill="url(#hd49)" shape-rendering="crispEdges"/><rect x="612.1" y="1454.81" width="336.0" height="6.88" fill="url(#hd50)" shape-rendering="crispEdges"/><rect x="612.1" y="1461.09" width="336.0" height="6.88" fill="url(#hd51)" shape-rendering="crispEdges"/><rect x="612.1" y="1467.37" width="336.0" height="6.88" fill="url(#hd52)" shape-rendering="crispEdges"/><rect x="612.1" y="1473.65" width="336.0" height="6.88" fill="url(#hd53)" shape-rendering="crispEdges"/><rect x="612.1" y="1479.94" width="336.0" height="6.88" fill="url(#hd54)" shape-rendering="crispEdges"/><rect x="612.1" y="1486.22" width="336.0" height="6.88" fill="url(#hd55)" shape-rendering="crispEdges"/><path d="M727.2,1492.5 L727.8,1488.0 L728.4,1483.6 L729.0,1479.1 L729.7,1474.7 L730.4,1470.2 L731.2,1465.8 L732.0,1461.3 L732.9,1456.9 L733.8,1452.4 L734.7,1448.0 L735.7,1443.5 L736.7,1439.1 L737.7,1434.6 L738.8,1430.2 L740.0,1425.7 L741.2,1421.2 L742.4,1416.8 L743.6,1412.3 L744.9,1407.9 L746.3,1403.4 L747.7,1399.0 L749.1,1394.5 L750.6,1390.1 L752.1,1385.6 L753.6,1381.2 L755.2,1376.7 L756.9,1372.3 L758.5,1367.8 L760.2,1363.4 L762.0,1358.9 L763.8,1354.5 L765.6,1350.0 L767.5,1345.5 L769.4,1341.1 L771.4,1336.6 L773.4,1332.2 L775.5,1327.7 L777.5,1323.3 L779.7,1318.8 L781.8,1314.4 L784.0,1309.9 L786.3,1305.5 L788.6,1301.0 L790.9,1296.6 L793.3,1292.1 L795.7,1287.7 L798.2,1283.2 L800.7,1278.7 L803.2,1274.3 L805.8,1269.8 L808.4,1265.4 L811.1,1260.9 L813.8,1256.5 L816.5,1252.0 L819.3,1247.6 L822.1,1243.1 L825.0,1238.7 L827.9,1234.2 L830.8,1229.8 L833.8,1225.3 L836.9,1220.9 L839.9,1216.4 L843.1,1212.0 L846.2,1207.5 L849.4,1203.0 L852.7,1198.6 L855.9,1194.1 L859.3,1189.7 L862.6,1185.2 L866.0,1180.8 L869.5,1176.3 L872.9,1171.9 L876.5,1167.4 L880.0,1163.0 L883.7,1158.5 L887.3,1154.1 L891.0,1149.6 L894.7,1145.2 L898.5,1140.7" fill="none" stroke="#fff" stroke-width="6.3" stroke-dasharray="6.3 6.5"/><rect x="1111.8" y="1140.60" width="336.4" height="6.89" fill="url(#he0)" shape-rendering="crispEdges"/><rect x="1111.8" y="1146.89" width="336.4" height="6.89" fill="url(#he1)" shape-rendering="crispEdges"/><rect x="1111.8" y="1153.17" width="336.4" height="6.89" fill="url(#he2)" shape-rendering="crispEdges"/><rect x="1111.8" y="1159.46" width="336.4" height="6.89" fill="url(#he3)" shape-rendering="crispEdges"/><rect x="1111.8" y="1165.74" width="336.4" height="6.89" fill="url(#he4)" shape-rendering="crispEdges"/><rect x="1111.8" y="1172.03" width="336.4" height="6.89" fill="url(#he5)" shape-rendering="crispEdges"/><rect x="1111.8" y="1178.31" width="336.4" height="6.89" fill="url(#he6)" shape-rendering="crispEdges"/><rect x="1111.8" y="1184.60" width="336.4" height="6.89" fill="url(#he7)" shape-rendering="crispEdges"/><rect x="1111.8" y="1190.89" width="336.4" height="6.89" fill="url(#he8)" shape-rendering="crispEdges"/><rect x="1111.8" y="1197.17" width="336.4" height="6.89" fill="url(#he9)" shape-rendering="crispEdges"/><rect x="1111.8" y="1203.46" width="336.4" height="6.89" fill="url(#he10)" shape-rendering="crispEdges"/><rect x="1111.8" y="1209.74" width="336.4" height="6.89" fill="url(#he11)" shape-rendering="crispEdges"/><rect x="1111.8" y="1216.03" width="336.4" height="6.89" fill="url(#he12)" shape-rendering="crispEdges"/><rect x="1111.8" y="1222.31" width="336.4" height="6.89" fill="url(#he13)" shape-rendering="crispEdges"/><rect x="1111.8" y="1228.60" width="336.4" height="6.89" fill="url(#he14)" shape-rendering="crispEdges"/><rect x="1111.8" y="1234.89" width="336.4" height="6.89" fill="url(#he15)" shape-rendering="crispEdges"/><rect x="1111.8" y="1241.17" width="336.4" height="6.89" fill="url(#he16)" shape-rendering="crispEdges"/><rect x="1111.8" y="1247.46" width="336.4" height="6.89" fill="url(#he17)" shape-rendering="crispEdges"/><rect x="1111.8" y="1253.74" width="336.4" height="6.89" fill="url(#he18)" shape-rendering="crispEdges"/><rect x="1111.8" y="1260.03" width="336.4" height="6.89" fill="url(#he19)" shape-rendering="crispEdges"/><rect x="1111.8" y="1266.31" width="336.4" height="6.89" fill="url(#he20)" shape-rendering="crispEdges"/><rect x="1111.8" y="1272.60" width="336.4" height="6.89" fill="url(#he21)" shape-rendering="crispEdges"/><rect x="1111.8" y="1278.89" width="336.4" height="6.89" fill="url(#he22)" shape-rendering="crispEdges"/><rect x="1111.8" y="1285.17" width="336.4" height="6.89" fill="url(#he23)" shape-rendering="crispEdges"/><rect x="1111.8" y="1291.46" width="336.4" height="6.89" fill="url(#he24)" shape-rendering="crispEdges"/><rect x="1111.8" y="1297.74" width="336.4" height="6.89" fill="url(#he25)" shape-rendering="crispEdges"/><rect x="1111.8" y="1304.03" width="336.4" height="6.89" fill="url(#he26)" shape-rendering="crispEdges"/><rect x="1111.8" y="1310.31" width="336.4" height="6.89" fill="url(#he27)" shape-rendering="crispEdges"/><rect x="1111.8" y="1316.60" width="336.4" height="6.89" fill="url(#he28)" shape-rendering="crispEdges"/><rect x="1111.8" y="1322.89" width="336.4" height="6.89" fill="url(#he29)" shape-rendering="crispEdges"/><rect x="1111.8" y="1329.17" width="336.4" height="6.89" fill="url(#he30)" shape-rendering="crispEdges"/><rect x="1111.8" y="1335.46" width="336.4" height="6.89" fill="url(#he31)" shape-rendering="crispEdges"/><rect x="1111.8" y="1341.74" width="336.4" height="6.89" fill="url(#he32)" shape-rendering="crispEdges"/><rect x="1111.8" y="1348.03" width="336.4" height="6.89" fill="url(#he33)" shape-rendering="crispEdges"/><rect x="1111.8" y="1354.31" width="336.4" height="6.89" fill="url(#he34)" shape-rendering="crispEdges"/><rect x="1111.8" y="1360.60" width="336.4" height="6.89" fill="url(#he35)" shape-rendering="crispEdges"/><rect x="1111.8" y="1366.89" width="336.4" height="6.89" fill="url(#he36)" shape-rendering="crispEdges"/><rect x="1111.8" y="1373.17" width="336.4" height="6.89" fill="url(#he37)" shape-rendering="crispEdges"/><rect x="1111.8" y="1379.46" width="336.4" height="6.89" fill="url(#he38)" shape-rendering="crispEdges"/><rect x="1111.8" y="1385.74" width="336.4" height="6.89" fill="url(#he39)" shape-rendering="crispEdges"/><rect x="1111.8" y="1392.03" width="336.4" height="6.89" fill="url(#he40)" shape-rendering="crispEdges"/><rect x="1111.8" y="1398.31" width="336.4" height="6.89" fill="url(#he41)" shape-rendering="crispEdges"/><rect x="1111.8" y="1404.60" width="336.4" height="6.89" fill="url(#he42)" shape-rendering="crispEdges"/><rect x="1111.8" y="1410.89" width="336.4" height="6.89" fill="url(#he43)" shape-rendering="crispEdges"/><rect x="1111.8" y="1417.17" width="336.4" height="6.89" fill="url(#he44)" shape-rendering="crispEdges"/><rect x="1111.8" y="1423.46" width="336.4" height="6.89" fill="url(#he45)" shape-rendering="crispEdges"/><rect x="1111.8" y="1429.74" width="336.4" height="6.89" fill="url(#he46)" shape-rendering="crispEdges"/><rect x="1111.8" y="1436.03" width="336.4" height="6.89" fill="url(#he47)" shape-rendering="crispEdges"/><rect x="1111.8" y="1442.31" width="336.4" height="6.89" fill="url(#he48)" shape-rendering="crispEdges"/><rect x="1111.8" y="1448.60" width="336.4" height="6.89" fill="url(#he49)" shape-rendering="crispEdges"/><rect x="1111.8" y="1454.89" width="336.4" height="6.89" fill="url(#he50)" shape-rendering="crispEdges"/><rect x="1111.8" y="1461.17" width="336.4" height="6.89" fill="url(#he51)" shape-rendering="crispEdges"/><rect x="1111.8" y="1467.46" width="336.4" height="6.89" fill="url(#he52)" shape-rendering="crispEdges"/><rect x="1111.8" y="1473.74" width="336.4" height="6.89" fill="url(#he53)" shape-rendering="crispEdges"/><rect x="1111.8" y="1480.03" width="336.4" height="6.89" fill="url(#he54)" shape-rendering="crispEdges"/><rect x="1111.8" y="1486.31" width="336.4" height="6.89" fill="url(#he55)" shape-rendering="crispEdges"/><path d="M1212.2,1492.6 L1212.8,1488.1 L1213.4,1483.7 L1214.0,1479.2 L1214.7,1474.8 L1215.4,1470.3 L1216.2,1465.9 L1217.0,1461.4 L1217.8,1457.0 L1218.7,1452.5 L1219.7,1448.0 L1220.6,1443.6 L1221.6,1439.1 L1222.7,1434.7 L1223.8,1430.2 L1224.9,1425.8 L1226.1,1421.3 L1227.3,1416.9 L1228.5,1412.4 L1229.8,1407.9 L1231.2,1403.5 L1232.6,1399.0 L1234.0,1394.6 L1235.4,1390.1 L1236.9,1385.7 L1238.5,1381.2 L1240.1,1376.8 L1241.7,1372.3 L1243.3,1367.8 L1245.0,1363.4 L1246.8,1358.9 L1248.6,1354.5 L1250.4,1350.0 L1252.3,1345.6 L1254.2,1341.1 L1256.1,1336.7 L1258.1,1332.2 L1260.2,1327.7 L1262.2,1323.3 L1264.3,1318.8 L1266.5,1314.4 L1268.7,1309.9 L1270.9,1305.5 L1273.2,1301.0 L1275.5,1296.5 L1277.9,1292.1 L1280.3,1287.6 L1282.7,1283.2 L1285.2,1278.7 L1287.7,1274.3 L1290.3,1269.8 L1292.9,1265.4 L1295.5,1260.9 L1298.2,1256.4 L1301.0,1252.0 L1303.7,1247.5 L1306.5,1243.1 L1309.4,1238.6 L1312.3,1234.2 L1315.2,1229.7 L1318.2,1225.3 L1321.2,1220.8 L1324.2,1216.3 L1327.3,1211.9 L1330.5,1207.4 L1333.6,1203.0 L1336.9,1198.5 L1340.1,1194.1 L1343.4,1189.6 L1346.8,1185.2 L1350.1,1180.7 L1353.6,1176.2 L1357.0,1171.8 L1360.5,1167.3 L1364.1,1162.9 L1367.7,1158.4 L1371.3,1154.0 L1375.0,1149.5 L1378.7,1145.1 L1382.4,1140.6" fill="none" stroke="#fff" stroke-width="6.3" stroke-dasharray="6.3 6.5"/><path d="M319.5,458.6v6.5M403.5,458.6v6.5M487.6,458.6v6.5M571.6,458.6v6.5M655.6,458.6v6.5M319.5,458.6h-6.5M319.5,387.8h-6.5M319.5,317.1h-6.5M319.5,246.3h-6.5M319.5,175.6h-6.5M319.5,104.8h-6.5" stroke="#a0a0a0" stroke-width="1.2" fill="none"/><text x="319.5" y="484.4" font-size="21.6" text-anchor="middle" dominant-baseline="central">929</text><text x="403.5" y="484.4" font-size="21.6" text-anchor="middle" dominant-baseline="central">930</text><text x="487.6" y="484.4" font-size="21.6" text-anchor="middle" dominant-baseline="central">931</text><text x="571.6" y="484.4" font-size="21.6" text-anchor="middle" dominant-baseline="central">932</text><text x="655.6" y="484.4" font-size="21.6" text-anchor="middle" dominant-baseline="central">933</text><text x="306.0" y="458.6" font-size="21.6" text-anchor="end" dominant-baseline="central">100</text><text x="306.0" y="387.8" font-size="21.6" text-anchor="end" dominant-baseline="central">200</text><text x="306.0" y="317.1" font-size="21.6" text-anchor="end" dominant-baseline="central">300</text><text x="306.0" y="246.3" font-size="21.6" text-anchor="end" dominant-baseline="central">400</text><text x="306.0" y="175.6" font-size="21.6" text-anchor="end" dominant-baseline="central">500</text><text x="306.0" y="104.8" font-size="21.6" text-anchor="end" dominant-baseline="central">600</text><text x="487.6" y="513.8" font-size="24.2" text-anchor="middle" dominant-baseline="central">Ω [kHz]</text><text x="254.5" y="281.7" font-size="24.4" text-anchor="middle" transform="rotate(-90 254.5 281.7)" dominant-baseline="central">Driving Voltage [mV]</text><text x="487.6" y="87.3" font-size="22.4" text-anchor="middle" font-weight="bold" fill="#000" dominant-baseline="central">First Harmonic</text><path d="M809.0,458.2v6.5M893.2,458.2v6.5M977.5,458.2v6.5M1061.8,458.2v6.5M1146.0,458.2v6.5M809.0,458.2h-6.5M809.0,387.5h-6.5M809.0,316.8h-6.5M809.0,246.0h-6.5M809.0,175.3h-6.5M809.0,104.6h-6.5" stroke="#a0a0a0" stroke-width="1.2" fill="none"/><text x="809.0" y="484.0" font-size="21.6" text-anchor="middle" dominant-baseline="central">928</text><text x="893.2" y="484.0" font-size="21.6" text-anchor="middle" dominant-baseline="central">929</text><text x="977.5" y="484.0" font-size="21.6" text-anchor="middle" dominant-baseline="central">930</text><text x="1061.8" y="484.0" font-size="21.6" text-anchor="middle" dominant-baseline="central">931</text><text x="1146.0" y="484.0" font-size="21.6" text-anchor="middle" dominant-baseline="central">932</text><text x="795.5" y="458.2" font-size="21.6" text-anchor="end" dominant-baseline="central">100</text><text x="795.5" y="387.5" font-size="21.6" text-anchor="end" dominant-baseline="central">200</text><text x="795.5" y="316.8" font-size="21.6" text-anchor="end" dominant-baseline="central">300</text><text x="795.5" y="246.0" font-size="21.6" text-anchor="end" dominant-baseline="central">400</text><text x="795.5" y="175.3" font-size="21.6" text-anchor="end" dominant-baseline="central">500</text><text x="795.5" y="104.6" font-size="21.6" text-anchor="end" dominant-baseline="central">600</text><text x="977.5" y="513.4" font-size="24.2" text-anchor="middle" dominant-baseline="central">Ω [kHz]</text><text x="744.0" y="281.4" font-size="24.4" text-anchor="middle" transform="rotate(-90 744.0 281.4)" dominant-baseline="central">Driving Voltage [mV]</text><text x="977.5" y="87.1" font-size="22.4" text-anchor="middle" font-weight="bold" fill="#000" dominant-baseline="central">First Harmonic</text><path d="M112.1,1492.8v6.5M179.3,1492.8v6.5M246.5,1492.8v6.5M313.7,1492.8v6.5M380.9,1492.8v6.5M448.1,1492.8v6.5M112.1,1492.8h-6.5M112.1,1434.3h-6.5M112.1,1375.9h-6.5M112.1,1317.4h-6.5M112.1,1258.9h-6.5M112.1,1200.5h-6.5M112.1,1142.0h-6.5" stroke="#a0a0a0" stroke-width="1.2" fill="none"/><text x="112.1" y="1518.6" font-size="21.6" text-anchor="middle" dominant-baseline="central">928</text><text x="246.5" y="1518.6" font-size="21.6" text-anchor="middle" dominant-baseline="central">930</text><text x="380.9" y="1518.6" font-size="21.6" text-anchor="middle" dominant-baseline="central">932</text><text x="98.6" y="1492.8" font-size="21.6" text-anchor="end" dominant-baseline="central">100</text><text x="98.6" y="1434.3" font-size="21.6" text-anchor="end" dominant-baseline="central">200</text><text x="98.6" y="1375.9" font-size="21.6" text-anchor="end" dominant-baseline="central">300</text><text x="98.6" y="1317.4" font-size="21.6" text-anchor="end" dominant-baseline="central">400</text><text x="98.6" y="1258.9" font-size="21.6" text-anchor="end" dominant-baseline="central">500</text><text x="98.6" y="1200.5" font-size="21.6" text-anchor="end" dominant-baseline="central">600</text><text x="98.6" y="1142.0" font-size="21.6" text-anchor="end" dominant-baseline="central">700</text><text x="280.1" y="1548.0" font-size="24.2" text-anchor="middle" dominant-baseline="central">Ω [kHz]</text><text x="47.1" y="1317.4" font-size="24.4" text-anchor="middle" transform="rotate(-90 47.1 1317.4)" dominant-baseline="central">Driving Voltage [mV]</text><text x="280.1" y="1123.5" font-size="25" text-anchor="middle" font-weight="bold" fill="#000" dominant-baseline="central">First Harmonic</text><path d="M612.1,1492.5v6.5M679.3,1492.5v6.5M746.5,1492.5v6.5M813.7,1492.5v6.5M880.9,1492.5v6.5M948.1,1492.5v6.5M612.1,1492.5h-6.5M612.1,1433.9h-6.5M612.1,1375.2h-6.5M612.1,1316.6h-6.5M612.1,1258.0h-6.5M612.1,1199.3h-6.5M612.1,1140.7h-6.5" stroke="#a0a0a0" stroke-width="1.2" fill="none"/><text x="612.1" y="1518.3" font-size="21.6" text-anchor="middle" dominant-baseline="central">928</text><text x="746.5" y="1518.3" font-size="21.6" text-anchor="middle" dominant-baseline="central">930</text><text x="880.9" y="1518.3" font-size="21.6" text-anchor="middle" dominant-baseline="central">932</text><text x="598.6" y="1492.5" font-size="21.6" text-anchor="end" dominant-baseline="central">100</text><text x="598.6" y="1433.9" font-size="21.6" text-anchor="end" dominant-baseline="central">200</text><text x="598.6" y="1375.2" font-size="21.6" text-anchor="end" dominant-baseline="central">300</text><text x="598.6" y="1316.6" font-size="21.6" text-anchor="end" dominant-baseline="central">400</text><text x="598.6" y="1258.0" font-size="21.6" text-anchor="end" dominant-baseline="central">500</text><text x="598.6" y="1199.3" font-size="21.6" text-anchor="end" dominant-baseline="central">600</text><text x="598.6" y="1140.7" font-size="21.6" text-anchor="end" dominant-baseline="central">700</text><text x="780.1" y="1547.7" font-size="24.2" text-anchor="middle" dominant-baseline="central">Ω [kHz]</text><text x="547.1" y="1316.6" font-size="24.4" text-anchor="middle" transform="rotate(-90 547.1 1316.6)" dominant-baseline="central">Driving Voltage [mV]</text><text x="780.1" y="1122.2" font-size="25" text-anchor="middle" font-weight="bold" fill="#000" dominant-baseline="central">First Harmonic</text><path d="M1111.8,1492.6v6.5M1179.1,1492.6v6.5M1246.4,1492.6v6.5M1313.6,1492.6v6.5M1380.9,1492.6v6.5M1448.2,1492.6v6.5M1111.8,1492.6h-6.5M1111.8,1433.9h-6.5M1111.8,1375.3h-6.5M1111.8,1316.6h-6.5M1111.8,1257.9h-6.5M1111.8,1199.3h-6.5M1111.8,1140.6h-6.5" stroke="#a0a0a0" stroke-width="1.2" fill="none"/><text x="1111.8" y="1518.4" font-size="21.6" text-anchor="middle" dominant-baseline="central">928</text><text x="1246.4" y="1518.4" font-size="21.6" text-anchor="middle" dominant-baseline="central">930</text><text x="1380.9" y="1518.4" font-size="21.6" text-anchor="middle" dominant-baseline="central">932</text><text x="1098.3" y="1492.6" font-size="21.6" text-anchor="end" dominant-baseline="central">100</text><text x="1098.3" y="1433.9" font-size="21.6" text-anchor="end" dominant-baseline="central">200</text><text x="1098.3" y="1375.3" font-size="21.6" text-anchor="end" dominant-baseline="central">300</text><text x="1098.3" y="1316.6" font-size="21.6" text-anchor="end" dominant-baseline="central">400</text><text x="1098.3" y="1257.9" font-size="21.6" text-anchor="end" dominant-baseline="central">500</text><text x="1098.3" y="1199.3" font-size="21.6" text-anchor="end" dominant-baseline="central">600</text><text x="1098.3" y="1140.6" font-size="21.6" text-anchor="end" dominant-baseline="central">700</text><text x="1280.0" y="1547.8" font-size="24.2" text-anchor="middle" dominant-baseline="central">Ω [kHz]</text><text x="1046.8" y="1316.6" font-size="24.4" text-anchor="middle" transform="rotate(-90 1046.8 1316.6)" dominant-baseline="central">Driving Voltage [mV]</text><text x="1280.0" y="1122.1" font-size="25" text-anchor="middle" font-weight="bold" fill="#000" dominant-baseline="central">First Harmonic</text><rect x="1225.3" y="109.2" width="8.700000000000045" height="363.2" fill="url(#cb1)"/><text x="1239.5" y="472.0" font-size="20" dominant-baseline="central">0</text><text x="1239.5" y="426.9" font-size="20" dominant-baseline="central">0.5</text><text x="1239.5" y="381.8" font-size="20" dominant-baseline="central">1</text><text x="1239.5" y="336.6" font-size="20" dominant-baseline="central">1.5</text><text x="1239.5" y="291.5" font-size="20" dominant-baseline="central">2</text><text x="1239.5" y="246.4" font-size="20" dominant-baseline="central">2.5</text><text x="1239.5" y="201.2" font-size="20" dominant-baseline="central">3</text><text x="1239.5" y="156.1" font-size="20" dominant-baseline="central">3.5</text><text x="1239.5" y="111.0" font-size="20" dominant-baseline="central">4</text><path d="M1234.0,472.0h-2.5M1234.0,426.9h-2.5M1234.0,381.8h-2.5M1234.0,336.6h-2.5M1234.0,291.5h-2.5M1234.0,246.4h-2.5M1234.0,201.2h-2.5M1234.0,156.1h-2.5M1234.0,111.0h-2.5" stroke="#333" stroke-width="1" fill="none"/><text x="1286.6" y="291.0" font-size="23.5" text-anchor="middle" transform="rotate(-90 1286.6 291.0)" dominant-baseline="central">Amplitude [mV]</text><rect x="1527.8" y="1143.7" width="8.0" height="358.0" fill="url(#cb2)"/><text x="1541.0" y="1499.8" font-size="20" dominant-baseline="central">0</text><text x="1541.0" y="1455.5" font-size="20" dominant-baseline="central">0.5</text><text x="1541.0" y="1411.2" font-size="20" dominant-baseline="central">1</text><text x="1541.0" y="1367.0" font-size="20" dominant-baseline="central">1.5</text><text x="1541.0" y="1322.7" font-size="20" dominant-baseline="central">2</text><text x="1541.0" y="1278.4" font-size="20" dominant-baseline="central">2.5</text><text x="1541.0" y="1234.1" font-size="20" dominant-baseline="central">3</text><text x="1541.0" y="1189.9" font-size="20" dominant-baseline="central">3.5</text><text x="1541.0" y="1145.6" font-size="20" dominant-baseline="central">4</text><path d="M1535.8,1499.8h-2.5M1535.8,1455.5h-2.5M1535.8,1411.2h-2.5M1535.8,1367.0h-2.5M1535.8,1322.7h-2.5M1535.8,1278.4h-2.5M1535.8,1234.1h-2.5M1535.8,1189.9h-2.5M1535.8,1145.6h-2.5" stroke="#333" stroke-width="1" fill="none"/><text x="1588.4" y="1325.5" font-size="23.5" text-anchor="middle" transform="rotate(-90 1588.4 1325.5)" dominant-baseline="central">Amplitude [mV]</text><path d="M322.9,842.5L516.8,773.7M516.8,773.7L666.7,864.5M322.9,793.3L516.8,724.5M516.8,724.5L666.7,815.3M322.9,744.1L516.8,675.3M516.8,675.3L666.7,766.1M322.9,694.9L516.8,626.1M516.8,626.1L666.7,716.9M322.9,645.7L516.8,576.9M516.8,576.9L666.7,667.7M322.9,842.5L322.9,645.7M472.8,933.3L322.9,842.5M361.7,828.7L361.7,631.9M511.6,919.5L361.7,828.7M400.5,815.0L400.5,618.2M550.4,905.8L400.5,815.0M439.2,801.2L439.2,604.4M589.1,892.0L439.2,801.2M478.0,787.5L478.0,590.7M627.9,878.3L478.0,787.5M516.8,773.7L516.8,576.9M666.7,864.5L516.8,773.7M666.7,864.5L666.7,667.7M472.8,933.3L666.7,864.5M651.7,855.4L651.7,658.6M457.8,924.2L651.7,855.4M636.7,846.3L636.7,649.5M442.8,915.1L636.7,846.3M621.7,837.3L621.7,640.5M427.8,906.1L621.7,837.3M606.7,828.2L606.7,631.4M412.8,897.0L606.7,828.2M591.8,819.1L591.8,622.3M397.9,887.9L591.8,819.1M576.8,810.0L576.8,613.2M382.9,878.8L576.8,810.0M561.8,800.9L561.8,604.1M367.9,869.7L561.8,800.9M546.8,791.9L546.8,595.1M352.9,860.7L546.8,791.9M531.8,782.8L531.8,586.0M337.9,851.6L531.8,782.8M516.8,773.7L516.8,576.9M322.9,842.5L516.8,773.7" stroke="#eeeeee" stroke-width="1" fill="none"/><path d="M322.9,839.4 L326.1,838.2 L329.9,836.7 L333.8,835.2 L337.7,833.7 L341.6,832.2 L345.5,830.6 L349.3,829.1 L353.2,827.5 L357.1,825.9 L361.0,824.3 L364.8,822.6 L368.7,821.0 L372.6,819.2 L376.5,817.5 L380.4,815.6 L384.2,813.8 L388.1,811.8 L392.0,809.7 L395.9,807.4 L399.8,805.0 L403.6,802.2 L407.5,799.1 L411.4,795.4 L415.3,790.8 L419.1,784.9 L423.0,777.0 L426.9,766.9 L430.8,755.1 L434.7,742.8 L438.5,730.9 L442.4,719.6 L446.3,709.0 L450.2,699.0 L454.0,689.6 L457.9,680.6 L461.8,672.1 L465.7,663.9 L469.6,656.0 L473.4,648.4 L477.3,641.0 L481.2,633.9 L485.1,627.0 L488.9,620.3 L492.8,613.8 L496.7,607.8 L500.6,774.6 L504.5,773.4 L508.3,772.3 L512.2,771.1 L516.1,770.0 L516.8,769.7" fill="none" stroke="#d9444f" stroke-width="1.9" stroke-linejoin="round"/><path d="M337.9,848.7 L340.9,847.6 L344.8,846.1 L348.7,844.6 L352.6,843.1 L356.4,841.6 L360.3,840.1 L364.2,838.5 L368.1,837.0 L371.9,835.4 L375.8,833.8 L379.7,832.2 L383.6,830.5 L387.5,828.8 L391.3,827.1 L395.2,825.3 L399.1,823.4 L403.0,821.5 L406.8,819.4 L410.7,817.3 L414.6,814.9 L418.5,812.3 L422.4,809.3 L426.2,805.8 L430.1,801.4 L434.0,795.8 L437.9,788.3 L441.8,778.4 L445.6,766.6 L449.5,754.2 L453.4,742.2 L457.3,730.9 L461.1,720.3 L465.0,710.4 L468.9,701.0 L472.8,692.1 L476.7,683.6 L480.5,675.5 L484.4,667.7 L488.3,660.2 L492.2,652.9 L496.0,645.9 L499.9,639.1 L503.8,632.9 L507.7,786.2 L511.6,785.1 L515.4,784.0 L519.3,782.9 L523.2,781.8 L527.1,780.6 L530.9,779.4 L531.8,779.1" fill="none" stroke="#e8845e" stroke-width="1.9" stroke-linejoin="round"/><path d="M352.9,858.1 L355.2,857.2 L359.1,855.8 L362.9,854.3 L366.8,852.8 L370.7,851.3 L374.6,849.8 L378.4,848.3 L382.3,846.7 L386.2,845.2 L390.1,843.6 L394.0,842.0 L397.8,840.4 L401.7,838.7 L405.6,837.0 L409.5,835.3 L413.4,833.5 L417.2,831.6 L421.1,829.7 L425.0,827.6 L428.9,825.4 L432.7,822.9 L436.6,820.2 L440.5,816.9 L444.4,813.0 L448.3,808.0 L452.1,801.2 L456.0,792.1 L459.9,780.7 L463.8,768.3 L467.6,756.3 L471.5,744.9 L475.4,734.3 L479.3,724.4 L483.2,715.0 L487.0,706.2 L490.9,697.7 L494.8,689.7 L498.7,682.0 L502.5,674.6 L506.4,667.6 L510.3,661.1 L514.2,798.1 L518.1,797.1 L521.9,796.0 L525.8,794.9 L529.7,793.8 L533.6,792.6 L537.4,791.5 L541.3,790.3 L545.2,789.1 L546.8,788.6" fill="none" stroke="#f2b653" stroke-width="1.9" stroke-linejoin="round"/><path d="M367.9,867.3 L370.0,866.5 L373.9,865.1 L377.8,863.6 L381.7,862.1 L385.5,860.6 L389.4,859.1 L393.3,857.6 L397.2,856.1 L401.1,854.5 L404.9,853.0 L408.8,851.4 L412.7,849.8 L416.6,848.1 L420.4,846.5 L424.3,844.8 L428.2,843.0 L432.1,841.2 L436.0,839.2 L439.8,837.2 L443.7,835.0 L447.6,832.7 L451.5,830.0 L455.4,826.9 L459.2,823.1 L463.1,818.3 L467.0,811.7 L470.9,802.5 L474.7,790.8 L478.6,777.9 L482.5,765.3 L486.4,753.4 L490.3,742.4 L494.1,732.1 L498.0,722.5 L501.9,713.4 L505.8,704.8 L509.6,696.6 L513.5,688.8 L517.4,681.8 L521.3,809.4 L525.2,808.5 L529.0,807.5 L532.9,806.5 L536.8,805.4 L540.7,804.3 L544.5,803.2 L548.4,802.0 L552.3,800.8 L556.2,799.6 L560.1,798.4 L561.8,797.9" fill="none" stroke="#f0ec50" stroke-width="1.9" stroke-linejoin="round"/><path d="M382.9,876.6 L385.2,875.7 L389.1,874.3 L392.9,872.8 L396.8,871.3 L400.7,869.9 L404.6,868.4 L408.5,866.9 L412.3,865.4 L416.2,863.8 L420.1,862.3 L424.0,860.7 L427.8,859.1 L431.7,857.5 L435.6,855.9 L439.5,854.2 L443.4,852.4 L447.2,850.6 L451.1,848.8 L455.0,846.8 L458.9,844.7 L462.8,842.3 L466.6,839.8 L470.5,836.8 L474.4,833.1 L478.3,828.5 L482.1,822.0 L486.0,812.8 L489.9,800.6 L493.8,787.1 L497.7,774.0 L501.5,761.8 L505.4,750.5 L509.3,740.0 L513.2,730.2 L517.0,721.0 L520.9,712.4 L524.8,704.7 L528.7,820.5 L532.6,819.8 L536.4,818.9 L540.3,818.0 L544.2,817.0 L548.1,815.9 L551.9,814.8 L555.8,813.7 L559.7,812.5 L563.6,811.3 L567.5,810.1 L571.3,808.9 L575.2,807.7 L576.8,807.2" fill="none" stroke="#c8ec86" stroke-width="1.9" stroke-linejoin="round"/><path d="M397.9,886.1 L399.5,885.4 L403.4,884.0 L407.3,882.5 L411.2,881.1 L415.1,879.6 L418.9,878.1 L422.8,876.7 L426.7,875.2 L430.6,873.7 L434.5,872.2 L438.3,870.6 L442.2,869.1 L446.1,867.5 L450.0,865.9 L453.8,864.3 L457.7,862.6 L461.6,860.9 L465.5,859.1 L469.4,857.2 L473.2,855.3 L477.1,853.1 L481.0,850.8 L484.9,848.1 L488.7,844.9 L492.6,840.9 L496.5,835.4 L500.4,827.3 L504.3,815.9 L508.1,802.4 L512.0,789.1 L515.9,776.7 L519.8,765.5 L523.6,755.1 L527.5,745.5 L531.4,737.3 L535.3,832.0 L539.2,831.5 L543.0,830.8 L546.9,830.0 L550.8,829.1 L554.7,828.1 L558.5,827.0 L562.4,825.9 L566.3,824.8 L570.2,823.6 L574.1,822.4 L577.9,821.2 L581.8,819.9 L585.7,818.7 L589.6,817.4 L591.8,816.7" fill="none" stroke="#8ee6b0" stroke-width="1.9" stroke-linejoin="round"/><path d="M412.8,895.6 L414.5,895.0 L418.4,893.5 L422.3,892.1 L426.2,890.7 L430.0,889.2 L433.9,887.8 L437.8,886.3 L441.7,884.8 L445.6,883.4 L449.4,881.9 L453.3,880.4 L457.2,878.9 L461.1,877.4 L464.9,875.8 L468.8,874.2 L472.7,872.6 L476.6,871.0 L480.5,869.3 L484.3,867.6 L488.2,865.7 L492.1,863.8 L496.0,861.7 L499.8,859.3 L503.7,856.5 L507.6,853.1 L511.5,848.5 L515.4,841.8 L519.2,832.0 L523.1,820.3 L527.0,808.8 L530.9,798.1 L534.7,788.5 L538.6,779.6 L542.5,772.1 L546.4,843.3 L550.3,842.8 L554.1,842.1 L558.0,841.2 L561.9,840.3 L565.8,839.2 L569.6,838.1 L573.5,837.0 L577.4,835.8 L581.3,834.6 L585.2,833.4 L589.0,832.2 L592.9,830.9 L596.8,829.7 L600.7,828.4 L604.5,827.1 L606.7,826.4" fill="none" stroke="#5ee0e0" stroke-width="1.9" stroke-linejoin="round"/><path d="M427.8,904.7 L429.3,904.1 L433.2,902.7 L437.1,901.3 L440.9,899.8 L444.8,898.4 L448.7,896.9 L452.6,895.5 L456.4,894.0 L460.3,892.5 L464.2,891.1 L468.1,889.6 L472.0,888.0 L475.8,886.5 L479.7,885.0 L483.6,883.4 L487.5,881.8 L491.4,880.2 L495.2,878.5 L499.1,876.7 L503.0,874.9 L506.9,873.0 L510.7,870.9 L514.6,868.5 L518.5,865.8 L522.4,862.3 L526.3,857.7 L530.1,850.8 L534.0,840.3 L537.9,827.2 L541.8,814.1 L545.6,802.1 L549.5,791.4 L553.4,782.5 L557.3,852.5 L561.2,852.4 L565.0,851.9 L568.9,851.2 L572.8,850.3 L576.7,849.4 L580.5,848.4 L584.4,847.3 L588.3,846.1 L592.2,845.0 L596.1,843.8 L599.9,842.6 L603.8,841.3 L607.7,840.1 L611.6,838.8 L615.4,837.5 L619.3,836.3 L621.7,835.5" fill="none" stroke="#45b0e8" stroke-width="1.9" stroke-linejoin="round"/><path d="M442.8,914.0 L444.0,913.6 L447.8,912.1 L451.7,910.7 L455.6,909.3 L459.5,907.9 L463.3,906.4 L467.2,905.0 L471.1,903.5 L475.0,902.1 L478.9,900.6 L482.7,899.1 L486.6,897.6 L490.5,896.2 L494.4,894.6 L498.3,893.1 L502.1,891.5 L506.0,889.9 L509.9,888.3 L513.8,886.6 L517.6,884.9 L521.5,883.0 L525.4,881.1 L529.3,878.9 L533.2,876.4 L537.0,873.3 L540.9,869.3 L544.8,863.0 L548.7,852.1 L552.5,836.2 L556.4,820.2 L560.3,807.6 L564.2,861.5 L568.1,862.7 L571.9,862.9 L575.8,862.6 L579.7,862.0 L583.6,861.2 L587.4,860.2 L591.3,859.2 L595.2,858.1 L599.1,857.0 L603.0,855.8 L606.8,854.6 L610.7,853.4 L614.6,852.2 L618.5,850.9 L622.3,849.6 L626.2,848.3 L630.1,847.1 L634.0,845.8 L636.7,844.8" fill="none" stroke="#3f78d6" stroke-width="1.9" stroke-linejoin="round"/><path d="M457.8,923.2 L458.8,922.8 L462.6,921.4 L466.5,920.0 L470.4,918.5 L474.3,917.1 L478.1,915.7 L482.0,914.3 L485.9,912.8 L489.8,911.4 L493.7,909.9 L497.5,908.4 L501.4,907.0 L505.3,905.5 L509.2,904.0 L513.1,902.5 L516.9,900.9 L520.8,899.3 L524.7,897.7 L528.6,896.1 L532.4,894.4 L536.3,892.6 L540.2,890.7 L544.1,888.6 L548.0,886.2 L551.8,883.3 L555.7,879.5 L559.6,873.8 L563.5,863.9 L567.3,849.3 L571.2,834.3 L575.1,822.5 L579.0,871.4 L582.9,872.5 L586.7,872.6 L590.6,872.2 L594.5,871.5 L598.4,870.6 L602.2,869.7 L606.1,868.6 L610.0,867.5 L613.9,866.4 L617.8,865.2 L621.6,864.0 L625.5,862.7 L629.4,861.5 L633.3,860.2 L637.1,858.9 L641.0,857.6 L644.9,856.3 L648.8,855.0 L651.7,854.0" fill="none" stroke="#3b3fc0" stroke-width="1.9" stroke-linejoin="round"/><path d="M472.8,932.5 L473.4,932.3 L477.3,930.9 L481.2,929.5 L485.1,928.1 L488.9,926.7 L492.8,925.2 L496.7,923.8 L500.6,922.4 L504.5,921.0 L508.3,919.5 L512.2,918.1 L516.1,916.6 L520.0,915.2 L523.9,913.7 L527.7,912.2 L531.6,910.7 L535.5,909.2 L539.4,907.7 L543.2,906.1 L547.1,904.5 L551.0,902.8 L554.9,901.0 L558.8,899.1 L562.6,897.0 L566.5,894.6 L570.4,891.5 L574.3,886.9 L578.1,878.4 L582.0,863.4 L585.9,849.1 L589.8,880.8 L593.7,883.1 L597.5,883.6 L601.4,883.3 L605.3,882.6 L609.2,881.8 L613.0,880.8 L616.9,879.7 L620.8,878.6 L624.7,877.4 L628.6,876.2 L632.4,875.0 L636.3,873.7 L640.2,872.4 L644.1,871.2 L647.9,869.9 L651.8,868.6 L655.7,867.2 L659.6,865.9 L663.5,864.6 L666.7,863.5" fill="none" stroke="#2b2a8c" stroke-width="1.9" stroke-linejoin="round"/><path d="M322.9,842.5L322.9,645.7M472.8,933.3L322.9,842.5M472.8,933.3L666.7,864.5M322.9,842.5L326.9,841.1M322.9,793.3L326.9,791.9M322.9,744.1L326.9,742.7M322.9,694.9L326.9,693.5M322.9,645.7L326.9,644.3M472.8,933.3L468.1,935.0M457.8,924.2L453.2,925.9M442.8,915.1L438.2,916.8M427.8,906.1L423.2,907.7M412.8,897.0L408.2,898.6M397.9,887.9L393.2,889.6M382.9,878.8L378.2,880.5M367.9,869.7L363.2,871.4M352.9,860.7L348.2,862.3M337.9,851.6L333.2,853.2M322.9,842.5L318.2,844.2M472.8,933.3L476.5,935.6M511.6,919.5L515.3,921.8M550.4,905.8L554.1,908.0M589.1,892.0L592.9,894.3M627.9,878.3L631.7,880.5M666.7,864.5L670.4,866.8" stroke="#8a8a8a" stroke-width="1.2" fill="none"/><text x="314.1" y="840.3" font-size="18" text-anchor="end" dominant-baseline="central">0</text><text x="314.1" y="791.1" font-size="18" text-anchor="end" dominant-baseline="central">1</text><text x="314.1" y="741.9" font-size="18" text-anchor="end" dominant-baseline="central">2</text><text x="314.1" y="692.7" font-size="18" text-anchor="end" dominant-baseline="central">3</text><text x="314.1" y="643.5" font-size="18" text-anchor="end" dominant-baseline="central">4</text><text x="297.6" y="858.1" font-size="18" text-anchor="middle" dominant-baseline="central">600</text><text x="372.6" y="903.5" font-size="18" text-anchor="middle" dominant-baseline="central">400</text><text x="447.5" y="948.9" font-size="18" text-anchor="middle" dominant-baseline="central">200</text><text x="496.4" y="950.3" font-size="18" text-anchor="middle" dominant-baseline="central">928</text><text x="573.9" y="922.8" font-size="18" text-anchor="middle" dominant-baseline="central">930</text><text x="651.5" y="895.3" font-size="18" text-anchor="middle" dominant-baseline="central">932</text><text x="610.3" y="959.4" font-size="20.5" text-anchor="middle" dominant-baseline="central">Ω [kHz]</text><text x="291.3" y="743.5" font-size="20.5" text-anchor="middle" transform="rotate(-90 291.3 743.5)" dominant-baseline="central">Amplitude [mV]</text><text x="351.3" y="921.8" font-size="20.6" text-anchor="middle" transform="rotate(31.5 351.3 921.8)" dominant-baseline="central">Driving Voltage (mV)</text><text x="494.8" y="559.3" font-size="24.6" text-anchor="middle" font-weight="bold" fill="#000" dominant-baseline="central">First Harmonic</text><path d="M800.1,853.5L1003.7,780.6M1003.7,780.6L1157.7,875.5M800.1,802.6L1003.7,729.7M1003.7,729.7L1157.7,824.6M800.1,751.7L1003.7,678.8M1003.7,678.8L1157.7,773.7M800.1,700.8L1003.7,627.9M1003.7,627.9L1157.7,722.8M800.1,649.9L1003.7,577.0M1003.7,577.0L1157.7,671.9M800.1,853.5L800.1,649.9M954.1,948.4L800.1,853.5M840.8,838.9L840.8,635.3M994.8,933.8L840.8,838.9M881.5,824.3L881.5,620.7M1035.5,919.2L881.5,824.3M922.3,809.8L922.3,606.2M1076.3,904.7L922.3,809.8M963.0,795.2L963.0,591.6M1117.0,890.1L963.0,795.2M1003.7,780.6L1003.7,577.0M1157.7,875.5L1003.7,780.6M1157.7,875.5L1157.7,671.9M954.1,948.4L1157.7,875.5M1142.3,866.0L1142.3,662.4M938.7,938.9L1142.3,866.0M1126.9,856.5L1126.9,652.9M923.3,929.4L1126.9,856.5M1111.5,847.0L1111.5,643.4M907.9,919.9L1111.5,847.0M1096.1,837.5L1096.1,633.9M892.5,910.4L1096.1,837.5M1080.7,828.0L1080.7,624.4M877.1,901.0L1080.7,828.0M1065.3,818.6L1065.3,615.0M861.7,891.5L1065.3,818.6M1049.9,809.1L1049.9,605.5M846.3,882.0L1049.9,809.1M1034.5,799.6L1034.5,596.0M830.9,872.5L1034.5,799.6M1019.1,790.1L1019.1,586.5M815.5,863.0L1019.1,790.1M1003.7,780.6L1003.7,577.0M800.1,853.5L1003.7,780.6" stroke="#eeeeee" stroke-width="1" fill="none"/><path d="M800.1,850.0 L800.8,849.7 L804.9,848.1 L808.9,846.5 L813.0,844.8 L817.1,843.2 L821.2,841.5 L825.2,839.7 L829.3,838.0 L833.4,836.2 L837.4,834.4 L841.5,832.5 L845.6,830.5 L849.7,828.4 L853.7,826.2 L857.8,823.9 L861.9,821.3 L865.9,818.4 L870.0,815.1 L874.1,811.2 L878.2,806.3 L882.2,799.8 L886.3,791.3 L890.4,780.8 L894.4,769.1 L898.5,757.3 L902.6,746.0 L906.7,735.4 L910.7,725.4 L914.8,716.0 L918.9,707.1 L923.0,698.6 L927.0,690.5 L931.1,682.7 L935.2,675.2 L939.2,668.0 L943.3,660.9 L947.4,654.1 L951.5,647.5 L955.5,641.1 L959.6,635.2 L963.7,790.2 L967.7,789.0 L971.8,787.8 L975.9,786.5 L980.0,785.3 L984.0,784.0 L988.1,782.7 L992.2,781.4 L996.2,780.1 L1000.3,778.7 L1003.7,777.6" fill="none" stroke="#d9444f" stroke-width="1.9" stroke-linejoin="round"/><path d="M815.5,859.5 L816.3,859.2 L820.4,857.5 L824.5,855.9 L828.6,854.3 L832.6,852.6 L836.7,850.9 L840.8,849.2 L844.8,847.4 L848.9,845.6 L853.0,843.8 L857.1,841.8 L861.1,839.9 L865.2,837.8 L869.3,835.6 L873.3,833.2 L877.4,830.7 L881.5,827.8 L885.6,824.4 L889.6,820.4 L893.7,815.4 L897.8,808.7 L901.8,799.7 L905.9,788.4 L910.0,775.7 L914.1,763.0 L918.1,750.9 L922.2,739.5 L926.3,728.9 L930.4,718.9 L934.4,709.4 L938.5,700.4 L942.6,691.8 L946.6,683.6 L950.7,675.7 L954.8,668.0 L958.9,660.6 L962.9,653.5 L967.0,647.0 L971.1,801.9 L975.1,800.8 L979.2,799.6 L983.3,798.4 L987.4,797.2 L991.4,796.0 L995.5,794.7 L999.6,793.4 L1003.6,792.1 L1007.7,790.8 L1011.8,789.5 L1015.9,788.2 L1019.1,787.1" fill="none" stroke="#e8845e" stroke-width="1.9" stroke-linejoin="round"/><path d="M830.9,869.4 L831.2,869.3 L835.3,867.7 L839.3,866.1 L843.4,864.5 L847.5,862.9 L851.5,861.2 L855.6,859.5 L859.7,857.8 L863.8,856.1 L867.8,854.3 L871.9,852.4 L876.0,850.5 L880.0,848.5 L884.1,846.5 L888.2,844.2 L892.3,841.8 L896.3,839.2 L900.4,836.1 L904.5,832.5 L908.5,828.1 L912.6,822.2 L916.7,814.1 L920.8,803.6 L924.8,791.4 L928.9,779.1 L933.0,767.3 L937.1,756.3 L941.1,746.0 L945.2,736.4 L949.3,727.2 L953.3,718.6 L957.4,710.4 L961.5,702.5 L965.6,694.9 L969.6,687.7 L973.7,681.1 L977.8,814.5 L981.8,813.4 L985.9,812.3 L990.0,811.1 L994.1,809.9 L998.1,808.7 L1002.2,807.4 L1006.3,806.2 L1010.3,804.9 L1014.4,803.6 L1018.5,802.3 L1022.6,800.9 L1026.6,799.6 L1030.7,798.2 L1034.5,797.0" fill="none" stroke="#f2b653" stroke-width="1.9" stroke-linejoin="round"/><path d="M846.3,879.5 L846.7,879.3 L850.8,877.7 L854.9,876.1 L858.9,874.5 L863.0,872.9 L867.1,871.3 L871.2,869.6 L875.2,868.0 L879.3,866.3 L883.4,864.5 L887.4,862.8 L891.5,860.9 L895.6,859.0 L899.7,857.1 L903.7,855.0 L907.8,852.7 L911.9,850.2 L915.9,847.5 L920.0,844.2 L924.1,840.1 L928.2,834.8 L932.2,827.5 L936.3,817.7 L940.4,806.3 L944.5,794.7 L948.5,783.7 L952.6,773.4 L956.7,763.9 L960.7,755.0 L964.8,746.6 L968.9,738.6 L973.0,731.0 L977.0,723.8 L981.1,717.3 L985.2,827.0 L989.2,825.9 L993.3,824.9 L997.4,823.7 L1001.5,822.5 L1005.5,821.3 L1009.6,820.1 L1013.7,818.8 L1017.7,817.5 L1021.8,816.2 L1025.9,814.9 L1030.0,813.6 L1034.0,812.2 L1038.1,810.9 L1042.2,809.5 L1046.3,808.1 L1049.9,806.9" fill="none" stroke="#f0ec50" stroke-width="1.9" stroke-linejoin="round"/><path d="M861.7,888.9 L862.3,888.7 L866.3,887.2 L870.4,885.6 L874.5,884.0 L878.6,882.4 L882.6,880.7 L886.7,879.1 L890.8,877.4 L894.8,875.7 L898.9,874.0 L903.0,872.2 L907.1,870.4 L911.1,868.5 L915.2,866.5 L919.3,864.4 L923.3,862.1 L927.4,859.6 L931.5,856.8 L935.6,853.5 L939.6,849.4 L943.7,843.9 L947.8,836.1 L951.9,825.3 L955.9,812.4 L960.0,799.3 L964.1,787.0 L968.1,775.6 L972.2,765.1 L976.3,755.3 L980.4,746.1 L984.4,737.5 L988.5,729.9 L992.6,838.2 L996.6,837.4 L1000.7,836.4 L1004.8,835.4 L1008.9,834.3 L1012.9,833.2 L1017.0,832.0 L1021.1,830.8 L1025.1,829.5 L1029.2,828.3 L1033.3,827.0 L1037.4,825.7 L1041.4,824.3 L1045.5,823.0 L1049.6,821.7 L1053.7,820.3 L1057.7,819.0 L1061.8,817.6 L1065.3,816.4" fill="none" stroke="#c8ec86" stroke-width="1.9" stroke-linejoin="round"/><path d="M877.1,898.8 L877.1,898.8 L881.2,897.2 L885.3,895.6 L889.3,894.1 L893.4,892.5 L897.5,890.9 L901.5,889.3 L905.6,887.6 L909.7,886.0 L913.8,884.3 L917.8,882.5 L921.9,880.8 L926.0,878.9 L930.0,877.0 L934.1,875.0 L938.2,872.9 L942.3,870.6 L946.3,868.0 L950.4,865.0 L954.5,861.3 L958.6,856.4 L962.6,849.4 L966.7,839.0 L970.8,825.8 L974.8,812.0 L978.9,799.1 L983.0,787.3 L987.1,776.5 L991.1,766.6 L995.2,758.1 L999.3,849.9 L1003.3,849.4 L1007.4,848.6 L1011.5,847.8 L1015.6,846.8 L1019.6,845.7 L1023.7,844.6 L1027.8,843.4 L1031.8,842.2 L1035.9,840.9 L1040.0,839.7 L1044.1,838.4 L1048.1,837.1 L1052.2,835.7 L1056.3,834.4 L1060.4,833.0 L1064.4,831.7 L1068.5,830.3 L1072.6,828.9 L1076.6,827.6 L1080.7,826.2" fill="none" stroke="#8ee6b0" stroke-width="1.9" stroke-linejoin="round"/><path d="M892.5,908.5 L896.4,907.1 L900.4,905.5 L904.5,903.9 L908.6,902.4 L912.6,900.8 L916.7,899.2 L920.8,897.6 L924.9,895.9 L928.9,894.3 L933.0,892.6 L937.1,890.8 L941.1,889.0 L945.2,887.2 L949.3,885.3 L953.4,883.2 L957.4,881.0 L961.5,878.6 L965.6,875.8 L969.7,872.4 L973.7,867.9 L977.8,861.5 L981.9,851.7 L985.9,838.8 L990.0,825.0 L994.1,812.1 L998.2,800.5 L1002.2,789.9 L1006.3,781.0 L1010.4,860.6 L1014.4,860.3 L1018.5,859.7 L1022.6,858.9 L1026.7,857.9 L1030.7,856.9 L1034.8,855.7 L1038.9,854.6 L1042.9,853.4 L1047.0,852.1 L1051.1,850.9 L1055.2,849.6 L1059.2,848.3 L1063.3,846.9 L1067.4,845.6 L1071.5,844.2 L1075.5,842.9 L1079.6,841.5 L1083.7,840.1 L1087.7,838.7 L1091.8,837.4 L1095.9,836.0 L1096.1,835.9" fill="none" stroke="#5ee0e0" stroke-width="1.9" stroke-linejoin="round"/><path d="M907.9,918.3 L908.5,918.0 L912.6,916.5 L916.7,915.0 L920.7,913.4 L924.8,911.9 L928.9,910.3 L933.0,908.7 L937.0,907.1 L941.1,905.5 L945.2,903.8 L949.2,902.2 L953.3,900.5 L957.4,898.7 L961.5,896.9 L965.5,895.0 L969.6,893.0 L973.7,890.9 L977.8,888.5 L981.8,885.8 L985.9,882.5 L990.0,878.1 L994.0,871.4 L998.1,860.6 L1002.2,845.6 L1006.3,830.3 L1010.3,816.5 L1014.4,805.4 L1018.5,870.9 L1022.5,871.3 L1026.6,871.1 L1030.7,870.6 L1034.8,869.8 L1038.8,868.8 L1042.9,867.8 L1047.0,866.7 L1051.0,865.5 L1055.1,864.3 L1059.2,863.0 L1063.3,861.8 L1067.3,860.5 L1071.4,859.1 L1075.5,857.8 L1079.6,856.5 L1083.6,855.1 L1087.7,853.7 L1091.8,852.4 L1095.8,851.0 L1099.9,849.6 L1104.0,848.2 L1108.1,846.8 L1111.5,845.6" fill="none" stroke="#45b0e8" stroke-width="1.9" stroke-linejoin="round"/><path d="M923.3,928.1 L923.7,927.9 L927.8,926.4 L931.8,924.9 L935.9,923.3 L940.0,921.8 L944.1,920.2 L948.1,918.7 L952.2,917.1 L956.3,915.5 L960.3,913.9 L964.4,912.3 L968.5,910.6 L972.6,908.9 L976.6,907.2 L980.7,905.4 L984.8,903.5 L988.9,901.5 L992.9,899.3 L997.0,896.8 L1001.1,893.8 L1005.1,889.9 L1009.2,884.1 L1013.3,874.1 L1017.4,858.7 L1021.4,842.6 L1025.5,829.9 L1029.6,880.9 L1033.6,882.1 L1037.7,882.2 L1041.8,881.8 L1045.9,881.1 L1049.9,880.2 L1054.0,879.1 L1058.1,878.0 L1062.1,876.8 L1066.2,875.6 L1070.3,874.4 L1074.4,873.1 L1078.4,871.8 L1082.5,870.4 L1086.6,869.1 L1090.7,867.8 L1094.7,866.4 L1098.8,865.0 L1102.9,863.6 L1106.9,862.2 L1111.0,860.8 L1115.1,859.4 L1119.2,858.0 L1123.2,856.6 L1126.9,855.4" fill="none" stroke="#3f78d6" stroke-width="1.9" stroke-linejoin="round"/><path d="M938.7,938.0 L938.9,937.9 L942.9,936.4 L947.0,934.9 L951.1,933.4 L955.2,931.9 L959.2,930.3 L963.3,928.8 L967.4,927.3 L971.4,925.7 L975.5,924.2 L979.6,922.6 L983.7,921.0 L987.7,919.4 L991.8,917.7 L995.9,916.0 L1000.0,914.3 L1004.0,912.4 L1008.1,910.5 L1012.2,908.3 L1016.2,905.8 L1020.3,902.7 L1024.4,898.1 L1028.5,889.9 L1032.5,874.8 L1036.6,860.2 L1040.7,891.2 L1044.7,893.6 L1048.8,894.0 L1052.9,893.6 L1057.0,892.9 L1061.0,892.0 L1065.1,890.9 L1069.2,889.8 L1073.2,888.5 L1077.3,887.3 L1081.4,886.0 L1085.5,884.7 L1089.5,883.3 L1093.6,882.0 L1097.7,880.6 L1101.8,879.2 L1105.8,877.9 L1109.9,876.5 L1114.0,875.1 L1118.0,873.7 L1122.1,872.2 L1126.2,870.8 L1130.3,869.4 L1134.3,868.0 L1138.4,866.6 L1142.3,865.2" fill="none" stroke="#3b3fc0" stroke-width="1.9" stroke-linejoin="round"/><path d="M954.1,947.7 L954.5,947.6 L958.5,946.1 L962.6,944.6 L966.7,943.1 L970.8,941.6 L974.8,940.1 L978.9,938.6 L983.0,937.1 L987.0,935.6 L991.1,934.0 L995.2,932.5 L999.3,930.9 L1003.3,929.3 L1007.4,927.7 L1011.5,926.1 L1015.6,924.4 L1019.6,922.7 L1023.7,920.9 L1027.8,918.9 L1031.8,916.7 L1035.9,914.0 L1040.0,910.2 L1044.1,903.7 L1048.1,892.4 L1052.2,881.7 L1056.3,903.9 L1060.3,905.1 L1064.4,905.0 L1068.5,904.3 L1072.6,903.4 L1076.6,902.3 L1080.7,901.1 L1084.8,899.9 L1088.8,898.6 L1092.9,897.3 L1097.0,895.9 L1101.1,894.6 L1105.1,893.2 L1109.2,891.8 L1113.3,890.4 L1117.4,889.0 L1121.4,887.6 L1125.5,886.2 L1129.6,884.8 L1133.6,883.4 L1137.7,881.9 L1141.8,880.5 L1145.9,879.1 L1149.9,877.7 L1154.0,876.2 L1157.7,874.9" fill="none" stroke="#2b2a8c" stroke-width="1.9" stroke-linejoin="round"/><path d="M800.1,853.5L800.1,649.9M954.1,948.4L800.1,853.5M954.1,948.4L1157.7,875.5M800.1,853.5L804.1,852.1M800.1,802.6L804.1,801.2M800.1,751.7L804.1,750.3M800.1,700.8L804.1,699.4M800.1,649.9L804.1,648.5M954.1,948.4L949.2,950.1M938.7,938.9L933.8,940.7M923.3,929.4L918.4,931.2M907.9,919.9L903.0,921.7M892.5,910.4L887.6,912.2M877.1,901.0L872.2,902.7M861.7,891.5L856.8,893.2M846.3,882.0L841.4,883.7M830.9,872.5L826.0,874.2M815.5,863.0L810.6,864.7M800.1,853.5L795.2,855.2M954.1,948.4L958.0,950.8M994.8,933.8L998.7,936.2M1035.5,919.2L1039.4,921.6M1076.3,904.7L1080.1,907.0M1117.0,890.1L1120.8,892.5M1157.7,875.5L1161.5,877.9" stroke="#8a8a8a" stroke-width="1.2" fill="none"/><text x="791.3" y="851.3" font-size="18" text-anchor="end" dominant-baseline="central">0</text><text x="791.3" y="800.4" font-size="18" text-anchor="end" dominant-baseline="central">1</text><text x="791.3" y="749.5" font-size="18" text-anchor="end" dominant-baseline="central">2</text><text x="791.3" y="698.6" font-size="18" text-anchor="end" dominant-baseline="central">3</text><text x="791.3" y="647.7" font-size="18" text-anchor="end" dominant-baseline="central">4</text><text x="774.8" y="869.1" font-size="18" text-anchor="middle" dominant-baseline="central">600</text><text x="851.8" y="916.6" font-size="18" text-anchor="middle" dominant-baseline="central">400</text><text x="928.8" y="964.0" font-size="18" text-anchor="middle" dominant-baseline="central">200</text><text x="979.6" y="964.6" font-size="18" text-anchor="middle" dominant-baseline="central">928</text><text x="1061.1" y="935.5" font-size="18" text-anchor="middle" dominant-baseline="central">930</text><text x="1142.5" y="906.3" font-size="18" text-anchor="middle" dominant-baseline="central">932</text><text x="1099.9" y="973.2" font-size="20.5" text-anchor="middle" dominant-baseline="central">Ω [kHz]</text><text x="765.8" y="751.8" font-size="20.5" text-anchor="middle" transform="rotate(-90 765.8 751.8)" dominant-baseline="central">Amplitude [mV]</text><text x="828.2" y="937.4" font-size="20.6" text-anchor="middle" transform="rotate(31.5 828.2 937.4)" dominant-baseline="central">Driving Voltage (mV)</text><text x="977.5" y="560.6" font-size="24.6" text-anchor="middle" font-weight="bold" fill="#000" dominant-baseline="central">First Harmonic</text><path d="M92.7,1884.7L292.1,1816.0M292.1,1816.0L441.2,1907.3M92.7,1835.2L292.1,1766.5M292.1,1766.5L441.2,1857.8M92.7,1785.7L292.1,1717.0M292.1,1717.0L441.2,1808.3M92.7,1736.2L292.1,1667.5M292.1,1667.5L441.2,1758.8M92.7,1686.7L292.1,1618.0M292.1,1618.0L441.2,1709.3M92.7,1884.7L92.7,1686.7M241.8,1976.0L92.7,1884.7M132.6,1871.0L132.6,1673.0M281.7,1962.3L132.6,1871.0M172.5,1857.2L172.5,1659.2M321.6,1948.5L172.5,1857.2M212.3,1843.5L212.3,1645.5M361.4,1934.8L212.3,1843.5M252.2,1829.7L252.2,1631.7M401.3,1921.0L252.2,1829.7M292.1,1816.0L292.1,1618.0M441.2,1907.3L292.1,1816.0M441.2,1907.3L441.2,1709.3M241.8,1976.0L441.2,1907.3M426.3,1898.2L426.3,1700.2M226.9,1966.9L426.3,1898.2M411.4,1889.0L411.4,1691.0M212.0,1957.7L411.4,1889.0M396.5,1879.9L396.5,1681.9M197.1,1948.6L396.5,1879.9M381.6,1870.8L381.6,1672.8M182.2,1939.5L381.6,1870.8M366.6,1861.7L366.6,1663.7M167.2,1930.3L366.6,1861.7M351.7,1852.5L351.7,1654.5M152.3,1921.2L351.7,1852.5M336.8,1843.4L336.8,1645.4M137.4,1912.1L336.8,1843.4M321.9,1834.3L321.9,1636.3M122.5,1903.0L321.9,1834.3M307.0,1825.1L307.0,1627.1M107.6,1893.8L307.0,1825.1M292.1,1816.0L292.1,1618.0M92.7,1884.7L292.1,1816.0" stroke="#eeeeee" stroke-width="1" fill="none"/><path d="M92.7,1880.2 L93.0,1880.1 L97.0,1878.4 L101.0,1876.8 L105.0,1875.1 L109.0,1873.3 L113.0,1871.5 L117.0,1869.7 L120.9,1867.7 L124.9,1865.6 L128.9,1863.4 L132.9,1861.0 L136.9,1858.4 L140.9,1855.4 L144.9,1851.8 L148.9,1847.4 L152.9,1841.8 L156.8,1834.4 L160.8,1825.0 L164.8,1814.0 L168.8,1802.5 L172.8,1791.3 L176.8,1780.7 L180.8,1770.7 L184.8,1761.3 L188.7,1752.4 L192.7,1743.9 L196.7,1735.8 L200.7,1728.1 L204.7,1720.6 L208.7,1713.4 L212.7,1706.4 L216.7,1699.7 L220.6,1693.1 L224.6,1686.7 L228.6,1680.5 L232.6,1674.5 L236.6,1668.9 L240.6,1829.3 L244.6,1828.1 L248.6,1827.0 L252.6,1825.8 L256.5,1824.6 L260.5,1823.4 L264.5,1822.1 L268.5,1820.9 L272.5,1819.6 L276.5,1818.4 L280.5,1817.1 L284.5,1815.8 L288.4,1814.5 L292.1,1813.4" fill="none" stroke="#d9444f" stroke-width="1.9" stroke-linejoin="round"/><path d="M107.6,1889.6 L111.4,1888.0 L115.4,1886.4 L119.4,1884.7 L123.3,1883.0 L127.3,1881.2 L131.3,1879.4 L135.3,1877.5 L139.3,1875.5 L143.3,1873.3 L147.3,1871.0 L151.3,1868.5 L155.3,1865.6 L159.2,1862.2 L163.2,1858.0 L167.2,1852.7 L171.2,1845.5 L175.2,1836.1 L179.2,1824.6 L183.2,1812.4 L187.2,1800.4 L191.1,1789.0 L195.1,1778.4 L199.1,1768.5 L203.1,1759.1 L207.1,1750.2 L211.1,1741.7 L215.1,1733.6 L219.1,1725.8 L223.0,1718.3 L227.0,1711.0 L231.0,1704.0 L235.0,1697.3 L239.0,1691.1 L243.0,1842.1 L247.0,1841.0 L251.0,1839.9 L255.0,1838.8 L258.9,1837.6 L262.9,1836.5 L266.9,1835.3 L270.9,1834.1 L274.9,1832.8 L278.9,1831.6 L282.9,1830.4 L286.9,1829.1 L290.8,1827.8 L294.8,1826.6 L298.8,1825.3 L302.8,1824.0 L306.8,1822.7 L307.0,1822.6" fill="none" stroke="#e8845e" stroke-width="1.9" stroke-linejoin="round"/><path d="M122.5,1899.2 L123.1,1899.0 L127.1,1897.4 L131.0,1895.8 L135.0,1894.2 L139.0,1892.5 L143.0,1890.8 L147.0,1889.0 L151.0,1887.1 L155.0,1885.2 L159.0,1883.1 L163.0,1880.9 L166.9,1878.4 L170.9,1875.6 L174.9,1872.4 L178.9,1868.4 L182.9,1863.2 L186.9,1856.2 L190.9,1846.9 L194.9,1835.8 L198.8,1824.0 L202.8,1812.7 L206.8,1802.0 L210.8,1792.1 L214.8,1782.8 L218.8,1774.0 L222.8,1765.6 L226.8,1757.7 L230.7,1750.1 L234.7,1742.8 L238.7,1735.8 L242.7,1729.0 L246.7,1722.9 L250.7,1853.8 L254.7,1852.7 L258.7,1851.7 L262.7,1850.6 L266.6,1849.4 L270.6,1848.3 L274.6,1847.1 L278.6,1845.9 L282.6,1844.6 L286.6,1843.4 L290.6,1842.2 L294.6,1840.9 L298.5,1839.6 L302.5,1838.4 L306.5,1837.1 L310.5,1835.8 L314.5,1834.5 L318.5,1833.2 L321.9,1832.1" fill="none" stroke="#f2b653" stroke-width="1.9" stroke-linejoin="round"/><path d="M137.4,1908.5 L138.4,1908.1 L142.4,1906.5 L146.4,1904.9 L150.4,1903.2 L154.4,1901.6 L158.4,1899.8 L162.4,1898.1 L166.4,1896.2 L170.4,1894.3 L174.3,1892.2 L178.3,1889.9 L182.3,1887.5 L186.3,1884.7 L190.3,1881.4 L194.3,1877.3 L198.3,1872.0 L202.3,1864.7 L206.2,1854.7 L210.2,1842.7 L214.2,1830.1 L218.2,1818.1 L222.2,1806.9 L226.2,1796.5 L230.2,1786.7 L234.2,1777.6 L238.1,1768.9 L242.1,1760.6 L246.1,1752.8 L250.1,1745.3 L254.1,1738.5 L258.1,1864.8 L262.1,1863.9 L266.1,1862.9 L270.1,1861.9 L274.0,1860.8 L278.0,1859.7 L282.0,1858.5 L286.0,1857.3 L290.0,1856.2 L294.0,1854.9 L298.0,1853.7 L302.0,1852.5 L305.9,1851.2 L309.9,1850.0 L313.9,1848.7 L317.9,1847.4 L321.9,1846.1 L325.9,1844.8 L329.9,1843.5 L333.9,1842.2 L336.8,1841.3" fill="none" stroke="#f0ec50" stroke-width="1.9" stroke-linejoin="round"/><path d="M152.3,1917.9 L153.8,1917.3 L157.8,1915.7 L161.8,1914.2 L165.8,1912.5 L169.8,1910.9 L173.8,1909.2 L177.8,1907.4 L181.7,1905.6 L185.7,1903.7 L189.7,1901.6 L193.7,1899.4 L197.7,1897.0 L201.7,1894.3 L205.7,1891.1 L209.7,1887.1 L213.6,1881.7 L217.6,1874.3 L221.6,1863.9 L225.6,1851.3 L229.6,1838.4 L233.6,1826.1 L237.6,1814.6 L241.6,1804.1 L245.5,1794.2 L249.5,1784.9 L253.5,1776.2 L257.5,1768.0 L261.5,1760.7 L265.5,1876.0 L269.5,1875.2 L273.5,1874.3 L277.5,1873.3 L281.4,1872.3 L285.4,1871.2 L289.4,1870.1 L293.4,1869.0 L297.4,1867.8 L301.4,1866.6 L305.4,1865.4 L309.4,1864.2 L313.3,1862.9 L317.3,1861.7 L321.3,1860.4 L325.3,1859.2 L329.3,1857.9 L333.3,1856.6 L337.3,1855.3 L341.3,1854.0 L345.2,1852.7 L349.2,1851.4 L351.7,1850.6" fill="none" stroke="#c8ec86" stroke-width="1.9" stroke-linejoin="round"/><path d="M167.2,1928.3 L168.9,1927.7 L172.9,1926.2 L176.8,1924.7 L180.8,1923.2 L184.8,1921.6 L188.8,1920.0 L192.8,1918.4 L196.8,1916.8 L200.8,1915.1 L204.8,1913.3 L208.7,1911.4 L212.7,1909.4 L216.7,1907.2 L220.7,1904.6 L224.7,1901.5 L228.7,1897.5 L232.7,1891.6 L236.7,1882.4 L240.6,1869.8 L244.6,1856.5 L248.6,1844.3 L252.6,1833.3 L256.6,1824.3 L260.6,1890.5 L264.6,1890.5 L268.6,1890.0 L272.6,1889.3 L276.5,1888.5 L280.5,1887.5 L284.5,1886.5 L288.5,1885.4 L292.5,1884.3 L296.5,1883.1 L300.5,1881.9 L304.5,1880.7 L308.4,1879.5 L312.4,1878.2 L316.4,1877.0 L320.4,1875.7 L324.4,1874.4 L328.4,1873.1 L332.4,1871.8 L336.4,1870.5 L340.3,1869.2 L344.3,1867.9 L348.3,1866.6 L352.3,1865.2 L356.3,1863.9 L360.3,1862.6 L364.3,1861.3 L366.6,1860.5" fill="none" stroke="#8ee6b0" stroke-width="1.9" stroke-linejoin="round"/><path d="M182.2,1937.4 L183.4,1937.0 L187.4,1935.5 L191.3,1934.0 L195.3,1932.5 L199.3,1930.9 L203.3,1929.3 L207.3,1927.7 L211.3,1926.1 L215.3,1924.4 L219.3,1922.6 L223.2,1920.7 L227.2,1918.7 L231.2,1916.5 L235.2,1914.0 L239.2,1911.0 L243.2,1907.0 L247.2,1901.3 L251.2,1892.4 L255.1,1879.8 L259.1,1866.3 L263.1,1853.7 L267.1,1842.4 L271.1,1833.2 L275.1,1899.6 L279.1,1899.6 L283.1,1899.2 L287.1,1898.5 L291.0,1897.7 L295.0,1896.7 L299.0,1895.7 L303.0,1894.6 L307.0,1893.5 L311.0,1892.4 L315.0,1891.2 L319.0,1890.0 L322.9,1888.7 L326.9,1887.5 L330.9,1886.2 L334.9,1884.9 L338.9,1883.7 L342.9,1882.4 L346.9,1881.1 L350.9,1879.8 L354.8,1878.5 L358.8,1877.1 L362.8,1875.8 L366.8,1874.5 L370.8,1873.2 L374.8,1871.8 L378.8,1870.5 L381.6,1869.6" fill="none" stroke="#5ee0e0" stroke-width="1.9" stroke-linejoin="round"/><path d="M197.1,1947.0 L198.5,1946.5 L202.4,1945.0 L206.4,1943.5 L210.4,1942.0 L214.4,1940.5 L218.4,1939.0 L222.4,1937.4 L226.4,1935.8 L230.4,1934.2 L234.3,1932.5 L238.3,1930.7 L242.3,1928.8 L246.3,1926.8 L250.3,1924.5 L254.3,1921.7 L258.3,1918.2 L262.3,1913.2 L266.2,1905.1 L270.2,1893.2 L274.2,1880.2 L278.2,1868.5 L282.2,1859.1 L286.2,1910.1 L290.2,1910.3 L294.2,1910.0 L298.2,1909.4 L302.1,1908.6 L306.1,1907.6 L310.1,1906.6 L314.1,1905.5 L318.1,1904.4 L322.1,1903.2 L326.1,1902.0 L330.1,1900.8 L334.0,1899.5 L338.0,1898.3 L342.0,1897.0 L346.0,1895.7 L350.0,1894.4 L354.0,1893.1 L358.0,1891.8 L362.0,1890.5 L365.9,1889.2 L369.9,1887.8 L373.9,1886.5 L377.9,1885.2 L381.9,1883.9 L385.9,1882.5 L389.9,1881.2 L393.9,1879.8 L396.5,1879.0" fill="none" stroke="#45b0e8" stroke-width="1.9" stroke-linejoin="round"/><path d="M212.0,1956.0 L213.3,1955.6 L217.2,1954.1 L221.2,1952.6 L225.2,1951.1 L229.2,1949.6 L233.2,1948.0 L237.2,1946.5 L241.2,1944.9 L245.2,1943.2 L249.1,1941.5 L253.1,1939.7 L257.1,1937.8 L261.1,1935.7 L265.1,1933.4 L269.1,1930.6 L273.1,1927.0 L277.1,1921.8 L281.0,1913.4 L285.0,1901.0 L289.0,1887.4 L293.0,1875.0 L297.0,1865.1 L301.0,1918.8 L305.0,1919.1 L309.0,1918.9 L313.0,1918.3 L316.9,1917.5 L320.9,1916.6 L324.9,1915.6 L328.9,1914.5 L332.9,1913.4 L336.9,1912.2 L340.9,1911.0 L344.9,1909.8 L348.8,1908.6 L352.8,1907.3 L356.8,1906.1 L360.8,1904.8 L364.8,1903.5 L368.8,1902.2 L372.8,1900.9 L376.8,1899.6 L380.7,1898.3 L384.7,1896.9 L388.7,1895.6 L392.7,1894.3 L396.7,1893.0 L400.7,1891.6 L404.7,1890.3 L408.7,1888.9 L411.4,1888.0" fill="none" stroke="#3f78d6" stroke-width="1.9" stroke-linejoin="round"/><path d="M226.9,1965.7 L228.6,1965.0 L232.6,1963.6 L236.6,1962.1 L240.6,1960.7 L244.6,1959.2 L248.6,1957.7 L252.6,1956.2 L256.6,1954.6 L260.5,1953.0 L264.5,1951.4 L268.5,1949.7 L272.5,1948.0 L276.5,1946.1 L280.5,1944.0 L284.5,1941.6 L288.5,1938.5 L292.4,1934.1 L296.4,1926.8 L300.4,1915.5 L304.4,1903.5 L308.4,1893.9 L312.4,1929.8 L316.4,1930.4 L320.4,1930.1 L324.4,1929.5 L328.3,1928.7 L332.3,1927.7 L336.3,1926.7 L340.3,1925.5 L344.3,1924.4 L348.3,1923.2 L352.3,1921.9 L356.3,1920.7 L360.2,1919.4 L364.2,1918.1 L368.2,1916.9 L372.2,1915.6 L376.2,1914.2 L380.2,1912.9 L384.2,1911.6 L388.2,1910.3 L392.1,1909.0 L396.1,1907.6 L400.1,1906.3 L404.1,1904.9 L408.1,1903.6 L412.1,1902.3 L416.1,1900.9 L420.1,1899.6 L424.1,1898.2 L426.3,1897.5" fill="none" stroke="#3b3fc0" stroke-width="1.9" stroke-linejoin="round"/><path d="M241.8,1975.1 L243.7,1974.5 L247.7,1973.0 L251.7,1971.6 L255.7,1970.2 L259.7,1968.7 L263.7,1967.3 L267.7,1965.8 L271.6,1964.3 L275.6,1962.8 L279.6,1961.2 L283.6,1959.6 L287.6,1958.0 L291.6,1956.2 L295.6,1954.3 L299.6,1952.2 L303.5,1949.6 L307.5,1945.9 L311.5,1939.4 L315.5,1928.2 L319.5,1917.6 L323.5,1940.0 L327.5,1941.2 L331.5,1941.2 L335.5,1940.6 L339.4,1939.7 L343.4,1938.7 L347.4,1937.6 L351.4,1936.5 L355.4,1935.3 L359.4,1934.1 L363.4,1932.8 L367.4,1931.5 L371.3,1930.2 L375.3,1928.9 L379.3,1927.6 L383.3,1926.3 L387.3,1925.0 L391.3,1923.7 L395.3,1922.3 L399.3,1921.0 L403.2,1919.7 L407.2,1918.3 L411.2,1917.0 L415.2,1915.6 L419.2,1914.3 L423.2,1912.9 L427.2,1911.6 L431.2,1910.2 L435.2,1908.9 L439.1,1907.5 L441.2,1906.8" fill="none" stroke="#2b2a8c" stroke-width="1.9" stroke-linejoin="round"/><path d="M92.7,1884.7L92.7,1686.7M241.8,1976.0L92.7,1884.7M241.8,1976.0L441.2,1907.3M92.7,1884.7L96.7,1883.3M92.7,1835.2L96.7,1833.8M92.7,1785.7L96.7,1784.3M92.7,1736.2L96.7,1734.8M92.7,1686.7L96.7,1685.3M241.8,1976.0L237.0,1977.6M226.9,1966.9L222.1,1968.5M212.0,1957.7L207.2,1959.4M197.1,1948.6L192.3,1950.3M182.2,1939.5L177.4,1941.1M167.2,1930.3L162.5,1932.0M152.3,1921.2L147.6,1922.9M137.4,1912.1L132.6,1913.7M122.5,1903.0L117.7,1904.6M107.6,1893.8L102.8,1895.5M92.7,1884.7L87.9,1886.3M241.8,1976.0L245.5,1978.3M281.7,1962.3L285.4,1964.5M321.6,1948.5L325.3,1950.8M361.4,1934.8L365.2,1937.1M401.3,1921.0L405.0,1923.3M441.2,1907.3L444.9,1909.6" stroke="#8a8a8a" stroke-width="1.2" fill="none"/><text x="83.9" y="1882.5" font-size="18" text-anchor="end" dominant-baseline="central">0</text><text x="83.9" y="1833.0" font-size="18" text-anchor="end" dominant-baseline="central">1</text><text x="83.9" y="1783.5" font-size="18" text-anchor="end" dominant-baseline="central">2</text><text x="83.9" y="1734.0" font-size="18" text-anchor="end" dominant-baseline="central">3</text><text x="83.9" y="1684.5" font-size="18" text-anchor="end" dominant-baseline="central">4</text><text x="67.4" y="1900.3" font-size="18" text-anchor="middle" dominant-baseline="central">600</text><text x="141.9" y="1945.9" font-size="18" text-anchor="middle" dominant-baseline="central">400</text><text x="216.5" y="1991.6" font-size="18" text-anchor="middle" dominant-baseline="central">200</text><text x="266.5" y="1993.1" font-size="18" text-anchor="middle" dominant-baseline="central">928</text><text x="346.2" y="1965.6" font-size="18" text-anchor="middle" dominant-baseline="central">930</text><text x="426.0" y="1938.1" font-size="18" text-anchor="middle" dominant-baseline="central">932</text><text x="386.2" y="1999.4" font-size="20.5" text-anchor="middle" dominant-baseline="central">Ω [kHz]</text><text x="58.9" y="1786.3" font-size="20.5" text-anchor="middle" transform="rotate(-90 58.9 1786.3)" dominant-baseline="central">Amplitude [mV]</text><text x="125.4" y="1973.3" font-size="20.6" text-anchor="middle" transform="rotate(31.5 125.4 1973.3)" dominant-baseline="central">Driving Voltage (mV)</text><text x="266.5" y="1597.9" font-size="24.6" text-anchor="middle" font-weight="bold" fill="#000" dominant-baseline="central">First Harmonic</text><path d="M604.6,1885.3L802.6,1816.6M802.6,1816.6L952.5,1907.3M604.6,1835.8L802.6,1767.1M802.6,1767.1L952.5,1857.8M604.6,1786.3L802.6,1717.6M802.6,1717.6L952.5,1808.3M604.6,1736.8L802.6,1668.1M802.6,1668.1L952.5,1758.8M604.6,1687.3L802.6,1618.6M802.6,1618.6L952.5,1709.3M604.6,1885.3L604.6,1687.3M754.5,1976.0L604.6,1885.3M644.2,1871.6L644.2,1673.6M794.1,1962.3L644.2,1871.6M683.8,1857.8L683.8,1659.8M833.7,1948.5L683.8,1857.8M723.4,1844.1L723.4,1646.1M873.3,1934.8L723.4,1844.1M763.0,1830.3L763.0,1632.3M912.9,1921.0L763.0,1830.3M802.6,1816.6L802.6,1618.6M952.5,1907.3L802.6,1816.6M952.5,1907.3L952.5,1709.3M754.5,1976.0L952.5,1907.3M937.5,1898.2L937.5,1700.2M739.5,1966.9L937.5,1898.2M922.5,1889.2L922.5,1691.2M724.5,1957.9L922.5,1889.2M907.5,1880.1L907.5,1682.1M709.5,1948.8L907.5,1880.1M892.5,1871.0L892.5,1673.0M694.5,1939.7L892.5,1871.0M877.5,1861.9L877.5,1663.9M679.5,1930.7L877.5,1861.9M862.6,1852.9L862.6,1654.9M664.6,1921.6L862.6,1852.9M847.6,1843.8L847.6,1645.8M649.6,1912.5L847.6,1843.8M832.6,1834.7L832.6,1636.7M634.6,1903.4L832.6,1834.7M817.6,1825.7L817.6,1627.7M619.6,1894.4L817.6,1825.7M802.6,1816.6L802.6,1618.6M604.6,1885.3L802.6,1816.6" stroke="#eeeeee" stroke-width="1" fill="none"/><path d="M604.6,1884.2 L605.7,1883.8 L609.6,1882.3 L613.6,1880.8 L617.5,1879.3 L621.5,1877.8 L625.5,1876.2 L629.4,1874.6 L633.4,1872.9 L637.3,1871.1 L641.3,1869.2 L645.3,1867.0 L649.2,1864.5 L653.2,1861.7 L657.1,1858.7 L658.5,1857.7 L671.9,1816.4 L685.8,1781.9 L692.5,1775.1 L696.9,1777.6 L700.8,1755.9 L715.9,1732.8 L727.4,1713.0 L740.8,1692.5 L744.3,1833.5 L748.2,1832.3 L752.2,1831.0 L756.1,1829.8 L760.1,1828.5 L764.1,1827.3 L768.0,1826.0 L772.0,1824.7 L775.9,1823.4 L779.9,1822.1 L783.9,1820.8 L787.8,1819.5 L791.8,1818.2 L795.7,1816.9 L799.7,1815.6 L802.6,1814.6" fill="none" stroke="#d9444f" stroke-width="1.9" stroke-linejoin="round"/><path d="M619.6,1891.6 L620.5,1891.3 L624.4,1889.7 L628.4,1888.2 L632.4,1886.6 L636.3,1884.9 L640.3,1883.2 L644.2,1881.5 L648.2,1879.7 L652.2,1877.8 L656.1,1875.8 L660.1,1873.6 L664.0,1871.1 L668.0,1868.3 L672.0,1864.7 L675.9,1860.0 L679.9,1853.1 L683.8,1842.5 L687.8,1828.7 L691.8,1814.3 L695.7,1800.9 L699.7,1788.7 L703.6,1777.8 L707.6,1768.5 L711.6,1854.4 L715.5,1854.2 L719.5,1853.7 L723.4,1853.0 L727.4,1852.2 L731.4,1851.2 L735.3,1850.2 L739.3,1849.2 L743.2,1848.0 L747.2,1846.9 L751.2,1845.7 L755.1,1844.5 L759.1,1843.3 L763.0,1842.1 L767.0,1840.8 L771.0,1839.6 L774.9,1838.3 L778.9,1837.0 L782.8,1835.7 L786.8,1834.4 L790.8,1833.1 L794.7,1831.8 L798.7,1830.5 L802.6,1829.2 L806.6,1827.9 L810.6,1826.6 L814.5,1825.2 L817.6,1824.2" fill="none" stroke="#e8845e" stroke-width="1.9" stroke-linejoin="round"/><path d="M634.6,1900.9 L635.2,1900.7 L639.1,1899.1 L643.1,1897.6 L647.1,1896.0 L651.0,1894.4 L655.0,1892.7 L658.9,1891.1 L662.9,1889.3 L666.9,1887.4 L670.8,1885.5 L674.8,1883.4 L678.7,1881.0 L682.7,1878.3 L686.7,1875.0 L690.6,1870.6 L694.6,1864.3 L698.5,1854.7 L702.5,1841.9 L706.5,1828.4 L710.4,1815.7 L714.4,1804.3 L718.3,1793.9 L722.3,1785.2 L726.3,1864.1 L730.2,1863.9 L734.2,1863.3 L738.1,1862.6 L742.1,1861.7 L746.1,1860.7 L750.0,1859.7 L754.0,1858.6 L757.9,1857.5 L761.9,1856.3 L765.9,1855.1 L769.8,1853.9 L773.8,1852.7 L777.7,1851.4 L781.7,1850.2 L785.7,1848.9 L789.6,1847.6 L793.6,1846.4 L797.5,1845.1 L801.5,1843.8 L805.5,1842.5 L809.4,1841.1 L813.4,1839.8 L817.3,1838.5 L821.3,1837.2 L825.3,1835.9 L829.2,1834.5 L832.6,1833.4" fill="none" stroke="#f2b653" stroke-width="1.9" stroke-linejoin="round"/><path d="M649.6,1910.0 L650.0,1909.8 L654.0,1908.3 L658.0,1906.7 L661.9,1905.1 L665.9,1903.5 L669.8,1901.9 L673.8,1900.2 L677.8,1898.4 L681.7,1896.6 L685.7,1894.6 L689.6,1892.5 L693.6,1890.2 L697.6,1887.5 L701.5,1884.2 L705.5,1879.8 L709.4,1873.4 L713.4,1863.3 L717.4,1848.9 L721.3,1833.5 L725.3,1819.2 L729.2,1806.5 L733.2,1796.1 L737.2,1873.1 L741.1,1873.2 L745.1,1873.0 L749.0,1872.4 L753.0,1871.7 L757.0,1870.8 L760.9,1869.8 L764.9,1868.8 L768.8,1867.7 L772.8,1866.6 L776.8,1865.4 L780.7,1864.2 L784.7,1863.0 L788.6,1861.8 L792.6,1860.6 L796.6,1859.3 L800.5,1858.0 L804.5,1856.8 L808.4,1855.5 L812.4,1854.2 L816.4,1852.9 L820.3,1851.6 L824.3,1850.3 L828.2,1848.9 L832.2,1847.6 L836.2,1846.3 L840.1,1845.0 L844.1,1843.6 L847.6,1842.5" fill="none" stroke="#f0ec50" stroke-width="1.9" stroke-linejoin="round"/><path d="M664.6,1919.1 L665.4,1918.7 L669.4,1917.2 L673.4,1915.6 L677.3,1914.1 L681.3,1912.4 L685.2,1910.8 L689.2,1909.1 L693.2,1907.3 L697.1,1905.5 L701.1,1903.5 L705.0,1901.4 L709.0,1899.0 L713.0,1896.3 L716.9,1892.9 L720.9,1888.4 L724.8,1881.7 L728.8,1871.2 L732.8,1856.8 L736.7,1841.6 L740.7,1827.7 L744.6,1815.3 L748.6,1805.1 L752.6,1882.2 L756.5,1882.3 L760.5,1882.0 L764.4,1881.4 L768.4,1880.7 L772.4,1879.8 L776.3,1878.8 L780.3,1877.8 L784.2,1876.7 L788.2,1875.5 L792.2,1874.4 L796.1,1873.2 L800.1,1872.0 L804.0,1870.8 L808.0,1869.5 L812.0,1868.2 L815.9,1867.0 L819.9,1865.7 L823.8,1864.4 L827.8,1863.1 L831.8,1861.8 L835.7,1860.5 L839.7,1859.2 L843.6,1857.9 L847.6,1856.6 L851.6,1855.2 L855.5,1853.9 L859.5,1852.6 L862.6,1851.5" fill="none" stroke="#c8ec86" stroke-width="1.9" stroke-linejoin="round"/><path d="M679.5,1928.1 L680.2,1927.9 L684.2,1926.3 L688.2,1924.8 L692.1,1923.2 L696.1,1921.6 L700.0,1919.9 L704.0,1918.2 L708.0,1916.5 L711.9,1914.6 L715.9,1912.7 L719.8,1910.6 L723.8,1908.2 L727.8,1905.5 L731.7,1902.1 L735.7,1897.7 L739.6,1891.1 L743.6,1880.7 L747.6,1866.4 L751.5,1851.1 L755.5,1837.0 L759.4,1824.4 L763.4,1814.1 L767.4,1891.2 L771.3,1891.4 L775.3,1891.1 L779.2,1890.5 L783.2,1889.8 L787.2,1888.9 L791.1,1887.9 L795.1,1886.9 L799.0,1885.8 L803.0,1884.7 L807.0,1883.5 L810.9,1882.3 L814.9,1881.1 L818.8,1879.9 L822.8,1878.6 L826.8,1877.4 L830.7,1876.1 L834.7,1874.8 L838.6,1873.5 L842.6,1872.2 L846.6,1870.9 L850.5,1869.6 L854.5,1868.3 L858.4,1867.0 L862.4,1865.7 L866.4,1864.4 L870.3,1863.0 L874.3,1861.7 L877.5,1860.6" fill="none" stroke="#8ee6b0" stroke-width="1.9" stroke-linejoin="round"/><path d="M694.5,1937.4 L695.0,1937.2 L699.0,1935.6 L703.0,1934.1 L706.9,1932.5 L710.9,1930.9 L714.8,1929.3 L718.8,1927.6 L722.8,1925.9 L726.7,1924.1 L730.7,1922.2 L734.6,1920.1 L738.6,1917.8 L742.6,1915.2 L746.5,1912.0 L750.5,1907.8 L754.4,1901.7 L758.4,1892.1 L762.4,1878.6 L766.3,1864.1 L770.3,1850.6 L774.2,1838.6 L778.2,1828.8 L782.2,1900.8 L786.1,1900.9 L790.1,1900.6 L794.0,1900.0 L798.0,1899.2 L802.0,1898.3 L805.9,1897.3 L809.9,1896.2 L813.8,1895.1 L817.8,1894.0 L821.8,1892.8 L825.7,1891.6 L829.7,1890.4 L833.6,1889.2 L837.6,1887.9 L841.6,1886.6 L845.5,1885.4 L849.5,1884.1 L853.4,1882.8 L857.4,1881.5 L861.4,1880.2 L865.3,1878.9 L869.3,1877.6 L873.2,1876.2 L877.2,1874.9 L881.2,1873.6 L885.1,1872.3 L889.1,1870.9 L892.5,1869.8" fill="none" stroke="#5ee0e0" stroke-width="1.9" stroke-linejoin="round"/><path d="M709.5,1946.7 L710.5,1946.3 L714.5,1944.8 L718.4,1943.3 L722.4,1941.7 L726.3,1940.2 L730.3,1938.6 L734.3,1936.9 L738.2,1935.2 L742.2,1933.4 L746.1,1931.6 L750.1,1929.6 L754.1,1927.3 L758.0,1924.8 L762.0,1921.7 L765.9,1917.7 L769.9,1911.6 L773.9,1901.7 L777.8,1887.4 L781.8,1872.4 L785.7,1858.9 L789.7,1848.1 L793.7,1910.4 L797.6,1910.9 L801.6,1910.7 L805.5,1910.2 L809.5,1909.5 L813.5,1908.7 L817.4,1907.7 L821.4,1906.7 L825.3,1905.6 L829.3,1904.4 L833.3,1903.3 L837.2,1902.1 L841.2,1900.8 L845.1,1899.6 L849.1,1898.3 L853.1,1897.1 L857.0,1895.8 L861.0,1894.5 L864.9,1893.2 L868.9,1891.9 L872.9,1890.6 L876.8,1889.3 L880.8,1888.0 L884.7,1886.6 L888.7,1885.3 L892.7,1884.0 L896.6,1882.7 L900.6,1881.3 L904.5,1880.0 L907.5,1879.0" fill="none" stroke="#45b0e8" stroke-width="1.9" stroke-linejoin="round"/><path d="M724.5,1956.1 L725.4,1955.7 L729.3,1954.3 L733.3,1952.8 L737.2,1951.2 L741.2,1949.7 L745.2,1948.1 L749.1,1946.5 L753.1,1944.9 L757.0,1943.2 L761.0,1941.4 L765.0,1939.4 L768.9,1937.4 L772.9,1935.0 L776.8,1932.2 L780.8,1928.5 L784.8,1923.0 L788.7,1913.4 L792.7,1898.4 L796.6,1882.0 L800.6,1869.2 L804.6,1919.4 L808.5,1920.8 L812.5,1921.0 L816.4,1920.7 L820.4,1920.1 L824.4,1919.3 L828.3,1918.4 L832.3,1917.3 L836.2,1916.3 L840.2,1915.1 L844.2,1913.9 L848.1,1912.7 L852.1,1911.5 L856.0,1910.3 L860.0,1909.0 L864.0,1907.7 L867.9,1906.5 L871.9,1905.2 L875.8,1903.9 L879.8,1902.6 L883.8,1901.3 L887.7,1899.9 L891.7,1898.6 L895.6,1897.3 L899.6,1896.0 L903.6,1894.6 L907.5,1893.3 L911.5,1892.0 L915.4,1890.6 L919.4,1889.3 L922.5,1888.2" fill="none" stroke="#3f78d6" stroke-width="1.9" stroke-linejoin="round"/><path d="M739.5,1965.4 L740.9,1964.9 L744.9,1963.5 L748.8,1962.0 L752.8,1960.5 L756.8,1959.0 L760.7,1957.4 L764.7,1955.9 L768.6,1954.2 L772.6,1952.6 L776.6,1950.8 L780.5,1949.0 L784.5,1947.0 L788.4,1944.8 L792.4,1942.1 L796.4,1938.6 L800.3,1933.3 L804.3,1923.4 L808.2,1906.2 L812.2,1890.4 L816.2,1928.0 L820.1,1930.6 L824.1,1931.3 L828.0,1931.2 L832.0,1930.6 L836.0,1929.8 L839.9,1928.9 L843.9,1927.9 L847.8,1926.8 L851.8,1925.7 L855.8,1924.5 L859.7,1923.3 L863.7,1922.0 L867.6,1920.8 L871.6,1919.5 L875.6,1918.2 L879.5,1916.9 L883.5,1915.6 L887.4,1914.3 L891.4,1913.0 L895.4,1911.7 L899.3,1910.4 L903.3,1909.0 L907.2,1907.7 L911.2,1906.4 L915.2,1905.0 L919.1,1903.7 L923.1,1902.4 L927.0,1901.0 L931.0,1899.7 L935.0,1898.3 L937.5,1897.4" fill="none" stroke="#3b3fc0" stroke-width="1.9" stroke-linejoin="round"/><path d="M754.5,1974.6 L755.6,1974.2 L759.6,1972.7 L763.5,1971.2 L767.5,1969.7 L771.5,1968.2 L775.4,1966.7 L779.4,1965.1 L783.3,1963.5 L787.3,1961.9 L791.3,1960.2 L795.2,1958.3 L799.2,1956.4 L803.1,1954.2 L807.1,1951.6 L811.1,1948.3 L815.0,1943.3 L819.0,1934.0 L822.9,1917.2 L826.9,1901.3 L830.9,1937.1 L834.8,1939.9 L838.8,1940.6 L842.7,1940.4 L846.7,1939.9 L850.7,1939.1 L854.6,1938.2 L858.6,1937.1 L862.5,1936.0 L866.5,1934.9 L870.5,1933.7 L874.4,1932.5 L878.4,1931.2 L882.3,1930.0 L886.3,1928.7 L890.3,1927.4 L894.2,1926.1 L898.2,1924.8 L902.1,1923.5 L906.1,1922.2 L910.1,1920.9 L914.0,1919.6 L918.0,1918.2 L921.9,1916.9 L925.9,1915.6 L929.9,1914.2 L933.8,1912.9 L937.8,1911.6 L941.7,1910.2 L945.7,1908.9 L949.7,1907.5 L952.5,1906.5" fill="none" stroke="#2b2a8c" stroke-width="1.9" stroke-linejoin="round"/><path d="M604.6,1885.3L604.6,1687.3M754.5,1976.0L604.6,1885.3M754.5,1976.0L952.5,1907.3M604.6,1885.3L608.6,1883.9M604.6,1835.8L608.6,1834.4M604.6,1786.3L608.6,1784.9M604.6,1736.8L608.6,1735.4M604.6,1687.3L608.6,1685.9M754.5,1976.0L749.7,1977.6M739.5,1966.9L734.8,1968.6M724.5,1957.9L719.8,1959.5M709.5,1948.8L704.8,1950.4M694.5,1939.7L689.8,1941.4M679.5,1930.7L674.8,1932.3M664.6,1921.6L659.8,1923.2M649.6,1912.5L644.8,1914.2M634.6,1903.4L629.8,1905.1M619.6,1894.4L614.8,1896.0M604.6,1885.3L599.8,1886.9M754.5,1976.0L758.2,1978.3M794.1,1962.3L797.8,1964.5M833.7,1948.5L837.4,1950.8M873.3,1934.8L877.0,1937.0M912.9,1921.0L916.6,1923.3M952.5,1907.3L956.2,1909.6" stroke="#8a8a8a" stroke-width="1.2" fill="none"/><text x="595.8" y="1883.1" font-size="18" text-anchor="end" dominant-baseline="central">0</text><text x="595.8" y="1833.6" font-size="18" text-anchor="end" dominant-baseline="central">1</text><text x="595.8" y="1784.1" font-size="18" text-anchor="end" dominant-baseline="central">2</text><text x="595.8" y="1734.6" font-size="18" text-anchor="end" dominant-baseline="central">3</text><text x="595.8" y="1685.1" font-size="18" text-anchor="end" dominant-baseline="central">4</text><text x="579.3" y="1900.9" font-size="18" text-anchor="middle" dominant-baseline="central">600</text><text x="654.2" y="1946.2" font-size="18" text-anchor="middle" dominant-baseline="central">400</text><text x="729.2" y="1991.6" font-size="18" text-anchor="middle" dominant-baseline="central">200</text><text x="778.9" y="1993.1" font-size="18" text-anchor="middle" dominant-baseline="central">928</text><text x="858.1" y="1965.6" font-size="18" text-anchor="middle" dominant-baseline="central">930</text><text x="937.3" y="1938.1" font-size="18" text-anchor="middle" dominant-baseline="central">932</text><text x="897.5" y="1999.4" font-size="20.5" text-anchor="middle" dominant-baseline="central">Ω [kHz]</text><text x="570.3" y="1786.3" font-size="20.5" text-anchor="middle" transform="rotate(-90 570.3 1786.3)" dominant-baseline="central">Amplitude [mV]</text><text x="637.6" y="1973.3" font-size="20.6" text-anchor="middle" transform="rotate(31.5 637.6 1973.3)" dominant-baseline="central">Driving Voltage (mV)</text><text x="777.9" y="1597.9" font-size="24.6" text-anchor="middle" font-weight="bold" fill="#000" dominant-baseline="central">First Harmonic</text><path d="M1116.0,1885.3L1314.0,1815.2M1314.0,1815.2L1463.9,1907.3M1116.0,1835.8L1314.0,1765.7M1314.0,1765.7L1463.9,1857.8M1116.0,1786.3L1314.0,1716.2M1314.0,1716.2L1463.9,1808.3M1116.0,1736.8L1314.0,1666.7M1314.0,1666.7L1463.9,1758.8M1116.0,1687.3L1314.0,1617.2M1314.0,1617.2L1463.9,1709.3M1116.0,1885.3L1116.0,1687.3M1265.9,1977.4L1116.0,1885.3M1155.6,1871.3L1155.6,1673.3M1305.5,1963.4L1155.6,1871.3M1195.2,1857.3L1195.2,1659.3M1345.1,1949.4L1195.2,1857.3M1234.8,1843.2L1234.8,1645.2M1384.7,1935.3L1234.8,1843.2M1274.4,1829.2L1274.4,1631.2M1424.3,1921.3L1274.4,1829.2M1314.0,1815.2L1314.0,1617.2M1463.9,1907.3L1314.0,1815.2M1463.9,1907.3L1463.9,1709.3M1265.9,1977.4L1463.9,1907.3M1448.9,1898.1L1448.9,1700.1M1250.9,1968.2L1448.9,1898.1M1433.9,1888.9L1433.9,1690.9M1235.9,1959.0L1433.9,1888.9M1418.9,1879.7L1418.9,1681.7M1220.9,1949.8L1418.9,1879.7M1403.9,1870.5L1403.9,1672.5M1205.9,1940.6L1403.9,1870.5M1389.0,1861.2L1389.0,1663.2M1191.0,1931.3L1389.0,1861.2M1374.0,1852.0L1374.0,1654.0M1176.0,1922.1L1374.0,1852.0M1359.0,1842.8L1359.0,1644.8M1161.0,1912.9L1359.0,1842.8M1344.0,1833.6L1344.0,1635.6M1146.0,1903.7L1344.0,1833.6M1329.0,1824.4L1329.0,1626.4M1131.0,1894.5L1329.0,1824.4M1314.0,1815.2L1314.0,1617.2M1116.0,1885.3L1314.0,1815.2" stroke="#eeeeee" stroke-width="1" fill="none"/><path d="M1116.0,1884.1 L1116.9,1883.8 L1120.9,1882.3 L1124.8,1880.7 L1128.8,1879.2 L1132.8,1877.6 L1136.7,1876.0 L1140.7,1874.3 L1144.6,1872.5 L1148.6,1870.6 L1152.6,1868.5 L1156.5,1865.9 L1160.0,1863.3 L1171.0,1851.0 L1182.1,1821.8 L1190.4,1789.1 L1195.6,1761.6 L1200.0,1745.2 L1203.9,1746.3 L1208.3,1737.8 L1212.0,1846.2 L1215.9,1845.2 L1219.9,1844.2 L1223.8,1843.1 L1227.8,1841.9 L1231.8,1840.8 L1235.7,1839.6 L1239.7,1838.4 L1243.6,1837.1 L1247.6,1835.9 L1251.6,1834.6 L1255.5,1833.3 L1259.5,1832.0 L1263.4,1830.7 L1267.4,1829.4 L1271.4,1828.1 L1275.3,1826.8 L1279.3,1825.5 L1283.2,1824.1 L1287.2,1822.8 L1291.2,1821.4 L1295.1,1820.1 L1299.1,1818.8 L1303.0,1817.4 L1307.0,1816.0 L1311.0,1814.7 L1314.0,1813.6" fill="none" stroke="#d9444f" stroke-width="1.9" stroke-linejoin="round"/><path d="M1131.0,1890.9 L1131.8,1890.5 L1135.8,1888.8 L1139.8,1887.1 L1143.7,1885.4 L1147.7,1883.6 L1151.6,1881.7 L1155.6,1879.6 L1159.6,1877.5 L1163.5,1875.1 L1167.5,1872.5 L1171.4,1869.3 L1175.4,1865.4 L1179.4,1860.1 L1183.3,1852.4 L1187.3,1841.0 L1191.2,1826.5 L1195.2,1811.5 L1199.2,1797.5 L1203.1,1784.7 L1207.1,1773.0 L1211.0,1762.3 L1215.0,1753.1 L1219.0,1855.3 L1222.9,1854.9 L1226.9,1854.3 L1230.8,1853.5 L1234.8,1852.7 L1238.8,1851.7 L1242.7,1850.6 L1246.7,1849.5 L1250.6,1848.4 L1254.6,1847.2 L1258.6,1846.1 L1262.5,1844.8 L1266.5,1843.6 L1270.4,1842.3 L1274.4,1841.1 L1278.4,1839.8 L1282.3,1838.5 L1286.3,1837.2 L1290.2,1835.9 L1294.2,1834.6 L1298.2,1833.3 L1302.1,1831.9 L1306.1,1830.6 L1310.0,1829.3 L1314.0,1827.9 L1318.0,1826.6 L1321.9,1825.2 L1325.9,1823.9 L1329.0,1822.8" fill="none" stroke="#e8845e" stroke-width="1.9" stroke-linejoin="round"/><path d="M1146.0,1900.3 L1146.9,1899.9 L1150.9,1898.2 L1154.9,1896.5 L1158.8,1894.8 L1162.8,1893.0 L1166.7,1891.1 L1170.7,1889.2 L1174.7,1887.0 L1178.6,1884.7 L1182.6,1882.1 L1186.5,1879.1 L1190.5,1875.3 L1194.5,1870.2 L1198.4,1862.7 L1202.4,1851.9 L1206.3,1838.1 L1210.3,1824.0 L1214.3,1810.8 L1218.2,1798.7 L1222.2,1787.7 L1226.1,1777.5 L1230.1,1768.8 L1234.1,1865.0 L1238.0,1864.5 L1242.0,1863.9 L1245.9,1863.1 L1249.9,1862.1 L1253.9,1861.1 L1257.8,1860.1 L1261.8,1859.0 L1265.7,1857.8 L1269.7,1856.6 L1273.7,1855.4 L1277.6,1854.2 L1281.6,1852.9 L1285.5,1851.7 L1289.5,1850.4 L1293.5,1849.1 L1297.4,1847.8 L1301.4,1846.5 L1305.3,1845.2 L1309.3,1843.9 L1313.3,1842.5 L1317.2,1841.2 L1321.2,1839.9 L1325.1,1838.5 L1329.1,1837.2 L1333.1,1835.8 L1337.0,1834.5 L1341.0,1833.1 L1344.0,1832.1" fill="none" stroke="#f2b653" stroke-width="1.9" stroke-linejoin="round"/><path d="M1161.0,1909.2 L1161.7,1908.9 L1165.7,1907.2 L1169.7,1905.5 L1173.6,1903.7 L1177.6,1901.9 L1181.5,1900.0 L1185.5,1898.0 L1189.5,1895.8 L1193.4,1893.4 L1197.4,1890.7 L1201.3,1887.5 L1205.3,1883.6 L1209.3,1878.2 L1213.2,1870.4 L1217.2,1858.9 L1221.1,1844.1 L1225.1,1828.7 L1229.1,1814.3 L1233.0,1801.2 L1237.0,1789.2 L1240.9,1778.2 L1244.9,1768.8 L1248.9,1873.5 L1252.8,1873.2 L1256.8,1872.6 L1260.7,1871.8 L1264.7,1871.0 L1268.7,1870.0 L1272.6,1869.0 L1276.6,1867.9 L1280.5,1866.8 L1284.5,1865.6 L1288.5,1864.4 L1292.4,1863.2 L1296.4,1862.0 L1300.3,1860.7 L1304.3,1859.5 L1308.3,1858.2 L1312.2,1856.9 L1316.2,1855.6 L1320.1,1854.3 L1324.1,1853.0 L1328.1,1851.6 L1332.0,1850.3 L1336.0,1849.0 L1339.9,1847.7 L1343.9,1846.3 L1347.9,1845.0 L1351.8,1843.6 L1355.8,1842.3 L1359.0,1841.2" fill="none" stroke="#f0ec50" stroke-width="1.9" stroke-linejoin="round"/><path d="M1176.0,1918.9 L1177.3,1918.4 L1181.3,1916.7 L1185.2,1915.0 L1189.2,1913.3 L1193.1,1911.5 L1197.1,1909.7 L1201.1,1907.7 L1205.0,1905.7 L1209.0,1903.4 L1212.9,1900.8 L1216.9,1897.8 L1220.9,1894.0 L1224.8,1888.9 L1228.8,1881.4 L1232.7,1870.0 L1236.7,1855.7 L1240.7,1841.1 L1244.6,1827.6 L1248.6,1815.4 L1252.5,1804.3 L1256.5,1794.9 L1260.5,1884.1 L1264.4,1883.8 L1268.4,1883.3 L1272.3,1882.6 L1276.3,1881.7 L1280.3,1880.8 L1284.2,1879.7 L1288.2,1878.6 L1292.1,1877.5 L1296.1,1876.3 L1300.1,1875.1 L1304.0,1873.9 L1308.0,1872.7 L1311.9,1871.4 L1315.9,1870.1 L1319.9,1868.9 L1323.8,1867.6 L1327.8,1866.3 L1331.7,1864.9 L1335.7,1863.6 L1339.7,1862.3 L1343.6,1861.0 L1347.6,1859.6 L1351.5,1858.3 L1355.5,1856.9 L1359.5,1855.6 L1363.4,1854.2 L1367.4,1852.9 L1371.3,1851.5 L1374.0,1850.6" fill="none" stroke="#c8ec86" stroke-width="1.9" stroke-linejoin="round"/><path d="M1191.0,1928.3 L1191.4,1928.2 L1195.4,1926.5 L1199.3,1924.9 L1203.3,1923.2 L1207.2,1921.5 L1211.2,1919.7 L1215.2,1917.8 L1219.1,1915.8 L1223.1,1913.6 L1227.0,1911.2 L1231.0,1908.4 L1235.0,1904.9 L1238.9,1900.4 L1242.9,1893.9 L1246.8,1883.9 L1250.8,1870.6 L1254.8,1856.4 L1258.7,1843.2 L1262.7,1831.2 L1266.6,1820.3 L1270.6,1811.2 L1274.6,1893.9 L1278.5,1893.6 L1282.5,1893.1 L1286.4,1892.3 L1290.4,1891.5 L1294.4,1890.5 L1298.3,1889.5 L1302.3,1888.4 L1306.2,1887.2 L1310.2,1886.0 L1314.2,1884.8 L1318.1,1883.6 L1322.1,1882.3 L1326.0,1881.1 L1330.0,1879.8 L1334.0,1878.5 L1337.9,1877.2 L1341.9,1875.9 L1345.8,1874.6 L1349.8,1873.3 L1353.8,1871.9 L1357.7,1870.6 L1361.7,1869.3 L1365.6,1867.9 L1369.6,1866.6 L1373.6,1865.2 L1377.5,1863.9 L1381.5,1862.5 L1385.4,1861.1 L1389.0,1859.9" fill="none" stroke="#8ee6b0" stroke-width="1.9" stroke-linejoin="round"/><path d="M1205.9,1937.4 L1206.8,1937.0 L1210.7,1935.4 L1214.7,1933.7 L1218.6,1932.0 L1222.6,1930.3 L1226.6,1928.4 L1230.5,1926.5 L1234.5,1924.4 L1238.4,1922.2 L1242.4,1919.7 L1246.4,1916.7 L1250.3,1913.1 L1254.3,1908.2 L1258.2,1900.8 L1262.2,1889.2 L1266.2,1873.2 L1270.1,1856.5 L1274.1,1841.1 L1278.0,1827.4 L1282.0,1816.1 L1286.0,1902.3 L1289.9,1902.6 L1293.9,1902.4 L1297.8,1901.9 L1301.8,1901.2 L1305.8,1900.3 L1309.7,1899.4 L1313.7,1898.3 L1317.6,1897.2 L1321.6,1896.1 L1325.6,1894.9 L1329.5,1893.7 L1333.5,1892.5 L1337.4,1891.3 L1341.4,1890.0 L1345.4,1888.8 L1349.3,1887.5 L1353.3,1886.2 L1357.2,1884.9 L1361.2,1883.6 L1365.2,1882.2 L1369.1,1880.9 L1373.1,1879.6 L1377.0,1878.2 L1381.0,1876.9 L1385.0,1875.6 L1388.9,1874.2 L1392.9,1872.8 L1396.8,1871.5 L1400.8,1870.1 L1403.9,1869.1" fill="none" stroke="#5ee0e0" stroke-width="1.9" stroke-linejoin="round"/><path d="M1220.9,1947.0 L1222.1,1946.5 L1226.1,1944.9 L1230.0,1943.3 L1234.0,1941.6 L1238.0,1939.9 L1241.9,1938.1 L1245.9,1936.2 L1249.8,1934.2 L1253.8,1932.0 L1257.8,1929.6 L1261.7,1926.8 L1265.7,1923.4 L1269.6,1918.7 L1273.6,1911.6 L1277.6,1899.8 L1281.5,1883.4 L1285.5,1866.4 L1289.4,1851.1 L1293.4,1838.9 L1297.4,1912.1 L1301.3,1912.8 L1305.3,1912.9 L1309.2,1912.5 L1313.2,1911.8 L1317.2,1911.0 L1321.1,1910.1 L1325.1,1909.0 L1329.0,1908.0 L1333.0,1906.8 L1337.0,1905.7 L1340.9,1904.5 L1344.9,1903.2 L1348.8,1902.0 L1352.8,1900.7 L1356.8,1899.4 L1360.7,1898.2 L1364.7,1896.9 L1368.6,1895.5 L1372.6,1894.2 L1376.6,1892.9 L1380.5,1891.6 L1384.5,1890.2 L1388.4,1888.9 L1392.4,1887.5 L1396.4,1886.2 L1400.3,1884.8 L1404.3,1883.5 L1408.2,1882.1 L1412.2,1880.8 L1416.2,1879.4 L1418.9,1878.4" fill="none" stroke="#45b0e8" stroke-width="1.9" stroke-linejoin="round"/><path d="M1235.9,1956.9 L1237.0,1956.5 L1240.9,1955.0 L1244.9,1953.4 L1248.9,1951.8 L1252.8,1950.1 L1256.8,1948.5 L1260.7,1946.7 L1264.7,1944.9 L1268.7,1942.9 L1272.6,1940.8 L1276.6,1938.4 L1280.5,1935.4 L1284.5,1931.6 L1288.5,1925.9 L1292.4,1915.9 L1296.4,1900.7 L1300.3,1884.6 L1304.3,1872.0 L1308.3,1922.9 L1312.2,1924.1 L1316.2,1924.3 L1320.1,1923.9 L1324.1,1923.3 L1328.1,1922.4 L1332.0,1921.5 L1336.0,1920.4 L1339.9,1919.3 L1343.9,1918.1 L1347.9,1916.9 L1351.8,1915.7 L1355.8,1914.5 L1359.7,1913.2 L1363.7,1911.9 L1367.7,1910.6 L1371.6,1909.3 L1375.6,1908.0 L1379.5,1906.6 L1383.5,1905.3 L1387.5,1904.0 L1391.4,1902.6 L1395.4,1901.3 L1399.3,1899.9 L1403.3,1898.6 L1407.3,1897.2 L1411.2,1895.8 L1415.2,1894.5 L1419.1,1893.1 L1423.1,1891.7 L1427.1,1890.4 L1431.0,1889.0 L1433.9,1888.0" fill="none" stroke="#3f78d6" stroke-width="1.9" stroke-linejoin="round"/><path d="M1250.9,1966.4 L1252.3,1965.9 L1256.3,1964.3 L1260.3,1962.8 L1264.2,1961.2 L1268.2,1959.6 L1272.1,1958.0 L1276.1,1956.3 L1280.1,1954.5 L1284.0,1952.6 L1288.0,1950.5 L1291.9,1948.2 L1295.9,1945.5 L1299.9,1941.8 L1303.8,1936.2 L1307.8,1925.7 L1311.7,1907.8 L1315.7,1891.5 L1319.7,1931.0 L1323.6,1933.8 L1327.6,1934.5 L1331.5,1934.4 L1335.5,1933.8 L1339.5,1933.1 L1343.4,1932.1 L1347.4,1931.1 L1351.3,1930.0 L1355.3,1928.8 L1359.3,1927.6 L1363.2,1926.4 L1367.2,1925.1 L1371.1,1923.8 L1375.1,1922.6 L1379.1,1921.2 L1383.0,1919.9 L1387.0,1918.6 L1390.9,1917.3 L1394.9,1915.9 L1398.9,1914.6 L1402.8,1913.2 L1406.8,1911.9 L1410.7,1910.5 L1414.7,1909.2 L1418.7,1907.8 L1422.6,1906.4 L1426.6,1905.1 L1430.5,1903.7 L1434.5,1902.3 L1438.5,1901.0 L1442.4,1899.6 L1446.4,1898.2 L1448.9,1897.3" fill="none" stroke="#3b3fc0" stroke-width="1.9" stroke-linejoin="round"/><path d="M1265.9,1975.9 L1266.9,1975.5 L1270.9,1974.0 L1274.9,1972.4 L1278.8,1970.9 L1282.8,1969.3 L1286.7,1967.7 L1290.7,1966.1 L1294.7,1964.3 L1298.6,1962.5 L1302.6,1960.6 L1306.5,1958.4 L1310.5,1955.9 L1314.5,1952.7 L1318.4,1947.9 L1322.4,1939.0 L1326.3,1923.3 L1330.3,1908.3 L1334.3,1941.6 L1338.2,1944.1 L1342.2,1944.6 L1346.1,1944.4 L1350.1,1943.7 L1354.1,1942.9 L1358.0,1941.9 L1362.0,1940.8 L1365.9,1939.7 L1369.9,1938.5 L1373.9,1937.3 L1377.8,1936.0 L1381.8,1934.7 L1385.7,1933.4 L1389.7,1932.1 L1393.7,1930.8 L1397.6,1929.5 L1401.6,1928.1 L1405.5,1926.8 L1409.5,1925.5 L1413.5,1924.1 L1417.4,1922.7 L1421.4,1921.4 L1425.3,1920.0 L1429.3,1918.7 L1433.3,1917.3 L1437.2,1915.9 L1441.2,1914.5 L1445.1,1913.2 L1449.1,1911.8 L1453.1,1910.4 L1457.0,1909.0 L1461.0,1907.7 L1463.9,1906.6" fill="none" stroke="#2b2a8c" stroke-width="1.9" stroke-linejoin="round"/><path d="M1116.0,1885.3L1116.0,1687.3M1265.9,1977.4L1116.0,1885.3M1265.9,1977.4L1463.9,1907.3M1116.0,1885.3L1120.0,1883.9M1116.0,1835.8L1120.0,1834.4M1116.0,1786.3L1120.0,1784.9M1116.0,1736.8L1120.0,1735.4M1116.0,1687.3L1120.0,1685.9M1265.9,1977.4L1261.1,1979.1M1250.9,1968.2L1246.2,1969.9M1235.9,1959.0L1231.2,1960.7M1220.9,1949.8L1216.2,1951.5M1205.9,1940.6L1201.2,1942.2M1191.0,1931.3L1186.2,1933.0M1176.0,1922.1L1171.2,1923.8M1161.0,1912.9L1156.2,1914.6M1146.0,1903.7L1141.2,1905.4M1131.0,1894.5L1126.2,1896.2M1116.0,1885.3L1111.2,1887.0M1265.9,1977.4L1269.6,1979.7M1305.5,1963.4L1309.2,1965.7M1345.1,1949.4L1348.8,1951.7M1384.7,1935.3L1388.4,1937.6M1424.3,1921.3L1428.0,1923.6M1463.9,1907.3L1467.6,1909.6" stroke="#8a8a8a" stroke-width="1.2" fill="none"/><text x="1107.2" y="1883.1" font-size="18" text-anchor="end" dominant-baseline="central">0</text><text x="1107.2" y="1833.6" font-size="18" text-anchor="end" dominant-baseline="central">1</text><text x="1107.2" y="1784.1" font-size="18" text-anchor="end" dominant-baseline="central">2</text><text x="1107.2" y="1734.6" font-size="18" text-anchor="end" dominant-baseline="central">3</text><text x="1107.2" y="1685.1" font-size="18" text-anchor="end" dominant-baseline="central">4</text><text x="1090.7" y="1900.9" font-size="18" text-anchor="middle" dominant-baseline="central">600</text><text x="1165.7" y="1946.9" font-size="18" text-anchor="middle" dominant-baseline="central">400</text><text x="1240.6" y="1993.0" font-size="18" text-anchor="middle" dominant-baseline="central">200</text><text x="1290.3" y="1994.2" font-size="18" text-anchor="middle" dominant-baseline="central">928</text><text x="1369.5" y="1966.1" font-size="18" text-anchor="middle" dominant-baseline="central">930</text><text x="1448.7" y="1938.1" font-size="18" text-anchor="middle" dominant-baseline="central">932</text><text x="1408.9" y="1999.4" font-size="20.5" text-anchor="middle" dominant-baseline="central">Ω [kHz]</text><text x="1081.6" y="1786.3" font-size="20.5" text-anchor="middle" transform="rotate(-90 1081.6 1786.3)" dominant-baseline="central">Amplitude [mV]</text><text x="1149.0" y="1973.3" font-size="20.6" text-anchor="middle" transform="rotate(31.5 1149.0 1973.3)" dominant-baseline="central">Driving Voltage (mV)</text><text x="1289.3" y="1597.9" font-size="24.6" text-anchor="middle" font-weight="bold" fill="#000" dominant-baseline="central">First Harmonic</text></svg></body></html>
